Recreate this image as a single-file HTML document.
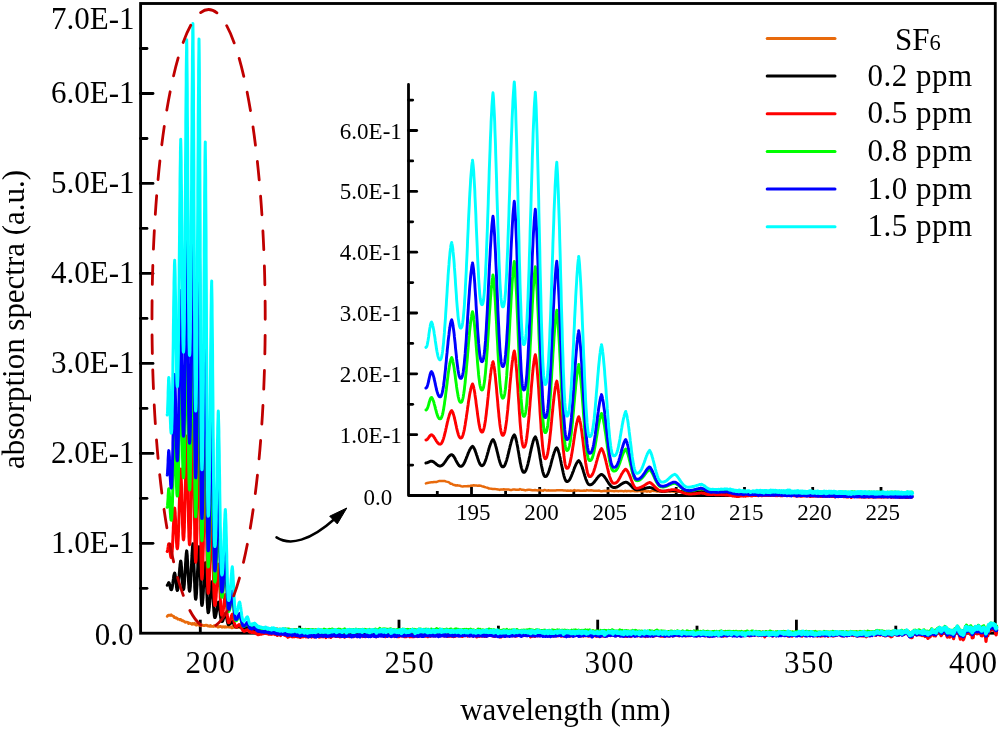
<!DOCTYPE html>
<html lang="en">
<head>
<meta charset="utf-8">
<title>absorption spectra</title>
<style>
html,body{margin:0;padding:0;background:#fff;}
body{width:999px;height:729px;overflow:hidden;}
svg{display:block;}
</style>
</head>
<body>
<svg width="999" height="729" viewBox="0 0 999 729" font-family="'Liberation Serif', serif" fill="#000">
<rect x="0" y="0" width="999" height="729" fill="#fff"/>
<defs><clipPath id="cm"><rect x="140.6" y="3.5" width="858.4" height="729"/></clipPath><clipPath id="ci"><rect x="408.5" y="74.4" width="504.5" height="431.1"/></clipPath></defs>
<g stroke="#000" stroke-width="2.85" fill="none" stroke-linecap="butt">
<rect x="140.6" y="3.5" width="854.7" height="629.7"/>
<path d="M140.6 588.3h6.4" stroke-linecap="round"/>
<path d="M140.6 543.3h12.4" stroke-linecap="round"/>
<path d="M140.6 498.3h6.4" stroke-linecap="round"/>
<path d="M140.6 453.4h12.4" stroke-linecap="round"/>
<path d="M140.6 408.4h6.4" stroke-linecap="round"/>
<path d="M140.6 363.4h12.4" stroke-linecap="round"/>
<path d="M140.6 318.4h6.4" stroke-linecap="round"/>
<path d="M140.6 273.4h12.4" stroke-linecap="round"/>
<path d="M140.6 228.4h6.4" stroke-linecap="round"/>
<path d="M140.6 183.4h12.4" stroke-linecap="round"/>
<path d="M140.6 138.5h6.4" stroke-linecap="round"/>
<path d="M140.6 93.5h12.4" stroke-linecap="round"/>
<path d="M140.6 48.5h6.4" stroke-linecap="round"/>
<path d="M200.3 633.2v-13.5"/>
<path d="M299.7 633.2v-7.5"/>
<path d="M399.0 633.2v-13.5"/>
<path d="M498.4 633.2v-7.5"/>
<path d="M597.7 633.2v-13.5"/>
<path d="M697.0 633.2v-7.5"/>
<path d="M796.4 633.2v-13.5"/>
<path d="M895.8 633.2v-7.5"/>
</g>
<g fill="none" stroke-linejoin="round" stroke-linecap="round" stroke-width="3.0" clip-path="url(#cm)">
<path stroke="#e86a0c" stroke-width="2.7" d="M167.2 616.4L167.6 615.9L168.0 615.4L168.3 615.2L168.7 615.1L169.1 615.3L169.5 615.1L169.9 615.2L170.3 615.5L170.7 615.2L171.1 614.8L171.5 615.2L171.9 615.5L172.3 615.9L172.7 615.8L173.1 616.2L173.5 616.2L173.9 616.4L174.3 617.5L174.7 617.1L175.1 617.8L175.5 617.9L175.9 618.2L176.3 617.7L176.7 618.1L177.1 618.3L177.5 618.9L177.9 619.3L178.3 619.2L178.7 619.2L179.1 619.4L179.5 619.4L179.9 619.9L180.3 619.3L180.7 619.9L181.1 619.6L181.5 620.3L181.9 620.6L182.3 620.9L182.7 620.6L183.1 620.6L183.5 621.1L183.8 621.1L184.2 621.5L184.6 621.7L185.0 621.8L185.4 622.4L185.8 622.3L186.2 622.1L186.6 622.2L187.0 622.0L187.4 622.3L187.8 622.5L188.2 622.7L188.6 623.6L189.0 623.0L189.4 623.4L189.8 623.1L190.2 623.4L190.6 623.5L191.0 623.7L191.4 623.7L191.8 624.3L192.2 624.3L192.6 623.5L193.0 623.8L193.4 624.2L193.8 624.2L194.2 624.3L194.6 623.2L195.0 624.2L195.4 624.4L195.8 624.7L196.2 625.2L196.6 624.5L197.0 624.2L197.4 624.4L197.8 624.6L198.2 625.0L198.6 625.2L198.9 624.8L199.3 625.1L199.7 625.3L200.1 624.5L200.5 625.4L200.9 625.3L201.3 625.9L201.7 624.7L202.1 625.3L202.5 625.3L202.9 625.2L203.3 625.6L203.7 625.6L204.1 625.4L204.5 625.7L204.9 625.4L205.3 625.2L205.7 625.4L206.1 625.2L206.5 625.4L206.9 625.2L207.3 625.7L207.7 625.7L208.1 626.2L208.5 625.9L208.9 626.2L209.3 626.0L209.7 626.3L210.1 626.0L210.5 625.3L210.9 626.4L211.3 626.0L211.7 626.0L212.1 626.5L212.5 626.4L212.9 626.5L213.3 626.2L213.7 626.6L214.1 625.6L214.4 626.1L214.8 626.1L215.2 625.8L215.6 626.0L216.0 626.5L216.4 626.4L216.8 626.5L217.2 626.4L217.6 626.2L218.0 627.2L218.4 627.1L218.8 626.7L219.2 626.5L219.6 626.8L220.0 626.7L220.4 626.3L220.8 626.5L221.2 626.7L221.6 626.8L222.0 627.2L222.4 626.6L222.8 626.8L223.2 627.1L223.6 626.7L224.0 627.0L224.4 627.0L224.8 627.4L225.2 626.6L225.6 627.1L226.0 626.8L226.4 626.8L226.8 627.1L227.2 627.0L227.6 627.0L228.0 627.0L228.4 626.9L228.8 627.2L229.2 626.8L229.5 627.0L229.9 627.4L230.3 626.9L230.7 627.2L231.1 626.9L231.5 627.8L231.9 627.0L232.3 627.8L232.7 627.3L233.1 626.1L233.5 626.9L233.9 626.8L234.3 627.4L234.7 627.5L235.1 627.2L235.5 627.1L235.9 627.2L236.3 627.4L236.7 627.5L237.1 627.4L237.5 626.7L237.9 627.3L238.3 627.4L238.7 627.4L239.1 627.6L239.5 627.7L239.9 627.3L240.3 626.9L240.7 627.2L241.1 627.8L241.5 626.9L241.9 627.3L242.3 626.8L242.7 627.5L243.1 627.9L243.5 627.4L243.9 627.5L244.3 627.9L244.6 627.8L245.0 627.7L245.4 627.8L245.8 627.4L246.2 627.5L246.6 627.8L247.0 627.8L247.4 627.4L247.8 627.6L248.2 628.1L248.6 627.6L249.0 627.2L249.4 627.7L249.8 628.1L250.2 627.3L250.6 627.0L251.0 627.8L251.4 628.6L251.8 628.3L252.2 627.3L252.6 628.0L253.0 627.7L253.4 627.8L253.8 627.9L254.2 627.5L254.6 627.9L255.0 627.8L255.4 627.9L255.8 628.0L256.2 627.3L256.6 628.4L257.0 628.5L257.4 627.8L257.8 628.5L258.2 628.1L258.6 628.5L259.0 627.9L259.4 628.2L259.8 628.0L260.1 628.5L260.5 628.3L260.9 629.0L261.3 628.1L261.7 628.2L262.1 628.4L262.5 628.4L262.9 628.5L263.3 628.5L263.7 627.9L264.1 628.7L264.5 628.6L264.9 628.3L265.3 628.5L265.7 628.7L266.1 628.1L266.5 628.1L266.9 628.7L267.3 628.1L267.7 629.1L268.1 628.2L268.5 629.2L268.9 628.6L269.3 628.8L269.7 628.9L270.1 628.6L270.5 629.1L270.9 629.0L271.3 629.2L271.7 628.4L272.1 629.1L272.5 628.8L272.9 629.0L273.3 628.6L273.7 629.3L274.1 629.2L274.5 629.2L274.9 628.9L275.2 629.3L275.6 628.9L276.0 628.9L276.4 628.8L276.8 628.9L277.2 628.7L277.6 629.3L278.0 629.3L278.4 629.4L278.8 629.4L279.2 629.6L279.6 629.1L280.0 629.2L280.4 629.9L280.8 629.3L281.2 629.5L281.6 629.6L282.0 629.4L282.4 629.0L282.8 629.3L283.2 630.0L283.6 629.3L284.0 629.7L284.4 628.9L284.8 629.6L285.2 629.5L285.6 629.5L286.0 629.7L286.4 629.6L286.8 629.5L287.2 628.8L287.6 629.5L288.0 629.4L288.4 629.5L288.8 629.5L289.2 629.4L289.6 629.1L290.0 630.5L290.4 629.8L290.7 629.9L291.1 629.3L291.5 629.9L291.9 629.3L292.3 629.3L292.7 629.8L293.1 629.5L293.5 629.8L293.9 629.4L294.3 629.6L294.7 629.4L295.1 629.5L295.5 630.1L295.9 629.3L296.3 629.8L296.7 629.5L297.1 629.8L297.5 629.5L297.9 630.2L298.3 629.4L298.7 630.2L299.1 629.9L299.5 629.7L299.9 630.4L300.3 629.8L300.7 629.9L301.1 629.7L301.5 630.0L301.9 630.3L302.3 630.3L302.7 630.2L303.1 630.0L303.5 630.1L303.9 629.8L304.3 629.6L304.7 630.1L305.1 630.2L305.5 629.9L305.8 629.9L306.2 630.8L306.6 630.3L307.0 630.1L307.4 630.0L307.8 630.3L308.2 630.5L308.6 629.5L309.0 631.2L309.4 629.8L309.8 630.4L310.2 630.4L310.6 630.3L311.0 630.2L311.4 630.6L311.8 630.7L312.2 630.2L312.6 629.9L313.0 630.4L313.4 629.7L313.8 630.8L314.2 630.1L314.6 630.3L315.0 630.0L315.4 630.8L315.8 630.2L316.2 630.5L316.6 631.2L317.0 630.6L317.4 631.0L317.8 630.6L318.2 630.3L318.6 630.6L319.0 630.0L319.4 630.4L319.8 630.8L320.2 630.7L320.6 630.5L321.0 630.8L321.3 630.5L321.7 630.5L322.1 630.4L322.5 630.6L322.9 630.6L323.3 631.0L323.7 630.6L324.1 630.8L324.5 630.7L324.9 630.6L325.3 631.0L325.7 630.9L326.1 631.0L326.5 631.2L326.9 631.4L327.3 631.1L327.7 630.7L328.1 631.6L328.5 630.7L328.9 630.7L329.3 630.6L329.7 631.0L330.1 631.0L330.5 630.6L330.9 630.7L331.3 630.4L331.7 631.1L332.1 631.1L332.5 630.7L332.9 631.1L333.3 631.1L333.7 630.6L334.1 630.8L334.5 631.2L334.9 630.9L335.3 631.1L335.7 630.8L336.1 631.0L336.4 631.4L336.8 630.6L337.2 631.2L337.6 631.2L338.0 631.4L338.4 631.2L338.8 631.3L339.2 631.1L339.6 631.1L340.0 630.9L340.4 631.0L340.8 631.4L341.2 631.5L341.6 631.6L342.0 631.0L342.4 631.6L342.8 630.9L343.2 631.3L343.6 631.4L344.0 631.3L344.4 630.8L344.8 631.4L345.2 631.5L345.6 631.8L346.0 632.0L346.4 631.7L346.8 631.1L347.2 631.3L347.6 631.7L348.0 632.3L348.4 631.2L348.8 631.4L349.2 632.2L349.6 631.6L350.0 631.9L350.4 631.3L350.8 631.4L351.2 631.8L351.6 632.3L351.9 631.8L352.3 630.9L352.7 631.5L353.1 631.9L353.5 631.4L353.9 631.9L354.3 631.2L354.7 632.3L355.1 631.9L355.5 631.3L355.9 631.4L356.3 631.6L356.7 632.3L357.1 631.8L357.5 631.7L357.9 632.0L358.3 631.9L358.7 631.6L359.1 632.0L359.5 631.8L359.9 632.0L360.3 632.3L360.7 632.4L361.1 632.2L361.5 632.2L361.9 631.6L362.3 631.9L362.7 632.5L363.1 631.5L363.5 631.2L363.9 632.1L364.3 631.8L364.7 632.0L365.1 631.7L365.5 631.9L365.9 631.8L366.3 632.0L366.7 632.2L367.0 632.1L367.4 632.2L367.8 632.2L368.2 632.1L368.6 631.2L369.0 631.7L369.4 631.4L369.8 632.4L370.2 632.1L370.6 631.7L371.0 631.6L371.4 631.8L371.8 632.1L372.2 632.4L372.6 631.9L373.0 632.5L373.4 631.9L373.8 632.2L374.2 632.2L374.6 632.2L375.0 632.5L375.4 632.4L375.8 631.9L376.2 632.2L376.6 632.3L377.0 631.7L377.4 631.8L377.8 631.9L378.2 632.5L378.6 631.7L379.0 631.8L379.4 632.3L379.8 632.2L380.2 631.7L380.6 631.6L381.0 632.1L381.4 632.4L381.8 631.6L382.2 632.2L382.5 631.7L382.9 632.0L383.3 632.0L383.7 632.1L384.1 631.5L384.5 632.1L384.9 632.0L385.3 632.2L385.7 631.4L386.1 632.0L386.5 632.3L386.9 632.0L387.3 632.5L387.7 632.1L388.1 632.4L388.5 631.6L388.9 631.5L389.3 631.3L389.7 632.1L390.1 632.3L390.5 632.7L390.9 631.9L391.3 632.2L391.7 631.6L392.1 631.3L392.5 632.4L392.9 632.0L393.3 631.5L393.7 632.5L394.1 632.4L394.5 631.7L394.9 631.9L395.3 632.6L395.7 631.9L396.1 632.1L396.5 632.0L396.9 631.9L397.3 631.5L397.6 631.7L398.0 632.3L398.4 631.6L398.8 631.8L399.2 631.9L399.6 632.2L400.0 632.3L400.4 632.0L400.8 631.6L401.2 631.9L401.6 632.0L402.0 631.9L402.4 631.9L402.8 632.1L403.2 632.0L403.6 632.6L404.0 632.0L404.4 631.7L404.8 632.0L405.2 631.6L405.6 631.5L406.0 632.1L406.4 632.4L406.8 632.0L407.2 632.5L407.6 631.8L408.0 632.1L408.4 631.8L408.8 632.1L409.2 632.3L409.6 631.5L410.0 632.1L410.4 632.0L410.8 632.0L411.2 632.2L411.6 632.2L412.0 632.5L412.4 632.1L412.8 631.9L413.1 632.3L413.5 632.6L413.9 632.2L414.3 631.9L414.7 631.8L415.1 632.0L415.5 632.3L415.9 631.9L416.3 632.1L416.7 631.8L417.1 631.9L417.5 632.4L417.9 632.0L418.3 632.0L418.7 631.7L419.1 631.5L419.5 632.5L419.9 632.2L420.3 632.2L420.7 632.2L421.1 632.2L421.5 631.6L421.9 631.9L422.3 632.1L422.7 631.9L423.1 632.0L423.5 632.2L423.9 632.1L424.3 631.9L424.7 631.7L425.1 632.4L425.5 632.0L425.9 632.0L426.3 631.9L426.7 632.2L427.1 632.2L427.5 632.6L427.9 632.4L428.2 632.3L428.6 632.3L429.0 632.0L429.4 632.2L429.8 632.2L430.2 632.3L430.6 632.1L431.0 632.5L431.4 631.6L431.8 632.5L432.2 632.3L432.6 632.1L433.0 632.1L433.4 632.0L433.8 632.7L434.2 632.1L434.6 632.5L435.0 631.7L435.4 632.7L435.8 632.1L436.2 631.9L436.6 632.1L437.0 632.1L437.4 632.1L437.8 632.0L438.2 631.8L438.6 632.1L439.0 631.7L439.4 632.1L439.8 631.8L440.2 632.5L440.6 631.6L441.0 631.9L441.4 631.9L441.8 631.6L442.2 632.4L442.6 632.4L443.0 632.9L443.3 631.8L443.7 631.9L444.1 631.5L444.5 632.1L444.9 632.0L445.3 632.1L445.7 632.0L446.1 632.0L446.5 632.3L446.9 632.3L447.3 632.2L447.7 632.5L448.1 631.7L448.5 632.4L448.9 632.2L449.3 632.1L449.7 632.3L450.1 631.7L450.5 632.0L450.9 631.8L451.3 632.6L451.7 632.4L452.1 632.8L452.5 631.8L452.9 632.3L453.3 631.9L453.7 631.8L454.1 632.6L454.5 631.9L454.9 632.2L455.3 632.0L455.7 632.1L456.1 632.0L456.5 632.2L456.9 632.6L457.3 632.4L457.7 632.2L458.1 632.2L458.5 632.5L458.8 632.3L459.2 632.1L459.6 631.8L460.0 632.2L460.4 632.4L460.8 632.1L461.2 632.5L461.6 632.0L462.0 632.6L462.4 631.9L462.8 632.4L463.2 631.8L463.6 632.2L464.0 632.3L464.4 632.1L464.8 632.3L465.2 632.2L465.6 631.6L466.0 632.0L466.4 632.0L466.8 632.8L467.2 631.8L467.6 631.9L468.0 632.2L468.4 632.5L468.8 632.6L469.2 632.4L469.6 632.2L470.0 632.1L470.4 632.1L470.8 632.1L471.2 632.1L471.6 632.2L472.0 632.6L472.4 631.5L472.8 631.9L473.2 631.8L473.6 632.2L473.9 632.6L474.3 631.7L474.7 632.4L475.1 632.6L475.5 632.0L475.9 631.7L476.3 632.3L476.7 632.1L477.1 631.9L477.5 632.1L477.9 632.2L478.3 631.9L478.7 631.9L479.1 632.3L479.5 632.1L479.9 632.0L480.3 631.9L480.7 632.1L481.1 632.3L481.5 632.1L481.9 632.5L482.3 632.2L482.7 631.8L483.1 632.1L483.5 632.1L483.9 632.0L484.3 632.2L484.7 632.5L485.1 632.4L485.5 631.9L485.9 632.2L486.3 632.6L486.7 631.7L487.1 632.4L487.5 632.6L487.9 631.5L488.3 632.0L488.7 632.2L489.1 632.0L489.4 632.0L489.8 632.4L490.2 632.0L490.6 632.4L491.0 632.4L491.4 632.7L491.8 632.2L492.2 631.5L492.6 632.6L493.0 632.4L493.4 632.0L493.8 631.6L494.2 632.2L494.6 632.1L495.0 632.3L495.4 632.3L495.8 631.9L496.2 632.3L496.6 631.9L497.0 631.9L497.4 632.3L497.8 632.5L498.2 632.2L498.6 632.6L499.0 632.4L499.4 632.2L499.8 632.1L500.2 632.2L500.6 632.8L501.0 632.3L501.4 632.0L501.8 631.9L502.2 632.0L502.6 632.9L503.0 632.6L503.4 632.4L503.8 632.6L504.2 632.8L504.5 632.6L504.9 632.1L505.3 632.3L505.7 632.1L506.1 632.1L506.5 631.6L506.9 632.2L507.3 631.9L507.7 632.3L508.1 632.2L508.5 632.7L508.9 632.4L509.3 632.5L509.7 632.0L510.1 632.3L510.5 632.2L510.9 632.2L511.3 632.1L511.7 632.8L512.1 631.9L512.5 632.7L512.9 632.2L513.3 631.9L513.7 632.4L514.1 631.6L514.5 632.0L514.9 632.2L515.3 632.5L515.7 632.6L516.1 632.1L516.5 632.2L516.9 632.1L517.3 632.1L517.7 632.3L518.1 632.3L518.5 632.1L518.9 632.6L519.3 632.4L519.7 632.5L520.0 632.2L520.4 632.4L520.8 632.1L521.2 632.4L521.6 632.7L522.0 632.3L522.4 632.4L522.8 632.6L523.2 632.3L523.6 632.4L524.0 632.6L524.4 632.3L524.8 632.4L525.2 632.4L525.6 632.3L526.0 632.4L526.4 632.2L526.8 632.2L527.2 632.1L527.6 632.3L528.0 632.3L528.4 632.4L528.8 632.4L529.2 632.4L529.6 632.7L530.0 632.6L530.4 632.5L530.8 632.6L531.2 632.3L531.6 632.3L532.0 632.1L532.4 632.2L532.8 632.8L533.2 632.1L533.6 632.1L534.0 632.2L534.4 632.6L534.8 632.3L535.1 632.1L535.5 632.2L535.9 632.2L536.3 632.3L536.7 632.1L537.1 632.5L537.5 632.3L537.9 632.5L538.3 632.3L538.7 632.9L539.1 631.9L539.5 632.2L539.9 631.8L540.3 632.6L540.7 631.9L541.1 631.9L541.5 632.3L541.9 632.5L542.3 632.5L542.7 632.7L543.1 632.1L543.5 631.7L543.9 632.2L544.3 632.4L544.7 632.7L545.1 632.2L545.5 631.9L545.9 632.3L546.3 632.0L546.7 632.4L547.1 633.0L547.5 632.3L547.9 631.8L548.3 632.9L548.7 631.2L549.1 631.6L549.5 632.5L549.9 632.1L550.3 632.1L550.6 631.8L551.0 632.6L551.4 632.5L551.8 632.7L552.2 632.3L552.6 632.5L553.0 632.4L553.4 632.4L553.8 632.6L554.2 631.5L554.6 632.2L555.0 631.9L555.4 632.0L555.8 632.3L556.2 632.7L556.6 632.5L557.0 632.5L557.4 632.2L557.8 631.7L558.2 632.3L558.6 632.9L559.0 632.4L559.4 632.3L559.8 632.2L560.2 633.1L560.6 632.5L561.0 631.9L561.4 631.9L561.8 631.7L562.2 632.4L562.6 632.4L563.0 632.5L563.4 632.8L563.8 632.7L564.2 632.2L564.6 631.9L565.0 632.5L565.4 633.2L565.7 632.2L566.1 632.7L566.5 632.8L566.9 632.8L567.3 632.5L567.7 632.3L568.1 632.7L568.5 632.6L568.9 632.3L569.3 632.6L569.7 632.8L570.1 632.5L570.5 632.3L570.9 632.5L571.3 632.8L571.7 632.5L572.1 632.5L572.5 632.0L572.9 632.7L573.3 632.3L573.7 632.5L574.1 632.4L574.5 632.0L574.9 631.5L575.3 632.3L575.7 632.3L576.1 632.2L576.5 632.3L576.9 632.6L577.3 632.8L577.7 632.6L578.1 632.3L578.5 632.3L578.9 632.6L579.3 633.0L579.7 632.3L580.1 632.5L580.5 632.5L580.9 632.1L581.2 631.7L581.6 632.2L582.0 632.0L582.4 633.1L582.8 631.9L583.2 632.7L583.6 632.5L584.0 631.9L584.4 632.4L584.8 632.4L585.2 631.6L585.6 632.0L586.0 631.8L586.4 632.0L586.8 632.6L587.2 632.2L587.6 632.8L588.0 631.9L588.4 632.5L588.8 632.5L589.2 632.3L589.6 632.6L590.0 632.2L590.4 632.7L590.8 632.1L591.2 632.7L591.6 633.0L592.0 631.6L592.4 632.0L592.8 632.4L593.2 632.8L593.6 632.5L594.0 632.5L594.4 632.6L594.8 632.1L595.2 632.5L595.6 632.0L596.0 632.4L596.3 631.8L596.7 632.8L597.1 632.4L597.5 632.3L597.9 632.8L598.3 632.6L598.7 632.6L599.1 632.2L599.5 632.4L599.9 632.3L600.3 632.8L600.7 632.3L601.1 633.0L601.5 632.2L601.9 632.9L602.3 632.2L602.7 632.4L603.1 632.8L603.5 632.6L603.9 632.4L604.3 632.6L604.7 633.0L605.1 631.8L605.5 632.5L605.9 632.0L606.3 632.5L606.7 633.3L607.1 632.1L607.5 632.5L607.9 632.5L608.3 632.1L608.7 632.7L609.1 632.2L609.5 632.7L609.9 632.7L610.3 632.7L610.7 632.9L611.1 632.8L611.5 632.8L611.8 632.1L612.2 632.3L612.6 632.5L613.0 632.1L613.4 632.8L613.8 632.5L614.2 632.4L614.6 632.6L615.0 632.4L615.4 632.3L615.8 632.1L616.2 632.9L616.6 632.9L617.0 632.8L617.4 632.8L617.8 632.5L618.2 632.4L618.6 632.5L619.0 632.3L619.4 632.6L619.8 632.6L620.2 632.6L620.6 632.6L621.0 632.2L621.4 632.3L621.8 632.1L622.2 632.5L622.6 632.6L623.0 632.7L623.4 632.9L623.8 632.3L624.2 632.0L624.6 632.7L625.0 632.3L625.4 632.7L625.8 632.4L626.2 632.4L626.6 632.5L626.9 632.4L627.3 632.4L627.7 632.1L628.1 632.6L628.5 632.3L628.9 633.0L629.3 632.1L629.7 632.8L630.1 632.6L630.5 632.0L630.9 632.4L631.3 631.9L631.7 632.5L632.1 632.2L632.5 632.8L632.9 632.0L633.3 632.4L633.7 632.6L634.1 632.0L634.5 632.1L634.9 632.2L635.3 632.2L635.7 632.5L636.1 632.6L636.5 632.3L636.9 632.9L637.3 632.8L637.7 632.6L638.1 632.0L638.5 632.2L638.9 632.4L639.3 632.8L639.7 632.2L640.1 631.9L640.5 632.9L640.9 632.6L641.3 632.4L641.7 632.1L642.0 632.9L642.4 632.3L642.8 632.9L643.2 632.6L643.6 632.6L644.0 632.7L644.4 632.5L644.8 632.6L645.2 633.0L645.6 632.6L646.0 631.9L646.4 632.3L646.8 632.3L647.2 632.3L647.6 632.2L648.0 632.7L648.4 632.3L648.8 632.3L649.2 632.5L649.6 632.2L650.0 632.6L650.4 632.5L650.8 632.1L651.2 632.8L651.6 632.3L652.0 632.0L652.4 632.3L652.8 632.2L653.2 632.4L653.6 632.5L654.0 632.0L654.4 632.4L654.8 632.5L655.2 632.1L655.6 632.3L656.0 632.3L656.4 631.9L656.8 632.1L657.2 633.0L657.5 631.6L657.9 632.5L658.3 632.4L658.7 632.0L659.1 632.1L659.5 632.1L659.9 632.5L660.3 632.8L660.7 632.1L661.1 632.4L661.5 633.0L661.9 632.1L662.3 632.3L662.7 632.6L663.1 632.8L663.5 632.1L663.9 631.9L664.3 632.2L664.7 632.0L665.1 632.7L665.5 632.1L665.9 632.1L666.3 632.0L666.7 631.9L667.1 632.4L667.5 632.3L667.9 632.6L668.3 632.3L668.7 632.3L669.1 632.6L669.5 632.2L669.9 632.2L670.3 632.8L670.7 632.3L671.1 632.1L671.5 632.5L671.9 632.3L672.3 632.5L672.6 633.1L673.0 632.3L673.4 632.2L673.8 632.8L674.2 631.4L674.6 631.8L675.0 632.7L675.4 632.0L675.8 632.3L676.2 632.3L676.6 632.9L677.0 632.1L677.4 632.4L677.8 632.7L678.2 632.4L678.6 632.0L679.0 632.6L679.4 632.3L679.8 632.3L680.2 632.3L680.6 631.9L681.0 632.1L681.4 631.9L681.8 632.6L682.2 632.6L682.6 632.7L683.0 632.5L683.4 632.1L683.8 632.9L684.2 632.1L684.6 632.1L685.0 632.5L685.4 632.5L685.8 631.9L686.2 631.7L686.6 632.8L687.0 631.8L687.4 632.5L687.8 632.2L688.1 632.7L688.5 632.5L688.9 632.6L689.3 632.2L689.7 632.4L690.1 632.3L690.5 633.0L690.9 632.2L691.3 632.6L691.7 632.5L692.1 632.4L692.5 632.1L692.9 632.7L693.3 632.2L693.7 632.2L694.1 632.7L694.5 632.2L694.9 632.5L695.3 632.2L695.7 632.9L696.1 632.5L696.5 632.7L696.9 632.3L697.3 633.0L697.7 631.9L698.1 632.4L698.5 632.9L698.9 631.9L699.3 632.2L699.7 632.8L700.1 632.2L700.5 632.5L700.9 632.4L701.3 632.9L701.7 632.5L702.1 632.2L702.5 632.0L702.9 632.4L703.2 632.4L703.6 632.1L704.0 632.3L704.4 632.4L704.8 632.2L705.2 632.7L705.6 631.9L706.0 632.8L706.4 632.4L706.8 632.2L707.2 632.5L707.6 632.0L708.0 632.7L708.4 632.5L708.8 633.1L709.2 632.2L709.6 632.1L710.0 632.8L710.4 632.5L710.8 632.2L711.2 632.4L711.6 632.5L712.0 631.9L712.4 632.3L712.8 632.7L713.2 632.1L713.6 632.3L714.0 633.0L714.4 632.6L714.8 632.8L715.2 632.6L715.6 632.3L716.0 632.9L716.4 632.4L716.8 632.4L717.2 632.5L717.6 632.7L718.0 632.8L718.4 632.5L718.7 632.4L719.1 632.6L719.5 632.3L719.9 632.5L720.3 632.1L720.7 633.0L721.1 632.0L721.5 632.3L721.9 632.3L722.3 632.6L722.7 632.0L723.1 631.8L723.5 632.2L723.9 631.4L724.3 632.8L724.7 631.8L725.1 632.5L725.5 632.4L725.9 632.4L726.3 632.0L726.7 632.2L727.1 632.4L727.5 632.5L727.9 632.3L728.3 632.0L728.7 632.5L729.1 632.6L729.5 632.2L729.9 632.1L730.3 632.1L730.7 632.7L731.1 632.9L731.5 632.0L731.9 632.9L732.3 632.6L732.7 632.2L733.1 632.0L733.5 632.1L733.8 632.5L734.2 632.5L734.6 632.5L735.0 633.0L735.4 632.0L735.8 632.3L736.2 632.3L736.6 632.9L737.0 632.4L737.4 632.1L737.8 632.2L738.2 632.3L738.6 633.0L739.0 632.7L739.4 632.7L739.8 632.0L740.2 631.9L740.6 632.6L741.0 632.3L741.4 632.1L741.8 632.4L742.2 632.4L742.6 632.7L743.0 632.4L743.4 632.2L743.8 632.0L744.2 632.5L744.6 632.2L745.0 632.2L745.4 632.8L745.8 632.4L746.2 632.4L746.6 632.3L747.0 632.7L747.4 633.1L747.8 632.4L748.2 633.1L748.6 632.5L749.0 632.4L749.3 632.5L749.7 632.2L750.1 632.6L750.5 632.8L750.9 632.5L751.3 632.5L751.7 632.5L752.1 632.9L752.5 632.5L752.9 632.5L753.3 631.9L753.7 632.7L754.1 632.4L754.5 632.3L754.9 632.2L755.3 632.6L755.7 632.1L756.1 632.0L756.5 632.6L756.9 632.3L757.3 632.2L757.7 632.3L758.1 632.4L758.5 631.9L758.9 632.6L759.3 632.3L759.7 632.6L760.1 632.2L760.5 632.7L760.9 632.6L761.3 632.3L761.7 632.7L762.1 632.0L762.5 632.5L762.9 631.6L763.3 632.3L763.7 633.0L764.1 632.6L764.4 632.9L764.8 632.4L765.2 632.2L765.6 632.0L766.0 632.2L766.4 632.2L766.8 632.6L767.2 632.6L767.6 632.5L768.0 632.8L768.4 633.0L768.8 632.5L769.2 632.8L769.6 632.1L770.0 632.6L770.4 631.9L770.8 632.6L771.2 632.5L771.6 632.9L772.0 632.7L772.4 632.2L772.8 632.7L773.2 632.0L773.6 632.3L774.0 632.6L774.4 632.7L774.8 632.4L775.2 632.5L775.6 632.2L776.0 632.2L776.4 632.7L776.8 632.3L777.2 632.6L777.6 632.4L778.0 632.8L778.4 632.1L778.8 632.5L779.2 632.4L779.6 632.3L779.9 632.3L780.3 632.9L780.7 632.0L781.1 632.4L781.5 632.5L781.9 632.7L782.3 632.2L782.7 632.2L783.1 632.7L783.5 632.6L783.9 632.4L784.3 632.4L784.7 632.7L785.1 632.3L785.5 631.9L785.9 632.7L786.3 632.1L786.7 632.6L787.1 632.5L787.5 632.9L787.9 632.2L788.3 632.6L788.7 632.5L789.1 632.7L789.5 632.6L789.9 632.3L790.3 632.2L790.7 632.3L791.1 633.1L791.5 632.7L791.9 632.1L792.3 631.8L792.7 632.3L793.1 632.9L793.5 632.8L793.9 632.4L794.3 632.9L794.7 632.7L795.0 632.4L795.4 632.4L795.8 632.0L796.2 632.8L796.6 632.2L797.0 632.6L797.4 632.6L797.8 631.8L798.2 632.2L798.6 632.7L799.0 632.6L799.4 632.3L799.8 632.3L800.2 632.2L800.6 632.5L801.0 632.2L801.4 632.8L801.8 632.7L802.2 632.7L802.6 632.5L803.0 632.4L803.4 632.1L803.8 632.2L804.2 632.1L804.6 632.1L805.0 632.0L805.4 632.4L805.8 632.5L806.2 632.3L806.6 632.2L807.0 632.2L807.4 631.7L807.8 632.5L808.2 632.4L808.6 632.7L809.0 632.0L809.4 632.2L809.8 632.6L810.2 632.2L810.5 632.5L810.9 632.4L811.3 631.9L811.7 632.7L812.1 632.6L812.5 632.1L812.9 632.1L813.3 632.3L813.7 631.7L814.1 632.0L814.5 632.5L814.9 632.5L815.3 632.5L815.7 632.1L816.1 632.2L816.5 632.8L816.9 632.1L817.3 632.1L817.7 632.5L818.1 632.6L818.5 633.2L818.9 632.4L819.3 632.3L819.7 632.0L820.1 632.0L820.5 632.9L820.9 632.6L821.3 632.2L821.7 632.4L822.1 632.7L822.5 632.6L822.9 632.8L823.3 632.3L823.7 632.9L824.1 632.6L824.5 633.0L824.9 632.5L825.3 632.8L825.6 631.9L826.0 632.8L826.4 632.6L826.8 632.9L827.2 632.4L827.6 632.9L828.0 632.3L828.4 632.4L828.8 632.4L829.2 632.7L829.6 632.3L830.0 632.3L830.4 632.4L830.8 632.4L831.2 632.5L831.6 632.5L832.0 632.5L832.4 632.2L832.8 632.1L833.2 632.5L833.6 632.9L834.0 632.7L834.4 632.2L834.8 632.5L835.2 632.5L835.6 632.7L836.0 632.2L836.4 632.0L836.8 632.4L837.2 632.9L837.6 632.4L838.0 632.0L838.4 632.0L838.8 632.6L839.2 632.6L839.6 631.8L840.0 632.3L840.4 633.0L840.7 633.2L841.1 632.2L841.5 632.4L841.9 632.7L842.3 632.7L842.7 632.3L843.1 632.7L843.5 632.5L843.9 632.4L844.3 632.3L844.7 632.5L845.1 633.0L845.5 632.3L845.9 632.4L846.3 632.2L846.7 632.5L847.1 632.5L847.5 633.3L847.9 632.4L848.3 632.5L848.7 631.9L849.1 632.7L849.5 632.4L849.9 633.3L850.3 632.4L850.7 632.1L851.1 632.1L851.5 632.5L851.9 632.3L852.3 632.7L852.7 631.8L853.1 632.7L853.5 632.3L853.9 632.3L854.3 632.4L854.7 633.0L855.1 632.7L855.5 632.1L855.9 632.4L856.2 632.6L856.6 631.9L857.0 632.5L857.4 632.4L857.8 632.0L858.2 631.9L858.6 633.0L859.0 632.6L859.4 632.3L859.8 632.7L860.2 632.7L860.6 632.2L861.0 632.6L861.4 632.4L861.8 632.6L862.2 632.2L862.6 632.7L863.0 632.0L863.4 632.5L863.8 632.4L864.2 633.0L864.6 632.8L865.0 631.9L865.4 632.6L865.8 632.3L866.2 632.5L866.6 632.3L867.0 632.7L867.4 632.5L867.8 632.1L868.2 632.0L868.6 632.6L869.0 632.5L869.4 632.7L869.8 632.5L870.2 632.6L870.6 632.9L871.0 632.2L871.3 632.0L871.7 632.4L872.1 632.7L872.5 632.5L872.9 632.1L873.3 632.1L873.7 632.5L874.1 632.5L874.5 632.6L874.9 632.2L875.3 632.0L875.7 632.7L876.1 632.5L876.5 632.1L876.9 632.5L877.3 632.3L877.7 632.4L878.1 632.2L878.5 632.2L878.9 632.0L879.3 631.9L879.7 632.2L880.1 632.4L880.5 632.6L880.9 632.7L881.3 632.1L881.7 632.2L882.1 632.4L882.5 632.4L882.9 632.7L883.3 632.3L883.7 632.9L884.1 632.5L884.5 632.3L884.9 632.7L885.3 632.0L885.7 632.5L886.1 632.6L886.5 632.4L886.8 632.1L887.2 632.0L887.6 632.4L888.0 632.3L888.4 632.5L888.8 631.9L889.2 632.2L889.6 632.6L890.0 633.0L890.4 633.2L890.8 632.3L891.2 632.3L891.6 632.6L892.0 632.5L892.4 632.3L892.8 632.8L893.2 632.5L893.6 632.8L894.0 632.5L894.4 631.8L894.8 632.7L895.2 632.4L895.6 632.3L896.0 631.8L896.4 631.9L896.8 632.4L897.2 631.6L897.6 632.4L898.0 632.4L898.4 632.6L898.8 632.4L899.2 632.5L899.6 632.1L900.0 632.4L900.4 632.4L900.8 631.7L901.2 632.2L901.6 632.7L901.9 632.2L902.3 632.1L902.7 632.2L903.1 632.3L903.5 633.1L903.9 632.4L904.3 631.5L904.7 632.4L905.1 632.7L905.5 632.2L905.9 632.2L906.3 632.4L906.7 632.2L907.1 632.9L907.5 632.8L907.9 632.9L908.3 632.4L908.7 631.7L909.1 633.1L909.5 632.8L909.9 632.5L910.3 632.7L910.7 633.0L911.1 632.7L911.5 632.8L911.9 632.9L912.3 632.6L912.7 632.3L913.1 632.5L913.5 632.1L913.9 632.5L914.3 632.8L914.7 632.9L915.1 632.0L915.5 632.2L915.9 632.6L916.3 632.8L916.7 632.9L917.1 632.5L917.4 632.8L917.8 632.3L918.2 632.1L918.6 632.9L919.0 632.9L919.4 633.0L919.8 632.7L920.2 632.8L920.6 632.7L921.0 632.6L921.4 632.4L921.8 633.0L922.2 632.5L922.6 632.4L923.0 632.6L923.4 632.2L923.8 632.1L924.2 632.8L924.6 632.6L925.0 632.9L925.4 632.8L925.8 632.5L926.2 632.1L926.6 632.3L927.0 632.4L927.4 632.6L927.8 632.7L928.2 632.4L928.6 632.4L929.0 632.2L929.4 632.4L929.8 631.9L930.2 632.4L930.6 631.7L931.0 631.6L931.4 632.2L931.8 632.1L932.2 633.0L932.5 632.4L932.9 632.4L933.3 632.4L933.7 632.8L934.1 632.1L934.5 631.8L934.9 632.5L935.3 632.2L935.7 632.3L936.1 632.9L936.5 632.3L936.9 632.2L937.3 632.8L937.7 632.7L938.1 632.3L938.5 632.6L938.9 632.2L939.3 632.5L939.7 632.2L940.1 632.0L940.5 632.7L940.9 632.6L941.3 632.9L941.7 632.6L942.1 632.7L942.5 632.6L942.9 632.5L943.3 632.3L943.7 632.2L944.1 632.2L944.5 631.9L944.9 632.1L945.3 632.0L945.7 632.3L946.1 633.0L946.5 632.4L946.9 632.6L947.3 632.7L947.7 632.3L948.0 632.0L948.4 632.2L948.8 632.2L949.2 632.0L949.6 632.8L950.0 631.7L950.4 632.7L950.8 632.5L951.2 632.4L951.6 632.5L952.0 633.0L952.4 632.1L952.8 632.2L953.2 632.3L953.6 632.6L954.0 632.5L954.4 632.2L954.8 632.3L955.2 632.5L955.6 632.2L956.0 632.2L956.4 632.8L956.8 632.3L957.2 632.3L957.6 632.4L958.0 632.5L958.4 632.0L958.8 632.2L959.2 632.3L959.6 631.5L960.0 632.6L960.4 633.1L960.8 632.7L961.2 632.4L961.6 631.8L962.0 632.4L962.4 633.2L962.8 632.3L963.1 632.0L963.5 631.9L963.9 632.6L964.3 632.7L964.7 632.6L965.1 631.9L965.5 632.8L965.9 632.1L966.3 631.9L966.7 632.6L967.1 631.9L967.5 632.4L967.9 632.0L968.3 632.2L968.7 632.4L969.1 632.6L969.5 632.4L969.9 632.4L970.3 632.4L970.7 632.5L971.1 632.2L971.5 632.4L971.9 632.5L972.3 632.5L972.7 632.4L973.1 632.0L973.5 632.3L973.9 632.4L974.3 632.8L974.7 632.4L975.1 632.4L975.5 632.6L975.9 632.3L976.3 632.5L976.7 632.9L977.1 632.7L977.5 632.2L977.9 632.1L978.3 632.4L978.6 631.7L979.0 632.2L979.4 631.9L979.8 632.2L980.2 632.8L980.6 632.6L981.0 632.3L981.4 632.1L981.8 632.6L982.2 632.2L982.6 632.5L983.0 632.6L983.4 632.1L983.8 632.0L984.2 631.8L984.6 632.0L985.0 632.5L985.4 632.5L985.8 632.1L986.2 632.6L986.6 632.1L987.0 632.1"/>
<path stroke="#000000" d="M167.2 585.3L167.2 585.3L167.3 585.3L167.4 585.2L167.5 585.1L167.6 585.0L167.6 584.8L167.7 584.6L167.8 584.5L167.9 584.3L168.0 584.1L168.1 583.9L168.1 583.6L168.2 583.5L168.3 583.3L168.4 583.1L168.5 583.0L168.5 582.8L168.6 582.7L168.7 582.7L168.8 582.6L168.9 582.7L168.9 582.8L169.0 582.9L169.1 583.1L169.2 583.2L169.3 583.5L169.4 583.7L169.4 584.0L169.5 584.3L169.6 584.6L169.7 584.9L169.8 585.2L169.8 585.6L169.9 585.9L170.0 586.3L170.1 586.6L170.2 587.0L170.2 587.3L170.3 587.6L170.4 588.0L170.5 588.3L170.6 588.5L170.6 588.8L170.7 589.0L170.8 589.2L170.9 589.4L171.0 589.6L171.0 589.7L171.1 589.8L171.2 589.8L171.3 589.8L171.4 589.8L171.4 589.7L171.5 589.7L171.6 589.5L171.7 589.3L171.8 589.1L171.8 588.9L171.9 588.6L172.0 588.3L172.1 587.9L172.2 587.5L172.2 587.1L172.3 586.7L172.4 586.2L172.5 585.7L172.5 585.2L172.6 584.6L172.7 584.1L172.8 583.5L172.9 582.9L172.9 582.3L173.0 581.7L173.1 581.1L173.2 580.5L173.3 579.9L173.3 579.3L173.4 578.8L173.5 578.2L173.6 577.7L173.6 577.1L173.7 576.6L173.8 576.2L173.9 575.7L174.0 575.3L174.0 574.9L174.1 574.5L174.2 574.2L174.3 573.9L174.4 573.7L174.4 573.5L174.5 573.3L174.6 573.1L174.7 573.1L174.7 573.2L174.8 573.4L174.9 573.7L175.0 574.1L175.1 574.5L175.2 575.0L175.2 575.5L175.3 576.1L175.4 576.7L175.5 577.4L175.6 578.1L175.6 578.9L175.7 579.6L175.8 580.4L175.9 581.2L176.0 582.0L176.0 582.8L176.1 583.6L176.2 584.4L176.3 585.1L176.4 585.9L176.4 586.6L176.5 587.2L176.6 587.8L176.7 588.3L176.8 588.8L176.8 589.3L176.9 589.6L177.0 589.9L177.1 590.2L177.2 590.3L177.2 590.4L177.3 590.4L177.4 590.4L177.5 590.3L177.6 590.2L177.6 589.9L177.7 589.6L177.8 589.3L177.9 588.9L178.0 588.4L178.0 587.8L178.1 587.2L178.2 586.5L178.3 585.8L178.4 585.0L178.4 584.2L178.5 583.3L178.6 582.4L178.7 581.5L178.8 580.5L178.8 579.5L178.9 578.5L179.0 577.4L179.1 576.4L179.2 575.4L179.2 574.3L179.3 573.3L179.4 572.2L179.5 571.2L179.6 570.2L179.6 569.3L179.7 568.4L179.8 567.5L179.9 566.6L180.0 565.8L180.0 565.0L180.1 564.3L180.2 563.7L180.3 563.1L180.4 562.5L180.4 562.1L180.5 561.7L180.6 561.3L180.7 561.1L180.7 560.9L180.8 561.1L180.9 561.5L181.0 562.0L181.1 562.6L181.2 563.3L181.2 564.0L181.3 564.9L181.4 565.8L181.5 566.8L181.6 567.9L181.6 569.0L181.7 570.2L181.8 571.4L181.9 572.7L182.0 573.9L182.0 575.2L182.1 576.5L182.2 577.7L182.3 579.0L182.4 580.2L182.4 581.3L182.5 582.4L182.6 583.5L182.7 584.5L182.8 585.4L182.8 586.2L182.9 586.9L183.0 587.6L183.1 588.1L183.2 588.6L183.2 588.9L183.3 589.2L183.4 589.3L183.5 589.4L183.6 589.3L183.6 589.2L183.7 589.0L183.8 588.7L183.9 588.3L184.0 587.8L184.0 587.2L184.1 586.5L184.2 585.7L184.3 584.8L184.4 583.9L184.4 582.9L184.5 581.8L184.6 580.7L184.7 579.5L184.7 578.2L184.8 576.9L184.9 575.6L185.0 574.2L185.1 572.8L185.1 571.4L185.2 569.9L185.3 568.5L185.4 567.1L185.5 565.7L185.5 564.3L185.6 563.0L185.7 561.7L185.8 560.4L185.8 559.2L185.9 558.1L186.0 557.0L186.1 556.0L186.2 555.0L186.2 554.2L186.3 553.4L186.4 552.7L186.5 552.1L186.6 551.6L186.6 551.1L186.7 550.8L186.8 551.2L186.9 551.8L186.9 552.4L187.0 553.2L187.1 554.1L187.2 555.2L187.3 556.3L187.3 557.5L187.4 558.8L187.5 560.3L187.6 561.7L187.7 563.3L187.7 564.9L187.8 566.5L187.9 568.2L188.0 569.8L188.1 571.5L188.1 573.2L188.2 574.9L188.3 576.5L188.4 578.1L188.5 579.7L188.5 581.1L188.6 582.6L188.7 583.9L188.8 585.1L188.9 586.3L188.9 587.3L189.0 588.2L189.1 589.0L189.2 589.7L189.3 590.2L189.3 590.6L189.4 590.9L189.5 591.1L189.6 591.2L189.6 591.1L189.7 591.0L189.8 590.7L189.9 590.4L190.0 589.9L190.0 589.3L190.1 588.6L190.2 587.8L190.3 586.9L190.4 585.9L190.4 584.8L190.5 583.7L190.6 582.4L190.7 581.1L190.8 579.6L190.8 578.2L190.9 576.6L191.0 575.1L191.1 573.4L191.2 571.8L191.2 570.1L191.3 568.4L191.4 566.7L191.5 565.0L191.6 563.3L191.6 561.7L191.7 560.0L191.8 558.4L191.9 556.9L192.0 555.4L192.0 553.9L192.1 552.6L192.2 551.3L192.3 550.1L192.4 548.9L192.4 547.9L192.5 547.0L192.6 546.1L192.7 545.4L192.7 544.8L192.8 544.2L192.9 543.8L193.0 544.4L193.1 545.2L193.1 546.2L193.2 547.3L193.3 548.6L193.4 550.1L193.5 551.7L193.5 553.5L193.6 555.4L193.7 557.4L193.8 559.5L193.9 561.7L193.9 564.0L194.0 566.3L194.1 568.7L194.2 571.0L194.3 573.4L194.3 575.8L194.4 578.1L194.5 580.4L194.6 582.7L194.7 584.8L194.7 586.8L194.8 588.7L194.9 590.5L195.0 592.2L195.1 593.7L195.1 595.0L195.2 596.2L195.3 597.2L195.4 598.0L195.5 598.6L195.5 599.0L195.6 599.2L195.7 599.3L195.8 599.3L195.8 599.1L195.9 598.8L196.0 598.4L196.1 597.9L196.2 597.3L196.2 596.5L196.3 595.6L196.4 594.6L196.5 593.5L196.6 592.3L196.6 591.0L196.7 589.6L196.8 588.1L196.9 586.5L197.0 584.9L197.0 583.2L197.1 581.4L197.2 579.6L197.3 577.8L197.4 575.9L197.4 574.0L197.5 572.1L197.6 570.2L197.7 568.4L197.8 566.5L197.8 564.7L197.9 562.9L198.0 561.2L198.1 559.5L198.2 557.9L198.2 556.4L198.3 555.0L198.4 553.6L198.5 552.4L198.6 551.2L198.6 550.2L198.7 549.2L198.8 548.4L198.9 547.7L198.9 547.1L199.0 546.7L199.1 547.3L199.2 548.1L199.3 549.1L199.4 550.2L199.4 551.6L199.5 553.0L199.6 554.7L199.7 556.5L199.8 558.4L199.8 560.4L199.9 562.6L200.0 564.8L200.1 567.2L200.2 569.5L200.2 572.0L200.3 574.4L200.4 576.9L200.5 579.3L200.6 581.8L200.6 584.2L200.7 586.5L200.8 588.7L200.9 590.9L201.0 593.0L201.0 594.9L201.1 596.7L201.2 598.4L201.3 599.9L201.4 601.2L201.4 602.4L201.5 603.3L201.6 604.1L201.7 604.8L201.8 605.2L201.8 605.4L201.9 605.5L202.0 605.5L202.1 605.3L202.2 605.1L202.2 604.8L202.3 604.4L202.4 603.8L202.5 603.2L202.6 602.5L202.6 601.7L202.7 600.8L202.8 599.8L202.9 598.7L203.0 597.6L203.0 596.4L203.1 595.1L203.2 593.8L203.3 592.4L203.4 591.0L203.4 589.5L203.5 588.0L203.6 586.5L203.7 585.0L203.8 583.5L203.8 581.9L203.9 580.4L204.0 578.9L204.1 577.4L204.2 576.0L204.2 574.6L204.3 573.2L204.4 572.0L204.5 570.7L204.6 569.5L204.6 568.5L204.7 567.4L204.8 566.5L204.9 565.7L204.9 564.9L205.0 564.2L205.1 563.7L205.2 563.2L205.3 562.8L205.3 563.3L205.4 563.9L205.5 564.7L205.6 565.6L205.7 566.6L205.7 567.8L205.8 569.1L205.9 570.5L206.0 572.0L206.1 573.6L206.1 575.3L206.2 577.0L206.3 578.9L206.4 580.7L206.4 582.7L206.5 584.6L206.6 586.6L206.7 588.6L206.8 590.5L206.8 592.5L206.9 594.4L207.0 596.3L207.1 598.1L207.1 599.9L207.2 601.6L207.3 603.2L207.4 604.7L207.5 606.0L207.5 607.3L207.6 608.5L207.7 609.5L207.8 610.4L207.9 611.1L207.9 611.7L208.0 612.2L208.1 612.5L208.2 612.7L208.2 612.8L208.3 612.7L208.4 612.7L208.5 612.5L208.6 612.3L208.6 612.0L208.7 611.6L208.8 611.2L208.9 610.7L209.0 610.1L209.0 609.5L209.1 608.8L209.2 608.1L209.3 607.3L209.4 606.5L209.4 605.6L209.5 604.7L209.6 603.7L209.7 602.7L209.8 601.7L209.8 600.6L209.9 599.6L210.0 598.5L210.1 597.4L210.2 596.3L210.2 595.3L210.3 594.2L210.4 593.2L210.5 592.1L210.6 591.1L210.6 590.1L210.7 589.2L210.8 588.3L210.9 587.4L211.0 586.6L211.0 585.9L211.1 585.1L211.2 584.5L211.3 583.9L211.3 583.4L211.4 582.9L211.5 582.5L211.6 582.2L211.7 581.9L211.7 582.3L211.8 582.7L211.9 583.2L212.0 583.8L212.1 584.5L212.1 585.2L212.2 586.1L212.3 587.0L212.4 588.0L212.5 589.0L212.6 590.1L212.6 591.3L212.7 592.5L212.8 593.8L212.9 595.1L213.0 596.4L213.0 597.7L213.1 599.0L213.2 600.4L213.3 601.7L213.4 603.1L213.4 604.4L213.5 605.6L213.6 606.9L213.7 608.1L213.8 609.3L213.8 610.4L213.9 611.4L214.0 612.4L214.1 613.3L214.2 614.1L214.2 614.8L214.3 615.5L214.4 616.1L214.5 616.6L214.6 616.9L214.6 617.2L214.7 617.5L214.8 617.6L214.9 617.6L215.0 617.6L215.0 617.6L215.1 617.5L215.2 617.4L215.3 617.2L215.4 617.0L215.4 616.8L215.5 616.6L215.6 616.3L215.7 616.0L215.8 615.6L215.8 615.3L215.9 614.9L216.0 614.5L216.1 614.0L216.2 613.6L216.2 613.1L216.3 612.6L216.4 612.1L216.5 611.5L216.6 611.0L216.6 610.5L216.7 609.9L216.8 609.4L216.9 608.9L217.0 608.3L217.0 607.8L217.1 607.3L217.2 606.8L217.3 606.3L217.3 605.8L217.4 605.4L217.5 604.9L217.6 604.5L217.7 604.2L217.7 603.8L217.8 603.5L217.9 603.2L218.0 602.9L218.1 602.7L218.1 602.5L218.2 602.3L218.3 602.2L218.4 602.3L218.5 602.5L218.5 602.8L218.6 603.0L218.7 603.4L218.8 603.7L218.9 604.1L218.9 604.5L219.0 604.9L219.1 605.4L219.2 605.9L219.3 606.5L219.3 607.0L219.4 607.6L219.5 608.2L219.6 608.8L219.7 609.4L219.7 610.1L219.8 610.7L219.9 611.4L220.0 612.0L220.1 612.7L220.2 613.3L220.2 614.0L220.3 614.6L220.4 615.2L220.5 615.8L220.6 616.4L220.6 617.0L220.7 617.5L220.8 618.0L220.9 618.5L221.0 618.9L221.0 619.3L221.1 619.7L221.2 620.0L221.3 620.4L221.4 620.6L221.4 620.9L221.5 621.1L221.6 621.2L221.7 621.4L221.8 621.4L221.8 621.5L221.9 621.5L222.0 621.5L222.1 621.5L222.2 621.5L222.2 621.4L222.3 621.4L222.4 621.3L222.5 621.3L222.6 621.2L222.6 621.0L222.7 620.9L222.8 620.7L222.9 620.6L223.0 620.4L223.0 620.2L223.1 619.9L223.2 619.7L223.3 619.4L223.3 619.2L223.4 618.9L223.5 618.6L223.6 618.3L223.7 618.0L223.7 617.7L223.8 617.4L223.9 617.1L224.0 616.8L224.1 616.5L224.1 616.3L224.2 616.0L224.3 615.8L224.4 615.5L224.5 615.3L224.5 615.1L224.6 614.9L224.7 614.7L224.8 614.5L224.9 614.4L224.9 614.2L225.0 614.0L225.1 613.9L225.2 613.8L225.3 613.7L225.3 613.6L225.4 613.6L225.5 613.7L225.6 613.9L225.7 614.0L225.7 614.2L225.8 614.4L225.9 614.6L226.0 614.9L226.1 615.2L226.1 615.4L226.2 615.7L226.3 616.1L226.4 616.4L226.4 616.8L226.5 617.2L226.6 617.5L226.7 617.9L226.8 618.3L226.8 618.7L226.9 619.2L227.0 619.6L227.1 620.0L227.2 620.5L227.2 620.9L227.3 621.3L227.4 621.7L227.5 622.0L227.6 622.4L227.6 622.7L227.7 623.0L227.8 623.3L227.9 623.6L228.0 623.9L228.0 624.1L228.1 624.3L228.2 624.5L228.3 624.6L228.4 624.7L228.4 624.8L228.5 624.8L228.6 624.8L228.7 624.8L228.8 624.8L228.8 624.8L228.9 624.7L229.0 624.7L229.1 624.6L229.1 624.6L229.2 624.5L229.3 624.5L229.4 624.4L229.5 624.3L229.5 624.2L229.6 624.2L229.7 624.1L229.8 624.0L229.9 623.9L229.9 623.9L230.0 623.8L230.1 623.7L230.2 623.7L230.2 623.6L230.3 623.5L230.4 623.5L230.5 623.4L230.6 623.3L230.6 623.2L230.7 623.1L230.8 623.0L230.9 622.9L231.0 622.8L231.0 622.7L231.1 622.6L231.2 622.5L231.3 622.4L231.3 622.3L231.4 622.2L231.5 622.1L231.6 622.1L231.7 622.0L231.7 621.9L231.8 621.8L231.9 621.8L232.0 621.7L232.1 621.6L232.1 621.6L232.2 621.6L232.3 621.5L232.4 621.6L232.4 621.6L232.5 621.7L232.6 621.8L232.7 621.9L232.8 622.0L232.8 622.1L232.9 622.3L233.0 622.4L233.1 622.6L233.2 622.7L233.2 622.9L233.3 623.0L233.4 623.2L233.5 623.4L233.6 623.5L233.6 623.7L233.7 623.9L233.8 624.1L233.9 624.2L234.0 624.4L234.0 624.6L234.1 624.7L234.2 624.9L234.3 625.0L234.4 625.1L234.4 625.3L234.5 625.4L234.6 625.5L234.7 625.7L234.8 625.8L234.8 626.0L234.9 626.1L235.0 626.2L235.1 626.3L235.2 626.4L235.2 626.5L235.3 626.6L235.4 626.7L235.5 626.8L235.5 626.8L235.6 626.9L235.7 626.9L235.8 626.9L235.9 626.9L235.9 627.0L236.0 627.0L236.1 627.0L236.2 627.0L236.3 627.1L236.3 627.1L236.4 627.1L236.5 627.1L236.6 627.0L236.7 627.0L236.7 627.0L236.8 626.9L236.9 626.9L237.0 626.9L237.0 626.8L237.1 626.8L237.2 626.8L237.3 626.7L237.4 626.7L237.4 626.6L237.5 626.6L237.6 626.5L237.7 626.4L237.8 626.3L237.8 626.3L237.9 626.3L238.0 626.2L238.1 626.2L238.1 626.2L238.2 626.2L238.3 626.2L238.4 626.2L238.5 626.1L238.5 626.1L238.6 626.0L238.7 626.1L238.8 626.0L238.9 626.0L238.9 626.0L239.0 625.9L239.1 626.0L239.2 626.0L239.2 625.9L239.3 625.9L239.4 626.0L239.5 626.0L239.6 626.1L239.6 626.0L239.7 626.1L239.8 626.1L239.9 626.1L240.0 626.2L240.0 626.2L240.1 626.2L240.2 626.3L240.3 626.4L240.4 626.4L240.4 626.5L240.5 626.6L240.6 626.7L240.7 626.7L240.8 626.8L240.8 626.9L240.9 626.9L241.0 627.0L241.1 627.1L241.2 627.2L241.2 627.3L241.3 627.3L241.4 627.4L241.5 627.6L241.6 627.6L241.6 627.8L241.7 627.8L241.8 627.8L241.9 627.9L241.9 628.0L242.0 628.0L242.1 628.1L242.2 628.2L242.3 628.3L242.3 628.3L242.4 628.4L242.5 628.5L242.6 628.5L242.7 628.5L242.7 628.6L242.8 628.8L242.9 628.7L243.0 628.9L243.1 628.9L243.1 628.9L243.2 628.9L243.3 629.0L243.4 629.0L243.5 628.9L243.5 629.0L243.6 629.0L243.7 629.0L243.8 629.1L243.9 629.2L243.9 629.2L244.0 629.1L244.1 629.1L244.2 629.2L244.3 629.1L244.3 629.0L244.4 628.9L244.5 628.9L244.6 628.9L244.7 628.9L244.7 628.9L244.8 628.8L244.9 628.8L245.0 628.8L245.1 628.7L245.1 628.7L245.2 628.8L245.3 628.6L245.4 628.7L245.5 628.7L245.5 628.5L245.6 628.5L245.7 628.5L245.8 628.4L245.9 628.5L245.9 628.4L246.0 628.4L246.1 628.3L246.2 628.3L246.3 628.3L246.3 628.3L246.4 628.2L246.5 628.2L246.6 628.1L246.7 628.2L246.8 628.1L246.8 628.1L246.9 628.1L247.0 628.0L247.1 628.0L247.2 628.1L247.2 628.0L247.3 627.9L247.4 627.9L247.5 627.9L247.6 627.9L247.6 627.9L247.7 628.0L247.8 628.0L247.9 628.2L247.9 628.1L248.0 628.1L248.1 628.3L248.2 628.2L248.3 628.3L248.3 628.3L248.4 628.5L248.5 628.5L248.6 628.6L248.7 628.6L248.7 628.7L248.8 628.8L248.9 628.9L249.0 628.8L249.1 629.0L249.1 629.0L249.2 629.1L249.3 629.2L249.4 629.0L249.5 629.2L249.5 629.2L249.6 629.3L249.7 629.3L249.8 629.5L249.9 629.3L249.9 629.4L250.0 629.5L250.1 629.4L250.2 629.4L250.3 629.5L250.3 629.5L250.4 629.5L250.5 629.4L250.6 629.2L250.7 629.2L250.7 629.3L250.8 629.2L250.9 629.2L251.0 629.3L251.0 629.3L251.1 629.4L251.2 629.3L251.3 629.5L251.4 629.4L251.4 629.4L251.5 629.5L251.6 629.4L251.7 629.5L251.8 629.6L251.8 629.7L251.9 629.7"/>
<path stroke="#000000" stroke-width="3.00" d="M251.6 629.4L251.7 629.5L251.8 629.6L251.8 629.7L251.9 629.7L252.0 629.5L252.1 629.6L252.1 629.6L252.2 629.7L252.3 629.5L252.4 629.5L252.5 629.5L252.5 629.7L252.6 629.3L252.7 629.5L252.8 629.7L252.9 629.5L252.9 629.6L253.0 629.6L253.1 629.6L253.2 629.5L253.2 629.5L253.3 629.5L253.4 629.6L253.5 629.7L253.6 629.6L253.6 629.6L253.7 629.6L253.8 629.6L253.9 629.5L254.0 629.7L254.0 629.6L254.1 629.8L254.2 629.6L254.3 629.6L254.3 629.7L254.4 629.7L254.5 629.8L254.6 629.7L254.7 629.6L254.7 629.6L254.8 629.4L254.9 629.8L255.0 629.7L255.1 629.7L255.1 629.7L255.2 629.8L255.3 629.8L255.4 629.8L255.5 629.7L255.5 629.9L255.6 630.0L255.7 629.9L255.8 630.2L255.9 630.0L255.9 630.0L256.0 630.0L256.1 630.3L256.2 630.1L256.3 630.3L256.3 630.1L256.4 630.2L256.5 630.4L256.6 630.3L256.7 630.5L256.7 630.3L256.8 630.4L256.9 630.3L257.0 630.5L257.0 630.8L257.1 630.4L257.2 630.7L257.3 630.7L257.4 630.7L257.4 630.5L257.5 630.7L257.6 630.6L257.7 630.7L257.8 630.9L257.8 630.7L257.9 630.7L258.0 630.8L258.1 631.0L258.2 630.4L258.2 630.5L258.3 630.7L258.8 630.8L259.3 630.8L259.8 630.9L260.2 631.3L260.7 631.3L261.2 631.1L261.7 631.2L262.1 631.2L262.6 631.3L263.1 631.4L263.6 631.4L264.0 631.2L264.5 631.3L265.0 631.1L265.5 631.1L266.0 631.4L266.4 631.1L266.9 631.6L267.4 631.9L267.9 631.4L268.3 632.2L268.8 631.9L269.3 631.9L269.8 632.0L270.2 632.1L270.7 632.2L271.2 631.8L271.7 631.8"/>
<path stroke="#000000" stroke-width="3.0" d="M271.7 631.8L272.1 631.9L272.6 632.1L273.1 632.1L273.6 631.7L274.1 631.8L274.5 631.7L275.0 632.2L275.5 631.9L276.0 632.4L276.4 632.5L276.9 632.0L277.4 632.6L277.9 632.5L278.3 632.2L278.8 632.5L279.3 632.4L279.8 632.9L280.3 632.4L280.7 632.6L281.2 632.3L281.7 632.3L282.2 632.2L282.6 632.7L283.1 632.1L283.6 632.2L284.1 632.6L284.5 632.6L285.0 632.4L285.5 632.4L286.0 632.0L286.5 632.9L286.9 633.0L287.4 632.5L287.9 633.3L288.4 633.2L288.8 633.0L289.3 633.1L289.8 633.0L290.3 632.9L290.7 633.1L291.2 633.3L291.7 633.0L292.2 633.4L292.7 633.4L293.1 632.9L293.6 633.0L294.1 633.3L294.6 633.5L295.0 633.3L295.5 633.5L296.0 632.8L296.5 632.6L296.9 632.8L297.4 632.9L297.9 633.2L298.4 632.8L298.9 633.0L299.3 633.1L299.8 633.4L300.3 633.7L300.8 633.2L301.2 633.1L301.7 633.6L302.2 633.2L302.7 633.2L303.1 633.0L303.6 633.8L304.1 633.7L304.6 633.7L305.1 633.7L305.5 633.7L306.0 632.9L306.5 633.8L307.0 632.5L307.4 633.3L307.9 633.1L308.4 633.5L308.9 633.0L309.3 633.3L309.8 632.9L310.3 633.1L310.8 633.0L311.3 633.2L311.7 632.9L312.2 633.3L312.7 633.7L313.2 632.7L313.6 633.8L314.1 633.3L314.6 632.7L315.1 633.8L315.5 633.7L316.0 633.7L316.5 633.7L317.0 632.9L317.5 633.3L317.9 633.2L318.4 634.0L318.9 633.2L319.4 633.7L319.8 634.2L320.3 633.6L320.8 634.0L321.3 632.7L321.7 634.2L322.2 633.4L322.7 634.0L323.2 633.6L323.7 633.8L324.1 632.7L324.6 633.8L325.1 633.6L325.6 633.4L326.0 633.8L326.5 633.4L327.0 633.9L327.5 634.2L327.9 633.2L328.4 632.9L328.9 633.1L329.4 633.7L329.9 632.9L330.3 633.1L330.8 633.6L331.3 633.1L331.8 633.2L332.2 633.1L332.7 633.0L333.2 632.9L333.7 633.4L334.1 633.3L334.6 634.2L335.1 633.6L335.6 633.1L336.1 633.8L336.5 633.1L337.0 633.4L337.5 633.2L338.0 633.2L338.4 632.7L338.9 633.1L339.4 633.3L339.9 633.8L340.3 633.2L340.8 633.7L341.3 633.0L341.8 633.9L342.3 633.8L342.7 633.4L343.2 633.8L343.7 633.2L344.2 633.3L344.6 633.8L345.1 633.6L345.6 632.5L346.1 632.7L346.5 633.0L347.0 633.2L347.5 632.7L348.0 633.6L348.5 633.4L348.9 633.4L349.4 633.8L349.9 633.6L350.4 632.5L350.8 633.3L351.3 633.8L351.8 633.6L352.3 633.7L352.7 633.6L353.2 633.5L353.7 634.1L354.2 634.3L354.7 633.6L355.1 633.6L355.6 633.9L356.1 633.4L356.6 633.6L357.0 633.2L357.5 633.5L358.0 632.9L358.5 632.7L358.9 633.0L359.4 633.3L359.9 633.0L360.4 633.0L360.8 633.0L361.3 632.9L361.8 633.2L362.3 632.9L362.8 633.0L363.2 633.2L363.7 633.3L364.2 633.5L364.7 633.0L365.1 633.6L365.6 633.9L366.1 632.6L366.6 632.7L367.0 633.5L367.5 632.7L368.0 634.2L368.5 633.1L369.0 633.0L369.4 633.1L369.9 633.5L370.4 633.1L370.9 633.2L371.3 633.8L371.8 633.6L372.3 632.8L372.8 632.9L373.2 633.6L373.7 633.7L374.2 632.9L374.7 633.6L375.2 633.7L375.6 633.8L376.1 633.5L376.6 634.4L377.1 633.1L377.5 633.6L378.0 633.0L378.5 633.8L379.0 633.6L379.4 632.9L379.9 632.7L380.4 633.1L380.9 633.2L381.4 632.5L381.8 632.6L382.3 632.9L382.8 633.3L383.3 632.7L383.7 632.9L384.2 633.3L384.7 632.6L385.2 632.8L385.6 633.1L386.1 633.0L386.6 632.9L387.1 633.6L387.6 633.8L388.0 632.8L388.5 633.9L389.0 633.9L389.5 633.8L389.9 633.3L390.4 633.0L390.9 633.7L391.4 632.7L391.8 632.7L392.3 632.8L392.8 633.8L393.3 632.6L393.8 632.1L394.2 633.7L394.7 634.1L395.2 632.8L395.7 633.1L396.1 633.3L396.6 633.4L397.1 634.1L397.6 633.9L398.0 633.3L398.5 633.1L399.0 632.9L399.5 633.1L400.0 633.7L400.4 633.5L400.9 632.8L401.4 633.8L401.9 633.0L402.3 633.6L402.8 633.2L403.3 632.5L403.8 633.1L404.2 633.5L404.7 633.6L405.2 633.9L405.7 633.4L406.2 634.5L406.6 633.3L407.1 633.3L407.6 633.7L408.1 633.6L408.5 632.7L409.0 632.9L409.5 632.4L410.0 632.8L410.4 633.1L410.9 633.3L411.4 632.7L411.9 632.9L412.4 633.1L412.8 632.3L413.3 633.4L413.8 633.4L414.3 633.1L414.7 633.3L415.2 633.4L415.7 633.0L416.2 632.2L416.6 633.6L417.1 633.1L417.6 633.1L418.1 633.3L418.6 632.6L419.0 633.2L419.5 632.2L420.0 633.4L420.5 633.1L420.9 633.5L421.4 633.0L421.9 632.9L422.4 633.1L422.8 633.3L423.3 633.5L423.8 633.8L424.3 632.9L424.8 633.1L425.2 632.7L425.7 633.9L426.2 633.3L426.7 634.1L427.1 632.8L427.6 633.6L428.1 633.6L428.6 633.0L429.0 633.5L429.5 633.3L430.0 633.5L430.5 632.9L431.0 633.4L431.4 633.3L431.9 633.3L432.4 632.9L432.9 632.8L433.3 633.4L433.8 632.8L434.3 633.9L434.8 633.7L435.2 633.6L435.7 633.7L436.2 633.0L436.7 633.7L437.2 633.8L437.6 633.2L438.1 633.7L438.6 633.3L439.1 633.2L439.5 633.6L440.0 633.4L440.5 632.9L441.0 633.1L441.4 633.1L441.9 632.9L442.4 633.5L442.9 633.6L443.3 633.4L443.8 632.6L444.3 633.0L444.8 632.3L445.3 632.8L445.7 632.8L446.2 633.6L446.7 634.1L447.2 634.3L447.6 633.3L448.1 633.8L448.6 633.9L449.1 633.1L449.5 633.2L450.0 633.9L450.5 633.2L451.0 632.7L451.5 632.8L451.9 633.7L452.4 633.0L452.9 634.4L453.4 633.5L453.8 633.6L454.3 632.8L454.8 633.9L455.3 633.7L455.7 633.5L456.2 632.9L456.7 633.9L457.2 633.1L457.7 633.4L458.1 633.3L458.6 633.7L459.1 633.0L459.6 632.9L460.0 632.8L460.5 633.0L461.0 633.4L461.5 633.7L461.9 633.4L462.4 632.9L462.9 633.1L463.4 633.0L463.9 632.7L464.3 633.0L464.8 633.0L465.3 633.5L465.8 632.5L466.2 633.1L466.7 633.0L467.2 633.0L467.7 632.9L468.1 632.8L468.6 633.5L469.1 633.2L469.6 632.5L470.1 633.4L470.5 633.2L471.0 633.7L471.5 633.9L472.0 633.8L472.4 633.1L472.9 633.0L473.4 634.4L473.9 633.5L474.3 633.5L474.8 634.0L475.3 633.5L475.8 633.9L476.3 632.9L476.7 633.9L477.2 633.0L477.7 634.0L478.2 633.9L478.6 632.9L479.1 633.6L479.6 633.4L480.1 633.9L480.5 633.3L481.0 632.9L481.5 633.5L482.0 633.4L482.5 633.4L482.9 633.7L483.4 633.9L483.9 633.3L484.4 633.5L484.8 634.2L485.3 634.4L485.8 633.2L486.3 634.0L486.7 633.2L487.2 632.9L487.7 633.3L488.2 633.4L488.7 634.2L489.1 632.3L489.6 632.7L490.1 633.4L490.6 633.6L491.0 632.7L491.5 634.0L492.0 632.9L492.5 633.0L492.9 633.9L493.4 633.9L493.9 632.7L494.4 633.6L494.9 633.3L495.3 633.5L495.8 634.2L496.3 632.8L496.8 632.5L497.2 633.6L497.7 633.9L498.2 632.8L498.7 634.2L499.1 633.6L499.6 634.2L500.1 634.3L500.6 634.0L501.1 634.8L501.5 634.2L502.0 633.6L502.5 633.8L503.0 633.8L503.4 632.2L503.9 632.9L504.4 633.6L504.9 632.9L505.3 633.1L505.8 633.2L506.3 633.0L506.8 633.5L507.3 633.5L507.7 632.5L508.2 633.3L508.7 632.6L509.2 634.2L509.6 633.7L510.1 633.7L510.6 633.2L511.1 633.4L511.5 633.0L512.0 633.1L512.5 633.4L513.0 633.0L513.5 632.9L513.9 633.0L514.4 634.4L514.9 633.5L515.4 633.2L515.8 633.5L516.3 632.7L516.8 633.5L517.3 633.3L517.7 633.7L518.2 633.3L518.7 632.7L519.2 632.6L519.7 632.8L520.1 632.9L520.6 633.2L521.1 633.8L521.6 633.0L522.0 633.6L522.5 633.1L523.0 633.1L523.5 632.6L523.9 633.3L524.4 632.6L524.9 633.1L525.4 632.4L525.9 633.2L526.3 633.2L526.8 633.9L527.3 632.7L527.8 633.0L528.2 633.9L528.7 632.8L529.2 632.9L529.7 633.5L530.1 632.7L530.6 633.4L531.1 633.3L531.6 633.1L532.0 633.9L532.5 633.3L533.0 633.8L533.5 633.1L534.0 632.7L534.4 633.4L534.9 633.6L535.4 632.6L535.9 633.1L536.3 632.7L536.8 632.9L537.3 632.8L537.8 632.3L538.2 633.0L538.7 633.8L539.2 633.2L539.7 633.5L540.2 633.7L540.6 633.4L541.1 633.1L541.6 633.1L542.1 633.3L542.5 633.5L543.0 633.4L543.5 633.5L544.0 633.8L544.4 633.3L544.9 633.1L545.4 633.8L545.9 633.3L546.4 633.0L546.8 633.8L547.3 633.3L547.8 633.3L548.3 633.0L548.7 633.8L549.2 633.6L549.7 632.7L550.2 632.6L550.6 633.2L551.1 632.9L551.6 633.7L552.1 633.1L552.6 633.4L553.0 633.1L553.5 634.0L554.0 633.4L554.5 633.1L554.9 632.9L555.4 633.1L555.9 633.1L556.4 632.8L556.8 632.5L557.3 633.8L557.8 634.1L558.3 633.3L558.8 632.6L559.2 632.5L559.7 632.9L560.2 633.7L560.7 633.1L561.1 633.6L561.6 632.9L562.1 633.3L562.6 632.6L563.0 633.9L563.5 632.9L564.0 633.7L564.5 633.1L565.0 633.2L565.4 634.0L565.9 634.2L566.4 633.4L566.9 633.4L567.3 633.6L567.8 633.0L568.3 633.2L568.8 633.1L569.2 633.9L569.7 633.5L570.2 633.4L570.7 632.7L571.2 632.7L571.6 633.5L572.1 633.3L572.6 634.5L573.1 632.6L573.5 633.1L574.0 633.0L574.5 633.1L575.0 633.3L575.4 633.9L575.9 633.6L576.4 633.4L576.9 633.4L577.4 633.7L577.8 633.2L578.3 633.0L578.8 633.3L579.3 633.4L579.7 632.5L580.2 633.7L580.7 633.5L581.2 632.9L581.6 633.5L582.1 632.5L582.6 633.5L583.1 633.2L583.6 632.5L584.0 634.0L584.5 632.8L585.0 633.1L585.5 633.2L585.9 632.8L586.4 633.6L586.9 633.0L587.4 633.5L587.8 632.7L588.3 633.8L588.8 633.1L589.3 633.4L589.8 633.5L590.2 632.7L590.7 633.4L591.2 633.1L591.7 634.4L592.1 633.9L592.6 633.9L593.1 633.2L593.6 633.9L594.0 633.1L594.5 632.8L595.0 633.2L595.5 633.1L596.0 633.5L596.4 633.7L596.9 633.4L597.4 633.3L597.9 632.6L598.3 633.2L598.8 633.7L599.3 633.0L599.8 634.0L600.2 634.4L600.7 633.6L601.2 633.4L601.7 632.8L602.2 633.0L602.6 633.7L603.1 633.6L603.6 633.6L604.1 632.5L604.5 634.1L605.0 634.1L605.5 633.0L606.0 632.8L606.4 633.5L606.9 632.7L607.4 633.3L607.9 633.6L608.4 633.2L608.8 632.7L609.3 632.4L609.8 633.3L610.3 633.7L610.7 633.1L611.2 633.3L611.7 633.4L612.2 632.9L612.6 632.9L613.1 633.5L613.6 633.3L614.1 632.5L614.5 633.2L615.0 632.3L615.5 634.1L616.0 633.5L616.5 633.1L616.9 633.5L617.4 633.0L617.9 632.9L618.4 633.6L618.8 632.2L619.3 632.3L619.8 634.0L620.3 633.5L620.7 634.0L621.2 633.6L621.7 633.5L622.2 633.4L622.7 632.8L623.1 632.9L623.6 633.5L624.1 633.2L624.6 633.1L625.0 634.0L625.5 633.4L626.0 633.9L626.5 633.0L626.9 632.9L627.4 633.4L627.9 632.9L628.4 633.6L628.9 633.8L629.3 632.8L629.8 633.3L630.3 633.3L630.8 634.1L631.2 633.1L631.7 633.3L632.2 633.2L632.7 633.6L633.1 633.4L633.6 633.4L634.1 633.2L634.6 632.7L635.1 634.1L635.5 633.9L636.0 633.7L636.5 633.5L637.0 633.6L637.4 633.8L637.9 633.6L638.4 633.3L638.9 633.5L639.3 633.9L639.8 633.1L640.3 633.4L640.8 633.8L641.3 632.9L641.7 633.7L642.2 633.7L642.7 633.1L643.2 633.8L643.6 634.0L644.1 632.9L644.6 633.7L645.1 633.8L645.5 633.4L646.0 633.4L646.5 634.3L647.0 633.6L647.5 633.3L647.9 633.5L648.4 633.2L648.9 633.9L649.4 633.1L649.8 633.5L650.3 633.7L650.8 634.0L651.3 633.0L651.7 633.5L652.2 633.6L652.7 633.4L653.2 633.7L653.7 633.7L654.1 633.3L654.6 633.6L655.1 632.9L655.6 632.2L656.0 633.9L656.5 633.1L657.0 633.2L657.5 632.9L657.9 634.1L658.4 632.4L658.9 633.0L659.4 632.5L659.9 632.8L660.3 633.8L660.8 633.3L661.3 632.6L661.8 633.0L662.2 633.6L662.7 633.1L663.2 632.6L663.7 632.6L664.1 633.5L664.6 633.2L665.1 633.2L665.6 633.4L666.1 633.4L666.5 632.8L667.0 633.4L667.5 633.4L668.0 632.9L668.4 632.9L668.9 633.3L669.4 633.8L669.9 633.7L670.3 633.7L670.8 633.4L671.3 633.1L671.8 633.9L672.3 633.8L672.7 633.9L673.2 633.3L673.7 633.5L674.2 632.5L674.6 632.6L675.1 633.1L675.6 633.2L676.1 632.6L676.5 633.4L677.0 632.6L677.5 633.6L678.0 633.5L678.5 633.2L678.9 633.2L679.4 634.1L679.9 633.7L680.4 633.2L680.8 633.9L681.3 632.4L681.8 633.5L682.3 633.1L682.7 632.0L683.2 633.2L683.7 633.0L684.2 632.9L684.7 633.2L685.1 633.6L685.6 633.9L686.1 633.2L686.6 633.5L687.0 632.7L687.5 633.1L688.0 632.9L688.5 633.8L688.9 633.5L689.4 633.1L689.9 633.6L690.4 633.0L690.9 633.4L691.3 633.3L691.8 632.9L692.3 633.5L692.8 632.0L693.2 633.8L693.7 632.7L694.2 632.7L694.7 633.5L695.1 633.3L695.6 633.1L696.1 633.5L696.6 633.2L697.1 633.5L697.5 633.0L698.0 633.4L698.5 633.6L699.0 633.3L699.4 632.9L699.9 633.2L700.4 633.0L700.9 633.4L701.3 633.1L701.8 633.5L702.3 633.2L702.8 633.0L703.2 633.5L703.7 632.6L704.2 634.2L704.7 632.9L705.2 633.5L705.6 632.9L706.1 633.7L706.6 633.0L707.1 633.7L707.5 633.7L708.0 633.5L708.5 633.5L709.0 634.0L709.4 633.0L709.9 634.0L710.4 633.6L710.9 633.4L711.4 633.5L711.8 632.9L712.3 633.9L712.8 633.1L713.3 632.9L713.7 633.4L714.2 632.6L714.7 634.1L715.2 633.7L715.6 633.9L716.1 634.7L716.6 634.4L717.1 633.1L717.6 633.7L718.0 634.2L718.5 633.3L719.0 633.9L719.5 633.6L719.9 633.6L720.4 632.9L720.9 634.6L721.4 633.4L721.8 631.9L722.3 633.4L722.8 633.2L723.3 633.4L723.8 633.0L724.2 633.2L724.7 633.2L725.2 633.9L725.7 633.5L726.1 633.2L726.6 633.3L727.1 633.0L727.6 632.8L728.0 632.6L728.5 633.0L729.0 632.9L729.5 633.3L730.0 633.2L730.4 632.8L730.9 633.9L731.4 632.8L731.9 633.8L732.3 633.4L732.8 633.7L733.3 633.5L733.8 632.9L734.2 634.0L734.7 632.7L735.2 634.2L735.7 633.1L736.2 633.5L736.6 633.5L737.1 633.2L737.6 632.6L738.1 633.1L738.5 633.6L739.0 633.2L739.5 632.8L740.0 633.8L740.4 633.3L740.9 632.9L741.4 633.7L741.9 633.5L742.4 632.9L742.8 633.6L743.3 633.5L743.8 633.6L744.3 633.3L744.7 633.9L745.2 634.1L745.7 632.9L746.2 633.6L746.6 633.6L747.1 632.7L747.6 633.5L748.1 633.2L748.6 633.5L749.0 633.1L749.5 633.1L750.0 632.9L750.5 633.0L750.9 633.9L751.4 633.5L751.9 633.0L752.4 633.7L752.8 633.6L753.3 633.3L753.8 632.5L754.3 633.6L754.8 632.7L755.2 632.7L755.7 633.2L756.2 633.5L756.7 633.2L757.1 633.3L757.6 633.5L758.1 633.4L758.6 632.4L759.0 633.0L759.5 632.7L760.0 633.3L760.5 632.8L761.0 633.7L761.4 633.4L761.9 632.8L762.4 632.3L762.9 633.1L763.3 633.3L763.8 633.4L764.3 634.0L764.8 633.4L765.2 632.9L765.7 633.2L766.2 633.5L766.7 633.6L767.2 633.8L767.6 632.6L768.1 633.2L768.6 632.7L769.1 633.7L769.5 632.8L770.0 632.9L770.5 633.2L771.0 633.5L771.4 632.1L771.9 632.7L772.4 632.8L772.9 633.8L773.4 632.7L773.8 633.0L774.3 632.5L774.8 633.5L775.3 633.6L775.7 633.9L776.2 634.1L776.7 634.0L777.2 633.5L777.6 633.2L778.1 632.5L778.6 632.2L779.1 633.3L779.6 634.1L780.0 633.0L780.5 633.1L781.0 633.3L781.5 633.6L781.9 633.4L782.4 633.1L782.9 633.1L783.4 634.0L783.8 633.2L784.3 633.6L784.8 633.6L785.3 633.2L785.7 633.6L786.2 633.2L786.7 634.3L787.2 633.0L787.7 633.1L788.1 633.6L788.6 633.8L789.1 634.1L789.6 633.9L790.0 632.4L790.5 633.1L791.0 633.4L791.5 633.7L791.9 633.7L792.4 634.0L792.9 633.3L793.4 632.9L793.9 633.9L794.3 633.1L794.8 633.7L795.3 633.2L795.8 633.9L796.2 633.0L796.7 632.5L797.2 633.5L797.7 633.3L798.1 632.7L798.6 633.4L799.1 633.7L799.6 634.2L800.1 633.3L800.5 632.5L801.0 633.4L801.5 633.4L802.0 634.5L802.4 633.4L802.9 633.2L803.4 633.5L803.9 633.5L804.3 633.7L804.8 633.5L805.3 632.6L805.8 633.8L806.3 632.8L806.7 633.9L807.2 632.8L807.7 633.4L808.2 633.1L808.6 633.4L809.1 633.1L809.6 632.1L810.1 634.4L810.5 633.7L811.0 633.2L811.5 632.6L812.0 633.8L812.5 633.1L812.9 632.9L813.4 633.7L813.9 633.5L814.4 633.3L814.8 632.9L815.3 633.3L815.8 633.4L816.3 633.9L816.7 633.6L817.2 632.5L817.7 634.1L818.2 633.7L818.7 633.8L819.1 633.5L819.6 633.9L820.1 633.3L820.6 633.8L821.0 633.7L821.5 633.9L822.0 633.6L822.5 634.1L822.9 633.3L823.4 633.0L823.9 633.9L824.4 632.5L824.9 633.0L825.3 633.4L825.8 633.5L826.3 633.0L826.8 633.3L827.2 633.9L827.7 633.5L828.2 633.5L828.7 634.0L829.1 633.0L829.6 634.2L830.1 633.2L830.6 633.7L831.1 633.3L831.5 633.5L832.0 633.5L832.5 632.8L833.0 633.8L833.4 633.2L833.9 633.2L834.4 633.2L834.9 633.8L835.3 633.3L835.8 634.0L836.3 632.8L836.8 632.6L837.3 633.1L837.7 632.8L838.2 633.1L838.7 634.0L839.2 633.2L839.6 632.7L840.1 633.1L840.6 633.7L841.1 634.6L841.5 632.9L842.0 632.6L842.5 632.5L843.0 632.2L843.5 634.3L843.9 633.6L844.4 633.2L844.9 633.8L845.4 633.1L845.8 632.6L846.3 633.4L846.8 633.0L847.3 633.8L847.7 634.4L848.2 633.4L848.7 633.1L849.2 633.2L849.7 633.0L850.1 633.6L850.6 632.7L851.1 634.2L851.6 632.8L852.0 633.6L852.5 632.9L853.0 633.5L853.5 633.0L853.9 633.0L854.4 632.9L854.9 633.7L855.4 632.8L855.9 633.2L856.3 632.9L856.8 633.6L857.3 634.1L857.8 633.6L858.2 633.7L858.7 633.6L859.2 634.2L859.7 633.7L860.1 632.9L860.6 634.0L861.1 633.8L861.6 634.4L862.1 633.5L862.5 632.9L863.0 633.6L863.5 632.8L864.0 633.1L864.4 633.5L864.9 632.9L865.4 634.4L865.9 633.7L866.3 633.7L866.8 633.2L867.3 633.0L867.8 633.5L868.2 633.9L868.7 633.5L869.2 633.6L869.7 633.9L870.2 634.2L870.6 633.1L871.1 633.8L871.6 633.3L872.1 633.3L872.5 633.1L873.0 632.5L873.5 632.5L874.0 632.8L874.4 632.3L874.9 633.5L875.4 634.0L875.9 633.5L876.4 632.3L876.8 633.1L877.3 633.0L877.8 632.7L878.3 631.9L878.7 632.9L879.2 632.6L879.7 632.3L880.2 633.5L880.6 633.3L881.1 632.8L881.6 632.8L882.1 632.8L882.6 634.1L883.0 633.7L883.5 633.6L884.0 632.3L884.5 633.9L884.9 633.6L885.4 634.2L885.9 633.6L886.4 633.4L886.8 633.5L887.3 633.5L887.8 633.6L888.3 633.3L888.8 632.9L889.2 633.3L889.7 633.7L890.2 633.5L890.7 634.0L891.1 634.1L891.6 632.9L892.1 634.0L892.6 632.1L893.0 633.1L893.5 633.2L894.0 632.7L894.5 632.9L895.0 631.8L895.4 632.4L895.9 633.0L896.4 633.2L896.9 633.5L897.3 633.6L897.8 634.0L898.3 632.7L898.8 633.2L899.2 632.6L899.7 633.1L900.2 632.8L900.7 633.0L901.2 633.0L901.6 633.3L902.1 633.9L902.6 634.0L903.1 633.4L903.5 633.4L904.0 633.5L904.5 632.9L905.0 632.9L905.4 631.9L905.9 631.4L906.4 632.3L906.9 632.9L907.4 632.9L907.8 633.3L908.3 633.9L908.8 634.4L909.3 634.1L909.7 634.6L910.2 634.4L910.7 634.8L911.2 634.5L911.6 635.7L912.1 634.2L912.6 634.2L913.1 633.7L913.6 633.6L914.0 632.6L914.5 633.2L915.0 632.9L915.5 633.1L915.9 633.0L916.4 633.7L916.9 633.9L917.4 633.2L917.8 633.6L918.3 632.8L918.8 632.9L919.3 633.7L919.8 632.8L920.2 633.4L920.7 633.1L921.2 634.2L921.7 633.2L922.1 633.3L922.6 634.0L923.1 632.1L923.6 633.5L924.0 632.7L924.5 633.9L925.0 633.7L925.5 633.4L926.0 633.3L926.4 633.0L926.9 633.2L927.4 634.0L927.9 635.0L928.3 634.4L928.8 634.8L929.3 634.3L929.8 633.4L930.2 634.1L930.7 634.3L931.2 633.7L931.7 633.0L932.2 632.4L932.6 632.7L933.1 634.4L933.6 633.6L934.1 633.4L934.5 633.3L935.0 633.8L935.5 634.3L936.0 633.9L936.4 632.7L936.9 633.0L937.4 631.6L937.9 631.5L938.4 631.5L938.8 630.3L939.3 630.9L939.8 630.6L940.3 631.3L940.7 633.3L941.2 633.7L941.7 633.2L942.2 631.7L942.6 631.7L943.1 631.4L943.6 632.7L944.1 631.3L944.6 631.4L945.0 630.0L945.5 630.3L946.0 630.2L946.5 634.2L946.9 633.8L947.4 634.3L947.9 633.8L948.4 632.0L948.8 633.2L949.3 633.1L949.8 633.8L950.3 631.8L950.8 634.5L951.2 634.7L951.7 633.6L952.2 632.4L952.7 634.1L953.1 634.5L953.6 635.6L954.1 633.8L954.6 633.3L955.0 631.4L955.5 630.7L956.0 632.4L956.5 630.4L956.9 631.0L957.4 630.3L957.9 630.0L958.4 631.4L958.9 632.6L959.3 634.4L959.8 633.9L960.3 635.8L960.8 634.6L961.2 635.2L961.7 633.5L962.2 635.5L962.7 634.8L963.1 635.4L963.6 636.0L964.1 635.8L964.6 633.7L965.1 632.3L965.5 630.4L966.0 629.9L966.5 629.6L967.0 631.0L967.4 631.8L967.9 630.6L968.4 631.0L968.9 630.6L969.3 630.6L969.8 630.8L970.3 633.2L970.8 630.4L971.3 630.9L971.7 632.0L972.2 634.7L972.7 634.1L973.2 633.8L973.6 632.8L974.1 632.3L974.6 631.3L975.1 631.7L975.5 630.4L976.0 630.8L976.5 631.1L977.0 632.0L977.5 631.9L977.9 631.8L978.4 629.5L978.9 631.8L979.4 630.3L979.8 631.5L980.3 632.5L980.8 633.5L981.3 633.8L981.7 633.0L982.2 633.2L982.7 631.4L983.2 631.2L983.7 631.1L984.1 632.0L984.6 632.4L985.1 633.7L985.6 635.2L986.0 637.1L986.5 633.5L987.0 633.9L987.5 632.7L987.9 634.3L988.4 631.1L988.9 630.3L989.4 630.1L989.9 630.6L990.3 630.3L990.8 629.3L991.3 629.4L991.8 629.3L992.2 628.9L992.7 628.1L993.2 629.2L993.7 630.0L994.1 630.5L994.6 630.0L995.1 629.8L995.6 633.0L996.1 632.9L996.5 631.0"/>
<path stroke="#ff0000" d="M167.2 551.5L167.2 551.5L167.3 551.4L167.4 551.2L167.5 550.9L167.6 550.6L167.6 550.2L167.7 549.7L167.8 549.2L167.9 548.6L168.0 548.0L168.1 547.4L168.1 546.8L168.2 546.3L168.3 545.7L168.4 545.2L168.5 544.8L168.5 544.4L168.6 544.1L168.7 543.9L168.8 543.8L168.9 544.0L168.9 544.1L169.0 544.4L169.1 544.7L169.2 545.1L169.3 545.5L169.4 546.0L169.4 546.5L169.5 547.1L169.6 547.7L169.7 548.4L169.8 549.0L169.8 549.7L169.9 550.4L170.0 551.1L170.1 551.8L170.2 552.4L170.2 553.1L170.3 553.7L170.4 554.3L170.5 554.9L170.6 555.4L170.6 555.9L170.7 556.3L170.8 556.7L170.9 557.0L171.0 557.2L171.0 557.4L171.1 557.5L171.2 557.6L171.3 557.6L171.4 557.6L171.4 557.5L171.5 557.3L171.6 556.9L171.7 556.5L171.8 556.0L171.8 555.3L171.9 554.5L172.0 553.7L172.1 552.7L172.2 551.6L172.2 550.5L172.3 549.2L172.4 547.9L172.5 546.4L172.5 544.9L172.6 543.4L172.7 541.7L172.8 540.1L172.9 538.4L172.9 536.6L173.0 534.9L173.1 533.1L173.2 531.3L173.3 529.5L173.3 527.8L173.4 526.0L173.5 524.3L173.6 522.7L173.6 521.1L173.7 519.5L173.8 518.0L173.9 516.6L174.0 515.3L174.0 514.1L174.1 513.0L174.2 511.9L174.3 511.0L174.4 510.2L174.4 509.5L174.5 508.9L174.6 508.5L174.7 508.1L174.7 508.6L174.8 509.1L174.9 509.9L175.0 510.8L175.1 511.8L175.2 513.0L175.2 514.4L175.3 515.8L175.4 517.4L175.5 519.0L175.6 520.8L175.6 522.6L175.7 524.4L175.8 526.3L175.9 528.2L176.0 530.1L176.0 531.9L176.1 533.8L176.2 535.6L176.3 537.3L176.4 538.9L176.4 540.5L176.5 541.9L176.6 543.2L176.7 544.4L176.8 545.4L176.8 546.3L176.9 547.1L177.0 547.7L177.1 548.1L177.2 548.4L177.2 548.6L177.3 548.7L177.4 548.6L177.5 548.4L177.6 548.1L177.6 547.6L177.7 547.0L177.8 546.2L177.9 545.2L178.0 544.0L178.0 542.7L178.1 541.2L178.2 539.5L178.3 537.7L178.4 535.7L178.4 533.6L178.5 531.4L178.6 529.0L178.7 526.5L178.8 524.0L178.8 521.3L178.9 518.6L179.0 515.8L179.1 513.0L179.2 510.2L179.2 507.3L179.3 504.5L179.4 501.6L179.5 498.8L179.6 496.0L179.6 493.3L179.7 490.7L179.8 488.2L179.9 485.8L180.0 483.5L180.0 481.3L180.1 479.2L180.2 477.3L180.3 475.6L180.4 474.0L180.4 472.6L180.5 471.4L180.6 470.4L180.7 469.5L180.7 468.9L180.8 469.7L180.9 470.8L181.0 472.2L181.1 473.8L181.2 475.6L181.2 477.7L181.3 480.0L181.4 482.5L181.5 485.1L181.6 487.9L181.6 490.9L181.7 493.9L181.8 497.0L181.9 500.2L182.0 503.4L182.0 506.6L182.1 509.8L182.2 512.9L182.3 516.0L182.4 518.9L182.4 521.7L182.5 524.4L182.6 526.9L182.7 529.2L182.8 531.3L182.8 533.2L182.9 534.8L183.0 536.2L183.1 537.4L183.2 538.3L183.2 539.0L183.3 539.5L183.4 539.7L183.5 539.8L183.6 539.7L183.6 539.5L183.7 539.1L183.8 538.4L183.9 537.5L184.0 536.4L184.0 535.1L184.1 533.5L184.2 531.6L184.3 529.6L184.4 527.3L184.4 524.8L184.5 522.1L184.6 519.2L184.7 516.1L184.7 512.8L184.8 509.4L184.9 505.9L185.0 502.2L185.1 498.5L185.1 494.7L185.2 490.8L185.3 486.9L185.4 483.1L185.5 479.2L185.5 475.4L185.6 471.6L185.7 467.9L185.8 464.4L185.8 460.9L185.9 457.6L186.0 454.5L186.1 451.5L186.2 448.8L186.2 446.2L186.3 443.9L186.4 441.9L186.5 440.0L186.6 438.4L186.6 437.1L186.7 436.1L186.8 437.4L186.9 439.1L186.9 441.2L187.0 443.6L187.1 446.3L187.2 449.3L187.3 452.6L187.3 456.2L187.4 460.0L187.5 464.0L187.6 468.2L187.7 472.6L187.7 477.0L187.8 481.6L187.9 486.2L188.0 490.8L188.1 495.4L188.1 500.0L188.2 504.5L188.3 508.8L188.4 513.0L188.5 517.0L188.5 520.9L188.6 524.5L188.7 527.8L188.8 530.9L188.9 533.6L188.9 536.1L189.0 538.2L189.1 540.1L189.2 541.6L189.3 542.8L189.3 543.6L189.4 544.2L189.5 544.5L189.6 544.6L189.6 544.6L189.7 544.3L189.8 543.8L189.9 543.1L190.0 542.1L190.0 540.9L190.1 539.4L190.2 537.6L190.3 535.6L190.4 533.3L190.4 530.7L190.5 527.9L190.6 524.8L190.7 521.5L190.8 518.0L190.8 514.3L190.9 510.4L191.0 506.4L191.1 502.2L191.2 497.9L191.2 493.5L191.3 489.0L191.4 484.5L191.5 479.9L191.6 475.4L191.6 470.9L191.7 466.4L191.8 462.0L191.9 457.8L192.0 453.6L192.0 449.6L192.1 445.7L192.2 442.1L192.3 438.6L192.4 435.4L192.4 432.4L192.5 429.7L192.6 427.2L192.7 425.0L192.7 423.1L192.8 421.5L192.9 420.2L193.0 422.0L193.1 424.4L193.1 427.2L193.2 430.4L193.3 434.1L193.4 438.2L193.5 442.8L193.5 447.6L193.6 452.8L193.7 458.3L193.8 464.0L193.9 469.9L193.9 476.0L194.0 482.1L194.1 488.3L194.2 494.5L194.3 500.7L194.3 506.8L194.4 512.7L194.5 518.5L194.6 524.0L194.7 529.2L194.7 534.2L194.8 538.8L194.9 543.0L195.0 546.8L195.1 550.2L195.1 553.2L195.2 555.8L195.3 557.9L195.4 559.5L195.5 560.7L195.5 561.6L195.6 562.0L195.7 562.1L195.8 562.0L195.8 561.8L195.9 561.2L196.0 560.5L196.1 559.4L196.2 558.0L196.2 556.4L196.3 554.4L196.4 552.2L196.5 549.7L196.6 546.9L196.6 543.8L196.7 540.4L196.8 536.8L196.9 533.0L197.0 528.9L197.0 524.6L197.1 520.2L197.2 515.6L197.3 510.9L197.4 506.1L197.4 501.2L197.5 496.2L197.6 491.3L197.7 486.3L197.8 481.3L197.8 476.5L197.9 471.7L198.0 467.0L198.1 462.4L198.2 458.0L198.2 453.8L198.3 449.8L198.4 446.0L198.5 442.5L198.6 439.2L198.6 436.2L198.7 433.5L198.8 431.1L198.9 429.0L198.9 427.3L199.0 425.8L199.1 427.8L199.2 430.2L199.3 433.1L199.4 436.5L199.4 440.3L199.5 444.6L199.6 449.2L199.7 454.3L199.8 459.6L199.8 465.3L199.9 471.2L200.0 477.4L200.1 483.7L200.2 490.1L200.2 496.6L200.3 503.1L200.4 509.6L200.5 516.1L200.6 522.4L200.6 528.5L200.7 534.4L200.8 540.1L200.9 545.5L201.0 550.6L201.0 555.3L201.1 559.6L201.2 563.5L201.3 567.0L201.4 570.0L201.4 572.6L201.5 574.7L201.6 576.4L201.7 577.7L201.8 578.5L201.8 578.9L201.9 579.1L202.0 579.0L202.1 578.8L202.2 578.3L202.2 577.7L202.3 576.8L202.4 575.6L202.5 574.3L202.6 572.6L202.6 570.7L202.7 568.6L202.8 566.3L202.9 563.7L203.0 560.8L203.0 557.8L203.1 554.6L203.2 551.2L203.3 547.6L203.4 543.9L203.4 540.1L203.5 536.1L203.6 532.1L203.7 527.9L203.8 523.8L203.8 519.6L203.9 515.5L204.0 511.3L204.1 507.2L204.2 503.2L204.2 499.3L204.3 495.4L204.4 491.7L204.5 488.2L204.6 484.9L204.6 481.7L204.7 478.7L204.8 476.0L204.9 473.5L204.9 471.2L205.0 469.2L205.1 467.4L205.2 466.0L205.3 464.7L205.3 466.3L205.4 468.2L205.5 470.4L205.6 473.0L205.7 476.0L205.7 479.3L205.8 482.9L205.9 486.8L206.0 490.9L206.1 495.3L206.1 499.9L206.2 504.7L206.3 509.6L206.4 514.7L206.4 519.8L206.5 525.0L206.6 530.2L206.7 535.3L206.8 540.4L206.8 545.5L206.9 550.4L207.0 555.1L207.1 559.7L207.1 564.0L207.2 568.1L207.3 572.0L207.4 575.5L207.5 578.8L207.5 581.7L207.6 584.3L207.7 586.6L207.8 588.5L207.9 590.1L207.9 591.4L208.0 592.3L208.1 592.9L208.2 593.2L208.2 593.3L208.3 593.3L208.4 593.1L208.5 592.8L208.6 592.4L208.6 591.9L208.7 591.1L208.8 590.3L208.9 589.2L209.0 588.0L209.0 586.7L209.1 585.2L209.2 583.5L209.3 581.8L209.4 579.8L209.4 577.8L209.5 575.6L209.6 573.3L209.7 570.9L209.8 568.5L209.8 565.9L209.9 563.3L210.0 560.6L210.1 558.0L210.2 555.2L210.2 552.5L210.3 549.8L210.4 547.1L210.5 544.5L210.6 541.9L210.6 539.3L210.7 536.9L210.8 534.5L210.9 532.2L211.0 530.1L211.0 528.0L211.1 526.1L211.2 524.3L211.3 522.7L211.3 521.3L211.4 520.0L211.5 518.8L211.6 517.9L211.7 517.1L211.7 518.1L211.8 519.3L211.9 520.8L212.0 522.4L212.1 524.3L212.1 526.4L212.2 528.7L212.3 531.2L212.4 533.8L212.5 536.6L212.6 539.5L212.6 542.6L212.7 545.8L212.8 549.0L212.9 552.3L213.0 555.7L213.0 559.1L213.1 562.4L213.2 565.8L213.3 569.2L213.4 572.4L213.4 575.6L213.5 578.8L213.6 581.8L213.7 584.6L213.8 587.4L213.8 589.9L213.9 592.3L214.0 594.5L214.1 596.5L214.2 598.4L214.2 600.0L214.3 601.4L214.4 602.6L214.5 603.5L214.6 604.3L214.6 604.9L214.7 605.2L214.8 605.5L214.9 605.5L215.0 605.5L215.0 605.4L215.1 605.3L215.2 605.0L215.3 604.7L215.4 604.3L215.4 603.9L215.5 603.3L215.6 602.6L215.7 601.9L215.8 601.1L215.8 600.2L215.9 599.2L216.0 598.2L216.1 597.1L216.2 595.9L216.2 594.6L216.3 593.3L216.4 592.0L216.5 590.6L216.6 589.2L216.6 587.8L216.7 586.3L216.8 584.8L216.9 583.3L217.0 581.9L217.0 580.4L217.1 579.0L217.2 577.5L217.3 576.2L217.3 574.8L217.4 573.5L217.5 572.3L217.6 571.1L217.7 570.0L217.7 569.0L217.8 568.0L217.9 567.1L218.0 566.4L218.1 565.6L218.1 565.0L218.2 564.5L218.3 564.1L218.4 564.6L218.5 565.2L218.5 565.9L218.6 566.7L218.7 567.7L218.8 568.7L218.9 569.8L218.9 571.0L219.0 572.3L219.1 573.6L219.2 575.1L219.3 576.6L219.3 578.1L219.4 579.7L219.5 581.4L219.6 583.1L219.7 584.8L219.7 586.5L219.8 588.3L219.9 590.0L220.0 591.8L220.1 593.5L220.2 595.2L220.2 597.0L220.3 598.7L220.4 600.2L220.5 601.8L220.6 603.3L220.6 604.7L220.7 606.0L220.8 607.2L220.9 608.4L221.0 609.5L221.0 610.5L221.1 611.4L221.2 612.2L221.3 612.9L221.4 613.5L221.4 614.0L221.5 614.4L221.6 614.8L221.7 615.0L221.8 615.2L221.8 615.3L221.9 615.3L222.0 615.3L222.1 615.3L222.2 615.2L222.2 615.2L222.3 615.1L222.4 614.9L222.5 614.7L222.6 614.5L222.6 614.2L222.7 613.9L222.8 613.5L222.9 613.1L223.0 612.7L223.0 612.2L223.1 611.6L223.2 611.0L223.3 610.3L223.3 609.7L223.4 609.0L223.5 608.2L223.6 607.5L223.7 606.7L223.7 605.9L223.8 605.1L223.9 604.3L224.0 603.5L224.1 602.8L224.1 602.1L224.2 601.4L224.3 600.7L224.4 600.1L224.5 599.4L224.5 598.8L224.6 598.2L224.7 597.7L224.8 597.2L224.9 596.7L224.9 596.2L225.0 595.8L225.1 595.4L225.2 595.0L225.3 594.7L225.3 594.5L225.4 594.7L225.5 595.1L225.6 595.4L225.7 595.9L225.7 596.4L225.8 597.0L225.9 597.7L226.0 598.4L226.1 599.1L226.1 599.9L226.2 600.8L226.3 601.6L226.4 602.6L226.4 603.5L226.5 604.5L226.6 605.5L226.7 606.5L226.8 607.6L226.8 608.6L226.9 609.7L227.0 610.8L227.1 611.8L227.2 612.9L227.2 613.9L227.3 614.9L227.4 615.8L227.5 616.6L227.6 617.5L227.6 618.3L227.7 619.0L227.8 619.6L227.9 620.3L228.0 620.8L228.0 621.3L228.1 621.7L228.2 622.1L228.3 622.4L228.4 622.6L228.4 622.7L228.5 622.8L228.6 622.8L228.7 622.8L228.8 622.7L228.8 622.7L228.9 622.6L229.0 622.5L229.1 622.5L229.1 622.4L229.2 622.2L229.3 622.1L229.4 622.0L229.5 621.8L229.5 621.6L229.6 621.4L229.7 621.2L229.8 621.1L229.9 620.9L229.9 620.7L230.0 620.6L230.1 620.4L230.2 620.1L230.2 619.9L230.3 619.7L230.4 619.5L230.5 619.3L230.6 619.1L230.6 618.8L230.7 618.6L230.8 618.3L230.9 618.0L231.0 617.7L231.0 617.5L231.1 617.2L231.2 616.9L231.3 616.7L231.3 616.4L231.4 616.1L231.5 615.9L231.6 615.6L231.7 615.4L231.7 615.2L231.8 615.0L231.9 614.8L232.0 614.7L232.1 614.5L232.1 614.4L232.2 614.3L232.3 614.2L232.4 614.3L232.4 614.4L232.5 614.6L232.6 614.8L232.7 615.1L232.8 615.4L232.8 615.7L232.9 616.1L233.0 616.4L233.1 616.8L233.2 617.1L233.2 617.5L233.3 617.9L233.4 618.3L233.5 618.7L233.6 619.1L233.6 619.5L233.7 620.0L233.8 620.4L233.9 620.8L234.0 621.2L234.0 621.6L234.1 622.0L234.2 622.3L234.3 622.7L234.4 623.0L234.4 623.3L234.5 623.6L234.6 624.0L234.7 624.3L234.8 624.6L234.8 624.8L234.9 625.1L235.0 625.4L235.1 625.6L235.2 625.9L235.2 626.1L235.3 626.2L235.4 626.4L235.5 626.5L235.5 626.6L235.6 626.7L235.7 626.7L235.8 626.8L235.9 626.8L235.9 626.8L236.0 626.9L236.1 626.9L236.2 627.0L236.3 627.0L236.3 627.1L236.4 627.0L236.5 627.0L236.6 626.9L236.7 626.9L236.7 626.8L236.8 626.7L236.9 626.7L237.0 626.6L237.0 626.5L237.1 626.5L237.2 626.4L237.3 626.4L237.4 626.3L237.4 626.1L237.5 626.0L237.6 625.8L237.7 625.7L237.8 625.5L237.8 625.4L237.9 625.4L238.0 625.4L238.1 625.3L238.1 625.3L238.2 625.3L238.3 625.2L238.4 625.2L238.5 625.1L238.5 625.0L238.6 624.9L238.7 624.9L238.8 624.7L238.9 624.7L238.9 624.7L239.0 624.6L239.1 624.6L239.2 624.6L239.2 624.6L239.3 624.6L239.4 624.7L239.5 624.7L239.6 624.7L239.6 624.8L239.7 624.9L239.8 624.9L239.9 625.0L240.0 625.1L240.0 625.2L240.1 625.2L240.2 625.3L240.3 625.5L240.4 625.6L240.4 625.8L240.5 625.9L240.6 626.1L240.7 626.3L240.8 626.4L240.8 626.6L240.9 626.8L241.0 626.9L241.1 627.0L241.2 627.3L241.2 627.5L241.3 627.7L241.4 627.9L241.5 628.1L241.6 628.3L241.6 628.5L241.7 628.6L241.8 628.7L241.9 629.0L241.9 629.0L242.0 629.1L242.1 629.3L242.2 629.4L242.3 629.5L242.3 629.7L242.4 629.8L242.5 629.8L242.6 629.9L242.7 630.1L242.7 630.2L242.8 630.4L242.9 630.6L243.0 630.7L243.1 630.7L243.1 630.8L243.2 630.8L243.3 630.8L243.4 630.9L243.5 630.9L243.5 630.9L243.6 630.9L243.7 631.1L243.8 631.1L243.9 631.1L243.9 631.2L244.0 631.3L244.1 631.2L244.2 631.1L244.3 631.2L244.3 631.1L244.4 630.9L244.5 631.0L244.6 631.0L244.7 630.9L244.7 631.0L244.8 630.9L244.9 630.8L245.0 630.9L245.1 630.9L245.1 630.7L245.2 630.8L245.3 630.8L245.4 630.6L245.5 630.6L245.5 630.6L245.6 630.6L245.7 630.4L245.8 630.5L245.9 630.5L245.9 630.4L246.0 630.3L246.1 630.3L246.2 630.2L246.3 630.2L246.3 630.2L246.4 630.2L246.5 630.2L246.6 630.0L246.7 630.0L246.8 630.0L246.8 630.0L246.9 629.9L247.0 629.8L247.1 629.8L247.2 629.8L247.2 629.7L247.3 629.7L247.4 629.7L247.5 629.8L247.6 629.8L247.6 629.8L247.7 629.9L247.8 629.9L247.9 630.0L247.9 630.2L248.0 630.1L248.1 630.2L248.2 630.3L248.3 630.4L248.3 630.5L248.4 630.5L248.5 630.7L248.6 630.7L248.7 630.9L248.7 630.9L248.8 631.3L248.9 631.1L249.0 631.3L249.1 631.5L249.1 631.4L249.2 631.7L249.3 631.8L249.4 631.6L249.5 631.7L249.5 631.7L249.6 631.8L249.7 631.8L249.8 632.0L249.9 631.9L249.9 631.8L250.0 631.9L250.1 631.9L250.2 632.0L250.3 631.9L250.3 631.9L250.4 631.8L250.5 632.0L250.6 631.5L250.7 631.5L250.7 631.8L250.8 631.5L250.9 631.6L251.0 631.6L251.0 631.6L251.1 631.6L251.2 631.7L251.3 631.9L251.4 632.1L251.4 632.0L251.5 631.9L251.6 632.2L251.7 632.1L251.8 632.2L251.8 632.2L251.9 632.3"/>
<path stroke="#ff0000" stroke-width="3.10" d="M251.6 632.2L251.7 632.1L251.8 632.2L251.8 632.2L251.9 632.3L252.0 632.1L252.1 632.2L252.1 632.1L252.2 632.2L252.3 632.2L252.4 632.1L252.5 632.0L252.5 632.1L252.6 632.2L252.7 632.1L252.8 632.0L252.9 632.0L252.9 631.9L253.0 632.0L253.1 632.1L253.2 631.9L253.2 632.0L253.3 632.1L253.4 632.1L253.5 632.3L253.6 632.4L253.6 632.1L253.7 632.1L253.8 632.1L253.9 632.4L254.0 632.3L254.0 632.4L254.1 632.3L254.2 632.5L254.3 632.5L254.3 632.6L254.4 632.4L254.5 632.3L254.6 632.5L254.7 632.4L254.7 632.2L254.8 632.4L254.9 632.6L255.0 632.5L255.1 632.3L255.1 632.5L255.2 632.6L255.3 632.7L255.4 632.5L255.5 632.9L255.5 632.6L255.6 632.8L255.7 632.8L255.8 633.0L255.9 633.0L255.9 632.6L256.0 633.0L256.1 633.2L256.2 633.2L256.3 633.4L256.3 633.6L256.4 633.7L256.5 633.7L256.6 633.5L256.7 633.9L256.7 633.7L256.8 634.0L256.9 633.8L257.0 634.0L257.0 633.9L257.1 634.1L257.2 634.0L257.3 634.1L257.4 634.2L257.4 634.3L257.5 634.4L257.6 634.4L257.7 634.5L257.8 634.4L257.8 634.4L257.9 634.5L258.0 634.6L258.1 634.5L258.2 634.4L258.2 634.4L258.3 634.6L258.8 634.3L259.3 634.5L259.8 634.2L260.2 634.3L260.7 633.9L261.2 634.2L261.7 634.2L262.1 633.8L262.6 633.6L263.1 633.7L263.6 633.3L264.0 633.1L264.5 633.0L265.0 633.1L265.5 632.7L266.0 632.8L266.4 633.2L266.9 633.6L267.4 633.8L267.9 633.5L268.3 633.2L268.8 634.2L269.3 634.2L269.8 634.3L270.2 634.2L270.7 634.0L271.2 633.8L271.7 634.0"/>
<path stroke="#ff0000" stroke-width="3.2" d="M271.7 634.0L272.1 633.6L272.6 633.7L273.1 633.5L273.6 633.4L274.1 634.1L274.5 633.7L275.0 634.5L275.5 634.3L276.0 634.4L276.4 634.6L276.9 634.6L277.4 635.4L277.9 634.6L278.3 634.6L278.8 634.7L279.3 634.7L279.8 635.0L280.3 635.0L280.7 635.5L281.2 634.7L281.7 634.7L282.2 634.2L282.6 634.0L283.1 634.2L283.6 634.2L284.1 634.5L284.5 635.3L285.0 635.4L285.5 635.5L286.0 635.7L286.5 636.1L286.9 635.9L287.4 635.8L287.9 637.3L288.4 636.0L288.8 636.7L289.3 636.5L289.8 636.2L290.3 636.1L290.7 634.9L291.2 636.0L291.7 636.6L292.2 636.8L292.7 636.2L293.1 636.6L293.6 636.4L294.1 636.7L294.6 635.9L295.0 636.0L295.5 635.8L296.0 636.4L296.5 636.0L296.9 636.2L297.4 636.8L297.9 635.9L298.4 636.7L298.9 636.4L299.3 636.9L299.8 636.5L300.3 637.3L300.8 636.7L301.2 636.8L301.7 636.5L302.2 636.5L302.7 635.6L303.1 636.8L303.6 635.7L304.1 636.3L304.6 635.0L305.1 636.1L305.5 635.9L306.0 636.9L306.5 635.7L307.0 636.5L307.4 636.8L307.9 636.5L308.4 635.9L308.9 636.7L309.3 636.4L309.8 635.7L310.3 636.0L310.8 636.7L311.3 637.0L311.7 635.9L312.2 636.0L312.7 636.2L313.2 635.9L313.6 636.7L314.1 636.3L314.6 637.0L315.1 636.7L315.5 636.6L316.0 636.7L316.5 636.2L317.0 635.1L317.5 636.0L317.9 635.6L318.4 636.0L318.9 636.8L319.4 635.8L319.8 637.0L320.3 635.9L320.8 636.2L321.3 636.5L321.7 636.0L322.2 636.6L322.7 635.5L323.2 636.8L323.7 635.3L324.1 635.5L324.6 635.8L325.1 636.6L325.6 636.9L326.0 637.5L326.5 636.6L327.0 636.5L327.5 636.0L327.9 636.0L328.4 635.9L328.9 636.7L329.4 636.0L329.9 636.0L330.3 635.8L330.8 637.4L331.3 635.5L331.8 636.6L332.2 635.6L332.7 635.7L333.2 635.0L333.7 635.8L334.1 636.0L334.6 636.0L335.1 636.2L335.6 636.5L336.1 636.3L336.5 636.3L337.0 635.5L337.5 636.3L338.0 635.5L338.4 636.0L338.9 636.3L339.4 635.8L339.9 636.8L340.3 635.8L340.8 635.8L341.3 636.5L341.8 636.3L342.3 636.0L342.7 635.6L343.2 636.0L343.7 636.3L344.2 635.8L344.6 637.1L345.1 635.2L345.6 636.0L346.1 635.5L346.5 635.0L347.0 636.2L347.5 636.1L348.0 635.9L348.5 636.1L348.9 635.4L349.4 636.6L349.9 635.8L350.4 635.7L350.8 635.7L351.3 636.2L351.8 635.4L352.3 635.4L352.7 636.0L353.2 635.7L353.7 636.6L354.2 635.7L354.7 636.0L355.1 635.7L355.6 635.6L356.1 635.7L356.6 635.8L357.0 636.3L357.5 636.7L358.0 636.4L358.5 635.3L358.9 635.7L359.4 636.1L359.9 636.2L360.4 635.4L360.8 635.7L361.3 634.8L361.8 635.5L362.3 636.0L362.8 636.6L363.2 636.2L363.7 635.5L364.2 636.4L364.7 635.4L365.1 635.7L365.6 636.6L366.1 635.7L366.6 636.2L367.0 635.4L367.5 636.0L368.0 635.6L368.5 636.3L369.0 635.7L369.4 635.4L369.9 636.1L370.4 636.1L370.9 636.3L371.3 635.3L371.8 635.6L372.3 635.3L372.8 635.2L373.2 635.2L373.7 635.1L374.2 635.7L374.7 635.6L375.2 635.6L375.6 636.7L376.1 636.8L376.6 635.7L377.1 635.3L377.5 635.7L378.0 635.8L378.5 635.0L379.0 635.2L379.4 634.8L379.9 635.0L380.4 635.2L380.9 634.9L381.4 634.6L381.8 634.7L382.3 635.9L382.8 634.7L383.3 635.7L383.7 636.0L384.2 636.0L384.7 635.5L385.2 636.7L385.6 636.0L386.1 635.4L386.6 635.2L387.1 635.2L387.6 635.6L388.0 636.0L388.5 635.9L389.0 635.2L389.5 635.5L389.9 635.9L390.4 636.3L390.9 636.2L391.4 636.0L391.8 635.8L392.3 635.7L392.8 635.0L393.3 635.2L393.8 635.3L394.2 635.2L394.7 636.5L395.2 636.1L395.7 635.4L396.1 635.3L396.6 635.8L397.1 636.5L397.6 636.6L398.0 635.7L398.5 635.5L399.0 636.6L399.5 636.1L400.0 636.1L400.4 635.5L400.9 635.4L401.4 635.7L401.9 635.9L402.3 635.6L402.8 636.0L403.3 636.0L403.8 635.2L404.2 635.7L404.7 636.7L405.2 635.7L405.7 635.6L406.2 636.6L406.6 634.8L407.1 635.6L407.6 635.6L408.1 635.8L408.5 635.1L409.0 635.3L409.5 636.0L410.0 636.7L410.4 635.1L410.9 635.5L411.4 636.4L411.9 634.9L412.4 636.7L412.8 635.6L413.3 636.3L413.8 636.7L414.3 636.2L414.7 635.0L415.2 636.2L415.7 635.3L416.2 636.2L416.6 636.3L417.1 635.7L417.6 636.5L418.1 635.1L418.6 636.1L419.0 636.1L419.5 635.0L420.0 635.1L420.5 635.7L420.9 635.1L421.4 634.8L421.9 635.5L422.4 636.0L422.8 635.4L423.3 635.4L423.8 636.0L424.3 635.6L424.8 635.7L425.2 636.1L425.7 635.1L426.2 635.3L426.7 635.0L427.1 634.7L427.6 636.7L428.1 636.0L428.6 635.8L429.0 635.0L429.5 635.8L430.0 635.4L430.5 636.2L431.0 635.4L431.4 635.1L431.9 635.0L432.4 635.3L432.9 635.7L433.3 634.7L433.8 635.8L434.3 635.9L434.8 636.0L435.2 635.7L435.7 635.2L436.2 635.5L436.7 635.1L437.2 635.2L437.6 635.2L438.1 635.5L438.6 636.1L439.1 634.3L439.5 635.2L440.0 635.0L440.5 635.2L441.0 635.6L441.4 635.4L441.9 635.1L442.4 634.7L442.9 635.0L443.3 635.8L443.8 635.7L444.3 636.1L444.8 635.6L445.3 635.6L445.7 635.7L446.2 635.6L446.7 634.8L447.2 636.1L447.6 636.4L448.1 636.0L448.6 635.2L449.1 636.2L449.5 635.2L450.0 635.1L450.5 635.7L451.0 636.2L451.5 635.2L451.9 636.1L452.4 635.8L452.9 635.1L453.4 635.5L453.8 636.6L454.3 635.8L454.8 636.3L455.3 634.8L455.7 635.5L456.2 635.8L456.7 635.6L457.2 635.5L457.7 635.8L458.1 635.9L458.6 635.3L459.1 635.6L459.6 635.1L460.0 634.8L460.5 634.6L461.0 636.0L461.5 635.6L461.9 636.2L462.4 636.4L462.9 634.9L463.4 634.7L463.9 635.4L464.3 635.7L464.8 635.6L465.3 635.3L465.8 634.8L466.2 634.9L466.7 635.6L467.2 635.1L467.7 636.1L468.1 635.4L468.6 635.1L469.1 635.2L469.6 636.0L470.1 635.6L470.5 635.4L471.0 635.4L471.5 635.7L472.0 635.2L472.4 634.7L472.9 636.1L473.4 635.3L473.9 634.6L474.3 635.6L474.8 635.7L475.3 635.4L475.8 635.6L476.3 635.9L476.7 636.9L477.2 635.8L477.7 635.8L478.2 635.5L478.6 635.3L479.1 636.3L479.6 636.0L480.1 635.4L480.5 635.4L481.0 636.2L481.5 636.1L482.0 635.4L482.5 635.7L482.9 635.3L483.4 635.7L483.9 635.4L484.4 636.3L484.8 635.6L485.3 635.5L485.8 635.8L486.3 636.3L486.7 635.0L487.2 635.1L487.7 635.6L488.2 634.9L488.7 634.4L489.1 635.0L489.6 634.5L490.1 634.8L490.6 635.3L491.0 635.0L491.5 634.6L492.0 635.0L492.5 635.4L492.9 636.1L493.4 636.0L493.9 636.0L494.4 636.3L494.9 636.4L495.3 636.1L495.8 635.4L496.3 635.2L496.8 635.5L497.2 635.4L497.7 635.1L498.2 636.4L498.7 635.6L499.1 636.1L499.6 635.5L500.1 637.0L500.6 636.2L501.1 636.9L501.5 636.1L502.0 636.2L502.5 636.1L503.0 635.3L503.4 636.1L503.9 635.5L504.4 635.3L504.9 635.8L505.3 635.4L505.8 635.6L506.3 635.5L506.8 635.9L507.3 636.0L507.7 635.7L508.2 635.0L508.7 635.3L509.2 635.8L509.6 635.8L510.1 635.0L510.6 635.2L511.1 635.7L511.5 635.4L512.0 635.6L512.5 635.1L513.0 635.8L513.5 635.2L513.9 635.0L514.4 635.3L514.9 635.8L515.4 636.1L515.8 635.2L516.3 634.8L516.8 635.9L517.3 635.7L517.7 635.1L518.2 635.4L518.7 635.1L519.2 634.9L519.7 635.4L520.1 634.4L520.6 635.4L521.1 635.6L521.6 635.1L522.0 635.0L522.5 635.7L523.0 635.0L523.5 635.1L523.9 635.0L524.4 635.4L524.9 635.0L525.4 634.6L525.9 635.5L526.3 635.3L526.8 635.2L527.3 635.6L527.8 635.0L528.2 635.1L528.7 635.3L529.2 634.5L529.7 635.8L530.1 635.7L530.6 636.8L531.1 635.2L531.6 635.6L532.0 635.2L532.5 636.2L533.0 635.8L533.5 635.4L534.0 634.5L534.4 635.1L534.9 636.4L535.4 634.5L535.9 634.7L536.3 635.5L536.8 635.7L537.3 635.3L537.8 635.7L538.2 635.1L538.7 634.7L539.2 635.1L539.7 635.7L540.2 635.1L540.6 635.2L541.1 635.4L541.6 635.2L542.1 635.0L542.5 635.4L543.0 635.2L543.5 635.1L544.0 635.7L544.4 635.3L544.9 635.8L545.4 635.9L545.9 635.4L546.4 635.3L546.8 635.2L547.3 635.7L547.8 636.3L548.3 635.7L548.7 635.5L549.2 635.4L549.7 635.5L550.2 635.8L550.6 635.8L551.1 635.4L551.6 635.4L552.1 635.9L552.6 635.7L553.0 635.6L553.5 636.1L554.0 635.7L554.5 635.8L554.9 635.2L555.4 635.9L555.9 635.6L556.4 635.2L556.8 635.1L557.3 635.8L557.8 635.8L558.3 635.7L558.8 635.4L559.2 635.1L559.7 635.3L560.2 634.7L560.7 635.2L561.1 636.2L561.6 635.5L562.1 635.0L562.6 635.1L563.0 636.0L563.5 636.0L564.0 635.8L564.5 635.6L565.0 636.1L565.4 635.6L565.9 635.1L566.4 635.4L566.9 635.1L567.3 635.9L567.8 635.1L568.3 635.7L568.8 635.4L569.2 635.6L569.7 636.2L570.2 636.1L570.7 634.9L571.2 635.1L571.6 635.2L572.1 635.7L572.6 635.4L573.1 635.6L573.5 635.9L574.0 635.9L574.5 635.0L575.0 635.3L575.4 635.6L575.9 635.4L576.4 635.5L576.9 635.2L577.4 635.3L577.8 635.1L578.3 635.4L578.8 635.6L579.3 635.3L579.7 635.9L580.2 636.2L580.7 635.4L581.2 635.8L581.6 635.3L582.1 634.6L582.6 635.6L583.1 635.4L583.6 636.0L584.0 634.8L584.5 634.7L585.0 635.1L585.5 634.7L585.9 635.0L586.4 635.7L586.9 635.5L587.4 635.5L587.8 634.9L588.3 636.0L588.8 635.6L589.3 635.0L589.8 635.2L590.2 635.9L590.7 635.7L591.2 635.2L591.7 634.9L592.1 635.8L592.6 635.2L593.1 636.1L593.6 635.3L594.0 635.3L594.5 635.6L595.0 635.5L595.5 634.1L596.0 636.2L596.4 636.2L596.9 635.6L597.4 635.2L597.9 636.1L598.3 635.8L598.8 635.8L599.3 635.7L599.8 636.6L600.2 635.7L600.7 635.7L601.2 635.3L601.7 635.8L602.2 634.2L602.6 635.2L603.1 635.9L603.6 635.3L604.1 635.2L604.5 636.3L605.0 635.7L605.5 636.0L606.0 635.7L606.4 635.3L606.9 635.9L607.4 635.2L607.9 634.7L608.4 635.2L608.8 634.8L609.3 635.1L609.8 635.2L610.3 634.6L610.7 635.6L611.2 635.1L611.7 634.1L612.2 635.0L612.6 635.0L613.1 634.8L613.6 634.9L614.1 635.1L614.5 634.5L615.0 635.6L615.5 635.9L616.0 634.8L616.5 635.4L616.9 635.1L617.4 635.0L617.9 634.8L618.4 635.3L618.8 634.9L619.3 635.1L619.8 635.8L620.3 635.5L620.7 635.0L621.2 635.4L621.7 634.6L622.2 635.4L622.7 635.1L623.1 635.6L623.6 635.9L624.1 635.9L624.6 636.3L625.0 635.2L625.5 635.8L626.0 635.6L626.5 636.3L626.9 636.4L627.4 636.2L627.9 635.3L628.4 634.9L628.9 634.7L629.3 635.4L629.8 635.4L630.3 636.2L630.8 636.5L631.2 635.8L631.7 635.3L632.2 635.1L632.7 635.5L633.1 635.1L633.6 635.1L634.1 635.1L634.6 634.4L635.1 635.8L635.5 635.2L636.0 635.5L636.5 635.4L637.0 635.1L637.4 635.9L637.9 634.7L638.4 635.5L638.9 634.9L639.3 635.5L639.8 634.6L640.3 636.0L640.8 635.7L641.3 634.6L641.7 635.2L642.2 634.7L642.7 635.2L643.2 635.6L643.6 635.8L644.1 635.1L644.6 635.4L645.1 635.4L645.5 636.5L646.0 635.1L646.5 635.1L647.0 634.7L647.5 635.7L647.9 636.2L648.4 635.7L648.9 634.9L649.4 635.3L649.8 635.1L650.3 635.3L650.8 635.7L651.3 635.6L651.7 635.6L652.2 635.3L652.7 636.3L653.2 635.1L653.7 635.1L654.1 635.9L654.6 636.0L655.1 634.6L655.6 634.8L656.0 635.2L656.5 635.3L657.0 634.1L657.5 634.6L657.9 635.0L658.4 634.6L658.9 635.6L659.4 635.6L659.9 635.7L660.3 635.1L660.8 636.0L661.3 635.3L661.8 636.0L662.2 635.3L662.7 635.6L663.2 636.2L663.7 634.8L664.1 634.7L664.6 634.9L665.1 635.9L665.6 635.2L666.1 634.9L666.5 635.3L667.0 635.9L667.5 635.2L668.0 635.4L668.4 635.7L668.9 635.2L669.4 636.1L669.9 635.1L670.3 635.0L670.8 634.3L671.3 635.0L671.8 635.7L672.3 636.0L672.7 635.4L673.2 635.8L673.7 634.6L674.2 634.6L674.6 635.1L675.1 635.1L675.6 635.0L676.1 634.1L676.5 634.6L677.0 635.3L677.5 635.0L678.0 635.0L678.5 635.5L678.9 634.4L679.4 635.8L679.9 635.0L680.4 635.3L680.8 634.3L681.3 634.7L681.8 635.0L682.3 634.9L682.7 635.2L683.2 635.6L683.7 635.0L684.2 635.1L684.7 635.0L685.1 635.2L685.6 635.8L686.1 635.2L686.6 635.6L687.0 634.9L687.5 634.7L688.0 635.6L688.5 635.1L688.9 635.4L689.4 635.2L689.9 635.7L690.4 635.5L690.9 634.5L691.3 634.7L691.8 635.4L692.3 635.2L692.8 634.9L693.2 635.3L693.7 635.5L694.2 635.6L694.7 634.9L695.1 635.2L695.6 635.3L696.1 635.8L696.6 635.7L697.1 635.9L697.5 634.2L698.0 634.8L698.5 634.9L699.0 634.2L699.4 635.6L699.9 635.4L700.4 635.2L700.9 635.2L701.3 634.8L701.8 635.2L702.3 634.9L702.8 635.0L703.2 634.8L703.7 635.4L704.2 635.6L704.7 634.6L705.2 635.9L705.6 634.8L706.1 634.8L706.6 635.3L707.1 635.6L707.5 635.3L708.0 635.6L708.5 635.9L709.0 635.0L709.4 635.2L709.9 636.5L710.4 636.2L710.9 635.7L711.4 634.4L711.8 635.7L712.3 635.6L712.8 635.1L713.3 635.3L713.7 635.8L714.2 634.5L714.7 634.9L715.2 635.5L715.6 634.9L716.1 635.3L716.6 635.1L717.1 634.8L717.6 635.1L718.0 633.8L718.5 635.2L719.0 635.4L719.5 634.7L719.9 635.6L720.4 635.3L720.9 635.0L721.4 635.9L721.8 635.7L722.3 634.6L722.8 635.1L723.3 636.2L723.8 635.6L724.2 635.0L724.7 635.0L725.2 635.6L725.7 635.8L726.1 634.8L726.6 635.3L727.1 635.5L727.6 633.9L728.0 634.2L728.5 634.6L729.0 634.3L729.5 634.9L730.0 634.6L730.4 634.8L730.9 634.7L731.4 634.9L731.9 635.1L732.3 635.7L732.8 635.3L733.3 634.5L733.8 634.7L734.2 634.8L734.7 634.3L735.2 634.5L735.7 635.7L736.2 634.9L736.6 635.6L737.1 635.0L737.6 634.3L738.1 634.7L738.5 634.1L739.0 634.8L739.5 634.4L740.0 635.3L740.4 635.4L740.9 635.5L741.4 635.8L741.9 635.4L742.4 635.7L742.8 635.2L743.3 635.6L743.8 635.3L744.3 634.7L744.7 634.9L745.2 635.0L745.7 635.4L746.2 635.2L746.6 635.5L747.1 634.4L747.6 634.9L748.1 634.3L748.6 635.4L749.0 634.6L749.5 635.8L750.0 635.3L750.5 635.4L750.9 635.1L751.4 634.8L751.9 635.4L752.4 634.6L752.8 634.5L753.3 634.8L753.8 634.6L754.3 634.8L754.8 634.4L755.2 635.0L755.7 634.2L756.2 634.3L756.7 634.7L757.1 634.8L757.6 634.9L758.1 635.6L758.6 635.0L759.0 635.3L759.5 634.7L760.0 635.4L760.5 634.3L761.0 634.8L761.4 635.7L761.9 635.4L762.4 635.3L762.9 635.0L763.3 635.2L763.8 635.8L764.3 635.6L764.8 636.8L765.2 635.7L765.7 635.6L766.2 635.5L766.7 634.9L767.2 634.7L767.6 634.5L768.1 634.9L768.6 634.9L769.1 635.6L769.5 634.3L770.0 635.0L770.5 634.9L771.0 634.8L771.4 635.5L771.9 635.1L772.4 635.4L772.9 636.0L773.4 634.9L773.8 635.3L774.3 635.2L774.8 635.2L775.3 635.4L775.7 635.6L776.2 635.8L776.7 634.9L777.2 635.3L777.6 635.0L778.1 634.9L778.6 634.8L779.1 633.3L779.6 635.4L780.0 634.3L780.5 635.0L781.0 635.1L781.5 634.3L781.9 634.6L782.4 635.1L782.9 635.0L783.4 635.2L783.8 634.9L784.3 634.7L784.8 634.9L785.3 635.3L785.7 635.4L786.2 635.3L786.7 634.4L787.2 635.5L787.7 635.0L788.1 636.2L788.6 635.2L789.1 635.4L789.6 634.5L790.0 635.6L790.5 634.8L791.0 634.8L791.5 635.1L791.9 636.2L792.4 634.5L792.9 635.0L793.4 634.7L793.9 635.5L794.3 635.1L794.8 635.0L795.3 635.1L795.8 634.5L796.2 635.2L796.7 635.3L797.2 635.0L797.7 635.6L798.1 634.8L798.6 633.7L799.1 634.8L799.6 634.7L800.1 634.9L800.5 634.3L801.0 634.5L801.5 634.4L802.0 636.1L802.4 634.3L802.9 635.2L803.4 634.6L803.9 634.9L804.3 634.8L804.8 635.0L805.3 633.7L805.8 635.5L806.3 635.8L806.7 634.2L807.2 634.8L807.7 635.1L808.2 634.8L808.6 635.4L809.1 634.5L809.6 634.5L810.1 635.6L810.5 635.4L811.0 635.5L811.5 635.1L812.0 635.3L812.5 634.3L812.9 635.5L813.4 635.0L813.9 635.0L814.4 635.6L814.8 635.7L815.3 635.3L815.8 635.2L816.3 635.5L816.7 635.4L817.2 636.1L817.7 635.5L818.2 635.3L818.7 635.3L819.1 634.6L819.6 635.5L820.1 635.8L820.6 636.1L821.0 635.1L821.5 635.4L822.0 634.2L822.5 635.8L822.9 635.1L823.4 635.6L823.9 634.4L824.4 635.0L824.9 635.8L825.3 635.6L825.8 634.2L826.3 635.1L826.8 635.3L827.2 635.7L827.7 635.6L828.2 636.2L828.7 635.7L829.1 635.0L829.6 635.3L830.1 634.8L830.6 634.6L831.1 635.3L831.5 635.6L832.0 635.5L832.5 635.7L833.0 636.1L833.4 635.7L833.9 634.7L834.4 635.7L834.9 635.6L835.3 635.2L835.8 634.7L836.3 634.9L836.8 634.6L837.3 635.0L837.7 634.7L838.2 634.4L838.7 634.3L839.2 634.2L839.6 634.6L840.1 634.4L840.6 635.2L841.1 635.6L841.5 635.5L842.0 635.5L842.5 636.1L843.0 635.4L843.5 635.0L843.9 635.5L844.4 635.6L844.9 635.6L845.4 634.7L845.8 634.6L846.3 634.4L846.8 635.8L847.3 635.6L847.7 634.0L848.2 634.6L848.7 635.2L849.2 634.9L849.7 634.8L850.1 634.7L850.6 634.0L851.1 634.1L851.6 634.4L852.0 635.1L852.5 634.2L853.0 633.2L853.5 634.2L853.9 635.5L854.4 635.3L854.9 634.9L855.4 634.5L855.9 634.7L856.3 635.9L856.8 636.0L857.3 635.8L857.8 636.0L858.2 635.4L858.7 634.8L859.2 634.8L859.7 635.7L860.1 635.8L860.6 635.6L861.1 635.2L861.6 635.9L862.1 635.5L862.5 635.1L863.0 635.9L863.5 634.6L864.0 635.8L864.4 635.6L864.9 635.5L865.4 635.7L865.9 634.8L866.3 636.8L866.8 634.6L867.3 634.9L867.8 635.6L868.2 634.7L868.7 634.8L869.2 635.3L869.7 634.3L870.2 634.9L870.6 635.6L871.1 635.0L871.6 634.4L872.1 634.5L872.5 634.5L873.0 634.2L873.5 633.9L874.0 634.4L874.4 634.4L874.9 635.1L875.4 635.1L875.9 635.3L876.4 633.8L876.8 634.2L877.3 633.5L877.8 634.2L878.3 633.9L878.7 633.5L879.2 634.8L879.7 634.0L880.2 635.0L880.6 634.5L881.1 633.8L881.6 632.9L882.1 634.1L882.6 634.7L883.0 634.9L883.5 635.3L884.0 634.3L884.5 635.4L884.9 635.8L885.4 635.5L885.9 635.7L886.4 635.3L886.8 633.8L887.3 634.7L887.8 634.9L888.3 634.7L888.8 634.5L889.2 635.4L889.7 635.9L890.2 636.2L890.7 635.6L891.1 636.8L891.6 636.4L892.1 636.4L892.6 634.0L893.0 634.9L893.5 634.8L894.0 633.3L894.5 632.7L895.0 632.2L895.4 634.1L895.9 634.7L896.4 634.7L896.9 635.1L897.3 635.2L897.8 634.3L898.3 634.1L898.8 635.2L899.2 634.5L899.7 634.3L900.2 634.0L900.7 634.3L901.2 634.1L901.6 633.8L902.1 634.8L902.6 633.7L903.1 634.8L903.5 634.7L904.0 634.2L904.5 633.3L905.0 633.1L905.4 632.7L905.9 632.3L906.4 632.5L906.9 632.5L907.4 633.1L907.8 634.2L908.3 634.9L908.8 635.6L909.3 635.9L909.7 636.4L910.2 637.0L910.7 636.6L911.2 637.5L911.6 637.0L912.1 637.6L912.6 635.3L913.1 634.7L913.6 634.6L914.0 633.0L914.5 633.2L915.0 633.5L915.5 633.7L915.9 634.5L916.4 635.1L916.9 633.5L917.4 634.5L917.8 634.9L918.3 632.5L918.8 633.2L919.3 634.4L919.8 633.8L920.2 635.0L920.7 633.9L921.2 634.4L921.7 634.8L922.1 635.5L922.6 634.5L923.1 633.5L923.6 632.7L924.0 633.5L924.5 636.0L925.0 636.6L925.5 635.9L926.0 635.0L926.4 634.7L926.9 635.9L927.4 637.3L927.9 638.4L928.3 637.9L928.8 635.4L929.3 636.0L929.8 636.3L930.2 636.7L930.7 635.0L931.2 635.3L931.7 633.2L932.2 632.9L932.6 634.5L933.1 635.1L933.6 635.0L934.1 635.7L934.5 634.2L935.0 635.6L935.5 635.9L936.0 634.8L936.4 633.7L936.9 632.4L937.4 631.8L937.9 630.7L938.4 630.4L938.8 630.4L939.3 630.2L939.8 629.6L940.3 632.5L940.7 634.8L941.2 635.6L941.7 634.9L942.2 632.3L942.6 631.0L943.1 631.4L943.6 633.0L944.1 630.0L944.6 631.0L945.0 628.3L945.5 629.0L946.0 629.8L946.5 633.9L946.9 636.0L947.4 637.1L947.9 636.3L948.4 632.9L948.8 634.0L949.3 634.5L949.8 637.1L950.3 634.5L950.8 635.3L951.2 636.2L951.7 635.4L952.2 634.1L952.7 634.9L953.1 637.3L953.6 638.7L954.1 635.7L954.6 633.6L955.0 632.0L955.5 632.1L956.0 632.6L956.5 630.8L956.9 629.1L957.4 628.5L957.9 629.6L958.4 632.1L958.9 631.8L959.3 635.7L959.8 636.9L960.3 639.1L960.8 636.8L961.2 638.3L961.7 635.6L962.2 637.9L962.7 636.2L963.1 639.9L963.6 639.1L964.1 637.8L964.6 636.1L965.1 634.1L965.5 630.1L966.0 629.9L966.5 628.9L967.0 630.5L967.4 632.7L967.9 630.9L968.4 631.5L968.9 629.2L969.3 631.0L969.8 630.0L970.3 634.4L970.8 629.1L971.3 631.2L971.7 631.7L972.2 637.8L972.7 636.2L973.2 637.5L973.6 633.9L974.1 633.4L974.6 632.3L975.1 632.4L975.5 630.6L976.0 631.7L976.5 630.7L977.0 633.8L977.5 631.9L977.9 633.7L978.4 628.2L978.9 632.1L979.4 629.0L979.8 632.3L980.3 633.6L980.8 634.2L981.3 635.7L981.7 634.6L982.2 635.8L982.7 631.1L983.2 631.4L983.7 629.2L984.1 632.2L984.6 633.4L985.1 635.6L985.6 637.3L986.0 641.4L986.5 636.6L987.0 636.4L987.5 633.4L987.9 635.6L988.4 629.5L988.9 629.9L989.4 629.2L989.9 631.3L990.3 629.4L990.8 628.0L991.3 627.9L991.8 627.9L992.2 627.6L992.7 626.1L993.2 626.5L993.7 630.3L994.1 629.3L994.6 629.9L995.1 629.0L995.6 633.9L996.1 634.9L996.5 632.5"/>
<path stroke="#00ff00" d="M167.2 507.3L167.2 507.3L167.3 507.0L167.4 506.6L167.5 506.0L167.6 505.2L167.6 504.3L167.7 503.2L167.8 501.9L167.9 500.6L168.0 499.1L168.1 497.7L168.1 496.2L168.2 494.8L168.3 493.5L168.4 492.3L168.5 491.2L168.5 490.2L168.6 489.5L168.7 489.0L168.8 488.7L168.9 489.0L168.9 489.5L169.0 490.1L169.1 490.9L169.2 491.8L169.3 492.9L169.4 494.0L169.4 495.3L169.5 496.7L169.6 498.1L169.7 499.6L169.8 501.2L169.8 502.7L169.9 504.3L170.0 505.9L170.1 507.5L170.2 509.0L170.2 510.5L170.3 511.9L170.4 513.3L170.5 514.5L170.6 515.7L170.6 516.7L170.7 517.6L170.8 518.4L170.9 519.0L171.0 519.5L171.0 519.9L171.1 520.2L171.2 520.3L171.3 520.3L171.4 520.3L171.4 520.1L171.5 519.8L171.6 519.3L171.7 518.6L171.8 517.7L171.8 516.7L171.9 515.4L172.0 514.0L172.1 512.4L172.2 510.5L172.2 508.5L172.3 506.3L172.4 504.0L172.5 501.5L172.5 498.8L172.6 496.1L172.7 493.2L172.8 490.1L172.9 487.1L172.9 483.9L173.0 480.7L173.1 477.4L173.2 474.1L173.3 470.8L173.3 467.6L173.4 464.3L173.5 461.2L173.6 458.0L173.6 455.0L173.7 452.1L173.8 449.3L173.9 446.6L174.0 444.1L174.0 441.7L174.1 439.6L174.2 437.6L174.3 435.8L174.4 434.2L174.4 432.8L174.5 431.6L174.6 430.7L174.7 430.0L174.7 430.8L174.8 431.8L174.9 433.2L175.0 434.7L175.1 436.6L175.2 438.7L175.2 440.9L175.3 443.4L175.4 446.1L175.5 448.9L175.6 451.8L175.6 454.8L175.7 457.9L175.8 461.0L175.9 464.1L176.0 467.3L176.0 470.3L176.1 473.3L176.2 476.2L176.3 478.9L176.4 481.5L176.4 483.9L176.5 486.1L176.6 488.1L176.7 489.9L176.8 491.5L176.8 492.8L176.9 493.9L177.0 494.7L177.1 495.4L177.2 495.8L177.2 496.0L177.3 496.0L177.4 496.0L177.5 495.8L177.6 495.3L177.6 494.7L177.7 493.8L177.8 492.6L177.9 491.2L178.0 489.4L178.0 487.4L178.1 485.2L178.2 482.6L178.3 479.8L178.4 476.7L178.4 473.4L178.5 469.8L178.6 466.0L178.7 462.0L178.8 457.8L178.8 453.5L178.9 448.9L179.0 444.3L179.1 439.6L179.2 434.8L179.2 430.0L179.3 425.1L179.4 420.3L179.5 415.5L179.6 410.7L179.6 406.1L179.7 401.5L179.8 397.1L179.9 392.8L180.0 388.8L180.0 384.9L180.1 381.3L180.2 377.9L180.3 374.8L180.4 371.9L180.4 369.4L180.5 367.1L180.6 365.2L180.7 363.6L180.7 362.3L180.8 363.9L180.9 365.9L181.0 368.3L181.1 371.2L181.2 374.5L181.2 378.1L181.3 382.0L181.4 386.3L181.5 390.9L181.6 395.7L181.6 400.6L181.7 405.8L181.8 411.0L181.9 416.3L182.0 421.6L182.0 426.8L182.1 432.0L182.2 437.1L182.3 441.9L182.4 446.6L182.4 451.0L182.5 455.2L182.6 459.0L182.7 462.5L182.8 465.7L182.8 468.5L182.9 470.9L183.0 472.9L183.1 474.6L183.2 475.8L183.2 476.8L183.3 477.4L183.4 477.7L183.5 477.7L183.6 477.7L183.6 477.4L183.7 476.8L183.8 476.0L183.9 474.8L184.0 473.3L184.0 471.4L184.1 469.2L184.2 466.5L184.3 463.5L184.4 460.1L184.4 456.3L184.5 452.2L184.6 447.7L184.7 442.9L184.7 437.8L184.8 432.5L184.9 426.8L185.0 421.0L185.1 415.0L185.1 408.8L185.2 402.4L185.3 396.1L185.4 389.6L185.5 383.2L185.5 376.8L185.6 370.4L185.7 364.2L185.8 358.1L185.8 352.3L185.9 346.6L186.0 341.2L186.1 336.0L186.2 331.2L186.2 326.8L186.3 322.7L186.4 318.9L186.5 315.6L186.6 312.7L186.6 310.2L186.7 308.2L186.8 310.9L186.9 314.2L186.9 318.0L187.0 322.4L187.1 327.4L187.2 332.9L187.3 338.8L187.3 345.2L187.4 351.9L187.5 359.0L187.6 366.3L187.7 373.9L187.7 381.6L187.8 389.4L187.9 397.3L188.0 405.1L188.1 412.8L188.1 420.4L188.2 427.8L188.3 435.0L188.4 441.8L188.5 448.3L188.5 454.4L188.6 460.1L188.7 465.3L188.8 470.0L188.9 474.2L188.9 477.9L189.0 481.0L189.1 483.7L189.2 485.8L189.3 487.4L189.3 488.6L189.4 489.4L189.5 489.7L189.6 489.9L189.6 489.8L189.7 489.5L189.8 488.9L189.9 488.0L190.0 486.7L190.0 485.0L190.1 483.0L190.2 480.5L190.3 477.6L190.4 474.3L190.4 470.5L190.5 466.4L190.6 461.8L190.7 456.8L190.8 451.4L190.8 445.7L190.9 439.7L191.0 433.3L191.1 426.7L191.2 419.9L191.2 412.8L191.3 405.6L191.4 398.2L191.5 390.8L191.6 383.3L191.6 375.9L191.7 368.4L191.8 361.1L191.9 353.9L192.0 346.9L192.0 340.0L192.1 333.5L192.2 327.2L192.3 321.2L192.4 315.6L192.4 310.4L192.5 305.5L192.6 301.1L192.7 297.2L192.7 293.7L192.8 290.7L192.9 288.2L193.0 291.7L193.1 296.0L193.1 301.0L193.2 306.8L193.3 313.3L193.4 320.5L193.5 328.3L193.5 336.6L193.6 345.4L193.7 354.7L193.8 364.3L193.9 374.1L193.9 384.2L194.0 394.3L194.1 404.5L194.2 414.6L194.3 424.5L194.3 434.2L194.4 443.6L194.5 452.7L194.6 461.3L194.7 469.4L194.7 476.9L194.8 483.8L194.9 490.1L195.0 495.7L195.1 500.7L195.1 504.9L195.2 508.4L195.3 511.3L195.4 513.5L195.5 515.1L195.5 516.1L195.6 516.6L195.7 516.7L195.8 516.7L195.8 516.3L195.9 515.7L196.0 514.7L196.1 513.3L196.2 511.5L196.2 509.2L196.3 506.5L196.4 503.4L196.5 499.7L196.6 495.6L196.6 491.1L196.7 486.0L196.8 480.6L196.9 474.7L197.0 468.5L197.0 461.9L197.1 454.9L197.2 447.7L197.3 440.2L197.4 432.5L197.4 424.6L197.5 416.5L197.6 408.4L197.7 400.2L197.8 392.1L197.8 383.9L197.9 375.9L198.0 368.0L198.1 360.3L198.2 352.9L198.2 345.7L198.3 338.8L198.4 332.3L198.5 326.1L198.6 320.4L198.6 315.1L198.7 310.3L198.8 306.0L198.9 302.2L198.9 298.9L199.0 296.2L199.1 299.8L199.2 304.2L199.3 309.4L199.4 315.4L199.4 322.0L199.5 329.4L199.6 337.4L199.7 345.9L199.8 355.0L199.8 364.5L199.9 374.4L200.0 384.5L200.1 394.9L200.2 405.4L200.2 416.0L200.3 426.5L200.4 437.0L200.5 447.2L200.6 457.2L200.6 466.8L200.7 476.0L200.8 484.7L200.9 492.9L201.0 500.5L201.0 507.5L201.1 513.9L201.2 519.5L201.3 524.5L201.4 528.7L201.4 532.3L201.5 535.1L201.6 537.3L201.7 538.9L201.8 539.9L201.8 540.5L201.9 540.6L202.0 540.5L202.1 540.3L202.2 539.7L202.2 538.9L202.3 537.8L202.4 536.3L202.5 534.4L202.6 532.2L202.6 529.6L202.7 526.7L202.8 523.3L202.9 519.6L203.0 515.5L203.0 511.0L203.1 506.2L203.2 501.1L203.3 495.7L203.4 490.0L203.4 484.1L203.5 478.0L203.6 471.7L203.7 465.2L203.8 458.6L203.8 452.0L203.9 445.3L204.0 438.6L204.1 432.0L204.2 425.4L204.2 419.0L204.3 412.7L204.4 406.6L204.5 400.7L204.6 395.1L204.6 389.7L204.7 384.7L204.8 380.0L204.9 375.7L204.9 371.8L205.0 368.2L205.1 365.1L205.2 362.5L205.3 360.2L205.3 363.1L205.4 366.6L205.5 370.6L205.6 375.3L205.7 380.5L205.7 386.3L205.8 392.5L205.9 399.2L206.0 406.3L206.1 413.7L206.1 421.5L206.2 429.5L206.3 437.7L206.4 446.1L206.4 454.5L206.5 463.0L206.6 471.4L206.7 479.7L206.8 487.9L206.8 495.9L206.9 503.7L207.0 511.1L207.1 518.2L207.1 524.8L207.2 531.1L207.3 536.9L207.4 542.2L207.5 546.9L207.5 551.2L207.6 554.9L207.7 558.1L207.8 560.7L207.9 562.9L207.9 564.5L208.0 565.7L208.1 566.5L208.2 566.9L208.2 567.0L208.3 566.9L208.4 566.7L208.5 566.4L208.6 565.8L208.6 565.1L208.7 564.1L208.8 562.9L208.9 561.4L209.0 559.7L209.0 557.7L209.1 555.4L209.2 552.9L209.3 550.2L209.4 547.2L209.4 544.0L209.5 540.6L209.6 536.9L209.7 533.1L209.8 529.1L209.8 524.9L209.9 520.7L210.0 516.3L210.1 511.8L210.2 507.2L210.2 502.7L210.3 498.1L210.4 493.5L210.5 488.9L210.6 484.5L210.6 480.1L210.7 475.8L210.8 471.6L210.9 467.6L211.0 463.8L211.0 460.2L211.1 456.8L211.2 453.6L211.3 450.7L211.3 448.0L211.4 445.6L211.5 443.5L211.6 441.6L211.7 440.1L211.7 442.0L211.8 444.2L211.9 446.8L212.0 449.8L212.1 453.1L212.1 456.7L212.2 460.7L212.3 464.9L212.4 469.5L212.5 474.2L212.6 479.2L212.6 484.3L212.7 489.6L212.8 495.0L212.9 500.4L213.0 505.9L213.0 511.5L213.1 517.0L213.2 522.4L213.3 527.7L213.4 532.9L213.4 538.0L213.5 542.9L213.6 547.5L213.7 551.9L213.8 556.1L213.8 559.9L213.9 563.5L214.0 566.8L214.1 569.7L214.2 572.3L214.2 574.6L214.3 576.5L214.4 578.1L214.5 579.4L214.6 580.4L214.6 581.2L214.7 581.6L214.8 581.9L214.9 581.9L215.0 581.9L215.0 581.8L215.1 581.6L215.2 581.3L215.3 580.9L215.4 580.4L215.4 579.7L215.5 578.9L215.6 577.9L215.7 576.8L215.8 575.6L215.8 574.2L215.9 572.7L216.0 571.1L216.1 569.3L216.2 567.4L216.2 565.4L216.3 563.3L216.4 561.1L216.5 558.9L216.6 556.5L216.6 554.1L216.7 551.6L216.8 549.1L216.9 546.6L217.0 544.1L217.0 541.6L217.1 539.1L217.2 536.6L217.3 534.2L217.3 531.9L217.4 529.6L217.5 527.4L217.6 525.3L217.7 523.3L217.7 521.4L217.8 519.7L217.9 518.1L218.0 516.6L218.1 515.3L218.1 514.1L218.2 513.1L218.3 512.3L218.4 513.2L218.5 514.4L218.5 515.7L218.6 517.3L218.7 518.9L218.8 520.8L218.9 522.8L218.9 524.9L219.0 527.2L219.1 529.6L219.2 532.1L219.3 534.7L219.3 537.4L219.4 540.2L219.5 543.0L219.6 545.9L219.7 548.9L219.7 551.8L219.8 554.8L219.9 557.7L220.0 560.6L220.1 563.5L220.2 566.3L220.2 569.1L220.3 571.8L220.4 574.3L220.5 576.8L220.6 579.2L220.6 581.4L220.7 583.5L220.8 585.4L220.9 587.2L221.0 588.9L221.0 590.4L221.1 591.7L221.2 592.9L221.3 594.0L221.4 594.8L221.4 595.6L221.5 596.2L221.6 596.6L221.7 596.9L221.8 597.2L221.8 597.3L221.9 597.3L222.0 597.3L222.1 597.2L222.2 597.2L222.2 597.1L222.3 596.9L222.4 596.7L222.5 596.4L222.6 596.1L222.6 595.6L222.7 595.2L222.8 594.6L222.9 594.0L223.0 593.3L223.0 592.6L223.1 591.7L223.2 590.9L223.3 589.9L223.3 588.9L223.4 587.9L223.5 586.8L223.6 585.7L223.7 584.5L223.7 583.4L223.8 582.2L223.9 580.9L224.0 579.7L224.1 578.6L224.1 577.4L224.2 576.3L224.3 575.2L224.4 574.1L224.5 573.1L224.5 572.1L224.6 571.1L224.7 570.1L224.8 569.3L224.9 568.5L224.9 567.7L225.0 567.0L225.1 566.4L225.2 565.8L225.3 565.3L225.3 564.9L225.4 565.4L225.5 566.1L225.6 566.9L225.7 567.8L225.7 568.8L225.8 569.9L225.9 571.0L226.0 572.3L226.1 573.7L226.1 575.1L226.2 576.6L226.3 578.2L226.4 579.8L226.4 581.4L226.5 583.1L226.6 584.8L226.7 586.6L226.8 588.3L226.8 590.0L226.9 591.7L227.0 593.4L227.1 595.1L227.2 596.7L227.2 598.3L227.3 599.8L227.4 601.2L227.5 602.5L227.6 603.8L227.6 605.0L227.7 606.0L227.8 607.0L227.9 607.9L228.0 608.7L228.0 609.4L228.1 609.9L228.2 610.4L228.3 610.8L228.4 611.1L228.4 611.3L228.5 611.4L228.6 611.5L228.7 611.4L228.8 611.4L228.8 611.4L228.9 611.3L229.0 611.2L229.1 611.1L229.1 611.0L229.2 610.8L229.3 610.7L229.4 610.5L229.5 610.2L229.5 610.0L229.6 609.7L229.7 609.3L229.8 609.0L229.9 608.7L229.9 608.3L230.0 608.0L230.1 607.5L230.2 607.1L230.2 606.7L230.3 606.2L230.4 605.7L230.5 605.2L230.6 604.7L230.6 604.2L230.7 603.7L230.8 603.2L230.9 602.6L231.0 602.1L231.0 601.5L231.1 601.0L231.2 600.5L231.3 600.0L231.3 599.4L231.4 598.9L231.5 598.5L231.6 598.0L231.7 597.6L231.7 597.2L231.8 596.8L231.9 596.4L232.0 596.1L232.1 595.8L232.1 595.6L232.2 595.4L232.3 595.2L232.4 595.4L232.4 595.8L232.5 596.2L232.6 596.6L232.7 597.2L232.8 597.8L232.8 598.4L232.9 599.1L233.0 599.8L233.1 600.5L233.2 601.3L233.2 602.1L233.3 602.9L233.4 603.7L233.5 604.5L233.6 605.4L233.6 606.3L233.7 607.2L233.8 608.0L233.9 608.9L234.0 609.8L234.0 610.6L234.1 611.4L234.2 612.2L234.3 613.0L234.4 613.7L234.4 614.4L234.5 615.1L234.6 615.8L234.7 616.4L234.8 617.0L234.8 617.5L234.9 618.0L235.0 618.5L235.1 618.9L235.2 619.3L235.2 619.6L235.3 619.9L235.4 620.1L235.5 620.3L235.5 620.4L235.6 620.5L235.7 620.6L235.8 620.7L235.9 620.7L235.9 620.7L236.0 620.7L236.1 620.7L236.2 620.7L236.3 620.7L236.3 620.7L236.4 620.7L236.5 620.7L236.6 620.6L236.7 620.5L236.7 620.4L236.8 620.3L236.9 620.2L237.0 620.1L237.0 620.0L237.1 619.8L237.2 619.7L237.3 619.6L237.4 619.4L237.4 619.2L237.5 619.0L237.6 618.8L237.7 618.6L237.8 618.4L237.8 618.2L237.9 618.0L238.0 617.9L238.1 617.7L238.1 617.5L238.2 617.4L238.3 617.3L238.4 617.1L238.5 616.9L238.5 616.7L238.6 616.5L238.7 616.4L238.8 616.2L238.9 616.1L238.9 615.9L239.0 615.8L239.1 615.7L239.2 615.6L239.2 615.5L239.3 615.5L239.4 615.4L239.5 615.4L239.6 615.3L239.6 615.3L239.7 615.5L239.8 615.6L239.9 615.7L240.0 615.9L240.0 616.0L240.1 616.3L240.2 616.5L240.3 616.7L240.4 617.0L240.4 617.3L240.5 617.6L240.6 617.9L240.7 618.2L240.8 618.6L240.8 618.9L240.9 619.2L241.0 619.6L241.1 619.9L241.2 620.2L241.2 620.7L241.3 621.0L241.4 621.3L241.5 621.7L241.6 621.9L241.6 622.3L241.7 622.7L241.8 623.0L241.9 623.3L241.9 623.5L242.0 623.8L242.1 624.0L242.2 624.2L242.3 624.5L242.3 624.7L242.4 624.9L242.5 625.0L242.6 625.3L242.7 625.5L242.7 625.6L242.8 625.8L242.9 625.9L243.0 626.1L243.1 626.1L243.1 626.1L243.2 626.2L243.3 626.3L243.4 626.2L243.5 626.3L243.5 626.3L243.6 626.3L243.7 626.5L243.8 626.3L243.9 626.4L243.9 626.4L244.0 626.4L244.1 626.4L244.2 626.4L244.3 626.2L244.3 626.2L244.4 626.2L244.5 626.0L244.6 626.1L244.7 626.0L244.7 626.0L244.8 626.0L244.9 625.7L245.0 625.8L245.1 625.7L245.1 625.6L245.2 625.5L245.3 625.5L245.4 625.3L245.5 625.2L245.5 625.2L245.6 625.1L245.7 625.0L245.8 625.0L245.9 624.8L245.9 624.7L246.0 624.6L246.1 624.6L246.2 624.5L246.3 624.3L246.3 624.3L246.4 624.1L246.5 624.1L246.6 624.0L246.7 623.9L246.8 623.8L246.8 623.8L246.9 623.6L247.0 623.7L247.1 623.6L247.2 623.6L247.2 623.3L247.3 623.4L247.4 623.4L247.5 623.8L247.6 623.7L247.6 623.8L247.7 623.8L247.8 623.9L247.9 624.1L247.9 624.2L248.0 624.2L248.1 624.3L248.2 624.6L248.3 624.6L248.3 624.9L248.4 625.0L248.5 625.2L248.6 625.3L248.7 625.3L248.7 625.7L248.8 625.8L248.9 626.2L249.0 626.3L249.1 626.2L249.1 626.5L249.2 626.6L249.3 627.0L249.4 626.9L249.5 627.1L249.5 627.0L249.6 627.3L249.7 627.1L249.8 627.5L249.9 627.4L249.9 627.7L250.0 627.6L250.1 627.5L250.2 627.6L250.3 627.7L250.3 627.5L250.4 627.5L250.5 627.5L250.6 627.4L250.7 627.5L250.7 627.2L250.8 627.3L250.9 627.6L251.0 627.3L251.0 627.5L251.1 627.4L251.2 627.7L251.3 627.6L251.4 627.7L251.4 627.5L251.5 627.6L251.6 627.7L251.7 627.7L251.8 627.5L251.8 627.7L251.9 627.6"/>
<path stroke="#00ff00" stroke-width="3.15" d="M251.6 627.7L251.7 627.7L251.8 627.5L251.8 627.7L251.9 627.6L252.0 627.8L252.1 627.8L252.1 627.7L252.2 627.6L252.3 627.6L252.4 627.4L252.5 627.6L252.5 627.5L252.6 627.4L252.7 627.4L252.8 627.4L252.9 627.3L252.9 627.5L253.0 627.3L253.1 627.4L253.2 627.3L253.2 627.1L253.3 627.4L253.4 627.1L253.5 627.2L253.6 627.2L253.6 627.2L253.7 627.0L253.8 627.2L253.9 627.3L254.0 627.1L254.0 627.1L254.1 627.0L254.2 627.0L254.3 627.2L254.3 627.0L254.4 627.0L254.5 627.1L254.6 627.0L254.7 627.0L254.7 627.1L254.8 627.0L254.9 626.9L255.0 627.2L255.1 627.1L255.1 627.3L255.2 627.3L255.3 627.3L255.4 627.3L255.5 627.2L255.5 627.5L255.6 627.4L255.7 627.4L255.8 627.5L255.9 628.0L255.9 627.6L256.0 627.7L256.1 627.9L256.2 627.9L256.3 627.8L256.3 628.2L256.4 628.2L256.5 628.1L256.6 628.5L256.7 628.5L256.7 628.3L256.8 628.3L256.9 628.3L257.0 628.4L257.0 628.3L257.1 628.6L257.2 628.9L257.3 628.8L257.4 628.7L257.4 628.8L257.5 629.1L257.6 628.9L257.7 629.0L257.8 629.0L257.8 628.8L257.9 629.0L258.0 629.1L258.1 629.0L258.2 629.1L258.2 628.7L258.3 628.9L258.8 628.9L259.3 629.1L259.8 629.1L260.2 629.1L260.7 629.4L261.2 629.1L261.7 629.6L262.1 629.3L262.6 629.3L263.1 629.4L263.6 629.2L264.0 629.1L264.5 628.8L265.0 629.0L265.5 628.7L266.0 628.9L266.4 629.0L266.9 628.9L267.4 629.4L267.9 629.3L268.3 629.4L268.8 629.2L269.3 629.6L269.8 630.0L270.2 629.4L270.7 629.5L271.2 629.6L271.7 629.6"/>
<path stroke="#00ff00" stroke-width="3.3" d="M271.7 629.6L272.1 629.3L272.6 629.3L273.1 629.1L273.6 629.2L274.1 628.9L274.5 629.4L275.0 629.4L275.5 629.5L276.0 629.2L276.4 629.7L276.9 629.7L277.4 629.9L277.9 629.8L278.3 629.7L278.8 629.8L279.3 629.4L279.8 629.4L280.3 630.0L280.7 629.5L281.2 629.9L281.7 629.8L282.2 629.7L282.6 629.4L283.1 629.3L283.6 629.9L284.1 629.8L284.5 629.7L285.0 629.9L285.5 629.0L286.0 629.9L286.5 630.2L286.9 629.9L287.4 631.2L287.9 630.9L288.4 629.2L288.8 630.3L289.3 630.1L289.8 630.2L290.3 630.4L290.7 630.1L291.2 630.5L291.7 629.8L292.2 629.8L292.7 630.0L293.1 630.5L293.6 630.8L294.1 630.2L294.6 630.5L295.0 629.9L295.5 630.6L296.0 630.4L296.5 629.9L296.9 629.8L297.4 630.1L297.9 630.5L298.4 630.2L298.9 629.2L299.3 629.8L299.8 630.5L300.3 629.6L300.8 630.3L301.2 630.2L301.7 630.4L302.2 629.5L302.7 630.1L303.1 630.2L303.6 630.5L304.1 630.6L304.6 630.0L305.1 630.1L305.5 629.5L306.0 630.5L306.5 630.3L307.0 629.8L307.4 629.9L307.9 630.6L308.4 629.7L308.9 630.0L309.3 629.9L309.8 630.0L310.3 629.8L310.8 630.4L311.3 630.3L311.7 629.7L312.2 629.9L312.7 630.2L313.2 629.7L313.6 630.3L314.1 630.2L314.6 631.4L315.1 630.6L315.5 630.1L316.0 630.7L316.5 630.2L317.0 629.9L317.5 630.1L317.9 629.6L318.4 629.9L318.9 630.3L319.4 629.7L319.8 630.3L320.3 630.4L320.8 630.0L321.3 629.9L321.7 630.3L322.2 630.8L322.7 630.5L323.2 630.0L323.7 629.7L324.1 629.2L324.6 630.2L325.1 630.2L325.6 631.3L326.0 629.8L326.5 630.1L327.0 630.3L327.5 630.6L327.9 631.3L328.4 629.9L328.9 630.4L329.4 629.4L329.9 629.8L330.3 629.6L330.8 630.3L331.3 629.5L331.8 630.6L332.2 629.2L332.7 630.0L333.2 630.6L333.7 630.3L334.1 630.5L334.6 629.8L335.1 630.3L335.6 630.6L336.1 630.3L336.5 630.1L337.0 630.0L337.5 629.7L338.0 629.4L338.4 629.8L338.9 629.3L339.4 631.1L339.9 630.1L340.3 629.6L340.8 630.6L341.3 630.3L341.8 630.2L342.3 630.9L342.7 630.3L343.2 629.8L343.7 630.2L344.2 629.4L344.6 629.1L345.1 630.0L345.6 630.5L346.1 629.9L346.5 630.1L347.0 630.7L347.5 630.2L348.0 630.3L348.5 630.1L348.9 629.6L349.4 629.5L349.9 629.7L350.4 630.1L350.8 629.8L351.3 630.0L351.8 630.0L352.3 630.5L352.7 631.4L353.2 629.7L353.7 630.4L354.2 630.4L354.7 630.1L355.1 630.1L355.6 630.1L356.1 629.3L356.6 629.9L357.0 629.8L357.5 630.4L358.0 630.0L358.5 629.7L358.9 629.9L359.4 629.8L359.9 630.4L360.4 629.7L360.8 630.3L361.3 630.0L361.8 630.0L362.3 629.7L362.8 629.4L363.2 629.8L363.7 630.3L364.2 629.9L364.7 629.4L365.1 629.7L365.6 629.9L366.1 630.5L366.6 630.1L367.0 630.1L367.5 630.2L368.0 629.9L368.5 630.0L369.0 630.0L369.4 629.6L369.9 630.3L370.4 630.2L370.9 630.0L371.3 630.5L371.8 630.3L372.3 630.5L372.8 630.3L373.2 629.8L373.7 629.7L374.2 629.6L374.7 629.7L375.2 630.5L375.6 629.3L376.1 629.7L376.6 630.7L377.1 630.4L377.5 630.2L378.0 629.9L378.5 629.6L379.0 629.9L379.4 630.9L379.9 628.5L380.4 629.3L380.9 629.3L381.4 630.0L381.8 629.6L382.3 629.2L382.8 630.0L383.3 629.3L383.7 629.8L384.2 629.1L384.7 629.9L385.2 629.3L385.6 630.5L386.1 629.2L386.6 629.6L387.1 630.2L387.6 629.4L388.0 630.1L388.5 629.5L389.0 629.4L389.5 629.4L389.9 629.1L390.4 629.5L390.9 628.9L391.4 629.6L391.8 630.0L392.3 629.8L392.8 629.9L393.3 630.4L393.8 629.7L394.2 630.5L394.7 630.2L395.2 630.1L395.7 630.2L396.1 630.5L396.6 630.0L397.1 630.1L397.6 629.5L398.0 629.8L398.5 629.6L399.0 630.2L399.5 630.3L400.0 630.7L400.4 630.5L400.9 629.8L401.4 629.9L401.9 629.9L402.3 630.1L402.8 629.3L403.3 630.0L403.8 629.4L404.2 630.0L404.7 629.5L405.2 630.4L405.7 630.6L406.2 629.7L406.6 630.0L407.1 629.9L407.6 629.5L408.1 629.6L408.5 629.8L409.0 630.6L409.5 630.3L410.0 630.0L410.4 629.7L410.9 629.6L411.4 629.7L411.9 630.2L412.4 629.9L412.8 629.3L413.3 630.3L413.8 630.4L414.3 629.9L414.7 629.5L415.2 629.9L415.7 630.1L416.2 630.5L416.6 630.2L417.1 630.4L417.6 629.9L418.1 629.8L418.6 629.8L419.0 629.3L419.5 630.0L420.0 630.2L420.5 629.2L420.9 629.3L421.4 630.3L421.9 629.8L422.4 630.5L422.8 630.1L423.3 630.0L423.8 629.6L424.3 630.3L424.8 630.3L425.2 629.6L425.7 630.0L426.2 629.3L426.7 630.5L427.1 630.2L427.6 631.1L428.1 629.4L428.6 629.5L429.0 629.9L429.5 630.2L430.0 631.0L430.5 630.7L431.0 630.5L431.4 629.2L431.9 629.6L432.4 630.3L432.9 629.8L433.3 629.7L433.8 629.7L434.3 630.3L434.8 630.2L435.2 629.7L435.7 629.8L436.2 630.1L436.7 628.7L437.2 629.6L437.6 630.1L438.1 629.6L438.6 629.6L439.1 630.0L439.5 629.2L440.0 629.4L440.5 629.9L441.0 629.5L441.4 629.6L441.9 630.0L442.4 629.5L442.9 630.1L443.3 630.1L443.8 629.8L444.3 630.6L444.8 630.1L445.3 630.4L445.7 629.6L446.2 630.4L446.7 629.3L447.2 629.5L447.6 630.4L448.1 630.0L448.6 630.3L449.1 630.2L449.5 629.8L450.0 629.4L450.5 629.1L451.0 629.2L451.5 630.6L451.9 630.3L452.4 630.3L452.9 630.5L453.4 630.1L453.8 629.9L454.3 630.4L454.8 630.5L455.3 629.1L455.7 629.8L456.2 629.1L456.7 630.4L457.2 629.4L457.7 629.3L458.1 629.3L458.6 630.3L459.1 629.7L459.6 630.1L460.0 630.3L460.5 629.9L461.0 630.0L461.5 630.3L461.9 630.3L462.4 629.8L462.9 630.3L463.4 629.9L463.9 629.6L464.3 629.7L464.8 629.5L465.3 630.4L465.8 630.1L466.2 630.1L466.7 629.5L467.2 630.7L467.7 630.0L468.1 630.7L468.6 629.7L469.1 630.3L469.6 629.9L470.1 629.6L470.5 629.3L471.0 630.6L471.5 630.1L472.0 631.0L472.4 630.2L472.9 630.4L473.4 629.9L473.9 630.3L474.3 630.3L474.8 630.8L475.3 630.6L475.8 631.0L476.3 630.5L476.7 631.1L477.2 630.2L477.7 630.0L478.2 629.2L478.6 629.8L479.1 629.7L479.6 629.8L480.1 629.5L480.5 630.4L481.0 630.3L481.5 631.2L482.0 630.5L482.5 629.9L482.9 631.1L483.4 630.2L483.9 630.3L484.4 630.5L484.8 630.3L485.3 630.4L485.8 630.9L486.3 630.5L486.7 631.2L487.2 629.6L487.7 630.3L488.2 629.8L488.7 630.5L489.1 629.1L489.6 629.6L490.1 629.9L490.6 630.0L491.0 629.8L491.5 630.5L492.0 630.3L492.5 630.5L492.9 630.3L493.4 629.8L493.9 630.1L494.4 630.3L494.9 630.2L495.3 630.6L495.8 630.6L496.3 631.0L496.8 630.9L497.2 631.0L497.7 630.6L498.2 630.7L498.7 630.5L499.1 630.1L499.6 630.4L500.1 630.8L500.6 631.0L501.1 630.9L501.5 630.5L502.0 631.2L502.5 631.3L503.0 630.6L503.4 629.9L503.9 629.8L504.4 630.2L504.9 631.3L505.3 630.6L505.8 630.1L506.3 630.0L506.8 629.6L507.3 630.8L507.7 630.3L508.2 631.2L508.7 630.6L509.2 630.7L509.6 630.1L510.1 630.4L510.6 631.2L511.1 630.6L511.5 630.4L512.0 629.9L512.5 630.9L513.0 630.8L513.5 630.6L513.9 629.9L514.4 630.6L514.9 630.5L515.4 630.5L515.8 630.9L516.3 630.0L516.8 631.2L517.3 629.8L517.7 630.9L518.2 630.8L518.7 630.8L519.2 630.9L519.7 630.8L520.1 630.8L520.6 631.0L521.1 630.6L521.6 630.4L522.0 630.8L522.5 630.4L523.0 630.6L523.5 630.1L523.9 630.4L524.4 630.7L524.9 630.3L525.4 630.4L525.9 630.7L526.3 630.4L526.8 630.1L527.3 630.9L527.8 630.5L528.2 630.0L528.7 630.3L529.2 630.0L529.7 629.6L530.1 631.1L530.6 630.5L531.1 630.7L531.6 630.0L532.0 630.5L532.5 631.5L533.0 630.3L533.5 630.5L534.0 630.6L534.4 630.6L534.9 630.6L535.4 631.0L535.9 630.6L536.3 629.9L536.8 630.9L537.3 630.6L537.8 630.0L538.2 630.8L538.7 630.5L539.2 630.3L539.7 631.0L540.2 630.7L540.6 631.0L541.1 630.8L541.6 630.6L542.1 630.8L542.5 630.7L543.0 630.7L543.5 630.4L544.0 631.3L544.4 630.7L544.9 630.2L545.4 631.0L545.9 630.9L546.4 630.8L546.8 631.1L547.3 630.7L547.8 630.8L548.3 630.9L548.7 630.5L549.2 630.4L549.7 631.5L550.2 631.1L550.6 631.1L551.1 631.6L551.6 630.6L552.1 630.1L552.6 630.6L553.0 630.3L553.5 631.9L554.0 631.1L554.5 631.5L554.9 630.5L555.4 630.8L555.9 630.9L556.4 630.6L556.8 630.4L557.3 630.0L557.8 630.2L558.3 630.4L558.8 631.6L559.2 630.2L559.7 630.7L560.2 631.5L560.7 630.8L561.1 631.0L561.6 630.8L562.1 630.3L562.6 631.5L563.0 630.8L563.5 630.5L564.0 631.5L564.5 630.3L565.0 631.2L565.4 631.3L565.9 630.5L566.4 630.9L566.9 631.7L567.3 631.2L567.8 630.6L568.3 631.2L568.8 631.2L569.2 631.1L569.7 631.0L570.2 631.3L570.7 631.2L571.2 630.6L571.6 630.3L572.1 632.0L572.6 630.9L573.1 630.7L573.5 631.3L574.0 630.2L574.5 631.5L575.0 630.4L575.4 630.0L575.9 630.1L576.4 631.9L576.9 630.9L577.4 631.3L577.8 630.8L578.3 630.3L578.8 630.9L579.3 630.4L579.7 631.9L580.2 631.4L580.7 631.1L581.2 630.6L581.6 630.5L582.1 631.3L582.6 631.3L583.1 630.5L583.6 631.5L584.0 630.8L584.5 631.3L585.0 631.0L585.5 630.0L585.9 631.2L586.4 631.0L586.9 631.3L587.4 630.7L587.8 630.2L588.3 630.7L588.8 631.4L589.3 630.7L589.8 630.0L590.2 631.3L590.7 631.0L591.2 631.5L591.7 631.4L592.1 631.7L592.6 631.8L593.1 630.8L593.6 631.0L594.0 632.0L594.5 631.5L595.0 631.4L595.5 631.4L596.0 631.0L596.4 631.2L596.9 631.0L597.4 631.7L597.9 631.4L598.3 631.2L598.8 631.3L599.3 631.4L599.8 631.7L600.2 631.4L600.7 630.6L601.2 631.3L601.7 631.6L602.2 630.6L602.6 631.3L603.1 630.7L603.6 630.7L604.1 630.5L604.5 631.3L605.0 632.2L605.5 630.7L606.0 630.9L606.4 630.6L606.9 631.1L607.4 631.3L607.9 631.1L608.4 631.8L608.8 630.5L609.3 631.2L609.8 631.3L610.3 630.8L610.7 631.5L611.2 630.6L611.7 631.3L612.2 629.9L612.6 630.4L613.1 630.5L613.6 630.7L614.1 630.9L614.5 631.2L615.0 631.8L615.5 631.2L616.0 631.3L616.5 631.3L616.9 631.0L617.4 631.8L617.9 631.4L618.4 631.3L618.8 631.1L619.3 630.6L619.8 630.0L620.3 631.4L620.7 631.2L621.2 631.4L621.7 631.2L622.2 630.5L622.7 631.2L623.1 631.2L623.6 631.4L624.1 631.7L624.6 630.9L625.0 631.4L625.5 630.8L626.0 632.0L626.5 631.3L626.9 630.8L627.4 631.9L627.9 631.4L628.4 630.9L628.9 631.4L629.3 631.8L629.8 631.6L630.3 631.3L630.8 631.9L631.2 631.7L631.7 631.3L632.2 631.8L632.7 630.5L633.1 631.5L633.6 631.4L634.1 631.3L634.6 630.7L635.1 631.6L635.5 630.5L636.0 630.6L636.5 630.9L637.0 631.9L637.4 632.0L637.9 631.6L638.4 631.5L638.9 631.2L639.3 631.1L639.8 631.3L640.3 631.6L640.8 631.4L641.3 632.6L641.7 631.1L642.2 632.2L642.7 632.3L643.2 631.9L643.6 632.0L644.1 632.3L644.6 631.9L645.1 631.6L645.5 631.4L646.0 631.4L646.5 631.9L647.0 631.6L647.5 631.2L647.9 631.7L648.4 631.7L648.9 632.6L649.4 631.6L649.8 630.7L650.3 631.3L650.8 631.8L651.3 631.1L651.7 631.2L652.2 631.1L652.7 632.4L653.2 632.4L653.7 631.6L654.1 631.5L654.6 631.5L655.1 632.3L655.6 631.2L656.0 630.7L656.5 630.9L657.0 630.2L657.5 631.3L657.9 631.5L658.4 630.9L658.9 631.2L659.4 632.8L659.9 632.4L660.3 631.6L660.8 631.8L661.3 630.9L661.8 631.2L662.2 631.1L662.7 631.8L663.2 631.7L663.7 631.2L664.1 631.9L664.6 631.5L665.1 631.8L665.6 631.4L666.1 631.7L666.5 632.1L667.0 633.1L667.5 632.5L668.0 632.6L668.4 631.6L668.9 632.7L669.4 632.3L669.9 631.6L670.3 631.4L670.8 631.1L671.3 631.5L671.8 631.2L672.3 632.2L672.7 631.5L673.2 632.5L673.7 632.0L674.2 631.5L674.6 631.5L675.1 631.8L675.6 632.0L676.1 632.1L676.5 632.6L677.0 632.5L677.5 630.9L678.0 632.7L678.5 632.6L678.9 632.6L679.4 632.1L679.9 632.1L680.4 632.2L680.8 632.4L681.3 631.9L681.8 632.5L682.3 631.6L682.7 631.1L683.2 632.2L683.7 631.6L684.2 632.0L684.7 632.0L685.1 632.4L685.6 631.8L686.1 631.9L686.6 631.5L687.0 630.9L687.5 632.3L688.0 631.3L688.5 632.3L688.9 632.2L689.4 632.5L689.9 631.9L690.4 631.4L690.9 631.9L691.3 631.7L691.8 632.1L692.3 631.8L692.8 632.4L693.2 631.9L693.7 633.0L694.2 631.0L694.7 631.5L695.1 632.5L695.6 632.4L696.1 632.5L696.6 632.2L697.1 632.0L697.5 631.1L698.0 632.1L698.5 632.6L699.0 631.8L699.4 631.8L699.9 632.4L700.4 631.5L700.9 632.0L701.3 632.2L701.8 632.0L702.3 632.4L702.8 632.0L703.2 631.1L703.7 631.5L704.2 631.8L704.7 631.9L705.2 631.9L705.6 632.6L706.1 632.1L706.6 632.4L707.1 632.4L707.5 631.4L708.0 632.5L708.5 632.3L709.0 632.3L709.4 631.9L709.9 632.4L710.4 632.1L710.9 632.1L711.4 632.3L711.8 632.4L712.3 632.7L712.8 631.8L713.3 632.6L713.7 631.6L714.2 631.5L714.7 632.4L715.2 632.6L715.6 632.5L716.1 632.4L716.6 631.5L717.1 632.4L717.6 632.4L718.0 632.7L718.5 632.1L719.0 631.9L719.5 631.5L719.9 632.1L720.4 632.4L720.9 632.4L721.4 631.0L721.8 631.5L722.3 631.8L722.8 632.3L723.3 632.3L723.8 632.2L724.2 632.2L724.7 632.1L725.2 632.5L725.7 631.5L726.1 632.7L726.6 631.9L727.1 631.7L727.6 631.7L728.0 631.4L728.5 631.8L729.0 631.9L729.5 631.3L730.0 631.3L730.4 632.0L730.9 631.8L731.4 632.7L731.9 632.0L732.3 633.2L732.8 631.7L733.3 632.3L733.8 631.6L734.2 631.9L734.7 632.5L735.2 631.9L735.7 631.5L736.2 632.7L736.6 631.5L737.1 632.0L737.6 632.5L738.1 632.2L738.5 632.0L739.0 631.8L739.5 632.5L740.0 632.4L740.4 632.1L740.9 632.3L741.4 631.5L741.9 631.9L742.4 631.8L742.8 632.7L743.3 632.8L743.8 632.8L744.3 632.4L744.7 632.1L745.2 631.6L745.7 631.9L746.2 632.5L746.6 632.2L747.1 631.1L747.6 632.1L748.1 631.8L748.6 632.5L749.0 632.5L749.5 632.4L750.0 632.4L750.5 632.0L750.9 632.3L751.4 633.1L751.9 631.2L752.4 632.1L752.8 632.9L753.3 631.3L753.8 631.6L754.3 632.1L754.8 632.0L755.2 631.8L755.7 632.9L756.2 631.5L756.7 631.9L757.1 631.8L757.6 632.5L758.1 632.7L758.6 631.7L759.0 633.9L759.5 631.7L760.0 631.8L760.5 633.0L761.0 632.5L761.4 632.8L761.9 632.5L762.4 632.9L762.9 632.9L763.3 632.3L763.8 632.5L764.3 632.3L764.8 632.3L765.2 632.9L765.7 631.6L766.2 631.7L766.7 633.1L767.2 632.4L767.6 632.3L768.1 632.0L768.6 632.7L769.1 631.6L769.5 632.3L770.0 631.3L770.5 632.5L771.0 631.4L771.4 632.1L771.9 632.0L772.4 632.3L772.9 632.3L773.4 632.8L773.8 632.3L774.3 632.6L774.8 632.5L775.3 632.7L775.7 632.0L776.2 632.2L776.7 632.4L777.2 633.1L777.6 631.8L778.1 632.5L778.6 632.2L779.1 631.8L779.6 632.0L780.0 632.1L780.5 632.2L781.0 633.0L781.5 631.8L781.9 632.1L782.4 631.8L782.9 632.1L783.4 632.4L783.8 631.5L784.3 632.1L784.8 631.7L785.3 631.9L785.7 631.8L786.2 631.8L786.7 631.9L787.2 632.7L787.7 632.3L788.1 631.7L788.6 632.5L789.1 632.5L789.6 632.3L790.0 631.8L790.5 632.6L791.0 632.4L791.5 632.6L791.9 632.7L792.4 632.1L792.9 632.7L793.4 632.3L793.9 632.2L794.3 632.2L794.8 632.2L795.3 632.0L795.8 632.8L796.2 633.5L796.7 631.9L797.2 631.5L797.7 632.3L798.1 632.1L798.6 631.7L799.1 632.4L799.6 632.1L800.1 632.2L800.5 631.8L801.0 632.0L801.5 631.5L802.0 632.7L802.4 632.5L802.9 632.7L803.4 632.0L803.9 632.3L804.3 632.2L804.8 631.8L805.3 632.5L805.8 632.9L806.3 631.4L806.7 632.2L807.2 632.8L807.7 631.8L808.2 632.3L808.6 632.7L809.1 632.1L809.6 631.7L810.1 632.0L810.5 632.5L811.0 631.7L811.5 632.6L812.0 632.3L812.5 631.9L812.9 632.7L813.4 632.1L813.9 632.3L814.4 632.0L814.8 632.2L815.3 631.6L815.8 633.2L816.3 632.7L816.7 632.6L817.2 632.5L817.7 632.2L818.2 632.9L818.7 632.1L819.1 632.0L819.6 632.4L820.1 633.3L820.6 632.2L821.0 632.2L821.5 632.7L822.0 632.7L822.5 632.6L822.9 632.8L823.4 632.0L823.9 631.6L824.4 632.2L824.9 632.6L825.3 632.5L825.8 632.4L826.3 631.7L826.8 632.7L827.2 632.4L827.7 632.7L828.2 632.1L828.7 633.0L829.1 632.4L829.6 632.7L830.1 632.1L830.6 632.9L831.1 632.3L831.5 631.9L832.0 632.3L832.5 633.0L833.0 631.5L833.4 632.2L833.9 632.5L834.4 632.4L834.9 632.6L835.3 631.6L835.8 631.7L836.3 631.6L836.8 632.7L837.3 633.0L837.7 633.0L838.2 632.7L838.7 632.4L839.2 632.6L839.6 632.8L840.1 631.9L840.6 632.6L841.1 632.2L841.5 631.8L842.0 632.7L842.5 632.5L843.0 631.8L843.5 632.9L843.9 632.8L844.4 633.0L844.9 632.7L845.4 632.5L845.8 632.0L846.3 632.4L846.8 631.8L847.3 632.7L847.7 632.3L848.2 632.1L848.7 632.7L849.2 632.8L849.7 632.5L850.1 632.4L850.6 631.6L851.1 632.1L851.6 632.6L852.0 631.8L852.5 632.3L853.0 632.2L853.5 632.2L853.9 631.9L854.4 632.1L854.9 632.4L855.4 632.3L855.9 632.5L856.3 631.8L856.8 632.1L857.3 633.0L857.8 632.2L858.2 632.9L858.7 632.5L859.2 632.5L859.7 632.1L860.1 631.6L860.6 632.4L861.1 632.9L861.6 632.1L862.1 632.9L862.5 631.6L863.0 632.9L863.5 631.6L864.0 632.6L864.4 631.5L864.9 632.1L865.4 632.8L865.9 632.5L866.3 633.8L866.8 632.3L867.3 632.2L867.8 631.2L868.2 632.8L868.7 631.6L869.2 631.7L869.7 632.0L870.2 632.5L870.6 632.0L871.1 632.4L871.6 631.9L872.1 632.6L872.5 632.0L873.0 631.6L873.5 631.8L874.0 632.2L874.4 631.7L874.9 631.9L875.4 631.8L875.9 631.8L876.4 630.7L876.8 631.3L877.3 630.6L877.8 632.1L878.3 631.4L878.7 631.0L879.2 630.9L879.7 631.9L880.2 631.1L880.6 631.7L881.1 631.5L881.6 631.8L882.1 631.0L882.6 632.4L883.0 631.8L883.5 632.1L884.0 631.4L884.5 631.8L884.9 632.5L885.4 632.7L885.9 632.2L886.4 631.6L886.8 632.0L887.3 631.5L887.8 632.7L888.3 632.5L888.8 631.6L889.2 631.9L889.7 631.4L890.2 631.8L890.7 632.8L891.1 633.4L891.6 632.6L892.1 632.7L892.6 631.1L893.0 632.1L893.5 631.7L894.0 631.6L894.5 630.8L895.0 630.7L895.4 631.4L895.9 631.3L896.4 632.0L896.9 632.4L897.3 631.5L897.8 631.2L898.3 631.7L898.8 632.1L899.2 632.0L899.7 631.8L900.2 631.9L900.7 632.2L901.2 631.9L901.6 630.4L902.1 631.2L902.6 631.6L903.1 631.3L903.5 631.4L904.0 631.4L904.5 632.1L905.0 630.6L905.4 630.7L905.9 630.5L906.4 630.4L906.9 631.9L907.4 632.2L907.8 631.1L908.3 631.6L908.8 632.1L909.3 632.6L909.7 633.1L910.2 632.9L910.7 633.1L911.2 633.8L911.6 632.9L912.1 633.7L912.6 632.0L913.1 632.7L913.6 631.6L914.0 630.4L914.5 631.1L915.0 630.8L915.5 630.2L915.9 630.9L916.4 631.6L916.9 631.7L917.4 630.7L917.8 631.1L918.3 630.4L918.8 629.9L919.3 631.0L919.8 630.3L920.2 632.0L920.7 631.2L921.2 631.1L921.7 631.8L922.1 632.3L922.6 631.2L923.1 630.6L923.6 630.1L924.0 629.9L924.5 632.2L925.0 632.7L925.5 632.0L926.0 631.6L926.4 631.4L926.9 631.2L927.4 632.4L927.9 632.8L928.3 632.7L928.8 631.6L929.3 631.7L929.8 631.0L930.2 632.0L930.7 631.5L931.2 631.0L931.7 628.9L932.2 630.7L932.6 630.6L933.1 631.8L933.6 631.9L934.1 631.3L934.5 630.4L935.0 632.2L935.5 631.8L936.0 630.3L936.4 629.6L936.9 629.7L937.4 628.7L937.9 628.2L938.4 628.7L938.8 628.7L939.3 627.4L939.8 628.0L940.3 629.1L940.7 630.6L941.2 631.5L941.7 630.6L942.2 628.4L942.6 628.9L943.1 628.7L943.6 628.6L944.1 627.7L944.6 628.6L945.0 626.5L945.5 627.4L946.0 627.7L946.5 630.9L946.9 631.5L947.4 632.4L947.9 630.8L948.4 629.3L948.8 630.3L949.3 631.1L949.8 631.3L950.3 630.6L950.8 630.6L951.2 632.0L951.7 630.5L952.2 630.3L952.7 630.3L953.1 630.9L953.6 632.2L954.1 631.1L954.6 630.8L955.0 628.6L955.5 628.5L956.0 629.9L956.5 628.2L956.9 627.0L957.4 626.2L957.9 626.8L958.4 628.2L958.9 628.3L959.3 631.2L959.8 630.9L960.3 632.7L960.8 631.1L961.2 632.0L961.7 630.5L962.2 632.2L962.7 630.8L963.1 632.3L963.6 632.6L964.1 631.2L964.6 630.7L965.1 629.5L965.5 626.4L966.0 626.6L966.5 625.2L967.0 628.3L967.4 629.4L967.9 627.6L968.4 627.4L968.9 627.0L969.3 626.8L969.8 626.6L970.3 629.6L970.8 626.0L971.3 627.0L971.7 628.0L972.2 631.3L972.7 630.0L973.2 630.5L973.6 628.4L974.1 629.0L974.6 627.3L975.1 627.0L975.5 627.0L976.0 627.6L976.5 627.3L977.0 628.5L977.5 626.9L977.9 628.5L978.4 625.3L978.9 626.7L979.4 626.6L979.8 627.6L980.3 627.7L980.8 628.7L981.3 629.8L981.7 629.1L982.2 629.1L982.7 626.5L983.2 627.2L983.7 625.9L984.1 626.9L984.6 629.1L985.1 628.7L985.6 630.3L986.0 632.9L986.5 628.6L987.0 629.1L987.5 628.0L987.9 628.2L988.4 625.2L988.9 626.3L989.4 625.2L989.9 625.3L990.3 624.4L990.8 623.2L991.3 624.4L991.8 623.5L992.2 624.6L992.7 623.6L993.2 623.4L993.7 625.4L994.1 624.9L994.6 625.2L995.1 624.6L995.6 626.8L996.1 627.6L996.5 626.2"/>
<path stroke="#0000ff" d="M167.2 475.0L167.2 474.9L167.3 474.6L167.4 474.1L167.5 473.3L167.6 472.3L167.6 471.1L167.7 469.7L167.8 468.0L167.9 466.3L168.0 464.4L168.1 462.5L168.1 460.6L168.2 458.7L168.3 456.9L168.4 455.3L168.5 453.9L168.5 452.7L168.6 451.7L168.7 451.0L168.8 450.6L168.9 451.0L168.9 451.6L169.0 452.3L169.1 453.2L169.2 454.3L169.3 455.6L169.4 457.0L169.4 458.5L169.5 460.1L169.6 461.9L169.7 463.6L169.8 465.5L169.8 467.4L169.9 469.3L170.0 471.2L170.1 473.0L170.2 474.8L170.2 476.6L170.3 478.2L170.4 479.8L170.5 481.3L170.6 482.6L170.6 483.8L170.7 484.8L170.8 485.7L170.9 486.4L171.0 487.0L171.0 487.4L171.1 487.7L171.2 487.8L171.3 487.9L171.4 487.8L171.4 487.6L171.5 487.3L171.6 486.7L171.7 485.9L171.8 484.9L171.8 483.6L171.9 482.1L172.0 480.4L172.1 478.4L172.2 476.2L172.2 473.7L172.3 471.0L172.4 468.1L172.5 465.0L172.5 461.7L172.6 458.3L172.7 454.6L172.8 450.9L172.9 447.0L172.9 443.0L173.0 438.9L173.1 434.8L173.2 430.6L173.3 426.5L173.3 422.3L173.4 418.2L173.5 414.2L173.6 410.2L173.6 406.3L173.7 402.6L173.8 399.0L173.9 395.6L174.0 392.4L174.0 389.4L174.1 386.6L174.2 384.1L174.3 381.8L174.4 379.7L174.4 378.0L174.5 376.5L174.6 375.3L174.7 374.4L174.7 375.4L174.8 376.8L174.9 378.6L175.0 380.7L175.1 383.2L175.2 385.9L175.2 389.0L175.3 392.3L175.4 395.8L175.5 399.5L175.6 403.4L175.6 407.4L175.7 411.5L175.8 415.6L175.9 419.7L176.0 423.8L176.0 427.8L176.1 431.7L176.2 435.5L176.3 439.0L176.4 442.4L176.4 445.5L176.5 448.3L176.6 450.9L176.7 453.2L176.8 455.1L176.8 456.8L176.9 458.1L177.0 459.2L177.1 459.9L177.2 460.4L177.2 460.6L177.3 460.7L177.4 460.6L177.5 460.4L177.6 459.9L177.6 459.2L177.7 458.1L177.8 456.7L177.9 455.0L178.0 452.9L178.0 450.5L178.1 447.7L178.2 444.6L178.3 441.1L178.4 437.3L178.4 433.2L178.5 428.7L178.6 423.9L178.7 418.9L178.8 413.6L178.8 408.1L178.9 402.3L179.0 396.5L179.1 390.4L179.2 384.3L179.2 378.1L179.3 371.8L179.4 365.6L179.5 359.4L179.6 353.3L179.6 347.2L179.7 341.3L179.8 335.6L179.9 330.1L180.0 324.8L180.0 319.8L180.1 315.1L180.2 310.7L180.3 306.7L180.4 303.0L180.4 299.7L180.5 296.8L180.6 294.3L180.7 292.2L180.7 290.5L180.8 292.6L180.9 295.1L181.0 298.3L181.1 301.9L181.2 306.1L181.2 310.8L181.3 315.9L181.4 321.4L181.5 327.3L181.6 333.4L181.6 339.8L181.7 346.3L181.8 353.0L181.9 359.8L182.0 366.5L182.0 373.2L182.1 379.8L182.2 386.1L182.3 392.3L182.4 398.2L182.4 403.7L182.5 408.8L182.6 413.6L182.7 417.9L182.8 421.8L182.8 425.1L182.9 428.0L183.0 430.4L183.1 432.4L183.2 433.9L183.2 434.9L183.3 435.6L183.4 436.0L183.5 436.1L183.6 436.0L183.6 435.7L183.7 435.1L183.8 434.1L183.9 432.7L184.0 431.0L184.0 428.7L184.1 426.1L184.2 422.9L184.3 419.2L184.4 415.1L184.4 410.5L184.5 405.4L184.6 399.9L184.7 393.9L184.7 387.6L184.8 380.8L184.9 373.8L185.0 366.4L185.1 358.7L185.1 350.9L185.2 342.8L185.3 334.7L185.4 326.4L185.5 318.2L185.5 310.0L185.6 301.8L185.7 293.8L185.8 286.0L185.8 278.4L185.9 271.0L186.0 264.1L186.1 257.4L186.2 251.2L186.2 245.4L186.3 240.1L186.4 235.3L186.5 231.1L186.6 227.3L186.6 224.2L186.7 221.6L186.8 224.9L186.9 228.9L186.9 233.7L187.0 239.2L187.1 245.4L187.2 252.2L187.3 259.6L187.3 267.5L187.4 275.9L187.5 284.7L187.6 293.9L187.7 303.3L187.7 312.8L187.8 322.5L187.9 332.2L188.0 341.9L188.1 351.4L188.1 360.8L188.2 369.8L188.3 378.5L188.4 386.8L188.5 394.6L188.5 402.0L188.6 408.7L188.7 414.9L188.8 420.5L188.9 425.4L188.9 429.7L189.0 433.3L189.1 436.3L189.2 438.8L189.3 440.6L189.3 441.9L189.4 442.7L189.5 443.1L189.6 443.2L189.6 443.1L189.7 442.8L189.8 442.2L189.9 441.2L190.0 439.8L190.0 438.0L190.1 435.7L190.2 432.9L190.3 429.6L190.4 425.7L190.4 421.4L190.5 416.5L190.6 411.2L190.7 405.3L190.8 399.0L190.8 392.2L190.9 385.0L191.0 377.4L191.1 369.4L191.2 361.1L191.2 352.6L191.3 343.8L191.4 334.9L191.5 325.8L191.6 316.7L191.6 307.5L191.7 298.4L191.8 289.4L191.9 280.5L192.0 271.8L192.0 263.4L192.1 255.3L192.2 247.5L192.3 240.2L192.4 233.2L192.4 226.8L192.5 220.8L192.6 215.4L192.7 210.6L192.7 206.3L192.8 202.7L192.9 199.6L193.0 203.9L193.1 209.1L193.1 215.4L193.2 222.6L193.3 230.6L193.4 239.6L193.5 249.2L193.5 259.6L193.6 270.6L193.7 282.1L193.8 294.0L193.9 306.2L193.9 318.6L194.0 331.2L194.1 343.7L194.2 356.1L194.3 368.3L194.3 380.1L194.4 391.6L194.5 402.5L194.6 412.9L194.7 422.6L194.7 431.6L194.8 439.9L194.9 447.3L195.0 453.9L195.1 459.6L195.1 464.5L195.2 468.5L195.3 471.7L195.4 474.2L195.5 475.9L195.5 477.0L195.6 477.6L195.7 477.7L195.8 477.7L195.8 477.3L195.9 476.6L196.0 475.5L196.1 474.0L196.2 472.0L196.2 469.5L196.3 466.4L196.4 462.8L196.5 458.6L196.6 453.9L196.6 448.6L196.7 442.7L196.8 436.3L196.9 429.3L197.0 421.9L197.0 414.0L197.1 405.7L197.2 397.0L197.3 387.9L197.4 378.6L197.4 369.0L197.5 359.2L197.6 349.3L197.7 339.3L197.8 329.3L197.8 319.3L197.9 309.5L198.0 299.8L198.1 290.3L198.2 281.1L198.2 272.2L198.3 263.7L198.4 255.6L198.5 248.1L198.6 241.0L198.6 234.5L198.7 228.6L198.8 223.3L198.9 218.6L198.9 214.6L199.0 211.3L199.1 215.8L199.2 221.4L199.3 228.1L199.4 235.7L199.4 244.2L199.5 253.7L199.6 263.9L199.7 274.9L199.8 286.6L199.8 298.8L199.9 311.5L200.0 324.5L200.1 337.8L200.2 351.2L200.2 364.7L200.3 378.1L200.4 391.3L200.5 404.2L200.6 416.7L200.6 428.8L200.7 440.3L200.8 451.2L200.9 461.3L201.0 470.7L201.0 479.3L201.1 487.0L201.2 493.8L201.3 499.8L201.4 504.8L201.4 509.0L201.5 512.3L201.6 514.9L201.7 516.7L201.8 517.8L201.8 518.4L201.9 518.5L202.0 518.5L202.1 518.2L202.2 517.6L202.2 516.6L202.3 515.3L202.4 513.6L202.5 511.4L202.6 508.7L202.6 505.6L202.7 502.0L202.8 497.9L202.9 493.3L203.0 488.2L203.0 482.7L203.1 476.7L203.2 470.3L203.3 463.4L203.4 456.2L203.4 448.7L203.5 440.9L203.6 432.8L203.7 424.5L203.8 416.0L203.8 407.5L203.9 398.8L204.0 390.2L204.1 381.5L204.2 373.0L204.2 364.6L204.3 356.4L204.4 348.5L204.5 340.8L204.6 333.4L204.6 326.5L204.7 319.9L204.8 313.8L204.9 308.2L204.9 303.1L205.0 298.5L205.1 294.5L205.2 291.0L205.3 288.1L205.3 291.8L205.4 296.3L205.5 301.5L205.6 307.5L205.7 314.3L205.7 321.7L205.8 329.8L205.9 338.5L206.0 347.7L206.1 357.4L206.1 367.5L206.2 377.8L206.3 388.5L206.4 399.3L206.4 410.2L206.5 421.1L206.6 431.9L206.7 442.6L206.8 453.1L206.8 463.2L206.9 473.0L207.0 482.4L207.1 491.3L207.1 499.7L207.2 507.5L207.3 514.6L207.4 521.2L207.5 527.0L207.5 532.2L207.6 536.7L207.7 540.5L207.8 543.6L207.9 546.1L207.9 548.1L208.0 549.4L208.1 550.3L208.2 550.7L208.2 550.8L208.3 550.8L208.4 550.6L208.5 550.2L208.6 549.6L208.6 548.7L208.7 547.5L208.8 546.1L208.9 544.4L209.0 542.3L209.0 539.9L209.1 537.2L209.2 534.2L209.3 530.8L209.4 527.2L209.4 523.2L209.5 518.9L209.6 514.4L209.7 509.6L209.8 504.6L209.8 499.4L209.9 494.0L210.0 488.4L210.1 482.7L210.2 476.9L210.2 471.1L210.3 465.2L210.4 459.3L210.5 453.5L210.6 447.7L210.6 442.1L210.7 436.5L210.8 431.2L210.9 426.0L211.0 421.1L211.0 416.4L211.1 412.0L211.2 407.9L211.3 404.1L211.3 400.7L211.4 397.6L211.5 394.9L211.6 392.6L211.7 390.6L211.7 393.0L211.8 395.9L211.9 399.2L212.0 403.1L212.1 407.4L212.1 412.1L212.2 417.3L212.3 422.8L212.4 428.6L212.5 434.8L212.6 441.2L212.6 447.9L212.7 454.7L212.8 461.7L212.9 468.8L213.0 475.9L213.0 483.0L213.1 490.1L213.2 497.0L213.3 503.9L213.4 510.5L213.4 516.9L213.5 523.1L213.6 528.9L213.7 534.5L213.8 539.7L213.8 544.5L213.9 548.9L214.0 552.9L214.1 556.5L214.2 559.6L214.2 562.4L214.3 564.7L214.4 566.6L214.5 568.1L214.6 569.3L214.6 570.1L214.7 570.7L214.8 570.9L214.9 571.0L215.0 571.0L215.0 570.9L215.1 570.6L215.2 570.3L215.3 569.8L215.4 569.2L215.4 568.5L215.5 567.5L215.6 566.4L215.7 565.1L215.8 563.7L215.8 562.0L215.9 560.2L216.0 558.2L216.1 556.1L216.2 553.8L216.2 551.4L216.3 548.8L216.4 546.1L216.5 543.3L216.6 540.3L216.6 537.3L216.7 534.3L216.8 531.2L216.9 528.0L217.0 524.8L217.0 521.7L217.1 518.5L217.2 515.4L217.3 512.4L217.3 509.4L217.4 506.5L217.5 503.7L217.6 501.1L217.7 498.6L217.7 496.2L217.8 494.0L217.9 491.9L218.0 490.1L218.1 488.4L218.1 487.0L218.2 485.7L218.3 484.7L218.4 485.9L218.5 487.4L218.5 489.1L218.6 491.0L218.7 493.2L218.8 495.5L218.9 498.1L218.9 500.9L219.0 503.8L219.1 506.9L219.2 510.1L219.3 513.5L219.3 517.0L219.4 520.6L219.5 524.2L219.6 527.9L219.7 531.7L219.7 535.4L219.8 539.2L219.9 542.9L220.0 546.7L220.1 550.3L220.2 553.9L220.2 557.4L220.3 560.8L220.4 564.0L220.5 567.1L220.6 570.0L220.6 572.8L220.7 575.3L220.8 577.7L220.9 579.9L221.0 582.0L221.0 583.8L221.1 585.4L221.2 586.8L221.3 588.0L221.4 589.1L221.4 589.9L221.5 590.6L221.6 591.1L221.7 591.5L221.8 591.7L221.8 591.9L221.9 591.9L222.0 591.9L222.1 591.8L222.2 591.8L222.2 591.6L222.3 591.5L222.4 591.2L222.5 590.9L222.6 590.5L222.6 590.0L222.7 589.4L222.8 588.7L222.9 587.9L223.0 587.1L223.0 586.2L223.1 585.2L223.2 584.1L223.3 582.9L223.3 581.6L223.4 580.3L223.5 579.0L223.6 577.5L223.7 576.1L223.7 574.6L223.8 573.0L223.9 571.5L224.0 569.9L224.1 568.4L224.1 567.0L224.2 565.5L224.3 564.1L224.4 562.7L224.5 561.3L224.5 560.0L224.6 558.7L224.7 557.5L224.8 556.4L224.9 555.3L224.9 554.4L225.0 553.4L225.1 552.6L225.2 551.9L225.3 551.3L225.3 550.7L225.4 551.4L225.5 552.3L225.6 553.3L225.7 554.4L225.7 555.7L225.8 557.1L225.9 558.6L226.0 560.3L226.1 562.0L226.1 563.9L226.2 565.8L226.3 567.8L226.4 569.9L226.4 572.0L226.5 574.2L226.6 576.4L226.7 578.6L226.8 580.8L226.8 583.0L226.9 585.2L227.0 587.3L227.1 589.4L227.2 591.5L227.2 593.4L227.3 595.3L227.4 597.1L227.5 598.7L227.6 600.3L227.6 601.7L227.7 603.0L227.8 604.2L227.9 605.3L228.0 606.2L228.0 607.0L228.1 607.7L228.2 608.3L228.3 608.8L228.4 609.1L228.4 609.3L228.5 609.4L228.6 609.5L228.7 609.5L228.8 609.4L228.8 609.4L228.9 609.3L229.0 609.2L229.1 609.1L229.1 609.0L229.2 608.8L229.3 608.6L229.4 608.4L229.5 608.2L229.5 607.9L229.6 607.6L229.7 607.2L229.8 606.9L229.9 606.5L229.9 606.1L230.0 605.7L230.1 605.2L230.2 604.8L230.2 604.3L230.3 603.7L230.4 603.2L230.5 602.7L230.6 602.1L230.6 601.5L230.7 600.9L230.8 600.3L230.9 599.7L231.0 599.1L231.0 598.4L231.1 597.8L231.2 597.2L231.3 596.6L231.3 596.0L231.4 595.5L231.5 594.9L231.6 594.4L231.7 593.9L231.7 593.4L231.8 593.0L231.9 592.6L232.0 592.2L232.1 591.9L232.1 591.6L232.2 591.3L232.3 591.1L232.4 591.4L232.4 591.8L232.5 592.2L232.6 592.8L232.7 593.4L232.8 594.0L232.8 594.8L232.9 595.5L233.0 596.3L233.1 597.2L233.2 598.0L233.2 598.9L233.3 599.8L233.4 600.8L233.5 601.8L233.6 602.7L233.6 603.7L233.7 604.7L233.8 605.7L233.9 606.7L234.0 607.7L234.0 608.6L234.1 609.5L234.2 610.4L234.3 611.2L234.4 612.0L234.4 612.8L234.5 613.5L234.6 614.3L234.7 614.9L234.8 615.6L234.8 616.2L234.9 616.7L235.0 617.2L235.1 617.6L235.2 618.0L235.2 618.4L235.3 618.7L235.4 618.9L235.5 619.1L235.5 619.3L235.6 619.4L235.7 619.4L235.8 619.5L235.9 619.5L235.9 619.5L236.0 619.5L236.1 619.6L236.2 619.6L236.3 619.6L236.3 619.6L236.4 619.6L236.5 619.5L236.6 619.4L236.7 619.3L236.7 619.2L236.8 619.1L236.9 619.0L237.0 618.9L237.0 618.7L237.1 618.6L237.2 618.5L237.3 618.3L237.4 618.1L237.4 617.9L237.5 617.7L237.6 617.5L237.7 617.2L237.8 617.0L237.8 616.7L237.9 616.6L238.0 616.4L238.1 616.2L238.1 616.1L238.2 615.9L238.3 615.7L238.4 615.5L238.5 615.3L238.5 615.1L238.6 614.9L238.7 614.7L238.8 614.5L238.9 614.4L238.9 614.2L239.0 614.1L239.1 613.9L239.2 613.9L239.2 613.7L239.3 613.7L239.4 613.6L239.5 613.6L239.6 613.5L239.6 613.5L239.7 613.7L239.8 613.8L239.9 614.0L240.0 614.2L240.0 614.4L240.1 614.6L240.2 614.9L240.3 615.2L240.4 615.5L240.4 615.8L240.5 616.2L240.6 616.5L240.7 616.9L240.8 617.2L240.8 617.7L240.9 618.1L241.0 618.4L241.1 618.8L241.2 619.2L241.2 619.7L241.3 620.1L241.4 620.5L241.5 620.9L241.6 621.2L241.6 621.6L241.7 622.0L241.8 622.3L241.9 622.6L241.9 622.9L242.0 623.3L242.1 623.6L242.2 623.8L242.3 624.0L242.3 624.3L242.4 624.5L242.5 624.7L242.6 624.8L242.7 625.0L242.7 625.2L242.8 625.4L242.9 625.6L243.0 625.7L243.1 625.7L243.1 625.9L243.2 625.9L243.3 625.9L243.4 626.0L243.5 626.0L243.5 625.9L243.6 626.0L243.7 626.0L243.8 626.2L243.9 626.2L243.9 626.1L244.0 626.1L244.1 626.1L244.2 626.1L244.3 626.0L244.3 625.9L244.4 625.9L244.5 625.8L244.6 625.8L244.7 625.5L244.7 625.6L244.8 625.5L244.9 625.4L245.0 625.3L245.1 625.2L245.1 625.2L245.2 625.0L245.3 624.9L245.4 624.8L245.5 624.7L245.5 624.7L245.6 624.5L245.7 624.3L245.8 624.4L245.9 624.3L245.9 624.1L246.0 624.1L246.1 623.8L246.2 623.6L246.3 623.6L246.3 623.5L246.4 623.3L246.5 623.3L246.6 623.4L246.7 623.1L246.8 622.9L246.8 623.0L246.9 622.9L247.0 622.8L247.1 622.6L247.2 622.7L247.2 622.6L247.3 622.4L247.4 622.6L247.5 622.7L247.6 622.9L247.6 623.0L247.7 623.0L247.8 623.3L247.9 623.3L247.9 623.5L248.0 623.6L248.1 623.9L248.2 624.2L248.3 624.3L248.3 624.5L248.4 624.8L248.5 625.0L248.6 625.3L248.7 625.5L248.7 625.9L248.8 626.1L248.9 626.1L249.0 626.4L249.1 626.7L249.1 627.1L249.2 627.2L249.3 627.4L249.4 627.5L249.5 627.5L249.5 627.8L249.6 627.9L249.7 628.1L249.8 628.1L249.9 628.2L249.9 628.2L250.0 628.2L250.1 628.5L250.2 628.4L250.3 628.4L250.3 628.5L250.4 628.3L250.5 628.4L250.6 628.3L250.7 628.2L250.7 628.1L250.8 628.3L250.9 628.1L251.0 628.2L251.0 628.4L251.1 628.2L251.2 628.3L251.3 628.4L251.4 628.4L251.4 628.3L251.5 628.4L251.6 628.5L251.7 628.4L251.8 628.7L251.8 628.5L251.9 628.4"/>
<path stroke="#0000ff" stroke-width="3.30" d="M251.6 628.5L251.7 628.4L251.8 628.7L251.8 628.5L251.9 628.4L252.0 628.6L252.1 628.6L252.1 628.6L252.2 628.5L252.3 628.5L252.4 628.4L252.5 628.5L252.5 628.3L252.6 628.3L252.7 628.2L252.8 628.3L252.9 628.1L252.9 628.3L253.0 628.2L253.1 628.1L253.2 628.0L253.2 628.1L253.3 628.0L253.4 627.9L253.5 627.8L253.6 627.8L253.6 628.1L253.7 628.0L253.8 627.9L253.9 627.9L254.0 627.9L254.0 628.0L254.1 628.0L254.2 628.1L254.3 627.9L254.3 627.9L254.4 628.0L254.5 627.7L254.6 627.9L254.7 628.0L254.7 627.8L254.8 627.9L254.9 627.9L255.0 628.0L255.1 628.0L255.1 628.1L255.2 628.1L255.3 628.3L255.4 628.5L255.5 628.6L255.5 628.5L255.6 628.5L255.7 628.8L255.8 628.7L255.9 628.8L255.9 628.8L256.0 629.1L256.1 629.3L256.2 629.3L256.3 629.5L256.3 629.6L256.4 629.6L256.5 629.7L256.6 629.6L256.7 630.0L256.7 630.0L256.8 630.0L256.9 630.0L257.0 630.3L257.0 630.5L257.1 630.3L257.2 630.4L257.3 630.4L257.4 630.5L257.4 630.8L257.5 630.5L257.6 630.7L257.7 630.5L257.8 630.8L257.8 631.1L257.9 630.8L258.0 630.8L258.1 630.8L258.2 630.8L258.2 630.9L258.3 631.0L258.8 630.9L259.3 631.1L259.8 631.2L260.2 631.3L260.7 631.3L261.2 631.8L261.7 631.9L262.1 631.9L262.6 631.9L263.1 631.5L263.6 632.0L264.0 631.8L264.5 632.2L265.0 631.6L265.5 631.9L266.0 631.7L266.4 632.0L266.9 632.0L267.4 632.2L267.9 632.3L268.3 632.5L268.8 632.8L269.3 633.0L269.8 632.9L270.2 632.9L270.7 632.8L271.2 632.9L271.7 632.9"/>
<path stroke="#0000ff" stroke-width="3.6" d="M271.7 632.9L272.1 632.6L272.6 632.4L273.1 632.8L273.6 632.8L274.1 632.7L274.5 632.7L275.0 633.1L275.5 632.9L276.0 633.2L276.4 633.5L276.9 633.9L277.4 633.5L277.9 633.5L278.3 633.6L278.8 633.4L279.3 633.9L279.8 633.6L280.3 633.5L280.7 633.5L281.2 633.8L281.7 633.3L282.2 633.5L282.6 633.1L283.1 634.0L283.6 633.2L284.1 633.2L284.5 634.1L285.0 633.8L285.5 634.0L286.0 633.7L286.5 634.5L286.9 634.7L287.4 635.2L287.9 634.2L288.4 634.8L288.8 634.9L289.3 634.9L289.8 634.7L290.3 634.6L290.7 634.4L291.2 634.1L291.7 634.5L292.2 635.3L292.7 634.8L293.1 634.9L293.6 634.5L294.1 634.7L294.6 634.4L295.0 634.7L295.5 634.1L296.0 635.2L296.5 634.3L296.9 634.4L297.4 635.3L297.9 635.4L298.4 635.1L298.9 634.8L299.3 634.5L299.8 635.8L300.3 635.5L300.8 635.9L301.2 635.0L301.7 635.1L302.2 635.2L302.7 635.0L303.1 635.2L303.6 634.6L304.1 635.3L304.6 635.5L305.1 635.3L305.5 635.4L306.0 634.9L306.5 635.7L307.0 635.8L307.4 635.9L307.9 636.0L308.4 636.6L308.9 635.6L309.3 635.5L309.8 635.4L310.3 636.0L310.8 635.1L311.3 635.3L311.7 635.5L312.2 635.2L312.7 635.8L313.2 635.4L313.6 635.6L314.1 636.3L314.6 636.1L315.1 636.1L315.5 635.7L316.0 636.8L316.5 635.3L317.0 635.3L317.5 635.5L317.9 635.2L318.4 636.2L318.9 635.5L319.4 635.9L319.8 635.8L320.3 634.9L320.8 635.7L321.3 635.1L321.7 635.7L322.2 635.9L322.7 635.9L323.2 636.1L323.7 635.6L324.1 635.4L324.6 634.9L325.1 635.3L325.6 635.4L326.0 636.3L326.5 636.3L327.0 635.6L327.5 635.5L327.9 636.1L328.4 635.2L328.9 635.8L329.4 635.5L329.9 635.9L330.3 635.4L330.8 635.3L331.3 635.1L331.8 635.8L332.2 635.3L332.7 634.4L333.2 635.5L333.7 635.4L334.1 635.5L334.6 635.5L335.1 634.7L335.6 634.8L336.1 636.0L336.5 635.3L337.0 634.7L337.5 635.2L338.0 635.4L338.4 635.0L338.9 635.2L339.4 636.0L339.9 635.9L340.3 634.9L340.8 635.7L341.3 635.8L341.8 636.1L342.3 634.9L342.7 636.1L343.2 635.5L343.7 635.8L344.2 635.7L344.6 636.3L345.1 635.9L345.6 635.6L346.1 635.3L346.5 636.2L347.0 635.5L347.5 635.9L348.0 635.6L348.5 635.6L348.9 635.6L349.4 635.6L349.9 635.2L350.4 635.5L350.8 636.2L351.3 636.6L351.8 636.3L352.3 635.5L352.7 636.3L353.2 636.1L353.7 634.8L354.2 635.9L354.7 635.8L355.1 635.5L355.6 635.3L356.1 635.8L356.6 635.4L357.0 636.3L357.5 635.4L358.0 635.3L358.5 636.2L358.9 635.1L359.4 634.7L359.9 636.7L360.4 635.5L360.8 634.8L361.3 635.0L361.8 635.5L362.3 635.6L362.8 635.6L363.2 635.2L363.7 635.8L364.2 636.1L364.7 635.4L365.1 635.9L365.6 634.9L366.1 636.0L366.6 635.2L367.0 635.4L367.5 636.1L368.0 635.8L368.5 636.4L369.0 635.2L369.4 635.8L369.9 636.1L370.4 636.3L370.9 635.0L371.3 635.2L371.8 635.9L372.3 635.4L372.8 635.0L373.2 635.0L373.7 635.1L374.2 636.1L374.7 634.6L375.2 635.6L375.6 635.1L376.1 636.4L376.6 635.3L377.1 635.1L377.5 635.0L378.0 636.1L378.5 635.5L379.0 634.7L379.4 635.6L379.9 634.9L380.4 635.2L380.9 635.8L381.4 634.7L381.8 634.6L382.3 634.8L382.8 635.1L383.3 634.8L383.7 636.2L384.2 635.3L384.7 634.6L385.2 635.2L385.6 634.8L386.1 635.4L386.6 635.1L387.1 636.1L387.6 635.1L388.0 635.3L388.5 635.4L389.0 635.3L389.5 635.3L389.9 635.5L390.4 635.3L390.9 635.0L391.4 636.4L391.8 635.4L392.3 635.0L392.8 635.9L393.3 635.3L393.8 634.1L394.2 635.7L394.7 635.1L395.2 635.3L395.7 636.0L396.1 635.5L396.6 636.3L397.1 635.7L397.6 635.2L398.0 635.2L398.5 635.3L399.0 635.7L399.5 635.3L400.0 635.1L400.4 635.2L400.9 635.1L401.4 635.1L401.9 635.1L402.3 635.7L402.8 634.7L403.3 635.9L403.8 635.7L404.2 635.7L404.7 635.6L405.2 634.8L405.7 635.6L406.2 635.7L406.6 635.4L407.1 635.4L407.6 634.7L408.1 634.6L408.5 635.5L409.0 634.7L409.5 635.1L410.0 635.2L410.4 634.7L410.9 635.1L411.4 635.1L411.9 635.1L412.4 635.8L412.8 635.7L413.3 635.8L413.8 636.0L414.3 636.0L414.7 635.9L415.2 635.0L415.7 635.5L416.2 635.1L416.6 635.3L417.1 635.8L417.6 635.5L418.1 636.1L418.6 636.1L419.0 635.0L419.5 634.9L420.0 634.9L420.5 634.7L420.9 635.7L421.4 635.3L421.9 636.2L422.4 635.8L422.8 635.2L423.3 636.2L423.8 635.9L424.3 635.4L424.8 634.3L425.2 634.8L425.7 635.3L426.2 635.0L426.7 635.3L427.1 635.5L427.6 635.5L428.1 635.0L428.6 635.5L429.0 635.2L429.5 635.7L430.0 635.1L430.5 635.6L431.0 635.1L431.4 635.0L431.9 635.7L432.4 634.3L432.9 635.1L433.3 635.6L433.8 635.8L434.3 635.2L434.8 635.3L435.2 635.8L435.7 635.9L436.2 635.5L436.7 635.6L437.2 635.3L437.6 635.6L438.1 635.1L438.6 636.4L439.1 634.3L439.5 635.5L440.0 635.2L440.5 635.8L441.0 634.6L441.4 635.2L441.9 635.3L442.4 635.5L442.9 634.8L443.3 635.1L443.8 635.6L444.3 634.6L444.8 635.6L445.3 634.7L445.7 635.1L446.2 636.0L446.7 635.5L447.2 635.2L447.6 635.6L448.1 635.3L448.6 635.4L449.1 635.2L449.5 635.7L450.0 634.5L450.5 635.2L451.0 634.6L451.5 635.3L451.9 635.3L452.4 635.9L452.9 635.6L453.4 634.7L453.8 635.3L454.3 635.7L454.8 635.7L455.3 635.0L455.7 635.4L456.2 634.3L456.7 635.2L457.2 635.2L457.7 634.8L458.1 634.3L458.6 635.7L459.1 635.4L459.6 635.2L460.0 635.8L460.5 635.1L461.0 635.4L461.5 635.0L461.9 635.1L462.4 634.9L462.9 634.9L463.4 635.3L463.9 633.7L464.3 634.4L464.8 634.9L465.3 635.4L465.8 634.8L466.2 634.5L466.7 634.6L467.2 634.6L467.7 634.7L468.1 634.9L468.6 635.5L469.1 635.4L469.6 635.7L470.1 634.6L470.5 635.4L471.0 635.2L471.5 634.3L472.0 635.5L472.4 635.1L472.9 635.5L473.4 636.0L473.9 634.9L474.3 635.4L474.8 635.4L475.3 635.2L475.8 635.7L476.3 635.2L476.7 634.9L477.2 635.7L477.7 635.3L478.2 635.4L478.6 635.1L479.1 634.2L479.6 635.6L480.1 634.5L480.5 635.4L481.0 635.2L481.5 635.2L482.0 635.3L482.5 635.9L482.9 635.3L483.4 635.7L483.9 634.6L484.4 635.1L484.8 635.7L485.3 635.5L485.8 634.9L486.3 636.0L486.7 635.3L487.2 635.2L487.7 635.6L488.2 634.6L488.7 635.2L489.1 634.3L489.6 634.9L490.1 635.2L490.6 635.1L491.0 634.3L491.5 635.4L492.0 635.5L492.5 635.4L492.9 635.1L493.4 635.1L493.9 635.9L494.4 635.9L494.9 635.4L495.3 635.5L495.8 635.1L496.3 635.9L496.8 635.4L497.2 635.8L497.7 634.8L498.2 636.4L498.7 636.0L499.1 635.7L499.6 636.4L500.1 635.9L500.6 636.1L501.1 636.3L501.5 635.9L502.0 635.1L502.5 635.5L503.0 634.7L503.4 634.7L503.9 635.1L504.4 635.4L504.9 636.3L505.3 636.2L505.8 635.2L506.3 635.2L506.8 635.2L507.3 635.6L507.7 635.3L508.2 635.7L508.7 634.9L509.2 635.3L509.6 636.1L510.1 635.5L510.6 634.7L511.1 635.8L511.5 635.8L512.0 635.8L512.5 635.6L513.0 635.1L513.5 635.2L513.9 635.0L514.4 635.5L514.9 635.0L515.4 634.8L515.8 635.7L516.3 635.1L516.8 635.1L517.3 635.2L517.7 635.3L518.2 634.9L518.7 635.2L519.2 635.4L519.7 635.5L520.1 634.8L520.6 635.4L521.1 636.0L521.6 635.4L522.0 635.5L522.5 634.7L523.0 634.4L523.5 635.3L523.9 634.3L524.4 634.6L524.9 634.3L525.4 635.2L525.9 634.8L526.3 634.7L526.8 634.3L527.3 635.5L527.8 634.9L528.2 634.8L528.7 635.0L529.2 635.3L529.7 635.4L530.1 635.2L530.6 634.4L531.1 635.2L531.6 634.8L532.0 635.6L532.5 635.4L533.0 635.4L533.5 635.1L534.0 635.7L534.4 635.2L534.9 634.1L535.4 635.2L535.9 635.6L536.3 634.1L536.8 634.8L537.3 634.7L537.8 635.5L538.2 635.0L538.7 635.1L539.2 635.0L539.7 635.5L540.2 634.8L540.6 635.7L541.1 634.8L541.6 635.2L542.1 635.5L542.5 636.0L543.0 635.2L543.5 635.1L544.0 636.0L544.4 634.6L544.9 635.5L545.4 636.1L545.9 634.8L546.4 635.7L546.8 635.7L547.3 636.1L547.8 635.7L548.3 635.5L548.7 635.8L549.2 635.3L549.7 635.8L550.2 635.5L550.6 636.4L551.1 635.7L551.6 635.5L552.1 635.2L552.6 635.7L553.0 635.3L553.5 635.4L554.0 635.8L554.5 635.1L554.9 635.2L555.4 635.5L555.9 635.8L556.4 634.7L556.8 634.7L557.3 635.1L557.8 634.7L558.3 634.7L558.8 635.3L559.2 634.9L559.7 634.9L560.2 635.0L560.7 635.3L561.1 635.5L561.6 634.8L562.1 635.1L562.6 634.6L563.0 635.3L563.5 635.5L564.0 635.9L564.5 635.4L565.0 635.2L565.4 635.4L565.9 635.6L566.4 636.5L566.9 635.6L567.3 635.2L567.8 634.5L568.3 635.8L568.8 635.1L569.2 636.0L569.7 635.0L570.2 635.4L570.7 635.1L571.2 635.0L571.6 635.5L572.1 635.5L572.6 635.0L573.1 636.1L573.5 635.6L574.0 634.8L574.5 634.8L575.0 635.5L575.4 635.3L575.9 635.0L576.4 634.1L576.9 634.5L577.4 635.3L577.8 635.5L578.3 635.3L578.8 636.1L579.3 635.4L579.7 635.7L580.2 634.9L580.7 635.5L581.2 635.0L581.6 635.6L582.1 635.4L582.6 634.4L583.1 635.5L583.6 635.2L584.0 635.1L584.5 634.4L585.0 635.0L585.5 635.4L585.9 635.2L586.4 634.5L586.9 634.9L587.4 634.9L587.8 634.1L588.3 635.5L588.8 634.5L589.3 635.4L589.8 634.3L590.2 634.8L590.7 634.9L591.2 635.1L591.7 635.2L592.1 636.7L592.6 636.0L593.1 634.3L593.6 635.0L594.0 635.2L594.5 634.9L595.0 634.8L595.5 635.0L596.0 634.8L596.4 634.9L596.9 635.6L597.4 635.2L597.9 634.7L598.3 635.6L598.8 635.3L599.3 635.6L599.8 635.6L600.2 636.2L600.7 635.4L601.2 635.2L601.7 634.4L602.2 634.9L602.6 634.1L603.1 634.6L603.6 635.6L604.1 634.4L604.5 635.4L605.0 635.4L605.5 636.0L606.0 635.4L606.4 635.5L606.9 635.8L607.4 635.6L607.9 634.5L608.4 635.2L608.8 634.9L609.3 635.2L609.8 635.2L610.3 635.2L610.7 635.1L611.2 634.9L611.7 634.6L612.2 634.9L612.6 634.9L613.1 635.1L613.6 634.5L614.1 634.7L614.5 635.0L615.0 635.7L615.5 634.9L616.0 635.7L616.5 634.3L616.9 634.8L617.4 634.3L617.9 634.8L618.4 634.4L618.8 634.0L619.3 634.5L619.8 635.5L620.3 635.9L620.7 635.6L621.2 635.2L621.7 635.6L622.2 635.9L622.7 635.4L623.1 635.3L623.6 636.0L624.1 635.3L624.6 634.9L625.0 635.7L625.5 635.3L626.0 635.4L626.5 635.3L626.9 635.3L627.4 635.8L627.9 635.2L628.4 634.5L628.9 635.2L629.3 635.9L629.8 635.3L630.3 634.5L630.8 635.5L631.2 635.3L631.7 635.7L632.2 635.6L632.7 635.0L633.1 634.8L633.6 635.3L634.1 634.9L634.6 635.2L635.1 636.0L635.5 635.2L636.0 634.8L636.5 633.9L637.0 635.6L637.4 634.9L637.9 635.0L638.4 635.1L638.9 635.1L639.3 634.7L639.8 634.7L640.3 635.6L640.8 635.5L641.3 635.3L641.7 635.9L642.2 635.0L642.7 634.7L643.2 635.5L643.6 635.5L644.1 635.7L644.6 635.3L645.1 635.0L645.5 635.7L646.0 634.7L646.5 635.7L647.0 635.2L647.5 635.2L647.9 635.6L648.4 635.3L648.9 635.6L649.4 634.8L649.8 635.2L650.3 635.8L650.8 634.9L651.3 635.3L651.7 634.4L652.2 635.3L652.7 635.0L653.2 635.9L653.7 635.5L654.1 635.3L654.6 634.8L655.1 634.5L655.6 634.9L656.0 635.0L656.5 635.1L657.0 635.0L657.5 634.9L657.9 634.5L658.4 634.3L658.9 635.1L659.4 635.4L659.9 635.5L660.3 634.6L660.8 634.3L661.3 634.8L661.8 634.5L662.2 634.9L662.7 635.1L663.2 634.8L663.7 635.4L664.1 635.1L664.6 635.3L665.1 636.0L665.6 635.0L666.1 634.7L666.5 634.4L667.0 635.1L667.5 634.6L668.0 635.5L668.4 634.6L668.9 635.7L669.4 635.4L669.9 635.6L670.3 634.1L670.8 634.9L671.3 634.4L671.8 635.1L672.3 635.0L672.7 634.9L673.2 635.6L673.7 634.8L674.2 634.9L674.6 635.3L675.1 634.3L675.6 634.8L676.1 634.1L676.5 634.6L677.0 634.8L677.5 634.9L678.0 634.9L678.5 635.2L678.9 634.5L679.4 635.3L679.9 634.4L680.4 635.1L680.8 634.8L681.3 635.1L681.8 633.8L682.3 635.7L682.7 634.5L683.2 634.2L683.7 634.2L684.2 633.9L684.7 634.1L685.1 635.5L685.6 634.8L686.1 635.4L686.6 635.1L687.0 635.0L687.5 634.4L688.0 634.4L688.5 634.9L688.9 635.3L689.4 634.8L689.9 635.0L690.4 635.1L690.9 634.5L691.3 634.1L691.8 635.0L692.3 634.0L692.8 635.2L693.2 635.1L693.7 635.7L694.2 634.9L694.7 634.2L695.1 635.7L695.6 635.5L696.1 635.8L696.6 635.2L697.1 634.6L697.5 635.5L698.0 634.5L698.5 633.8L699.0 634.9L699.4 634.9L699.9 634.7L700.4 635.6L700.9 635.2L701.3 634.5L701.8 634.8L702.3 634.4L702.8 635.1L703.2 634.8L703.7 635.3L704.2 635.5L704.7 634.5L705.2 634.2L705.6 635.4L706.1 634.9L706.6 634.7L707.1 634.4L707.5 635.4L708.0 635.8L708.5 635.0L709.0 635.6L709.4 635.8L709.9 635.3L710.4 635.2L710.9 635.1L711.4 635.2L711.8 636.0L712.3 636.1L712.8 635.0L713.3 634.5L713.7 634.8L714.2 635.6L714.7 634.6L715.2 635.5L715.6 634.3L716.1 634.8L716.6 634.6L717.1 635.2L717.6 634.5L718.0 635.6L718.5 634.4L719.0 635.5L719.5 635.0L719.9 634.6L720.4 634.8L720.9 635.2L721.4 635.8L721.8 634.4L722.3 635.1L722.8 635.5L723.3 634.3L723.8 633.7L724.2 635.1L724.7 634.5L725.2 634.5L725.7 634.9L726.1 634.7L726.6 634.7L727.1 635.7L727.6 635.2L728.0 634.9L728.5 635.0L729.0 634.6L729.5 634.7L730.0 634.3L730.4 633.7L730.9 635.2L731.4 634.5L731.9 634.1L732.3 634.9L732.8 635.7L733.3 634.7L733.8 634.1L734.2 634.5L734.7 635.6L735.2 634.9L735.7 635.0L736.2 635.2L736.6 634.6L737.1 636.0L737.6 634.1L738.1 633.9L738.5 635.0L739.0 635.1L739.5 635.4L740.0 634.7L740.4 635.2L740.9 636.0L741.4 635.9L741.9 634.7L742.4 634.5L742.8 635.5L743.3 634.4L743.8 635.3L744.3 635.0L744.7 635.4L745.2 634.5L745.7 635.1L746.2 634.8L746.6 634.6L747.1 634.9L747.6 634.1L748.1 634.4L748.6 634.7L749.0 635.0L749.5 634.6L750.0 634.8L750.5 634.9L750.9 635.4L751.4 634.3L751.9 634.8L752.4 634.3L752.8 634.5L753.3 634.7L753.8 634.8L754.3 635.2L754.8 634.1L755.2 634.6L755.7 633.7L756.2 633.7L756.7 634.3L757.1 634.5L757.6 634.3L758.1 634.2L758.6 635.0L759.0 634.6L759.5 634.0L760.0 635.2L760.5 634.5L761.0 635.0L761.4 634.7L761.9 634.4L762.4 634.9L762.9 634.6L763.3 634.1L763.8 634.6L764.3 634.8L764.8 635.2L765.2 635.1L765.7 634.6L766.2 635.0L766.7 635.1L767.2 635.0L767.6 634.8L768.1 634.6L768.6 634.7L769.1 634.9L769.5 633.6L770.0 635.1L770.5 634.5L771.0 634.4L771.4 634.7L771.9 634.8L772.4 635.5L772.9 634.9L773.4 634.5L773.8 635.1L774.3 634.5L774.8 634.5L775.3 635.0L775.7 634.8L776.2 635.5L776.7 634.2L777.2 633.7L777.6 634.1L778.1 633.8L778.6 635.7L779.1 634.7L779.6 634.7L780.0 634.5L780.5 634.9L781.0 635.4L781.5 634.7L781.9 635.2L782.4 634.7L782.9 634.2L783.4 633.9L783.8 634.3L784.3 634.3L784.8 635.5L785.3 635.2L785.7 634.4L786.2 634.5L786.7 634.6L787.2 635.1L787.7 634.9L788.1 634.6L788.6 634.1L789.1 634.9L789.6 635.9L790.0 633.6L790.5 634.4L791.0 635.1L791.5 634.2L791.9 634.6L792.4 635.1L792.9 635.2L793.4 634.4L793.9 634.8L794.3 634.2L794.8 635.2L795.3 635.2L795.8 635.6L796.2 635.0L796.7 633.8L797.2 635.7L797.7 634.4L798.1 635.0L798.6 634.9L799.1 633.6L799.6 635.3L800.1 634.7L800.5 635.5L801.0 634.8L801.5 634.5L802.0 634.8L802.4 634.2L802.9 634.2L803.4 634.8L803.9 634.7L804.3 634.4L804.8 634.7L805.3 635.5L805.8 634.9L806.3 634.6L806.7 634.6L807.2 635.7L807.7 635.2L808.2 634.5L808.6 635.1L809.1 634.3L809.6 635.1L810.1 635.6L810.5 635.5L811.0 633.8L811.5 635.0L812.0 634.9L812.5 634.3L812.9 634.9L813.4 635.8L813.9 635.3L814.4 634.4L814.8 635.5L815.3 635.5L815.8 635.1L816.3 635.0L816.7 635.2L817.2 634.1L817.7 635.2L818.2 635.5L818.7 634.9L819.1 634.9L819.6 634.9L820.1 635.3L820.6 634.1L821.0 634.2L821.5 634.4L822.0 634.9L822.5 634.5L822.9 634.2L823.4 634.5L823.9 634.9L824.4 634.2L824.9 634.5L825.3 635.5L825.8 634.5L826.3 634.5L826.8 634.7L827.2 635.3L827.7 635.1L828.2 635.3L828.7 635.2L829.1 634.6L829.6 634.7L830.1 635.3L830.6 634.4L831.1 634.1L831.5 634.1L832.0 634.8L832.5 635.4L833.0 635.2L833.4 635.1L833.9 635.0L834.4 635.3L834.9 634.6L835.3 634.6L835.8 634.9L836.3 633.8L836.8 634.8L837.3 634.1L837.7 633.5L838.2 634.5L838.7 633.6L839.2 634.2L839.6 633.5L840.1 634.0L840.6 635.1L841.1 635.0L841.5 635.4L842.0 635.0L842.5 635.0L843.0 634.6L843.5 635.6L843.9 635.9L844.4 635.1L844.9 635.3L845.4 634.2L845.8 634.6L846.3 634.8L846.8 634.5L847.3 635.5L847.7 634.5L848.2 634.3L848.7 634.3L849.2 635.2L849.7 634.0L850.1 634.3L850.6 634.0L851.1 633.6L851.6 633.5L852.0 634.7L852.5 634.1L853.0 634.3L853.5 634.4L853.9 634.5L854.4 634.5L854.9 634.9L855.4 634.4L855.9 634.1L856.3 634.8L856.8 635.7L857.3 635.9L857.8 635.2L858.2 634.7L858.7 634.5L859.2 634.5L859.7 635.3L860.1 634.2L860.6 634.8L861.1 635.3L861.6 635.3L862.1 634.8L862.5 634.9L863.0 635.0L863.5 634.4L864.0 635.0L864.4 635.4L864.9 635.1L865.4 635.4L865.9 635.4L866.3 635.4L866.8 634.6L867.3 635.1L867.8 635.2L868.2 634.2L868.7 634.5L869.2 635.6L869.7 634.7L870.2 635.3L870.6 634.6L871.1 634.6L871.6 634.3L872.1 635.3L872.5 634.0L873.0 633.5L873.5 634.3L874.0 633.6L874.4 633.7L874.9 634.3L875.4 633.7L875.9 634.7L876.4 633.9L876.8 633.3L877.3 633.2L877.8 633.9L878.3 633.8L878.7 633.7L879.2 633.8L879.7 634.2L880.2 634.1L880.6 634.2L881.1 633.8L881.6 633.9L882.1 633.9L882.6 634.6L883.0 634.9L883.5 634.5L884.0 633.6L884.5 634.3L884.9 634.9L885.4 635.1L885.9 635.4L886.4 633.7L886.8 633.3L887.3 634.8L887.8 632.8L888.3 634.7L888.8 633.8L889.2 634.4L889.7 634.0L890.2 634.3L890.7 634.3L891.1 634.8L891.6 635.0L892.1 634.9L892.6 634.1L893.0 633.4L893.5 633.7L894.0 633.2L894.5 632.9L895.0 632.8L895.4 634.0L895.9 634.1L896.4 634.5L896.9 634.8L897.3 634.1L897.8 633.6L898.3 633.3L898.8 634.6L899.2 633.6L899.7 633.0L900.2 633.3L900.7 634.0L901.2 634.1L901.6 633.2L902.1 635.0L902.6 633.4L903.1 634.2L903.5 634.0L904.0 633.9L904.5 633.1L905.0 633.5L905.4 632.1L905.9 631.7L906.4 632.9L906.9 632.2L907.4 632.3L907.8 633.7L908.3 634.2L908.8 635.2L909.3 634.4L909.7 636.6L910.2 635.9L910.7 634.7L911.2 634.5L911.6 636.2L912.1 635.9L912.6 634.6L913.1 634.3L913.6 633.7L914.0 632.5L914.5 633.3L915.0 632.5L915.5 633.3L915.9 632.5L916.4 634.1L916.9 634.5L917.4 633.7L917.8 633.6L918.3 632.4L918.8 632.6L919.3 634.0L919.8 632.4L920.2 634.0L920.7 633.3L921.2 634.1L921.7 633.3L922.1 634.1L922.6 634.1L923.1 632.6L923.6 632.3L924.0 633.1L924.5 634.8L925.0 634.7L925.5 635.1L926.0 633.4L926.4 633.9L926.9 634.9L927.4 635.2L927.9 635.1L928.3 634.8L928.8 635.3L929.3 634.7L929.8 634.0L930.2 634.5L930.7 633.9L931.2 633.6L931.7 633.0L932.2 631.6L932.6 633.8L933.1 633.7L933.6 634.1L934.1 633.5L934.5 632.7L935.0 633.8L935.5 634.6L936.0 633.7L936.4 632.6L936.9 632.0L937.4 630.8L937.9 630.7L938.4 630.4L938.8 630.9L939.3 629.8L939.8 629.4L940.3 631.2L940.7 632.3L941.2 632.8L941.7 633.1L942.2 631.5L942.6 631.3L943.1 631.4L943.6 630.9L944.1 631.0L944.6 630.2L945.0 628.4L945.5 629.9L946.0 629.7L946.5 633.5L946.9 633.5L947.4 634.8L947.9 633.0L948.4 631.7L948.8 633.1L949.3 632.7L949.8 633.6L950.3 632.1L950.8 633.1L951.2 634.6L951.7 634.4L952.2 632.7L952.7 633.3L953.1 633.9L953.6 636.1L954.1 633.7L954.6 633.1L955.0 631.2L955.5 630.3L956.0 631.6L956.5 629.8L956.9 630.0L957.4 628.8L957.9 629.3L958.4 631.2L958.9 631.6L959.3 634.0L959.8 633.6L960.3 635.6L960.8 634.1L961.2 635.3L961.7 633.4L962.2 635.9L962.7 633.6L963.1 636.4L963.6 635.4L964.1 634.6L964.6 633.2L965.1 631.3L965.5 629.2L966.0 628.7L966.5 628.4L967.0 630.4L967.4 631.3L967.9 630.3L968.4 630.2L968.9 628.8L969.3 629.1L969.8 630.4L970.3 631.1L970.8 628.8L971.3 630.0L971.7 631.8L972.2 634.4L972.7 633.3L973.2 633.2L973.6 632.0L974.1 631.7L974.6 629.5L975.1 630.4L975.5 628.9L976.0 629.9L976.5 628.9L977.0 631.7L977.5 629.8L977.9 631.5L978.4 629.1L978.9 629.9L979.4 629.2L979.8 630.2L980.3 631.1L980.8 632.5L981.3 632.1L981.7 632.4L982.2 632.5L982.7 630.9L983.2 629.7L983.7 628.8L984.1 629.8L984.6 631.6L985.1 631.9L985.6 634.6L986.0 635.9L986.5 632.7L987.0 632.4L987.5 631.9L987.9 632.5L988.4 629.5L988.9 628.4L989.4 628.0L989.9 628.8L990.3 627.6L990.8 627.4L991.3 626.6L991.8 626.6L992.2 626.5L992.7 627.1L993.2 625.9L993.7 628.5L994.1 628.6L994.6 627.8L995.1 627.5L995.6 630.2L996.1 630.4L996.5 630.0"/>
<path stroke="#00ffff" d="M167.2 415.0L167.2 414.9L167.3 414.4L167.4 413.7L167.5 412.5L167.6 411.0L167.6 409.1L167.7 406.8L167.8 404.3L167.9 401.6L168.0 398.8L168.1 395.9L168.1 392.9L168.2 390.1L168.3 387.3L168.4 384.9L168.5 382.6L168.5 380.8L168.6 379.3L168.7 378.2L168.8 377.6L168.9 378.2L168.9 379.1L169.0 380.2L169.1 381.6L169.2 383.2L169.3 385.1L169.4 387.1L169.4 389.4L169.5 391.8L169.6 394.4L169.7 397.1L169.8 399.8L169.8 402.6L169.9 405.5L170.0 408.3L170.1 411.0L170.2 413.8L170.2 416.4L170.3 418.8L170.4 421.2L170.5 423.3L170.6 425.3L170.6 427.1L170.7 428.6L170.8 429.9L170.9 431.0L171.0 431.9L171.0 432.5L171.1 432.9L171.2 433.1L171.3 433.2L171.4 433.1L171.4 432.8L171.5 432.2L171.6 431.4L171.7 430.2L171.8 428.6L171.8 426.7L171.9 424.4L172.0 421.8L172.1 418.7L172.2 415.3L172.2 411.6L172.3 407.5L172.4 403.1L172.5 398.4L172.5 393.4L172.6 388.1L172.7 382.5L172.8 376.8L172.9 370.9L172.9 364.8L173.0 358.6L173.1 352.3L173.2 346.0L173.3 339.7L173.3 333.4L173.4 327.1L173.5 320.9L173.6 314.9L173.6 309.0L173.7 303.3L173.8 297.9L173.9 292.7L174.0 287.8L174.0 283.2L174.1 279.0L174.2 275.1L174.3 271.6L174.4 268.5L174.4 265.8L174.5 263.5L174.6 261.7L174.7 260.3L174.7 261.9L174.8 263.9L174.9 266.5L175.0 269.6L175.1 273.2L175.2 277.2L175.2 281.7L175.3 286.5L175.4 291.6L175.5 297.1L175.6 302.8L175.6 308.6L175.7 314.6L175.8 320.6L175.9 326.6L176.0 332.6L176.0 338.5L176.1 344.2L176.2 349.6L176.3 354.8L176.4 359.7L176.4 364.3L176.5 368.4L176.6 372.2L176.7 375.5L176.8 378.4L176.8 380.8L176.9 382.8L177.0 384.3L177.1 385.4L177.2 386.1L177.2 386.5L177.3 386.6L177.4 386.5L177.5 386.1L177.6 385.4L177.6 384.3L177.7 382.8L177.8 380.8L177.9 378.3L178.0 375.3L178.0 371.8L178.1 367.7L178.2 363.2L178.3 358.1L178.4 352.6L178.4 346.5L178.5 340.0L178.6 333.1L178.7 325.8L178.8 318.1L178.8 310.1L178.9 301.7L179.0 293.2L179.1 284.4L179.2 275.5L179.2 266.5L179.3 257.4L179.4 248.4L179.5 239.3L179.6 230.4L179.6 221.7L179.7 213.1L179.8 204.8L179.9 196.8L180.0 189.1L180.0 181.8L180.1 175.0L180.2 168.6L180.3 162.7L180.4 157.4L180.4 152.6L180.5 148.3L180.6 144.7L180.7 141.7L180.7 139.3L180.8 142.2L180.9 146.0L181.0 150.6L181.1 156.0L181.2 162.1L181.2 168.9L181.3 176.4L181.4 184.4L181.5 193.0L181.6 201.9L181.6 211.3L181.7 220.9L181.8 230.7L181.9 240.5L182.0 250.4L182.0 260.2L182.1 269.8L182.2 279.1L182.3 288.1L182.4 296.6L182.4 304.7L182.5 312.3L182.6 319.2L182.7 325.5L182.8 331.1L182.8 336.1L182.9 340.3L183.0 343.9L183.1 346.7L183.2 348.9L183.2 350.4L183.3 351.4L183.4 351.9L183.5 352.1L183.6 351.9L183.6 351.5L183.7 350.6L183.8 349.2L183.9 347.2L184.0 344.6L184.0 341.4L184.1 337.5L184.2 332.9L184.3 327.6L184.4 321.5L184.4 314.8L184.5 307.4L184.6 299.4L184.7 290.7L184.7 281.4L184.8 271.6L184.9 261.3L185.0 250.6L185.1 239.4L185.1 228.0L185.2 216.3L185.3 204.4L185.4 192.4L185.5 180.4L185.5 168.4L185.6 156.6L185.7 144.9L185.8 133.5L185.8 122.4L185.9 111.8L186.0 101.6L186.1 91.9L186.2 82.9L186.2 74.5L186.3 66.8L186.4 59.8L186.5 53.6L186.6 48.1L186.6 43.5L186.7 39.8L186.8 44.5L186.9 50.2L186.9 57.0L187.0 64.8L187.1 73.6L187.2 83.3L187.3 93.9L187.3 105.2L187.4 117.1L187.5 129.7L187.6 142.7L187.7 156.0L187.7 169.7L187.8 183.5L187.9 197.3L188.0 211.1L188.1 224.6L188.1 237.9L188.2 250.8L188.3 263.2L188.4 275.0L188.5 286.2L188.5 296.6L188.6 306.2L188.7 315.0L188.8 323.0L188.9 330.0L188.9 336.1L189.0 341.3L189.1 345.6L189.2 349.0L189.3 351.6L189.3 353.4L189.4 354.6L189.5 355.2L189.6 355.4L189.6 355.3L189.7 354.8L189.8 354.0L189.9 352.6L190.0 350.7L190.0 348.2L190.1 345.1L190.2 341.3L190.3 336.8L190.4 331.6L190.4 325.6L190.5 319.0L190.6 311.7L190.7 303.7L190.8 295.1L190.8 285.9L190.9 276.0L191.0 265.7L191.1 254.8L191.2 243.6L191.2 231.9L191.3 220.0L191.4 207.8L191.5 195.4L191.6 183.0L191.6 170.5L191.7 158.1L191.8 145.9L191.9 133.8L192.0 122.0L192.0 110.5L192.1 99.5L192.2 88.9L192.3 78.9L192.4 69.4L192.4 60.6L192.5 52.5L192.6 45.2L192.7 38.6L192.7 32.8L192.8 27.8L192.9 23.6L193.0 29.6L193.1 36.9L193.1 45.6L193.2 55.6L193.3 66.8L193.4 79.2L193.5 92.7L193.5 107.2L193.6 122.4L193.7 138.4L193.8 155.0L193.9 172.0L193.9 189.4L194.0 206.8L194.1 224.2L194.2 241.5L194.3 258.5L194.3 275.0L194.4 291.0L194.5 306.2L194.6 320.7L194.7 334.2L194.7 346.7L194.8 358.2L194.9 368.5L195.0 377.7L195.1 385.7L195.1 392.5L195.2 398.1L195.3 402.6L195.4 406.0L195.5 408.4L195.5 410.0L195.6 410.8L195.7 411.0L195.8 410.8L195.8 410.3L195.9 409.4L196.0 407.9L196.1 405.7L196.2 402.9L196.2 399.4L196.3 395.1L196.4 390.1L196.5 384.2L196.6 377.6L196.6 370.2L196.7 362.0L196.8 353.0L196.9 343.4L197.0 333.0L197.0 322.0L197.1 310.3L197.2 298.2L197.3 285.5L197.4 272.5L197.4 259.1L197.5 245.4L197.6 231.6L197.7 217.6L197.8 203.7L197.8 189.7L197.9 176.0L198.0 162.4L198.1 149.2L198.2 136.3L198.2 123.9L198.3 112.1L198.4 100.8L198.5 90.2L198.6 80.4L198.6 71.3L198.7 63.0L198.8 55.6L198.9 49.1L198.9 43.5L199.0 38.9L199.1 45.3L199.2 53.1L199.3 62.4L199.4 73.1L199.4 85.1L199.5 98.3L199.6 112.7L199.7 128.1L199.8 144.4L199.8 161.6L199.9 179.3L200.0 197.6L200.1 216.2L200.2 235.0L200.2 253.9L200.3 272.7L200.4 291.2L200.5 309.4L200.6 326.9L200.6 343.9L200.7 360.0L200.8 375.2L200.9 389.5L201.0 402.6L201.0 414.6L201.1 425.4L201.2 435.0L201.3 443.4L201.4 450.4L201.4 456.3L201.5 461.0L201.6 464.5L201.7 467.1L201.8 468.7L201.8 469.5L201.9 469.7L202.0 469.6L202.1 469.1L202.2 468.3L202.2 467.0L202.3 465.1L202.4 462.6L202.5 459.5L202.6 455.7L202.6 451.3L202.7 446.2L202.8 440.3L202.9 433.8L203.0 426.6L203.0 418.7L203.1 410.1L203.2 401.0L203.3 391.3L203.4 381.1L203.4 370.4L203.5 359.2L203.6 347.7L203.7 335.9L203.8 323.9L203.8 311.7L203.9 299.4L204.0 287.1L204.1 274.8L204.2 262.7L204.2 250.8L204.3 239.1L204.4 227.8L204.5 216.9L204.6 206.4L204.6 196.5L204.7 187.2L204.8 178.5L204.9 170.5L204.9 163.2L205.0 156.7L205.1 151.0L205.2 146.1L205.3 142.0L205.3 147.2L205.4 153.6L205.5 161.1L205.6 169.7L205.7 179.3L205.7 189.9L205.8 201.4L205.9 213.8L206.0 226.9L206.1 240.7L206.1 255.0L206.2 269.8L206.3 285.0L206.4 300.4L206.4 315.9L206.5 331.4L206.6 346.9L206.7 362.1L206.8 377.0L206.8 391.5L206.9 405.5L207.0 418.8L207.1 431.5L207.1 443.4L207.2 454.5L207.3 464.7L207.4 474.0L207.5 482.4L207.5 489.8L207.6 496.1L207.7 501.6L207.8 506.1L207.9 509.6L207.9 512.4L208.0 514.3L208.1 515.5L208.2 516.1L208.2 516.3L208.3 516.2L208.4 515.9L208.5 515.4L208.6 514.4L208.6 513.2L208.7 511.5L208.8 509.4L208.9 506.8L209.0 503.8L209.0 500.3L209.1 496.3L209.2 491.9L209.3 487.0L209.4 481.6L209.4 475.7L209.5 469.5L209.6 462.8L209.7 455.8L209.8 448.4L209.8 440.7L209.9 432.8L210.0 424.6L210.1 416.2L210.2 407.7L210.2 399.2L210.3 390.5L210.4 381.9L210.5 373.3L210.6 364.9L210.6 356.5L210.7 348.4L210.8 340.5L210.9 333.0L211.0 325.7L211.0 318.8L211.1 312.4L211.2 306.4L211.3 300.8L211.3 295.8L211.4 291.2L211.5 287.2L211.6 283.8L211.7 281.0L211.7 284.5L211.8 288.7L211.9 293.7L212.0 299.3L212.1 305.7L212.1 312.6L212.2 320.2L212.3 328.3L212.4 337.0L212.5 346.0L212.6 355.5L212.6 365.3L212.7 375.4L212.8 385.7L212.9 396.1L213.0 406.6L213.0 417.0L213.1 427.4L213.2 437.7L213.3 447.7L213.4 457.5L213.4 467.0L213.5 476.0L213.6 484.7L213.7 492.8L213.8 500.5L213.8 507.6L213.9 514.1L214.0 520.0L214.1 525.2L214.2 529.9L214.2 533.9L214.3 537.3L214.4 540.2L214.5 542.4L214.6 544.1L214.6 545.3L214.7 546.1L214.8 546.5L214.9 546.6L215.0 546.6L215.0 546.4L215.1 546.1L215.2 545.5L215.3 544.8L215.4 543.8L215.4 542.6L215.5 541.1L215.6 539.4L215.7 537.4L215.8 535.1L215.8 532.5L215.9 529.7L216.0 526.6L216.1 523.2L216.2 519.6L216.2 515.8L216.3 511.7L216.4 507.5L216.5 503.0L216.6 498.5L216.6 493.7L216.7 488.9L216.8 484.0L216.9 479.1L217.0 474.1L217.0 469.1L217.1 464.2L217.2 459.3L217.3 454.5L217.3 449.8L217.4 445.3L217.5 440.9L217.6 436.8L217.7 432.8L217.7 429.1L217.8 425.6L217.9 422.4L218.0 419.5L218.1 416.9L218.1 414.6L218.2 412.6L218.3 411.0L218.4 412.9L218.5 415.1L218.5 417.7L218.6 420.7L218.7 424.0L218.8 427.6L218.9 431.5L218.9 435.7L219.0 440.2L219.1 444.9L219.2 449.9L219.3 455.0L219.3 460.4L219.4 465.8L219.5 471.4L219.6 477.1L219.7 482.8L219.7 488.5L219.8 494.3L219.9 500.0L220.0 505.7L220.1 511.2L220.2 516.7L220.2 522.0L220.3 527.2L220.4 532.1L220.5 536.8L220.6 541.3L220.6 545.5L220.7 549.5L220.8 553.2L220.9 556.5L221.0 559.6L221.0 562.4L221.1 564.9L221.2 567.1L221.3 569.0L221.4 570.6L221.4 571.9L221.5 572.9L221.6 573.7L221.7 574.3L221.8 574.6L221.8 574.8L221.9 574.9L222.0 574.8L222.1 574.8L222.2 574.6L222.2 574.4L222.3 574.1L222.4 573.7L222.5 573.1L222.6 572.4L222.6 571.6L222.7 570.7L222.8 569.6L222.9 568.4L223.0 567.0L223.0 565.6L223.1 563.9L223.2 562.2L223.3 560.3L223.3 558.4L223.4 556.3L223.5 554.1L223.6 551.9L223.7 549.6L223.7 547.2L223.8 544.8L223.9 542.4L224.0 539.9L224.1 537.5L224.1 535.2L224.2 532.8L224.3 530.5L224.4 528.3L224.5 526.1L224.5 524.0L224.6 522.0L224.7 520.1L224.8 518.3L224.9 516.6L224.9 515.1L225.0 513.6L225.1 512.3L225.2 511.2L225.3 510.2L225.3 509.4L225.4 510.5L225.5 511.8L225.6 513.4L225.7 515.2L225.7 517.2L225.8 519.4L225.9 521.8L226.0 524.3L226.1 527.1L226.1 530.0L226.2 533.0L226.3 536.1L226.4 539.3L226.4 542.6L226.5 546.0L226.6 549.4L226.7 552.8L226.8 556.2L226.8 559.6L226.9 563.0L227.0 566.3L227.1 569.6L227.2 572.7L227.2 575.7L227.3 578.6L227.4 581.3L227.5 583.9L227.6 586.3L227.6 588.5L227.7 590.5L227.8 592.4L227.9 594.0L228.0 595.4L228.0 596.7L228.1 597.8L228.2 598.7L228.3 599.4L228.4 599.9L228.4 600.2L228.5 600.4L228.6 600.5L228.7 600.5L228.8 600.5L228.8 600.4L228.9 600.3L229.0 600.2L229.1 600.0L229.1 599.8L229.2 599.5L229.3 599.1L229.4 598.8L229.5 598.3L229.5 597.8L229.6 597.2L229.7 596.6L229.8 596.0L229.9 595.3L229.9 594.5L230.0 593.7L230.1 592.9L230.2 592.0L230.2 591.0L230.3 590.0L230.4 589.0L230.5 588.0L230.6 586.9L230.6 585.8L230.7 584.7L230.8 583.6L230.9 582.4L231.0 581.3L231.0 580.1L231.1 579.0L231.2 577.9L231.3 576.8L231.3 575.7L231.4 574.7L231.5 573.7L231.6 572.7L231.7 571.8L231.7 571.0L231.8 570.2L231.9 569.5L232.0 568.8L232.1 568.2L232.1 567.7L232.2 567.2L232.3 566.8L232.4 567.3L232.4 568.0L232.5 568.7L232.6 569.6L232.7 570.5L232.8 571.6L232.8 572.8L232.9 574.0L233.0 575.3L233.1 576.7L233.2 578.1L233.2 579.5L233.3 581.1L233.4 582.6L233.5 584.2L233.6 585.8L233.6 587.4L233.7 589.1L233.8 590.7L233.9 592.3L234.0 593.9L234.0 595.5L234.1 597.0L234.2 598.5L234.3 599.9L234.4 601.2L234.4 602.5L234.5 603.8L234.6 605.0L234.7 606.1L234.8 607.1L234.8 608.1L234.9 609.0L235.0 609.8L235.1 610.5L235.2 611.1L235.2 611.7L235.3 612.2L235.4 612.6L235.5 612.9L235.5 613.1L235.6 613.3L235.7 613.4L235.8 613.5L235.9 613.5L235.9 613.5L236.0 613.5L236.1 613.5L236.2 613.5L236.3 613.5L236.3 613.5L236.4 613.4L236.5 613.3L236.6 613.2L236.7 613.0L236.7 612.8L236.8 612.7L236.9 612.5L237.0 612.2L237.0 612.0L237.1 611.8L237.2 611.5L237.3 611.2L237.4 610.9L237.4 610.5L237.5 610.2L237.6 609.8L237.7 609.4L237.8 609.0L237.8 608.6L237.9 608.2L238.0 607.9L238.1 607.5L238.1 607.2L238.2 606.8L238.3 606.5L238.4 606.1L238.5 605.8L238.5 605.3L238.6 605.0L238.7 604.7L238.8 604.2L238.9 604.0L238.9 603.7L239.0 603.5L239.1 603.2L239.2 602.9L239.2 602.8L239.3 602.5L239.4 602.4L239.5 602.3L239.6 602.2L239.6 602.1L239.7 602.4L239.8 602.6L239.9 602.8L240.0 603.1L240.0 603.5L240.1 603.8L240.2 604.3L240.3 604.7L240.4 605.1L240.4 605.6L240.5 606.2L240.6 606.7L240.7 607.3L240.8 607.9L240.8 608.4L240.9 609.0L241.0 609.6L241.1 610.2L241.2 610.7L241.2 611.4L241.3 612.0L241.4 612.6L241.5 613.2L241.6 613.9L241.6 614.4L241.7 615.0L241.8 615.6L241.9 616.0L241.9 616.5L242.0 616.9L242.1 617.3L242.2 617.8L242.3 618.3L242.3 618.6L242.4 618.9L242.5 619.2L242.6 619.5L242.7 619.6L242.7 619.9L242.8 620.2L242.9 620.5L243.0 620.6L243.1 620.8L243.1 620.8L243.2 620.9L243.3 620.9L243.4 621.0L243.5 620.9L243.5 620.9L243.6 621.1L243.7 621.0L243.8 621.1L243.9 621.2L243.9 621.1L244.0 621.2L244.1 621.0L244.2 621.0L244.3 621.0L244.3 620.8L244.4 620.8L244.5 620.8L244.6 620.5L244.7 620.5L244.7 620.4L244.8 620.5L244.9 620.2L245.0 620.1L245.1 620.1L245.1 620.1L245.2 619.8L245.3 619.7L245.4 619.6L245.5 619.4L245.5 619.4L245.6 619.2L245.7 619.0L245.8 618.8L245.9 618.8L245.9 618.4L246.0 618.6L246.1 618.4L246.2 618.1L246.3 618.2L246.3 617.9L246.4 617.8L246.5 617.8L246.6 617.6L246.7 617.3L246.8 617.4L246.8 617.3L246.9 617.1L247.0 617.0L247.1 617.2L247.2 617.1L247.2 617.0L247.3 616.8L247.4 616.8L247.5 616.9L247.6 617.2L247.6 617.1L247.7 617.5L247.8 617.6L247.9 618.0L247.9 618.0L248.0 618.4L248.1 618.5L248.2 618.8L248.3 618.9L248.3 619.5L248.4 619.8L248.5 619.9L248.6 620.3L248.7 620.7L248.7 621.1L248.8 621.2L248.9 621.8L249.0 621.9L249.1 622.0L249.1 622.5L249.2 622.7L249.3 622.9L249.4 623.1L249.5 623.2L249.5 623.5L249.6 623.8L249.7 624.0L249.8 624.0L249.9 624.2L249.9 624.2L250.0 624.2L250.1 624.3L250.2 624.5L250.3 624.4L250.3 624.4L250.4 624.5L250.5 624.2L250.6 624.3L250.7 624.2L250.7 624.4L250.8 624.6L250.9 624.4L251.0 624.2L251.0 624.4L251.1 624.4L251.2 624.4L251.3 624.4L251.4 624.4L251.4 624.2L251.5 624.5L251.6 624.6L251.7 624.4L251.8 624.5L251.8 624.5L251.9 624.5"/>
<path stroke="#00ffff" stroke-width="3.45" d="M251.6 624.6L251.7 624.4L251.8 624.5L251.8 624.5L251.9 624.5L252.0 624.6L252.1 624.5L252.1 624.4L252.2 624.5L252.3 624.7L252.4 624.2L252.5 624.4L252.5 624.4L252.6 624.3L252.7 624.3L252.8 624.3L252.9 624.2L252.9 624.0L253.0 624.1L253.1 624.0L253.2 624.2L253.2 623.9L253.3 624.1L253.4 623.8L253.5 624.0L253.6 624.0L253.6 624.1L253.7 624.1L253.8 623.9L253.9 624.0L254.0 623.9L254.0 623.6L254.1 623.9L254.2 623.8L254.3 623.8L254.3 623.9L254.4 623.8L254.5 623.7L254.6 623.5L254.7 623.8L254.7 623.7L254.8 623.7L254.9 623.5L255.0 623.9L255.1 623.8L255.1 623.8L255.2 623.9L255.3 624.2L255.4 624.4L255.5 624.6L255.5 624.5L255.6 624.5L255.7 624.8L255.8 624.4L255.9 624.6L255.9 624.8L256.0 625.0L256.1 624.9L256.2 625.2L256.3 625.2L256.3 625.5L256.4 625.3L256.5 625.9L256.6 625.9L256.7 625.5L256.7 625.7L256.8 625.7L256.9 626.2L257.0 626.0L257.0 626.0L257.1 626.1L257.2 626.4L257.3 626.2L257.4 626.5L257.4 626.8L257.5 626.2L257.6 626.6L257.7 626.5L257.8 626.9L257.8 626.9L257.9 626.6L258.0 626.6L258.1 626.9L258.2 626.7L258.2 627.0L258.3 627.2L258.8 626.7L259.3 627.2L259.8 627.0L260.2 627.1L260.7 627.3L261.2 627.2L261.7 627.7L262.1 627.8L262.6 627.9L263.1 627.8L263.6 628.0L264.0 628.3L264.5 628.0L265.0 628.1L265.5 627.2L266.0 627.6L266.4 628.2L266.9 628.0L267.4 629.0L267.9 628.5L268.3 628.2L268.8 628.8L269.3 628.7L269.8 629.2L270.2 628.9L270.7 628.9L271.2 629.7L271.7 629.2"/>
<path stroke="#00ffff" stroke-width="3.9" d="M271.7 629.2L272.1 628.4L272.6 629.2L273.1 628.5L273.6 628.3L274.1 629.0L274.5 628.8L275.0 629.2L275.5 629.6L276.0 629.2L276.4 629.3L276.9 630.0L277.4 630.1L277.9 630.3L278.3 629.8L278.8 629.7L279.3 630.2L279.8 630.8L280.3 629.7L280.7 629.5L281.2 630.3L281.7 629.9L282.2 630.2L282.6 630.9L283.1 628.9L283.6 629.5L284.1 630.4L284.5 629.6L285.0 629.9L285.5 629.5L286.0 630.0L286.5 630.3L286.9 630.2L287.4 631.0L287.9 630.8L288.4 631.2L288.8 631.2L289.3 630.6L289.8 630.7L290.3 631.4L290.7 630.5L291.2 630.2L291.7 631.5L292.2 631.0L292.7 630.1L293.1 631.3L293.6 630.5L294.1 630.4L294.6 630.7L295.0 630.7L295.5 630.5L296.0 630.7L296.5 630.6L296.9 631.5L297.4 630.8L297.9 631.3L298.4 629.9L298.9 629.6L299.3 630.4L299.8 632.4L300.3 630.7L300.8 631.2L301.2 631.8L301.7 631.8L302.2 630.5L302.7 631.5L303.1 631.2L303.6 631.1L304.1 630.5L304.6 632.7L305.1 630.4L305.5 631.7L306.0 631.5L306.5 630.9L307.0 631.2L307.4 632.9L307.9 631.1L308.4 631.6L308.9 632.1L309.3 631.9L309.8 632.3L310.3 630.9L310.8 630.4L311.3 631.8L311.7 631.6L312.2 632.2L312.7 632.0L313.2 632.0L313.6 631.6L314.1 630.5L314.6 631.0L315.1 631.0L315.5 632.3L316.0 630.9L316.5 631.7L317.0 631.7L317.5 630.7L317.9 631.2L318.4 629.7L318.9 631.3L319.4 631.5L319.8 630.9L320.3 632.0L320.8 630.9L321.3 630.3L321.7 631.5L322.2 631.8L322.7 630.8L323.2 631.9L323.7 631.0L324.1 631.5L324.6 631.1L325.1 631.8L325.6 631.1L326.0 631.3L326.5 630.6L327.0 631.7L327.5 631.2L327.9 632.4L328.4 631.9L328.9 631.1L329.4 632.1L329.9 631.4L330.3 632.0L330.8 631.1L331.3 630.9L331.8 631.4L332.2 630.6L332.7 631.5L333.2 631.1L333.7 631.0L334.1 630.9L334.6 630.7L335.1 630.1L335.6 631.6L336.1 631.5L336.5 632.3L337.0 630.7L337.5 631.8L338.0 631.5L338.4 631.5L338.9 630.9L339.4 631.4L339.9 631.4L340.3 631.2L340.8 631.3L341.3 631.5L341.8 632.1L342.3 631.8L342.7 632.0L343.2 630.7L343.7 630.7L344.2 630.9L344.6 631.2L345.1 631.6L345.6 630.8L346.1 632.0L346.5 632.6L347.0 631.9L347.5 630.2L348.0 631.1L348.5 630.1L348.9 631.6L349.4 630.5L349.9 630.0L350.4 630.5L350.8 631.0L351.3 630.5L351.8 631.6L352.3 630.2L352.7 632.0L353.2 631.7L353.7 631.3L354.2 631.9L354.7 630.2L355.1 630.9L355.6 631.6L356.1 630.1L356.6 630.2L357.0 631.2L357.5 630.2L358.0 630.4L358.5 631.4L358.9 631.4L359.4 630.9L359.9 630.4L360.4 630.1L360.8 630.1L361.3 631.2L361.8 631.9L362.3 632.0L362.8 630.1L363.2 630.5L363.7 630.3L364.2 631.1L364.7 631.0L365.1 630.9L365.6 631.0L366.1 631.1L366.6 631.6L367.0 631.8L367.5 631.0L368.0 631.3L368.5 630.3L369.0 631.7L369.4 632.3L369.9 632.4L370.4 631.3L370.9 630.2L371.3 631.4L371.8 631.6L372.3 630.8L372.8 630.0L373.2 630.2L373.7 630.2L374.2 630.3L374.7 631.2L375.2 631.1L375.6 631.2L376.1 630.4L376.6 632.8L377.1 631.7L377.5 631.0L378.0 631.4L378.5 631.2L379.0 631.2L379.4 631.5L379.9 630.6L380.4 630.0L380.9 631.1L381.4 630.6L381.8 630.1L382.3 631.2L382.8 631.0L383.3 631.9L383.7 630.0L384.2 629.9L384.7 631.3L385.2 629.9L385.6 630.5L386.1 632.2L386.6 630.7L387.1 631.1L387.6 630.8L388.0 630.8L388.5 631.3L389.0 630.4L389.5 630.9L389.9 630.2L390.4 631.5L390.9 632.9L391.4 630.0L391.8 631.0L392.3 632.4L392.8 631.5L393.3 631.6L393.8 630.4L394.2 631.6L394.7 630.6L395.2 631.6L395.7 630.6L396.1 631.6L396.6 632.1L397.1 631.0L397.6 631.6L398.0 631.0L398.5 632.3L399.0 631.9L399.5 631.6L400.0 630.2L400.4 631.2L400.9 632.4L401.4 633.1L401.9 630.0L402.3 630.9L402.8 632.1L403.3 630.6L403.8 630.6L404.2 629.9L404.7 631.1L405.2 631.5L405.7 630.8L406.2 632.3L406.6 631.4L407.1 631.9L407.6 631.6L408.1 632.0L408.5 632.1L409.0 632.1L409.5 631.0L410.0 631.2L410.4 631.3L410.9 630.8L411.4 630.6L411.9 630.8L412.4 629.9L412.8 630.8L413.3 631.0L413.8 631.8L414.3 631.0L414.7 630.6L415.2 633.2L415.7 630.9L416.2 632.1L416.6 631.2L417.1 631.3L417.6 632.1L418.1 632.3L418.6 631.5L419.0 629.5L419.5 631.6L420.0 631.1L420.5 631.2L420.9 631.2L421.4 630.5L421.9 629.8L422.4 631.4L422.8 631.2L423.3 631.7L423.8 630.3L424.3 631.2L424.8 630.6L425.2 631.3L425.7 630.5L426.2 631.3L426.7 631.9L427.1 630.1L427.6 632.4L428.1 631.0L428.6 631.6L429.0 632.1L429.5 630.1L430.0 631.3L430.5 631.7L431.0 632.2L431.4 631.2L431.9 631.4L432.4 631.5L432.9 631.7L433.3 630.3L433.8 631.1L434.3 631.4L434.8 632.2L435.2 632.0L435.7 631.0L436.2 631.8L436.7 630.7L437.2 631.1L437.6 631.0L438.1 631.1L438.6 631.6L439.1 631.4L439.5 631.4L440.0 630.8L440.5 629.8L441.0 630.6L441.4 632.0L441.9 629.8L442.4 631.3L442.9 631.6L443.3 631.3L443.8 631.5L444.3 631.2L444.8 631.3L445.3 631.4L445.7 630.5L446.2 630.4L446.7 631.5L447.2 630.6L447.6 630.9L448.1 630.7L448.6 631.4L449.1 631.4L449.5 631.0L450.0 632.0L450.5 631.4L451.0 632.1L451.5 630.8L451.9 631.4L452.4 631.3L452.9 631.9L453.4 632.0L453.8 631.0L454.3 631.8L454.8 631.7L455.3 631.5L455.7 631.2L456.2 631.4L456.7 632.2L457.2 632.0L457.7 630.7L458.1 631.5L458.6 631.4L459.1 631.9L459.6 630.5L460.0 630.8L460.5 631.6L461.0 632.7L461.5 630.5L461.9 632.0L462.4 632.1L462.9 631.7L463.4 632.1L463.9 631.2L464.3 631.6L464.8 631.8L465.3 630.8L465.8 631.8L466.2 632.4L466.7 630.9L467.2 631.6L467.7 632.2L468.1 632.4L468.6 631.8L469.1 631.8L469.6 631.6L470.1 631.7L470.5 630.7L471.0 630.9L471.5 631.4L472.0 631.2L472.4 631.7L472.9 632.4L473.4 631.2L473.9 630.8L474.3 632.2L474.8 632.1L475.3 632.3L475.8 632.8L476.3 631.6L476.7 632.5L477.2 630.9L477.7 630.9L478.2 631.8L478.6 632.0L479.1 632.2L479.6 631.0L480.1 631.5L480.5 632.7L481.0 632.5L481.5 631.4L482.0 632.0L482.5 631.5L482.9 631.6L483.4 630.8L483.9 631.7L484.4 631.1L484.8 631.2L485.3 631.0L485.8 632.0L486.3 631.7L486.7 630.2L487.2 631.8L487.7 632.1L488.2 631.5L488.7 632.2L489.1 631.8L489.6 631.7L490.1 631.6L490.6 630.9L491.0 632.0L491.5 631.6L492.0 631.5L492.5 632.0L492.9 631.4L493.4 630.5L493.9 632.7L494.4 632.4L494.9 632.2L495.3 632.2L495.8 632.1L496.3 631.4L496.8 630.6L497.2 630.3L497.7 632.1L498.2 633.3L498.7 631.1L499.1 632.0L499.6 632.5L500.1 631.6L500.6 632.4L501.1 632.4L501.5 632.8L502.0 631.7L502.5 631.6L503.0 632.4L503.4 632.2L503.9 631.0L504.4 632.4L504.9 632.2L505.3 632.4L505.8 632.0L506.3 631.3L506.8 631.8L507.3 631.2L507.7 631.5L508.2 633.2L508.7 631.9L509.2 632.0L509.6 632.9L510.1 631.4L510.6 631.9L511.1 632.3L511.5 631.7L512.0 631.4L512.5 631.6L513.0 632.1L513.5 631.8L513.9 630.2L514.4 632.7L514.9 631.9L515.4 632.1L515.8 631.0L516.3 631.6L516.8 631.8L517.3 632.2L517.7 631.2L518.2 631.8L518.7 631.9L519.2 631.7L519.7 631.4L520.1 631.8L520.6 631.8L521.1 631.4L521.6 632.4L522.0 632.2L522.5 631.8L523.0 631.2L523.5 631.2L523.9 631.9L524.4 632.2L524.9 632.0L525.4 632.1L525.9 631.3L526.3 631.4L526.8 631.7L527.3 632.4L527.8 632.5L528.2 631.6L528.7 631.3L529.2 631.5L529.7 632.3L530.1 631.7L530.6 633.3L531.1 631.3L531.6 631.1L532.0 632.1L532.5 632.2L533.0 632.4L533.5 631.4L534.0 632.5L534.4 632.4L534.9 631.9L535.4 633.0L535.9 631.6L536.3 631.7L536.8 631.9L537.3 632.1L537.8 630.6L538.2 632.1L538.7 631.8L539.2 631.3L539.7 632.0L540.2 631.3L540.6 632.1L541.1 632.0L541.6 632.1L542.1 631.8L542.5 632.7L543.0 631.8L543.5 631.6L544.0 632.9L544.4 633.2L544.9 633.2L545.4 632.9L545.9 631.8L546.4 632.2L546.8 631.1L547.3 631.4L547.8 633.3L548.3 632.6L548.7 632.5L549.2 631.4L549.7 631.8L550.2 631.8L550.6 633.0L551.1 631.2L551.6 633.1L552.1 632.5L552.6 633.1L553.0 632.9L553.5 632.4L554.0 633.0L554.5 632.0L554.9 632.0L555.4 632.2L555.9 631.9L556.4 631.5L556.8 631.5L557.3 632.9L557.8 631.8L558.3 631.8L558.8 632.5L559.2 632.5L559.7 631.4L560.2 631.9L560.7 632.3L561.1 631.4L561.6 631.7L562.1 631.2L562.6 632.6L563.0 631.9L563.5 633.9L564.0 632.9L564.5 631.4L565.0 633.0L565.4 632.6L565.9 632.6L566.4 632.0L566.9 631.6L567.3 631.4L567.8 632.4L568.3 632.2L568.8 631.9L569.2 631.9L569.7 632.7L570.2 631.6L570.7 633.2L571.2 632.1L571.6 633.2L572.1 632.6L572.6 633.1L573.1 631.6L573.5 631.4L574.0 631.9L574.5 632.2L575.0 633.6L575.4 633.3L575.9 632.1L576.4 631.7L576.9 632.1L577.4 632.8L577.8 633.0L578.3 632.1L578.8 631.2L579.3 632.3L579.7 632.7L580.2 632.7L580.7 632.1L581.2 632.2L581.6 633.5L582.1 631.5L582.6 632.1L583.1 632.0L583.6 632.7L584.0 631.8L584.5 631.9L585.0 632.9L585.5 631.8L585.9 633.1L586.4 633.7L586.9 632.0L587.4 633.1L587.8 632.8L588.3 633.1L588.8 632.4L589.3 632.5L589.8 632.1L590.2 632.0L590.7 631.4L591.2 632.3L591.7 632.4L592.1 632.5L592.6 632.3L593.1 632.0L593.6 632.3L594.0 633.3L594.5 633.1L595.0 632.4L595.5 632.6L596.0 632.9L596.4 632.9L596.9 633.2L597.4 632.0L597.9 632.1L598.3 633.4L598.8 632.6L599.3 632.7L599.8 633.2L600.2 632.3L600.7 632.7L601.2 632.3L601.7 632.9L602.2 631.6L602.6 632.2L603.1 632.4L603.6 633.1L604.1 631.8L604.5 634.8L605.0 633.9L605.5 634.0L606.0 633.6L606.4 633.3L606.9 633.0L607.4 632.8L607.9 632.4L608.4 631.6L608.8 632.0L609.3 632.3L609.8 632.6L610.3 632.2L610.7 632.0L611.2 632.8L611.7 631.4L612.2 632.4L612.6 631.8L613.1 633.8L613.6 632.1L614.1 632.6L614.5 631.6L615.0 631.7L615.5 632.2L616.0 631.9L616.5 632.7L616.9 632.9L617.4 631.7L617.9 632.9L618.4 632.7L618.8 633.0L619.3 633.0L619.8 632.9L620.3 632.2L620.7 633.5L621.2 632.4L621.7 633.8L622.2 633.2L622.7 633.2L623.1 632.4L623.6 632.0L624.1 634.2L624.6 632.8L625.0 631.7L625.5 632.9L626.0 631.9L626.5 632.2L626.9 632.8L627.4 633.9L627.9 633.4L628.4 632.0L628.9 633.5L629.3 633.5L629.8 633.0L630.3 632.1L630.8 632.9L631.2 633.9L631.7 633.1L632.2 632.1L632.7 631.8L633.1 631.6L633.6 632.3L634.1 632.4L634.6 633.3L635.1 633.1L635.5 633.6L636.0 632.8L636.5 632.3L637.0 632.6L637.4 633.3L637.9 632.4L638.4 632.4L638.9 632.1L639.3 634.3L639.8 634.3L640.3 633.7L640.8 632.5L641.3 632.3L641.7 632.5L642.2 632.7L642.7 632.6L643.2 633.1L643.6 633.5L644.1 633.7L644.6 631.1L645.1 633.0L645.5 632.6L646.0 632.5L646.5 632.4L647.0 633.0L647.5 632.5L647.9 631.6L648.4 633.3L648.9 633.3L649.4 633.6L649.8 633.1L650.3 633.6L650.8 632.7L651.3 632.5L651.7 632.3L652.2 632.2L652.7 633.3L653.2 633.1L653.7 633.6L654.1 633.0L654.6 632.9L655.1 632.6L655.6 632.8L656.0 633.4L656.5 631.9L657.0 632.6L657.5 633.5L657.9 633.8L658.4 632.5L658.9 634.0L659.4 632.5L659.9 632.0L660.3 632.5L660.8 632.3L661.3 632.6L661.8 633.5L662.2 632.7L662.7 634.0L663.2 632.3L663.7 632.3L664.1 632.8L664.6 632.3L665.1 633.2L665.6 633.9L666.1 632.0L666.5 632.8L667.0 633.4L667.5 633.3L668.0 633.3L668.4 633.0L668.9 634.1L669.4 633.2L669.9 633.2L670.3 632.4L670.8 632.9L671.3 632.4L671.8 633.5L672.3 632.8L672.7 633.3L673.2 632.4L673.7 632.7L674.2 632.1L674.6 633.1L675.1 633.1L675.6 632.7L676.1 633.3L676.5 632.8L677.0 631.8L677.5 633.3L678.0 633.3L678.5 632.9L678.9 631.9L679.4 631.7L679.9 633.4L680.4 633.3L680.8 632.7L681.3 633.3L681.8 634.1L682.3 632.5L682.7 632.6L683.2 632.6L683.7 632.4L684.2 632.7L684.7 633.2L685.1 632.4L685.6 633.0L686.1 632.9L686.6 633.8L687.0 633.0L687.5 632.9L688.0 633.4L688.5 633.5L688.9 633.3L689.4 633.0L689.9 633.6L690.4 633.7L690.9 632.9L691.3 633.6L691.8 632.6L692.3 633.2L692.8 632.9L693.2 632.3L693.7 634.5L694.2 634.0L694.7 633.5L695.1 633.4L695.6 633.9L696.1 634.0L696.6 633.7L697.1 633.8L697.5 633.0L698.0 633.4L698.5 632.9L699.0 632.9L699.4 632.6L699.9 633.5L700.4 633.2L700.9 632.7L701.3 634.2L701.8 632.9L702.3 633.5L702.8 632.3L703.2 633.1L703.7 633.7L704.2 632.5L704.7 633.4L705.2 633.7L705.6 632.9L706.1 634.5L706.6 633.3L707.1 632.7L707.5 634.0L708.0 632.7L708.5 633.6L709.0 633.8L709.4 634.5L709.9 632.5L710.4 632.6L710.9 633.6L711.4 633.1L711.8 634.4L712.3 633.3L712.8 633.2L713.3 633.8L713.7 633.7L714.2 633.5L714.7 633.8L715.2 634.3L715.6 632.7L716.1 632.7L716.6 632.9L717.1 632.6L717.6 632.4L718.0 633.2L718.5 635.1L719.0 633.2L719.5 633.6L719.9 634.0L720.4 633.2L720.9 634.2L721.4 634.2L721.8 631.8L722.3 633.6L722.8 633.1L723.3 633.0L723.8 632.9L724.2 633.3L724.7 633.1L725.2 633.4L725.7 633.7L726.1 633.5L726.6 632.9L727.1 632.7L727.6 632.9L728.0 634.0L728.5 633.2L729.0 632.7L729.5 633.3L730.0 632.7L730.4 633.0L730.9 632.5L731.4 634.6L731.9 633.2L732.3 632.7L732.8 632.9L733.3 633.4L733.8 633.2L734.2 633.4L734.7 633.1L735.2 633.0L735.7 633.7L736.2 632.8L736.6 633.1L737.1 634.6L737.6 633.4L738.1 633.2L738.5 633.7L739.0 633.1L739.5 633.2L740.0 633.4L740.4 633.6L740.9 633.4L741.4 633.8L741.9 633.1L742.4 634.4L742.8 633.3L743.3 633.8L743.8 633.7L744.3 633.3L744.7 633.9L745.2 635.4L745.7 634.4L746.2 633.4L746.6 633.4L747.1 633.4L747.6 633.6L748.1 632.7L748.6 632.9L749.0 633.6L749.5 633.8L750.0 632.8L750.5 633.3L750.9 633.2L751.4 633.4L751.9 633.3L752.4 633.7L752.8 633.9L753.3 633.8L753.8 633.6L754.3 632.0L754.8 632.7L755.2 633.0L755.7 633.0L756.2 634.0L756.7 632.6L757.1 634.2L757.6 632.7L758.1 633.8L758.6 634.4L759.0 632.6L759.5 633.9L760.0 633.5L760.5 633.5L761.0 634.4L761.4 633.3L761.9 634.2L762.4 633.5L762.9 634.1L763.3 632.5L763.8 633.5L764.3 632.8L764.8 634.2L765.2 633.6L765.7 633.3L766.2 633.5L766.7 633.7L767.2 632.7L767.6 633.0L768.1 633.3L768.6 632.8L769.1 635.1L769.5 633.9L770.0 633.0L770.5 633.4L771.0 633.5L771.4 634.3L771.9 633.7L772.4 632.7L772.9 633.9L773.4 634.1L773.8 633.5L774.3 632.7L774.8 633.9L775.3 634.6L775.7 633.4L776.2 633.7L776.7 633.3L777.2 634.4L777.6 634.0L778.1 633.4L778.6 632.9L779.1 632.0L779.6 632.2L780.0 632.5L780.5 632.7L781.0 632.5L781.5 632.8L781.9 632.7L782.4 633.4L782.9 633.5L783.4 632.5L783.8 633.9L784.3 633.6L784.8 633.4L785.3 633.1L785.7 633.7L786.2 633.7L786.7 633.8L787.2 633.8L787.7 633.5L788.1 631.4L788.6 634.3L789.1 632.0L789.6 634.2L790.0 633.2L790.5 633.4L791.0 633.0L791.5 633.7L791.9 634.2L792.4 633.9L792.9 633.8L793.4 634.3L793.9 633.5L794.3 633.4L794.8 634.5L795.3 634.3L795.8 633.1L796.2 634.1L796.7 633.7L797.2 633.7L797.7 633.6L798.1 632.8L798.6 633.0L799.1 631.8L799.6 633.3L800.1 632.9L800.5 633.5L801.0 632.5L801.5 634.3L802.0 634.0L802.4 633.4L802.9 631.4L803.4 631.8L803.9 632.1L804.3 633.2L804.8 634.1L805.3 632.8L805.8 632.7L806.3 633.8L806.7 632.1L807.2 632.2L807.7 634.4L808.2 633.7L808.6 633.5L809.1 633.5L809.6 633.4L810.1 633.4L810.5 633.7L811.0 631.9L811.5 633.6L812.0 634.0L812.5 632.4L812.9 632.7L813.4 634.2L813.9 634.2L814.4 634.1L814.8 634.8L815.3 634.4L815.8 633.4L816.3 634.5L816.7 633.7L817.2 633.8L817.7 634.0L818.2 633.3L818.7 633.5L819.1 632.9L819.6 633.4L820.1 634.2L820.6 632.6L821.0 633.3L821.5 633.0L822.0 633.3L822.5 633.7L822.9 633.8L823.4 632.5L823.9 633.6L824.4 633.6L824.9 632.9L825.3 633.0L825.8 633.4L826.3 632.4L826.8 633.8L827.2 632.4L827.7 632.8L828.2 633.6L828.7 633.9L829.1 633.1L829.6 634.8L830.1 633.1L830.6 632.9L831.1 632.4L831.5 632.6L832.0 633.5L832.5 633.4L833.0 634.4L833.4 633.2L833.9 633.9L834.4 634.2L834.9 632.2L835.3 632.3L835.8 633.4L836.3 633.2L836.8 631.9L837.3 634.1L837.7 632.2L838.2 633.3L838.7 632.8L839.2 633.2L839.6 632.2L840.1 632.4L840.6 633.5L841.1 632.7L841.5 632.9L842.0 632.6L842.5 634.0L843.0 632.9L843.5 633.3L843.9 633.6L844.4 634.6L844.9 632.3L845.4 633.3L845.8 632.9L846.3 634.1L846.8 633.5L847.3 633.3L847.7 633.3L848.2 634.2L848.7 633.2L849.2 633.8L849.7 633.0L850.1 633.9L850.6 632.2L851.1 633.4L851.6 633.6L852.0 632.8L852.5 632.5L853.0 632.7L853.5 633.5L853.9 633.6L854.4 634.1L854.9 632.9L855.4 634.6L855.9 634.2L856.3 634.4L856.8 633.4L857.3 634.7L857.8 633.3L858.2 634.4L858.7 634.3L859.2 633.0L859.7 633.7L860.1 633.8L860.6 632.7L861.1 634.0L861.6 634.1L862.1 633.9L862.5 632.5L863.0 633.7L863.5 631.9L864.0 632.5L864.4 632.7L864.9 632.7L865.4 632.8L865.9 633.3L866.3 635.3L866.8 633.3L867.3 633.7L867.8 634.0L868.2 634.6L868.7 633.1L869.2 634.0L869.7 633.4L870.2 633.9L870.6 632.9L871.1 633.7L871.6 633.0L872.1 633.2L872.5 633.1L873.0 632.8L873.5 632.2L874.0 634.2L874.4 633.8L874.9 633.1L875.4 633.1L875.9 632.9L876.4 632.1L876.8 632.8L877.3 631.3L877.8 632.1L878.3 632.5L878.7 632.5L879.2 633.1L879.7 633.0L880.2 632.7L880.6 632.6L881.1 631.7L881.6 631.7L882.1 632.6L882.6 632.5L883.0 634.1L883.5 634.1L884.0 632.5L884.5 633.2L884.9 634.2L885.4 634.5L885.9 633.2L886.4 631.9L886.8 631.7L887.3 633.1L887.8 632.9L888.3 633.4L888.8 631.7L889.2 633.2L889.7 633.6L890.2 633.0L890.7 632.8L891.1 634.1L891.6 633.0L892.1 634.6L892.6 632.1L893.0 632.5L893.5 632.1L894.0 631.8L894.5 631.5L895.0 630.8L895.4 633.6L895.9 633.0L896.4 632.5L896.9 633.6L897.3 633.3L897.8 631.3L898.3 632.2L898.8 632.9L899.2 632.0L899.7 631.2L900.2 632.6L900.7 633.1L901.2 632.5L901.6 631.3L902.1 633.9L902.6 632.4L903.1 632.7L903.5 632.3L904.0 632.0L904.5 631.9L905.0 632.3L905.4 631.1L905.9 631.2L906.4 631.2L906.9 630.4L907.4 632.2L907.8 632.6L908.3 633.4L908.8 633.6L909.3 632.7L909.7 635.3L910.2 635.3L910.7 634.3L911.2 633.4L911.6 634.6L912.1 634.6L912.6 631.9L913.1 632.9L913.6 631.8L914.0 631.8L914.5 631.1L915.0 631.6L915.5 631.9L915.9 631.4L916.4 632.3L916.9 632.9L917.4 631.6L917.8 631.0L918.3 632.1L918.8 632.2L919.3 632.2L919.8 631.9L920.2 632.6L920.7 632.0L921.2 632.3L921.7 631.7L922.1 631.9L922.6 633.4L923.1 630.8L923.6 631.0L924.0 631.2L924.5 633.1L925.0 633.1L925.5 633.1L926.0 632.7L926.4 632.3L926.9 632.3L927.4 633.8L927.9 634.4L928.3 633.1L928.8 632.6L929.3 633.3L929.8 633.3L930.2 633.3L930.7 632.3L931.2 631.8L931.7 631.7L932.2 629.9L932.6 631.7L933.1 632.2L933.6 631.7L934.1 632.0L934.5 631.6L935.0 631.9L935.5 632.0L936.0 632.8L936.4 632.0L936.9 631.0L937.4 629.5L937.9 628.9L938.4 629.2L938.8 629.2L939.3 629.1L939.8 627.8L940.3 629.7L940.7 631.1L941.2 631.5L941.7 630.6L942.2 628.7L942.6 629.5L943.1 628.5L943.6 629.7L944.1 628.1L944.6 628.5L945.0 627.5L945.5 628.1L946.0 627.5L946.5 631.2L946.9 631.3L947.4 632.4L947.9 631.9L948.4 630.0L948.8 630.5L949.3 632.6L949.8 631.4L950.3 630.4L950.8 632.3L951.2 632.6L951.7 631.6L952.2 631.6L952.7 631.1L953.1 633.7L953.6 633.1L954.1 632.3L954.6 630.6L955.0 629.7L955.5 629.2L956.0 629.4L956.5 628.8L956.9 627.6L957.4 626.5L957.9 628.1L958.4 628.8L958.9 630.1L959.3 631.7L959.8 632.2L960.3 633.3L960.8 632.2L961.2 633.9L961.7 631.0L962.2 632.6L962.7 631.5L963.1 635.1L963.6 634.5L964.1 632.2L964.6 631.1L965.1 630.1L965.5 627.8L966.0 626.8L966.5 627.3L967.0 628.7L967.4 629.8L967.9 627.5L968.4 628.0L968.9 627.6L969.3 627.7L969.8 627.6L970.3 630.6L970.8 627.6L971.3 628.4L971.7 628.5L972.2 632.5L972.7 630.9L973.2 630.6L973.6 629.1L974.1 630.2L974.6 628.6L975.1 628.2L975.5 626.8L976.0 628.1L976.5 627.2L977.0 629.0L977.5 627.1L977.9 628.8L978.4 626.1L978.9 628.1L979.4 626.6L979.8 628.3L980.3 629.4L980.8 628.7L981.3 630.2L981.7 630.7L982.2 629.9L982.7 628.2L983.2 628.0L983.7 627.5L984.1 628.4L984.6 628.9L985.1 629.9L985.6 631.5L986.0 633.5L986.5 630.4L987.0 630.6L987.5 628.2L987.9 630.9L988.4 626.6L988.9 624.9L989.4 625.4L989.9 626.4L990.3 623.6L990.8 624.7L991.3 623.6L991.8 624.1L992.2 624.6L992.7 624.1L993.2 623.8L993.7 625.2L994.1 625.5L994.6 625.7L995.1 624.7L995.6 627.8L996.1 628.6L996.5 627.5"/>
</g>
<path d="M208.6 9.5A56.6 309.2 0 1 1 208.6 627.9A56.6 309.2 0 1 1 208.6 9.5" fill="none" stroke="#c00000" stroke-width="2.8" stroke-dasharray="18.60 16.29" stroke-dashoffset="9.30" stroke-linecap="round"/>
<path d="M276.5 537.4C290 546 310 541 334.5 519" fill="none" stroke="#000" stroke-width="2.5" stroke-linecap="round"/>
<path d="M346.8 508 329.7 516.2 337.3 523.9z" fill="#000" stroke="#000" stroke-width="1" stroke-linejoin="round"/>
<g font-size="31" text-anchor="end">
<text x="133.5" y="644.6">0.0</text>
<text x="134.6" y="553.1">1.0E-1</text>
<text x="134.6" y="463.2">2.0E-1</text>
<text x="134.6" y="373.2">3.0E-1</text>
<text x="134.6" y="283.2">4.0E-1</text>
<text x="134.6" y="193.2">5.0E-1</text>
<text x="134.6" y="103.3">6.0E-1</text>
<text x="134.6" y="29.3">7.0E-1</text>
</g>
<g font-size="31" text-anchor="middle" letter-spacing="1.3">
<text x="210.75" y="673.4">200</text>
<text x="409.75" y="673.4">250</text>
<text x="609.65" y="673.4">300</text>
<text x="809.3" y="673.4">350</text>
</g>
<text x="997.8" y="673.4" font-size="31" text-anchor="end" letter-spacing="0.8">400</text>
<text x="565.4" y="720.1" font-size="31" text-anchor="middle" textLength="210.5" lengthAdjust="spacing">wavelength (nm)</text>
<text transform="translate(23.8 319.5) rotate(-90)" font-size="31" text-anchor="middle" textLength="299" lengthAdjust="spacing">absorption spectra (a.u.)</text>
<path d="M767.2 38.5H835" stroke="#e86a0c" stroke-width="3" stroke-linecap="round" fill="none"/>
<text x="895" y="49.7" font-size="31">SF<tspan font-size="22.5">6</tspan></text>
<path d="M767.2 76.1H835" stroke="#000000" stroke-width="3" stroke-linecap="round" fill="none"/>
<text x="919.8" y="85.5" font-size="31" text-anchor="middle" textLength="104.4" lengthAdjust="spacing">0.2 ppm</text>
<path d="M767.2 113.8H835" stroke="#ff0000" stroke-width="3" stroke-linecap="round" fill="none"/>
<text x="919.8" y="123.2" font-size="31" text-anchor="middle" textLength="104.4" lengthAdjust="spacing">0.5 ppm</text>
<path d="M767.2 151.4H835" stroke="#00ff00" stroke-width="3" stroke-linecap="round" fill="none"/>
<text x="919.8" y="160.9" font-size="31" text-anchor="middle" textLength="104.4" lengthAdjust="spacing">0.8 ppm</text>
<path d="M767.2 189.1H835" stroke="#0000ff" stroke-width="3" stroke-linecap="round" fill="none"/>
<text x="919.8" y="198.6" font-size="31" text-anchor="middle" textLength="104.4" lengthAdjust="spacing">1.0 ppm</text>
<path d="M767.2 226.7H835" stroke="#00ffff" stroke-width="3" stroke-linecap="round" fill="none"/>
<text x="919.8" y="236.3" font-size="31" text-anchor="middle" textLength="104.4" lengthAdjust="spacing">1.5 ppm</text>
<g stroke="#000" stroke-width="2.8" fill="none">
<path d="M408.5 84.4V495.5H911.0" stroke-linejoin="round" stroke-linecap="round"/>
<path d="M408.5 465.1h4.2" stroke-linecap="round"/>
<path d="M408.5 434.7h8.2" stroke-linecap="round"/>
<path d="M408.5 404.3h4.2" stroke-linecap="round"/>
<path d="M408.5 373.8h8.2" stroke-linecap="round"/>
<path d="M408.5 343.4h4.2" stroke-linecap="round"/>
<path d="M408.5 313.0h8.2" stroke-linecap="round"/>
<path d="M408.5 282.6h4.2" stroke-linecap="round"/>
<path d="M408.5 252.2h8.2" stroke-linecap="round"/>
<path d="M408.5 221.8h4.2" stroke-linecap="round"/>
<path d="M408.5 191.4h8.2" stroke-linecap="round"/>
<path d="M408.5 160.9h4.2" stroke-linecap="round"/>
<path d="M408.5 130.5h8.2" stroke-linecap="round"/>
<path d="M408.5 100.1h4.2" stroke-linecap="round"/>
<path d="M437.3 495.5v-4.5"/>
<path d="M471.5 495.5v-8.5"/>
<path d="M505.6 495.5v-4.5"/>
<path d="M539.7 495.5v-8.5"/>
<path d="M573.8 495.5v-4.5"/>
<path d="M608.0 495.5v-8.5"/>
<path d="M642.1 495.5v-4.5"/>
<path d="M676.2 495.5v-8.5"/>
<path d="M710.3 495.5v-4.5"/>
<path d="M744.5 495.5v-8.5"/>
<path d="M778.6 495.5v-4.5"/>
<path d="M812.7 495.5v-8.5"/>
<path d="M846.8 495.5v-4.5"/>
<path d="M881.0 495.5v-8.5"/>
</g>
<g fill="none" stroke-linejoin="round" stroke-linecap="round" stroke-width="2.9">
<path stroke="#e86a0c" stroke-width="2.5" d="M425.9 483.4L427.2 483.0L428.6 482.7L430.0 482.4L431.3 482.3L432.7 482.3L434.0 482.0L435.4 481.9L436.8 481.9L438.1 481.4L439.5 480.9L440.9 480.9L442.2 480.9L443.6 481.1L445.0 481.1L446.3 481.6L447.7 481.9L449.1 482.4L450.4 483.7L451.8 483.8L453.2 484.7L454.5 485.0L455.9 485.5L457.3 485.3L458.6 485.6L460.0 485.8L461.3 486.2L462.7 486.5L464.1 486.3L465.4 486.3L466.8 486.3L468.2 486.1L469.5 486.2L470.9 485.6L472.3 485.7L473.6 485.2L475.0 485.5L476.4 485.5L477.7 485.7L479.1 485.5L480.5 485.7L481.8 486.2L483.2 486.5L484.6 487.0L485.9 487.4L487.3 487.7L488.6 488.4L490.0 488.6L491.4 488.7L492.7 488.9L494.1 488.9L495.5 489.1L496.8 489.2L498.2 489.4L499.6 489.9L500.9 489.4L502.3 489.6L503.7 489.3L505.0 489.5L506.4 489.6L507.8 489.6L509.1 489.6L510.5 490.0L511.9 489.9L513.2 489.4L514.6 489.6L515.9 489.8L517.3 489.8L518.7 489.8L520.0 489.1L521.4 489.7L522.8 489.8L524.1 490.0L525.5 490.4L526.9 489.9L528.2 489.7L529.6 489.8L531.0 490.0L532.3 490.2L533.7 490.3L535.1 490.1L536.4 490.2L537.8 490.4L539.2 489.8L540.5 490.4L541.9 490.4L543.2 490.8L544.6 489.9L546.0 490.4L547.3 490.4L548.7 490.3L550.1 490.6L551.4 490.6L552.8 490.4L554.2 490.6L555.5 490.4L556.9 490.2L558.3 490.3L559.6 490.2L561.0 490.3L562.4 490.2L563.7 490.5L565.1 490.4L566.5 490.8L567.8 490.6L569.2 490.7L570.5 490.6L571.9 490.8L573.3 490.5L574.6 490.1L576.0 490.8L577.4 490.5L578.7 490.5L580.1 490.8L581.5 490.7L582.8 490.8L584.2 490.6L585.6 490.8L586.9 490.1L588.3 490.5L589.7 490.5L591.0 490.3L592.4 490.5L593.8 490.8L595.1 490.7L596.5 490.8L597.8 490.7L599.2 490.6L600.6 491.2L601.9 491.2L603.3 490.9L604.7 490.8L606.0 491.0L607.4 490.9L608.8 490.7L610.1 490.8L611.5 490.9L612.9 491.0L614.2 491.2L615.6 490.8L617.0 490.9L618.3 491.2L619.7 490.9L621.1 491.1L622.4 491.1L623.8 491.4L625.1 490.8L626.5 491.2L627.9 491.0L629.2 491.0L630.6 491.2L632.0 491.1L633.3 491.1L634.7 491.2L636.1 491.1L637.4 491.3L638.8 491.0L640.2 491.1L641.5 491.4L642.9 491.1L644.3 491.3L645.6 491.1L647.0 491.7L648.4 491.1L649.7 491.7L651.1 491.3L652.4 490.6L653.8 491.1L655.2 491.1L656.5 491.4L657.9 491.5L659.3 491.3L660.6 491.2L662.0 491.4L663.4 491.5L664.7 491.5L666.1 491.4L667.5 491.0L668.8 491.4L670.2 491.5L671.6 491.5L672.9 491.6L674.3 491.7L675.7 491.4L677.0 491.2L678.4 491.4L679.7 491.8L681.1 491.2L682.5 491.4L683.8 491.1L685.2 491.6L686.6 491.8L687.9 491.5L689.3 491.6L690.7 491.8L692.0 491.7L693.4 491.7L694.8 491.8L696.1 491.5L697.5 491.6L698.9 491.8L700.2 491.7L701.6 491.5L703.0 491.6L704.3 492.0L705.7 491.7L707.0 491.4L708.4 491.7L709.8 491.9L711.1 491.4L712.5 491.3L713.9 491.8L715.2 492.3L716.6 492.1L718.0 491.4L719.3 491.9L720.7 491.7L722.1 491.8L723.4 491.8L724.8 491.5L726.2 491.9L727.5 491.8L728.9 491.9L730.3 491.9L731.6 491.4L733.0 492.2L734.3 492.2L735.7 491.8L737.1 492.3L738.4 492.0L739.8 492.3L741.2 491.8L742.5 492.1L743.9 491.9L745.3 492.2L746.6 492.1L748.0 492.6L749.4 492.0L750.7 492.1L752.1 492.2L753.5 492.2L754.8 492.3L756.2 492.2L757.6 491.8L758.9 492.4L760.3 492.3L761.6 492.1L763.0 492.2L764.4 492.4L765.7 491.9L767.1 491.9L768.5 492.4L769.8 491.9L771.2 492.6L772.6 492.0L773.9 492.7L775.3 492.3L776.7 492.4L778.0 492.5L779.4 492.3L780.8 492.6L782.1 492.6L783.5 492.7L784.9 492.2L786.2 492.6L787.6 492.4L788.9 492.6L790.3 492.3L791.7 492.8L793.0 492.7L794.4 492.7L795.8 492.5L797.1 492.8L798.5 492.5L799.9 492.5L801.2 492.4L802.6 492.5L804.0 492.4L805.3 492.8L806.7 492.8L808.1 492.9L809.4 492.9L810.8 493.0L812.2 492.7L813.5 492.7L814.9 493.2L816.2 492.8L817.6 492.9L819.0 493.0L820.3 492.9L821.7 492.6L823.1 492.8L824.4 493.3L825.8 492.8L827.2 493.0L828.5 492.5L829.9 493.0L831.3 492.9L832.6 492.9L834.0 493.1L835.4 493.0L836.7 492.9L838.1 492.4L839.5 492.9L840.8 492.8L842.2 492.9L843.5 492.9L844.9 492.9L846.3 492.7L847.6 493.6L849.0 493.1L850.4 493.2L851.7 492.8L853.1 493.2L854.5 492.8L855.8 492.8L857.2 493.2L858.6 492.9L859.9 493.2L861.3 492.9L862.7 493.0L864.0 492.8L865.4 492.9L866.8 493.3L868.1 492.8L869.5 493.1L870.8 492.9L872.2 493.1L873.6 492.9L874.9 493.4L876.3 492.9L877.7 493.4L879.0 493.2L880.4 493.1L881.8 493.5L883.1 493.1L884.5 493.2L885.9 493.0L887.2 493.2L888.6 493.4L890.0 493.5L891.3 493.4L892.7 493.2L894.1 493.3L895.4 493.1L896.8 493.0L898.1 493.4L899.5 493.4L900.9 493.2L902.2 493.2L903.6 493.8L905.0 493.5L906.3 493.3L907.7 493.2L909.1 493.5L910.4 493.6L911.8 492.9"/>
<path stroke="#000000" d="M425.9 463.0L426.1 462.9L426.4 462.9L426.7 462.9L427.0 462.8L427.3 462.7L427.5 462.6L427.8 462.5L428.1 462.4L428.4 462.2L428.7 462.1L428.9 461.9L429.2 461.8L429.5 461.7L429.8 461.6L430.1 461.4L430.3 461.3L430.6 461.3L430.9 461.2L431.2 461.2L431.5 461.1L431.7 461.2L432.0 461.2L432.3 461.3L432.6 461.4L432.8 461.5L433.1 461.7L433.4 461.8L433.7 462.0L434.0 462.2L434.2 462.4L434.5 462.6L434.8 462.9L435.1 463.1L435.3 463.3L435.6 463.6L435.9 463.8L436.2 464.1L436.4 464.3L436.7 464.5L437.0 464.7L437.3 464.9L437.6 465.1L437.8 465.3L438.1 465.5L438.4 465.6L438.7 465.7L438.9 465.8L439.2 465.9L439.5 466.0L439.8 466.0L440.1 466.0L440.3 466.0L440.6 465.9L440.9 465.9L441.1 465.8L441.4 465.7L441.7 465.5L441.9 465.4L442.2 465.2L442.5 465.0L442.8 464.7L443.0 464.4L443.3 464.2L443.6 463.9L443.8 463.5L444.1 463.2L444.4 462.8L444.6 462.5L444.9 462.1L445.2 461.7L445.5 461.3L445.7 460.9L446.0 460.5L446.3 460.1L446.5 459.7L446.8 459.3L447.1 458.9L447.3 458.5L447.6 458.1L447.9 457.8L448.1 457.4L448.4 457.1L448.7 456.7L449.0 456.4L449.2 456.1L449.5 455.9L449.8 455.6L450.0 455.4L450.3 455.2L450.6 455.0L450.8 454.9L451.1 454.8L451.4 454.7L451.7 454.6L451.9 454.7L452.2 454.9L452.5 455.1L452.8 455.3L453.0 455.6L453.3 455.9L453.6 456.3L453.9 456.7L454.2 457.1L454.4 457.6L454.7 458.1L455.0 458.6L455.3 459.1L455.5 459.6L455.8 460.2L456.1 460.7L456.4 461.3L456.6 461.8L456.9 462.3L457.2 462.8L457.5 463.3L457.8 463.8L458.0 464.2L458.3 464.6L458.6 465.0L458.9 465.3L459.1 465.6L459.4 465.9L459.7 466.1L460.0 466.2L460.2 466.3L460.5 466.4L460.8 466.4L461.1 466.4L461.3 466.3L461.6 466.2L461.9 466.1L462.2 465.9L462.4 465.6L462.7 465.3L463.0 465.0L463.3 464.6L463.5 464.2L463.8 463.8L464.1 463.3L464.4 462.7L464.6 462.2L464.9 461.6L465.2 461.0L465.4 460.3L465.7 459.7L466.0 459.0L466.3 458.3L466.5 457.6L466.8 456.9L467.1 456.2L467.4 455.5L467.6 454.8L467.9 454.1L468.2 453.4L468.4 452.7L468.7 452.1L469.0 451.4L469.3 450.8L469.5 450.2L469.8 449.7L470.1 449.2L470.4 448.7L470.6 448.3L470.9 447.9L471.2 447.5L471.5 447.2L471.7 446.9L472.0 446.7L472.3 446.5L472.5 446.3L472.8 446.5L473.1 446.8L473.4 447.1L473.7 447.5L473.9 448.0L474.2 448.5L474.5 449.1L474.8 449.7L475.0 450.4L475.3 451.1L475.6 451.9L475.9 452.7L476.1 453.5L476.4 454.4L476.7 455.2L477.0 456.1L477.3 456.9L477.5 457.8L477.8 458.6L478.1 459.4L478.4 460.2L478.6 461.0L478.9 461.7L479.2 462.4L479.5 463.0L479.7 463.5L480.0 464.1L480.3 464.5L480.6 464.9L480.9 465.2L481.1 465.4L481.4 465.6L481.7 465.7L482.0 465.7L482.2 465.7L482.5 465.6L482.8 465.4L483.0 465.2L483.3 464.9L483.6 464.6L483.8 464.2L484.1 463.7L484.4 463.2L484.7 462.6L484.9 462.0L485.2 461.3L485.5 460.6L485.7 459.8L486.0 459.0L486.3 458.1L486.5 457.2L486.8 456.3L487.1 455.4L487.4 454.4L487.6 453.5L487.9 452.5L488.2 451.6L488.4 450.6L488.7 449.6L489.0 448.7L489.2 447.8L489.5 446.9L489.8 446.1L490.1 445.2L490.3 444.5L490.6 443.7L490.9 443.0L491.1 442.4L491.4 441.8L491.7 441.3L491.9 440.8L492.2 440.4L492.5 440.0L492.7 439.8L493.0 439.5L493.3 439.8L493.6 440.2L493.8 440.6L494.1 441.2L494.4 441.8L494.7 442.5L494.9 443.3L495.2 444.1L495.5 445.0L495.7 445.9L496.0 446.9L496.3 448.0L496.6 449.1L496.8 450.2L497.1 451.3L497.4 452.4L497.7 453.6L497.9 454.7L498.2 455.9L498.5 457.0L498.8 458.1L499.0 459.1L499.3 460.1L499.6 461.1L499.8 462.0L500.1 462.8L500.4 463.6L500.7 464.3L500.9 464.9L501.2 465.4L501.5 465.9L501.8 466.3L502.0 466.6L502.3 466.8L502.6 466.9L502.8 466.9L503.1 466.9L503.4 466.8L503.7 466.6L503.9 466.4L504.2 466.0L504.5 465.7L504.8 465.2L505.0 464.6L505.3 464.0L505.6 463.4L505.8 462.6L506.1 461.8L506.4 461.0L506.7 460.1L506.9 459.1L507.2 458.1L507.5 457.1L507.8 456.0L508.0 454.9L508.3 453.8L508.6 452.6L508.9 451.5L509.1 450.3L509.4 449.2L509.7 448.0L509.9 446.9L510.2 445.8L510.5 444.7L510.8 443.6L511.0 442.6L511.3 441.7L511.6 440.7L511.9 439.8L512.1 439.0L512.4 438.3L512.7 437.6L512.9 436.9L513.2 436.3L513.5 435.8L513.8 435.4L514.0 435.1L514.3 434.8L514.6 435.2L514.9 435.7L515.1 436.4L515.4 437.1L515.7 438.0L515.9 439.0L516.2 440.1L516.5 441.3L516.8 442.6L517.0 444.0L517.3 445.4L517.6 446.9L517.9 448.5L518.1 450.0L518.4 451.6L518.7 453.3L519.0 454.9L519.2 456.5L519.5 458.1L519.8 459.6L520.0 461.1L520.3 462.6L520.6 464.0L520.9 465.3L521.1 466.5L521.4 467.6L521.7 468.6L522.0 469.5L522.2 470.3L522.5 471.0L522.8 471.5L523.0 471.9L523.3 472.2L523.6 472.4L523.9 472.4L524.1 472.4L524.4 472.3L524.7 472.1L525.0 471.8L525.2 471.5L525.5 471.0L525.8 470.5L526.1 469.9L526.3 469.3L526.6 468.5L526.9 467.7L527.1 466.8L527.4 465.8L527.7 464.8L528.0 463.8L528.2 462.6L528.5 461.5L528.8 460.3L529.1 459.1L529.3 457.8L529.6 456.6L529.9 455.3L530.1 454.0L530.4 452.7L530.7 451.4L531.0 450.2L531.2 449.0L531.5 447.8L531.8 446.6L532.1 445.5L532.3 444.4L532.6 443.3L532.9 442.4L533.1 441.4L533.4 440.6L533.7 439.8L534.0 439.1L534.2 438.5L534.5 437.9L534.8 437.4L535.1 437.0L535.3 436.7L535.6 437.2L535.9 437.7L536.2 438.4L536.4 439.1L536.7 440.0L537.0 441.0L537.3 442.2L537.5 443.4L537.8 444.7L538.1 446.1L538.4 447.5L538.7 449.1L538.9 450.6L539.2 452.2L539.5 453.9L539.8 455.6L540.0 457.2L540.3 458.9L540.6 460.5L540.9 462.2L541.1 463.7L541.4 465.3L541.7 466.7L542.0 468.1L542.3 469.4L542.5 470.7L542.8 471.8L543.1 472.8L543.4 473.7L543.6 474.5L543.9 475.2L544.2 475.7L544.5 476.1L544.7 476.4L545.0 476.6L545.3 476.6L545.6 476.6L545.8 476.5L546.1 476.4L546.4 476.2L546.7 475.9L546.9 475.5L547.2 475.1L547.5 474.6L547.8 474.1L548.0 473.4L548.3 472.8L548.6 472.1L548.8 471.3L549.1 470.5L549.4 469.6L549.7 468.7L549.9 467.8L550.2 466.8L550.5 465.8L550.8 464.8L551.0 463.8L551.3 462.7L551.6 461.7L551.8 460.6L552.1 459.6L552.4 458.6L552.7 457.6L552.9 456.6L553.2 455.7L553.5 454.8L553.8 453.9L554.0 453.0L554.3 452.2L554.6 451.5L554.9 450.8L555.1 450.2L555.4 449.6L555.7 449.1L555.9 448.6L556.2 448.3L556.5 447.9L556.8 447.7L557.0 448.0L557.3 448.4L557.6 449.0L557.8 449.6L558.1 450.3L558.4 451.1L558.6 451.9L558.9 452.9L559.2 453.9L559.5 455.0L559.7 456.1L560.0 457.3L560.3 458.6L560.5 459.8L560.8 461.1L561.1 462.5L561.3 463.8L561.6 465.2L561.9 466.5L562.2 467.8L562.4 469.1L562.7 470.4L563.0 471.6L563.2 472.8L563.5 474.0L563.8 475.1L564.0 476.1L564.3 477.0L564.6 477.9L564.8 478.6L565.1 479.3L565.4 479.9L565.7 480.5L565.9 480.9L566.2 481.2L566.5 481.4L566.7 481.5L567.0 481.6L567.3 481.6L567.5 481.5L567.8 481.4L568.1 481.2L568.4 481.0L568.6 480.8L568.9 480.5L569.2 480.2L569.5 479.8L569.7 479.4L570.0 478.9L570.3 478.4L570.5 477.9L570.8 477.3L571.1 476.7L571.4 476.1L571.6 475.4L571.9 474.7L572.2 474.1L572.5 473.3L572.7 472.6L573.0 471.9L573.3 471.2L573.6 470.4L573.8 469.7L574.1 469.0L574.4 468.3L574.6 467.6L574.9 466.9L575.2 466.2L575.5 465.6L575.7 465.0L576.0 464.4L576.3 463.8L576.6 463.3L576.8 462.8L577.1 462.4L577.4 462.0L577.6 461.6L577.9 461.3L578.2 461.0L578.5 460.8L578.7 460.6L579.0 460.9L579.3 461.1L579.6 461.5L579.8 461.9L580.1 462.4L580.4 462.9L580.7 463.5L581.0 464.1L581.2 464.7L581.5 465.5L581.8 466.2L582.1 467.0L582.3 467.8L582.6 468.7L582.9 469.6L583.2 470.4L583.4 471.4L583.7 472.3L584.0 473.2L584.3 474.1L584.5 475.0L584.8 475.9L585.1 476.7L585.4 477.6L585.6 478.4L585.9 479.2L586.2 479.9L586.5 480.6L586.8 481.3L587.0 481.9L587.3 482.5L587.6 483.0L587.9 483.4L588.1 483.8L588.4 484.1L588.7 484.4L589.0 484.6L589.2 484.7L589.5 484.8L589.8 484.9L590.1 484.8L590.3 484.8L590.6 484.8L590.9 484.7L591.2 484.6L591.4 484.5L591.7 484.3L592.0 484.2L592.3 484.0L592.5 483.8L592.8 483.5L593.1 483.3L593.3 483.0L593.6 482.7L593.9 482.4L594.2 482.1L594.4 481.8L594.7 481.4L595.0 481.1L595.3 480.7L595.5 480.4L595.8 480.0L596.1 479.7L596.3 479.3L596.6 478.9L596.9 478.6L597.2 478.2L597.4 477.8L597.7 477.5L598.0 477.2L598.3 476.9L598.5 476.5L598.8 476.3L599.1 476.0L599.4 475.7L599.6 475.5L599.9 475.3L600.2 475.1L600.4 474.9L600.7 474.7L601.0 474.6L601.3 474.5L601.5 474.4L601.8 474.5L602.1 474.6L602.4 474.8L602.6 475.0L602.9 475.2L603.2 475.4L603.5 475.7L603.7 476.0L604.0 476.3L604.3 476.6L604.6 476.9L604.8 477.3L605.1 477.7L605.4 478.1L605.7 478.5L606.0 478.9L606.2 479.3L606.5 479.7L606.8 480.2L607.1 480.6L607.3 481.1L607.6 481.5L607.9 481.9L608.2 482.4L608.4 482.8L608.7 483.2L609.0 483.7L609.3 484.0L609.5 484.4L609.8 484.8L610.1 485.1L610.4 485.4L610.6 485.7L610.9 486.0L611.2 486.3L611.5 486.5L611.7 486.7L612.0 486.9L612.3 487.1L612.6 487.2L612.9 487.3L613.1 487.4L613.4 487.5L613.7 487.5L614.0 487.5L614.2 487.5L614.5 487.5L614.8 487.5L615.0 487.5L615.3 487.4L615.6 487.4L615.9 487.3L616.1 487.3L616.4 487.2L616.7 487.1L617.0 487.0L617.2 486.9L617.5 486.7L617.8 486.6L618.1 486.4L618.3 486.3L618.6 486.1L618.9 485.9L619.1 485.7L619.4 485.5L619.7 485.3L620.0 485.1L620.2 484.9L620.5 484.7L620.8 484.5L621.1 484.3L621.3 484.1L621.6 483.9L621.9 483.8L622.1 483.6L622.4 483.5L622.7 483.3L623.0 483.2L623.2 483.0L623.5 482.9L623.8 482.8L624.1 482.6L624.3 482.5L624.6 482.4L624.9 482.3L625.1 482.2L625.4 482.2L625.7 482.1L626.0 482.2L626.2 482.2L626.5 482.3L626.8 482.4L627.1 482.5L627.3 482.7L627.6 482.8L627.9 483.0L628.2 483.2L628.4 483.4L628.7 483.6L629.0 483.8L629.2 484.0L629.5 484.3L629.8 484.5L630.1 484.8L630.3 485.1L630.6 485.3L630.9 485.6L631.2 485.9L631.4 486.2L631.7 486.5L632.0 486.8L632.2 487.1L632.5 487.3L632.8 487.6L633.1 487.9L633.3 488.1L633.6 488.3L633.9 488.5L634.2 488.7L634.4 488.9L634.7 489.1L635.0 489.2L635.2 489.4L635.5 489.5L635.8 489.6L636.1 489.7L636.3 489.7L636.6 489.7L636.9 489.7L637.2 489.7L637.4 489.7L637.7 489.7L638.0 489.7L638.2 489.7L638.5 489.6L638.8 489.6L639.1 489.5L639.3 489.5L639.6 489.5L639.9 489.4L640.1 489.4L640.4 489.3L640.7 489.2L640.9 489.2L641.2 489.2L641.5 489.1L641.8 489.1L642.0 489.0L642.3 489.0L642.6 488.9L642.8 488.9L643.1 488.8L643.4 488.8L643.6 488.7L643.9 488.7L644.2 488.6L644.5 488.5L644.7 488.5L645.0 488.4L645.3 488.3L645.5 488.3L645.8 488.2L646.1 488.1L646.3 488.1L646.6 488.0L646.9 487.9L647.2 487.9L647.4 487.8L647.7 487.8L648.0 487.7L648.2 487.7L648.5 487.6L648.8 487.6L649.0 487.6L649.3 487.5L649.6 487.5L649.9 487.5L650.1 487.6L650.4 487.6L650.7 487.7L650.9 487.7L651.2 487.8L651.5 487.9L651.8 488.0L652.0 488.1L652.3 488.2L652.6 488.3L652.9 488.4L653.1 488.5L653.4 488.6L653.7 488.8L654.0 488.9L654.2 489.0L654.5 489.1L654.8 489.2L655.0 489.3L655.3 489.5L655.6 489.6L655.9 489.7L656.1 489.8L656.4 489.9L656.7 490.0L657.0 490.0L657.2 490.1L657.5 490.2L657.8 490.3L658.0 490.4L658.3 490.5L658.6 490.6L658.9 490.7L659.1 490.8L659.4 490.8L659.7 490.9L660.0 491.0L660.2 491.0L660.5 491.1L660.8 491.1L661.0 491.1L661.3 491.2L661.6 491.2L661.9 491.2L662.1 491.2L662.4 491.2L662.7 491.2L662.9 491.3L663.2 491.3L663.5 491.3L663.8 491.3L664.0 491.3L664.3 491.2L664.6 491.2L664.8 491.2L665.1 491.2L665.4 491.1L665.6 491.1L665.9 491.1L666.2 491.1L666.5 491.1L666.7 491.0L667.0 491.0L667.3 491.0L667.5 490.9L667.8 490.9L668.1 490.8L668.4 490.8L668.6 490.7L668.9 490.7L669.2 490.7L669.4 490.7L669.7 490.7L670.0 490.7L670.2 490.7L670.5 490.7L670.8 490.6L671.1 490.6L671.3 490.6L671.6 490.6L671.9 490.5L672.1 490.5L672.4 490.5L672.7 490.5L672.9 490.5L673.2 490.5L673.5 490.5L673.8 490.5L674.0 490.5L674.3 490.5L674.6 490.6L674.8 490.6L675.1 490.6L675.4 490.6L675.7 490.6L675.9 490.7L676.2 490.7L676.5 490.7L676.7 490.8L677.0 490.8L677.3 490.8L677.6 490.9L677.8 491.0L678.1 491.0L678.4 491.0L678.7 491.1L678.9 491.1L679.2 491.2L679.5 491.2L679.7 491.3L680.0 491.4L680.3 491.4L680.6 491.4L680.8 491.5L681.1 491.6L681.4 491.6L681.7 491.8L681.9 491.8L682.2 491.8L682.5 491.8L682.8 491.9L683.0 491.9L683.3 492.0L683.6 492.0L683.8 492.1L684.1 492.1L684.4 492.2L684.7 492.2L684.9 492.2L685.2 492.2L685.5 492.3L685.8 492.4L686.0 492.3L686.3 492.5L686.6 492.5L686.8 492.5L687.1 492.5L687.4 492.6L687.7 492.6L687.9 492.5L688.2 492.6L688.5 492.6L688.8 492.6L689.0 492.6L689.3 492.7L689.6 492.7L689.9 492.7L690.1 492.6L690.4 492.7L690.7 492.6L691.0 492.6L691.2 492.5L691.5 492.5L691.8 492.5L692.1 492.5L692.4 492.5L692.6 492.5L692.9 492.5L693.2 492.5L693.5 492.4L693.7 492.4L694.0 492.4L694.3 492.3L694.6 492.4L694.8 492.4L695.1 492.3L695.4 492.3L695.7 492.2L695.9 492.2L696.2 492.2L696.5 492.2L696.8 492.2L697.0 492.1L697.3 492.1L697.6 492.1L697.9 492.1L698.1 492.0L698.4 492.0L698.7 492.0L699.0 492.0L699.2 492.0L699.5 492.0L699.8 492.0L700.1 491.9L700.4 491.9L700.6 491.9L700.9 491.9L701.2 491.9L701.5 491.8L701.7 491.9L702.0 491.8L702.3 491.9L702.5 491.9L702.8 491.9L703.1 492.0L703.4 492.0L703.6 492.0L703.9 492.1L704.2 492.0L704.5 492.1L704.7 492.1L705.0 492.2L705.3 492.2L705.5 492.3L705.8 492.3L706.1 492.4L706.4 492.4L706.6 492.5L706.9 492.5L707.2 492.6L707.5 492.6L707.7 492.6L708.0 492.7L708.3 492.6L708.6 492.7L708.8 492.7L709.1 492.8L709.4 492.8L709.6 492.9L709.9 492.8L710.2 492.9L710.5 492.9L710.7 492.8L711.0 492.8L711.3 492.9L711.6 492.9L711.8 492.9L712.1 492.9L712.4 492.7L712.6 492.7L712.9 492.8L713.2 492.7L713.5 492.7L713.7 492.8L714.0 492.8L714.3 492.9L714.5 492.8L714.8 493.0L715.1 492.9L715.3 492.9L715.6 492.9L715.9 492.9L716.2 492.9L716.4 493.0L716.7 493.0L717.0 493.0L717.2 493.0L717.5 493.0L717.8 493.0L718.1 493.1L718.3 492.9L718.6 492.9L718.9 492.9L719.1 493.1L719.4 492.8L719.7 492.9L719.9 493.0L720.2 492.9L720.5 493.0L720.8 493.0L721.0 493.0L721.3 492.9L721.6 492.9L721.8 492.9L722.1 493.0L722.4 493.1L722.6 493.0L722.9 493.0L723.2 493.0L723.5 493.0L723.7 492.9L724.0 493.1L724.3 493.0L724.5 493.1L724.8 493.0L725.1 493.0L725.4 493.1L725.6 493.0L725.9 493.1L726.2 493.1L726.4 493.0L726.7 493.0L727.0 492.9L727.3 493.1L727.5 493.1L727.8 493.0L728.1 493.1L728.3 493.1L728.6 493.2L728.9 493.2L729.2 493.1L729.4 493.2L729.7 493.2L730.0 493.2L730.3 493.4L730.5 493.3L730.8 493.3"/>
<path stroke="#000000" stroke-width="2.90" d="M729.4 493.2L729.7 493.2L730.0 493.2L730.3 493.4L730.5 493.3L730.8 493.3L731.1 493.2L731.3 493.5L731.6 493.3L731.9 493.5L732.2 493.3L732.4 493.4L732.7 493.5L733.0 493.4L733.3 493.6L733.5 493.5L733.8 493.5L734.1 493.5L734.3 493.6L734.6 493.8L734.9 493.6L735.2 493.8L735.4 493.7L735.7 493.7L736.0 493.6L736.3 493.7L736.5 493.6L736.8 493.7L737.1 493.9L737.4 493.7L737.6 493.7L737.9 493.8L738.2 493.9L738.4 493.5L738.7 493.6L739.0 493.7L739.0 493.4L739.8 493.5L740.6 493.8L741.4 493.8L742.3 493.7L743.1 494.0L743.9 493.7L744.7 494.1L745.5 493.9L746.4 494.2L747.2 494.0L748.0 493.9L748.8 493.9L749.6 494.1L750.5 494.6L751.3 494.3L752.1 494.2L752.9 494.0L753.7 494.2L754.6 494.1L755.4 494.2L756.2 494.4L757.0 494.0L757.8 494.2"/>
<path stroke="#000000" stroke-width="2.9" d="M757.0 494.0L757.8 494.2L758.6 494.3L759.5 494.2L760.3 494.0L761.1 494.3L761.9 494.5L762.7 494.2L763.6 494.7L764.4 494.3L765.2 494.1L766.0 494.3L766.8 494.3L767.7 494.5L768.5 494.6L769.3 494.3L770.1 494.6L770.9 494.0L771.8 494.4L772.6 494.1L773.4 494.1L774.2 494.4L775.0 494.2L775.8 494.3L776.7 494.4L777.5 494.4L778.3 494.5L779.1 494.4L779.9 494.5L780.8 494.7L781.6 494.4L782.4 494.5L783.2 494.8L784.0 494.4L784.9 494.7L785.7 494.8L786.5 494.4L787.3 495.0L788.1 494.1L788.9 494.8L789.8 494.2L790.6 494.9L791.4 494.7L792.2 494.9L793.0 494.8L793.9 494.8L794.7 494.6L795.5 494.9L796.3 494.5L797.1 494.8L798.0 494.4L798.8 494.7L799.6 494.8L800.4 494.8L801.2 494.6L802.1 495.1L802.9 494.6L803.7 494.9L804.5 494.7L805.3 494.7L806.1 495.1L807.0 494.9L807.8 495.0L808.6 494.9L809.4 494.6L810.2 494.5L811.1 494.4L811.9 494.9L812.7 495.0L813.5 494.9L814.3 494.9L815.2 494.7L816.0 494.7L816.8 495.1L817.6 494.6L818.4 494.7L819.3 495.1L820.1 495.1L820.9 494.9L821.7 495.1L822.5 495.0L823.3 495.0L824.2 494.6L825.0 494.8L825.8 495.3L826.6 494.8L827.4 495.1L828.3 494.9L829.1 494.7L829.9 494.8L830.7 495.0L831.5 494.7L832.4 494.9L833.2 494.9L834.0 494.8L834.8 494.9L835.6 494.8L836.5 495.2L837.3 495.1L838.1 495.2L838.9 495.0L839.7 495.1L840.5 495.1L841.4 494.8L842.2 495.2L843.0 495.2L843.8 495.2L844.6 495.1L845.5 494.9L846.3 495.0L847.1 495.4L847.9 495.3L848.7 495.5L849.6 495.0L850.4 495.1L851.2 495.6L852.0 495.2L852.8 495.3L853.7 495.3L854.5 495.4L855.3 495.2L856.1 495.1L856.9 495.3L857.7 495.0L858.6 495.0L859.4 495.1L860.2 494.9L861.0 494.9L861.8 495.4L862.7 495.1L863.5 495.1L864.3 495.1L865.1 494.9L865.9 495.3L866.8 495.1L867.6 495.3L868.4 495.0L869.2 495.5L870.0 495.4L870.8 495.1L871.7 495.1L872.5 495.4L873.3 495.3L874.1 495.0L874.9 495.5L875.8 495.3L876.6 495.6L877.4 495.2L878.2 495.3L879.0 495.5L879.9 495.2L880.7 495.4L881.5 495.4L882.3 495.2L883.1 495.1L884.0 495.3L884.8 495.5L885.6 495.3L886.4 495.6L887.2 495.3L888.0 495.6L888.9 495.5L889.7 495.5L890.5 495.2L891.3 495.3L892.1 495.4L893.0 495.3L893.8 495.5L894.6 495.3L895.4 495.2L896.2 495.3L897.1 495.4L897.9 495.1L898.7 495.3L899.5 495.5L900.3 495.5L901.2 495.3L902.0 495.6L902.8 495.5L903.6 495.6L904.4 495.5L905.2 495.5L906.1 495.5L906.9 495.3L907.7 495.1L908.5 495.5L909.3 495.4L910.2 495.1L911.0 495.4L911.8 495.5"/>
<path stroke="#ff0000" d="M425.9 440.0L426.1 440.0L426.4 439.9L426.7 439.8L427.0 439.6L427.3 439.4L427.5 439.1L427.8 438.8L428.1 438.4L428.4 438.0L428.7 437.6L428.9 437.2L429.2 436.8L429.5 436.4L429.8 436.1L430.1 435.7L430.3 435.4L430.6 435.2L430.9 435.0L431.2 434.9L431.5 434.8L431.7 434.9L432.0 435.0L432.3 435.2L432.6 435.4L432.8 435.7L433.1 435.9L433.4 436.3L433.7 436.6L434.0 437.0L434.2 437.4L434.5 437.9L434.8 438.3L435.1 438.8L435.3 439.2L435.6 439.7L435.9 440.2L436.2 440.6L436.4 441.1L436.7 441.5L437.0 441.9L437.3 442.3L437.6 442.6L437.8 443.0L438.1 443.3L438.4 443.5L438.7 443.7L438.9 443.9L439.2 444.0L439.5 444.1L439.8 444.1L440.1 444.2L440.3 444.1L440.6 444.1L440.9 443.9L441.1 443.7L441.4 443.4L441.7 443.0L441.9 442.6L442.2 442.1L442.5 441.5L442.8 440.8L443.0 440.1L443.3 439.3L443.6 438.4L443.8 437.5L444.1 436.6L444.4 435.5L444.6 434.5L444.9 433.4L445.2 432.2L445.5 431.1L445.7 429.9L446.0 428.7L446.3 427.5L446.5 426.3L446.8 425.1L447.1 423.9L447.3 422.7L447.6 421.6L447.9 420.4L448.1 419.4L448.4 418.3L448.7 417.3L449.0 416.4L449.2 415.5L449.5 414.6L449.8 413.9L450.0 413.2L450.3 412.5L450.6 412.0L450.8 411.5L451.1 411.1L451.4 410.8L451.7 410.6L451.9 410.9L452.2 411.3L452.5 411.8L452.8 412.4L453.0 413.1L453.3 413.9L453.6 414.8L453.9 415.8L454.2 416.8L454.4 418.0L454.7 419.1L455.0 420.4L455.3 421.6L455.5 422.9L455.8 424.2L456.1 425.5L456.4 426.7L456.6 428.0L456.9 429.2L457.2 430.4L457.5 431.5L457.8 432.5L458.0 433.5L458.3 434.4L458.6 435.2L458.9 435.9L459.1 436.5L459.4 437.0L459.7 437.4L460.0 437.7L460.2 437.9L460.5 438.0L460.8 438.1L461.1 438.0L461.3 437.9L461.6 437.7L461.9 437.4L462.2 436.9L462.4 436.4L462.7 435.7L463.0 434.9L463.3 434.0L463.5 433.0L463.8 431.9L464.1 430.6L464.4 429.3L464.6 427.9L464.9 426.3L465.2 424.7L465.4 423.1L465.7 421.3L466.0 419.5L466.3 417.7L466.5 415.8L466.8 413.9L467.1 412.0L467.4 410.0L467.6 408.1L467.9 406.2L468.2 404.2L468.4 402.4L468.7 400.5L469.0 398.8L469.3 397.1L469.5 395.4L469.8 393.8L470.1 392.4L470.4 391.0L470.6 389.7L470.9 388.5L471.2 387.4L471.5 386.5L471.7 385.7L472.0 385.0L472.3 384.4L472.5 383.9L472.8 384.5L473.1 385.2L473.4 386.2L473.7 387.3L473.9 388.5L474.2 389.9L474.5 391.5L474.8 393.2L475.0 395.0L475.3 396.9L475.6 398.9L475.9 400.9L476.1 403.1L476.4 405.2L476.7 407.4L477.0 409.6L477.3 411.7L477.5 413.8L477.8 415.9L478.1 417.9L478.4 419.8L478.6 421.6L478.9 423.3L479.2 424.9L479.5 426.3L479.7 427.5L480.0 428.7L480.3 429.6L480.6 430.4L480.9 431.0L481.1 431.5L481.4 431.8L481.7 432.0L482.0 432.1L482.2 432.0L482.5 431.9L482.8 431.6L483.0 431.1L483.3 430.5L483.6 429.8L483.8 428.9L484.1 427.8L484.4 426.5L484.7 425.1L484.9 423.6L485.2 421.9L485.5 420.0L485.7 418.1L486.0 416.0L486.3 413.8L486.5 411.4L486.8 409.0L487.1 406.6L487.4 404.0L487.6 401.4L487.9 398.8L488.2 396.2L488.4 393.6L488.7 390.9L489.0 388.3L489.2 385.8L489.5 383.3L489.8 380.9L490.1 378.5L490.3 376.3L490.6 374.2L490.9 372.2L491.1 370.3L491.4 368.6L491.7 367.0L491.9 365.6L492.2 364.4L492.5 363.3L492.7 362.4L493.0 361.7L493.3 362.6L493.6 363.8L493.8 365.2L494.1 366.8L494.4 368.6L494.7 370.7L494.9 372.9L495.2 375.3L495.5 377.9L495.7 380.6L496.0 383.5L496.3 386.4L496.6 389.5L496.8 392.6L497.1 395.7L497.4 398.8L497.7 402.0L497.9 405.0L498.2 408.1L498.5 411.0L498.8 413.9L499.0 416.6L499.3 419.2L499.6 421.7L499.8 423.9L500.1 426.0L500.4 427.9L500.7 429.5L500.9 431.0L501.2 432.2L501.5 433.3L501.8 434.1L502.0 434.7L502.3 435.1L502.6 435.3L502.8 435.3L503.1 435.3L503.4 435.1L503.7 434.8L503.9 434.3L504.2 433.6L504.5 432.8L504.8 431.8L505.0 430.6L505.3 429.2L505.6 427.6L505.8 425.9L506.1 424.0L506.4 421.9L506.7 419.7L506.9 417.3L507.2 414.8L507.5 412.1L507.8 409.4L508.0 406.5L508.3 403.6L508.6 400.6L508.9 397.6L509.1 394.5L509.4 391.4L509.7 388.4L509.9 385.3L510.2 382.3L510.5 379.3L510.8 376.4L511.0 373.6L511.3 370.8L511.6 368.2L511.9 365.8L512.1 363.4L512.4 361.2L512.7 359.2L512.9 357.3L513.2 355.7L513.5 354.2L513.8 352.9L514.0 351.8L514.3 350.9L514.6 352.2L514.9 353.7L515.1 355.6L515.4 357.8L515.7 360.4L515.9 363.2L516.2 366.2L516.5 369.5L516.8 373.0L517.0 376.8L517.3 380.6L517.6 384.6L517.9 388.7L518.1 392.9L518.4 397.1L518.7 401.3L519.0 405.5L519.2 409.7L519.5 413.7L519.8 417.6L520.0 421.3L520.3 424.9L520.6 428.2L520.9 431.4L521.1 434.2L521.4 436.8L521.7 439.2L522.0 441.2L522.2 442.9L522.5 444.3L522.8 445.4L523.0 446.3L523.3 446.8L523.6 447.1L523.9 447.2L524.1 447.1L524.4 447.0L524.7 446.6L525.0 446.1L525.2 445.4L525.5 444.4L525.8 443.3L526.1 442.0L526.3 440.5L526.6 438.8L526.9 436.8L527.1 434.7L527.4 432.5L527.7 430.0L528.0 427.4L528.2 424.7L528.5 421.8L528.8 418.8L529.1 415.7L529.3 412.5L529.6 409.2L529.9 405.9L530.1 402.5L530.4 399.1L530.7 395.8L531.0 392.4L531.2 389.1L531.5 385.8L531.8 382.6L532.1 379.6L532.3 376.6L532.6 373.7L532.9 371.0L533.1 368.4L533.4 366.0L533.7 363.8L534.0 361.8L534.2 360.0L534.5 358.3L534.8 356.9L535.1 355.7L535.3 354.7L535.6 356.0L535.9 357.7L536.2 359.7L536.4 361.9L536.7 364.6L537.0 367.4L537.3 370.6L537.5 374.0L537.8 377.7L538.1 381.5L538.4 385.5L538.7 389.7L538.9 394.0L539.2 398.3L539.5 402.7L539.8 407.2L540.0 411.6L540.3 416.0L540.6 420.2L540.9 424.4L541.1 428.4L541.4 432.3L541.7 435.9L542.0 439.4L542.3 442.6L542.5 445.5L542.8 448.2L543.1 450.5L543.4 452.6L543.6 454.3L543.9 455.8L544.2 456.9L544.5 457.8L544.7 458.3L545.0 458.6L545.3 458.7L545.6 458.7L545.8 458.5L546.1 458.2L546.4 457.8L546.7 457.1L546.9 456.4L547.2 455.4L547.5 454.3L547.8 453.1L548.0 451.6L548.3 450.0L548.6 448.3L548.8 446.3L549.1 444.3L549.4 442.1L549.7 439.8L549.9 437.4L550.2 434.8L550.5 432.2L550.8 429.5L551.0 426.8L551.3 424.0L551.6 421.2L551.8 418.4L552.1 415.5L552.4 412.7L552.7 410.0L552.9 407.2L553.2 404.5L553.5 402.0L553.8 399.5L554.0 397.1L554.3 394.8L554.6 392.6L554.9 390.6L555.1 388.8L555.4 387.1L555.7 385.5L555.9 384.1L556.2 383.0L556.5 382.0L556.8 381.1L557.0 382.2L557.3 383.5L557.6 385.0L557.8 386.8L558.1 388.8L558.4 391.0L558.6 393.4L558.9 396.1L559.2 398.9L559.5 401.9L559.7 405.0L560.0 408.3L560.3 411.6L560.5 415.0L560.8 418.5L561.1 422.0L561.3 425.5L561.6 429.0L561.9 432.5L562.2 435.9L562.4 439.2L562.7 442.4L563.0 445.5L563.2 448.5L563.5 451.3L563.8 453.9L564.0 456.3L564.3 458.5L564.6 460.5L564.8 462.3L565.1 463.8L565.4 465.1L565.7 466.2L565.9 467.0L566.2 467.7L566.5 468.1L566.7 468.3L567.0 468.4L567.3 468.3L567.5 468.2L567.8 468.1L568.1 467.8L568.4 467.4L568.6 466.9L568.9 466.3L569.2 465.6L569.5 464.8L569.7 463.9L570.0 462.9L570.3 461.7L570.5 460.5L570.8 459.2L571.1 457.8L571.4 456.3L571.6 454.8L571.9 453.2L572.2 451.5L572.5 449.8L572.7 448.0L573.0 446.2L573.3 444.4L573.6 442.5L573.8 440.7L574.1 438.9L574.4 437.0L574.6 435.2L574.9 433.5L575.2 431.7L575.5 430.1L575.7 428.5L576.0 426.9L576.3 425.4L576.6 424.1L576.8 422.8L577.1 421.6L577.4 420.5L577.6 419.5L577.9 418.6L578.2 417.8L578.5 417.2L578.7 416.7L579.0 417.3L579.3 418.2L579.6 419.1L579.8 420.3L580.1 421.6L580.4 423.0L580.7 424.5L581.0 426.2L581.2 428.0L581.5 429.9L581.8 431.9L582.1 434.0L582.3 436.1L582.6 438.3L582.9 440.6L583.2 442.8L583.4 445.1L583.7 447.4L584.0 449.7L584.3 452.0L584.5 454.2L584.8 456.4L585.1 458.5L585.4 460.5L585.6 462.5L585.9 464.3L586.2 466.1L586.5 467.7L586.8 469.2L587.0 470.6L587.3 471.8L587.6 472.9L587.9 473.8L588.1 474.6L588.4 475.3L588.7 475.8L589.0 476.2L589.2 476.5L589.5 476.6L589.8 476.6L590.1 476.6L590.3 476.6L590.6 476.5L590.9 476.3L591.2 476.1L591.4 475.8L591.7 475.5L592.0 475.1L592.3 474.7L592.5 474.2L592.8 473.7L593.1 473.0L593.3 472.4L593.6 471.7L593.9 470.9L594.2 470.1L594.4 469.3L594.7 468.4L595.0 467.5L595.3 466.5L595.5 465.6L595.8 464.6L596.1 463.6L596.3 462.6L596.6 461.6L596.9 460.6L597.2 459.6L597.4 458.6L597.7 457.7L598.0 456.7L598.3 455.8L598.5 455.0L598.8 454.1L599.1 453.3L599.4 452.6L599.6 451.9L599.9 451.2L600.2 450.6L600.4 450.1L600.7 449.6L601.0 449.2L601.3 448.8L601.5 448.5L601.8 448.9L602.1 449.3L602.4 449.8L602.6 450.3L602.9 451.0L603.2 451.7L603.5 452.4L603.7 453.2L604.0 454.1L604.3 455.0L604.6 456.0L604.8 457.0L605.1 458.1L605.4 459.2L605.7 460.3L606.0 461.4L606.2 462.6L606.5 463.8L606.8 465.0L607.1 466.2L607.3 467.3L607.6 468.5L607.9 469.7L608.2 470.9L608.4 472.0L608.7 473.1L609.0 474.1L609.3 475.1L609.5 476.1L609.8 477.0L610.1 477.8L610.4 478.6L610.6 479.3L610.9 480.0L611.2 480.6L611.5 481.2L611.7 481.6L612.0 482.1L612.3 482.4L612.6 482.7L612.9 482.9L613.1 483.1L613.4 483.2L613.7 483.3L614.0 483.3L614.2 483.3L614.5 483.3L614.8 483.2L615.0 483.2L615.3 483.1L615.6 483.0L615.9 482.9L616.1 482.8L616.4 482.6L616.7 482.3L617.0 482.1L617.2 481.8L617.5 481.5L617.8 481.2L618.1 480.8L618.3 480.3L618.6 479.9L618.9 479.5L619.1 479.0L619.4 478.5L619.7 478.0L620.0 477.4L620.2 476.9L620.5 476.4L620.8 475.8L621.1 475.3L621.3 474.8L621.6 474.3L621.9 473.8L622.1 473.4L622.4 473.0L622.7 472.5L623.0 472.1L623.2 471.7L623.5 471.3L623.8 471.0L624.1 470.6L624.3 470.3L624.6 470.0L624.9 469.8L625.1 469.5L625.4 469.3L625.7 469.2L626.0 469.3L626.2 469.6L626.5 469.8L626.8 470.1L627.1 470.5L627.3 470.9L627.6 471.3L627.9 471.8L628.2 472.3L628.4 472.8L628.7 473.4L629.0 474.0L629.2 474.6L629.5 475.3L629.8 476.0L630.1 476.6L630.3 477.3L630.6 478.0L630.9 478.7L631.2 479.5L631.4 480.2L631.7 480.9L632.0 481.6L632.2 482.3L632.5 483.0L632.8 483.6L633.1 484.2L633.3 484.8L633.6 485.3L633.9 485.8L634.2 486.2L634.4 486.7L634.7 487.0L635.0 487.4L635.2 487.7L635.5 487.9L635.8 488.1L636.1 488.2L636.3 488.3L636.6 488.4L636.9 488.4L637.2 488.4L637.4 488.3L637.7 488.3L638.0 488.3L638.2 488.2L638.5 488.1L638.8 488.1L639.1 488.0L639.3 487.9L639.6 487.8L639.9 487.7L640.1 487.6L640.4 487.4L640.7 487.3L640.9 487.2L641.2 487.1L641.5 487.0L641.8 486.9L642.0 486.7L642.3 486.6L642.6 486.4L642.8 486.3L643.1 486.1L643.4 486.0L643.6 485.8L643.9 485.7L644.2 485.5L644.5 485.3L644.7 485.1L645.0 484.9L645.3 484.8L645.5 484.6L645.8 484.4L646.1 484.2L646.3 484.0L646.6 483.9L646.9 483.7L647.2 483.5L647.4 483.4L647.7 483.2L648.0 483.1L648.2 483.0L648.5 482.9L648.8 482.8L649.0 482.7L649.3 482.6L649.6 482.5L649.9 482.6L650.1 482.7L650.4 482.8L650.7 482.9L650.9 483.1L651.2 483.3L651.5 483.6L651.8 483.8L652.0 484.1L652.3 484.3L652.6 484.5L652.9 484.8L653.1 485.0L653.4 485.3L653.7 485.6L654.0 485.9L654.2 486.2L654.5 486.4L654.8 486.7L655.0 487.0L655.3 487.3L655.6 487.6L655.9 487.8L656.1 488.1L656.4 488.3L656.7 488.5L657.0 488.7L657.2 488.9L657.5 489.2L657.8 489.4L658.0 489.6L658.3 489.8L658.6 489.9L658.9 490.1L659.1 490.3L659.4 490.4L659.7 490.6L660.0 490.7L660.2 490.8L660.5 490.9L660.8 491.0L661.0 491.0L661.3 491.1L661.6 491.1L661.9 491.1L662.1 491.1L662.4 491.1L662.7 491.2L662.9 491.2L663.2 491.2L663.5 491.3L663.8 491.3L664.0 491.2L664.3 491.2L664.6 491.1L664.8 491.1L665.1 491.0L665.4 491.0L665.6 491.0L665.9 490.9L666.2 490.9L666.5 490.8L666.7 490.8L667.0 490.7L667.3 490.6L667.5 490.5L667.8 490.4L668.1 490.3L668.4 490.2L668.6 490.2L668.9 490.1L669.2 490.1L669.4 490.1L669.7 490.1L670.0 490.1L670.2 490.0L670.5 490.0L670.8 489.9L671.1 489.9L671.3 489.8L671.6 489.8L671.9 489.7L672.1 489.7L672.4 489.6L672.7 489.6L672.9 489.6L673.2 489.6L673.5 489.6L673.8 489.6L674.0 489.6L674.3 489.7L674.6 489.7L674.8 489.7L675.1 489.8L675.4 489.8L675.7 489.9L675.9 489.9L676.2 490.0L676.5 490.0L676.7 490.1L677.0 490.2L677.3 490.3L677.6 490.4L677.8 490.5L678.1 490.6L678.4 490.8L678.7 490.8L678.9 491.0L679.2 491.1L679.5 491.2L679.7 491.3L680.0 491.4L680.3 491.6L680.6 491.7L680.8 491.8L681.1 492.0L681.4 492.1L681.7 492.2L681.9 492.3L682.2 492.4L682.5 492.6L682.8 492.6L683.0 492.7L683.3 492.8L683.6 492.9L683.8 493.0L684.1 493.0L684.4 493.1L684.7 493.2L684.9 493.2L685.2 493.3L685.5 493.4L685.8 493.6L686.0 493.6L686.3 493.7L686.6 493.7L686.8 493.8L687.1 493.8L687.4 493.8L687.7 493.9L687.9 493.9L688.2 493.9L688.5 493.9L688.8 494.0L689.0 494.0L689.3 494.0L689.6 494.1L689.9 494.1L690.1 494.1L690.4 494.0L690.7 494.1L691.0 494.0L691.2 493.9L691.5 493.9L691.8 494.0L692.1 493.9L692.4 493.9L692.6 493.9L692.9 493.8L693.2 493.9L693.5 493.9L693.7 493.7L694.0 493.8L694.3 493.8L694.6 493.7L694.8 493.7L695.1 493.7L695.4 493.7L695.7 493.6L695.9 493.6L696.2 493.6L696.5 493.5L696.8 493.5L697.0 493.5L697.3 493.4L697.6 493.4L697.9 493.4L698.1 493.4L698.4 493.4L698.7 493.3L699.0 493.2L699.2 493.3L699.5 493.3L699.8 493.2L700.1 493.1L700.4 493.1L700.6 493.1L700.9 493.1L701.2 493.1L701.5 493.0L701.7 493.1L702.0 493.1L702.3 493.2L702.5 493.2L702.8 493.2L703.1 493.2L703.4 493.4L703.6 493.3L703.9 493.4L704.2 493.4L704.5 493.5L704.7 493.6L705.0 493.6L705.3 493.7L705.5 493.7L705.8 493.9L706.1 493.9L706.4 494.2L706.6 494.0L706.9 494.1L707.2 494.3L707.5 494.2L707.7 494.4L708.0 494.5L708.3 494.4L708.6 494.4L708.8 494.4L709.1 494.5L709.4 494.5L709.6 494.6L709.9 494.6L710.2 494.5L710.5 494.5L710.7 494.6L711.0 494.6L711.3 494.6L711.6 494.6L711.8 494.5L712.1 494.6L712.4 494.3L712.6 494.3L712.9 494.5L713.2 494.3L713.5 494.3L713.7 494.4L714.0 494.3L714.3 494.3L714.5 494.4L714.8 494.6L715.1 494.7L715.3 494.6L715.6 494.5L715.9 494.8L716.2 494.7L716.4 494.7L716.7 494.7L717.0 494.8L717.2 494.7L717.5 494.8L717.8 494.7L718.1 494.8L718.3 494.8L718.6 494.7L718.9 494.6L719.1 494.7L719.4 494.8L719.7 494.7L719.9 494.6L720.2 494.6L720.5 494.6L720.8 494.6L721.0 494.7L721.3 494.5L721.6 494.6L721.8 494.7L722.1 494.7L722.4 494.8L722.6 494.9L722.9 494.7L723.2 494.7L723.5 494.7L723.7 494.9L724.0 494.8L724.3 494.9L724.5 494.8L724.8 494.9L725.1 494.9L725.4 495.0L725.6 494.9L725.9 494.8L726.2 495.0L726.4 494.9L726.7 494.7L727.0 494.9L727.3 495.0L727.5 494.9L727.8 494.8L728.1 494.9L728.3 495.1L728.6 495.1L728.9 495.0L729.2 495.2L729.4 495.0L729.7 495.2L730.0 495.1L730.3 495.3L730.5 495.3L730.8 495.0"/>
<path stroke="#ff0000" stroke-width="3.15" d="M729.4 495.0L729.7 495.2L730.0 495.1L730.3 495.3L730.5 495.3L730.8 495.0L731.1 495.3L731.3 495.5L731.6 495.4L731.9 495.6L732.2 495.7L732.4 495.8L732.7 495.8L733.0 495.6L733.3 495.9L733.5 495.8L733.8 496.0L734.1 495.8L734.3 496.0L734.6 495.9L734.9 496.1L735.2 496.0L735.4 496.1L735.7 496.1L736.0 496.1L736.3 496.3L736.5 496.3L736.8 496.3L737.1 496.2L737.4 496.3L737.6 496.3L737.9 496.4L738.2 496.3L738.4 496.3L738.7 496.2L739.0 496.4L739.0 495.9L739.8 496.1L740.6 496.0L741.4 495.8L742.3 496.0L743.1 495.7L743.9 496.1L744.7 495.5L745.5 496.1L746.4 495.6L747.2 495.7L748.0 495.8L748.8 495.2L749.6 495.4L750.5 495.6L751.3 495.4L752.1 495.9L752.9 495.6L753.7 495.3L754.6 495.4L755.4 495.3L756.2 495.1L757.0 495.1L757.8 495.3"/>
<path stroke="#ff0000" stroke-width="3.4" d="M757.0 495.1L757.8 495.3L758.6 495.5L759.5 495.1L760.3 494.7L761.1 495.3L761.9 495.5L762.7 495.4L763.6 495.4L764.4 495.0L765.2 495.3L766.0 495.4L766.8 495.2L767.7 495.2L768.5 494.8L769.3 495.2L770.1 495.1L770.9 495.1L771.8 495.3L772.6 494.9L773.4 495.4L774.2 495.2L775.0 495.2L775.8 495.5L776.7 494.9L777.5 495.5L778.3 495.2L779.1 495.1L779.9 495.2L780.8 495.6L781.6 495.0L782.4 495.5L783.2 495.3L784.0 495.2L784.9 495.3L785.7 495.0L786.5 495.2L787.3 495.6L788.1 495.3L788.9 495.1L789.8 495.6L790.6 495.2L791.4 495.3L792.2 494.9L793.0 495.4L793.9 495.5L794.7 495.6L795.5 495.2L796.3 495.9L797.1 495.5L798.0 495.6L798.8 495.9L799.6 495.7L800.4 495.8L801.2 496.1L802.1 496.0L802.9 495.3L803.7 495.9L804.5 495.6L805.3 495.4L806.1 495.8L807.0 495.8L807.8 495.9L808.6 495.4L809.4 495.5L810.2 496.3L811.1 496.1L811.9 495.8L812.7 496.1L813.5 496.0L814.3 495.8L815.2 495.7L816.0 496.0L816.8 495.6L817.6 496.0L818.4 495.7L819.3 495.7L820.1 496.1L820.9 496.4L821.7 495.6L822.5 496.3L823.3 496.1L824.2 496.0L825.0 495.9L825.8 496.4L826.6 496.3L827.4 496.2L828.3 495.9L829.1 495.9L829.9 495.9L830.7 496.2L831.5 495.9L832.4 496.4L833.2 496.4L834.0 496.0L834.8 496.7L835.6 496.2L836.5 496.3L837.3 496.1L838.1 496.6L838.9 495.9L839.7 496.1L840.5 496.0L841.4 496.3L842.2 496.4L843.0 496.3L843.8 496.5L844.6 496.5L845.5 496.2L846.3 496.5L847.1 496.9L847.9 496.9L848.7 496.5L849.6 496.1L850.4 496.4L851.2 497.2L852.0 496.4L852.8 496.6L853.7 496.6L854.5 496.2L855.3 496.3L856.1 496.1L856.9 496.3L857.7 496.6L858.6 496.4L859.4 496.7L860.2 496.3L861.0 496.8L861.8 496.9L862.7 496.6L863.5 496.5L864.3 497.0L865.1 496.8L865.9 496.8L866.8 496.0L867.6 496.6L868.4 497.1L869.2 496.6L870.0 496.7L870.8 496.6L871.7 496.7L872.5 496.5L873.3 497.0L874.1 496.9L874.9 496.8L875.8 496.7L876.6 496.3L877.4 496.7L878.2 496.7L879.0 496.9L879.9 496.9L880.7 496.9L881.5 497.1L882.3 496.7L883.1 496.5L884.0 496.9L884.8 496.9L885.6 496.8L886.4 496.9L887.2 496.8L888.0 496.8L888.9 496.3L889.7 496.4L890.5 496.9L891.3 497.2L892.1 496.5L893.0 496.6L893.8 497.0L894.6 496.9L895.4 496.6L896.2 496.5L897.1 496.7L897.9 496.8L898.7 496.9L899.5 497.3L900.3 497.1L901.2 497.1L902.0 497.0L902.8 497.0L903.6 496.9L904.4 496.9L905.2 497.0L906.1 497.4L906.9 496.8L907.7 497.2L908.5 497.2L909.3 496.6L910.2 496.6L911.0 497.0L911.8 497.0"/>
<path stroke="#00ff00" d="M425.9 410.0L426.1 410.0L426.4 409.8L426.7 409.6L427.0 409.1L427.3 408.6L427.5 408.0L427.8 407.2L428.1 406.4L428.4 405.4L428.7 404.5L428.9 403.5L429.2 402.5L429.5 401.5L429.8 400.6L430.1 399.8L430.3 399.1L430.6 398.4L430.9 397.9L431.2 397.6L431.5 397.4L431.7 397.6L432.0 397.9L432.3 398.4L432.6 398.9L432.8 399.5L433.1 400.2L433.4 401.0L433.7 401.9L434.0 402.8L434.2 403.8L434.5 404.8L434.8 405.8L435.1 406.9L435.3 408.0L435.6 409.1L435.9 410.1L436.2 411.2L436.4 412.2L436.7 413.2L437.0 414.1L437.3 414.9L437.6 415.7L437.8 416.4L438.1 417.0L438.4 417.5L438.7 418.0L438.9 418.3L439.2 418.6L439.5 418.7L439.8 418.8L440.1 418.9L440.3 418.8L440.6 418.7L440.9 418.5L441.1 418.1L441.4 417.7L441.7 417.1L441.9 416.4L442.2 415.5L442.5 414.6L442.8 413.4L443.0 412.2L443.3 410.8L443.6 409.4L443.8 407.8L444.1 406.1L444.4 404.3L444.6 402.4L444.9 400.4L445.2 398.4L445.5 396.3L445.7 394.1L446.0 391.9L446.3 389.7L446.5 387.5L446.8 385.3L447.1 383.1L447.3 380.9L447.6 378.7L447.9 376.6L448.1 374.5L448.4 372.6L448.7 370.6L449.0 368.8L449.2 367.1L449.5 365.5L449.8 364.1L450.0 362.7L450.3 361.5L450.6 360.4L450.8 359.5L451.1 358.7L451.4 358.0L451.7 357.5L451.9 358.1L452.2 358.8L452.5 359.7L452.8 360.8L453.0 362.0L453.3 363.4L453.6 365.0L453.9 366.7L454.2 368.5L454.4 370.4L454.7 372.4L455.0 374.4L455.3 376.5L455.5 378.6L455.8 380.7L456.1 382.8L456.4 384.9L456.6 386.9L456.9 388.9L457.2 390.7L457.5 392.5L457.8 394.1L458.0 395.6L458.3 397.0L458.6 398.2L458.9 399.3L459.1 400.2L459.4 400.9L459.7 401.5L460.0 401.9L460.2 402.2L460.5 402.3L460.8 402.4L461.1 402.3L461.3 402.2L461.6 401.9L461.9 401.4L462.2 400.8L462.4 400.0L462.7 399.1L463.0 397.9L463.3 396.5L463.5 395.0L463.8 393.3L464.1 391.3L464.4 389.3L464.6 387.0L464.9 384.6L465.2 382.0L465.4 379.3L465.7 376.4L466.0 373.5L466.3 370.4L466.5 367.3L466.8 364.1L467.1 360.8L467.4 357.6L467.6 354.3L467.9 351.0L468.2 347.7L468.4 344.5L468.7 341.3L469.0 338.2L469.3 335.2L469.5 332.3L469.8 329.6L470.1 327.0L470.4 324.5L470.6 322.2L470.9 320.1L471.2 318.2L471.5 316.4L471.7 314.9L472.0 313.6L472.3 312.5L472.5 311.6L472.8 312.7L473.1 314.1L473.4 315.7L473.7 317.7L473.9 319.9L474.2 322.3L474.5 325.0L474.8 327.9L475.0 331.0L475.3 334.3L475.6 337.6L475.9 341.1L476.1 344.7L476.4 348.2L476.7 351.8L477.0 355.4L477.3 358.9L477.5 362.3L477.8 365.7L478.1 368.8L478.4 371.8L478.6 374.7L478.9 377.3L479.2 379.6L479.5 381.8L479.7 383.7L480.0 385.3L480.3 386.7L480.6 387.8L480.9 388.7L481.1 389.3L481.4 389.7L481.7 389.9L482.0 390.0L482.2 389.9L482.5 389.7L482.8 389.3L483.0 388.8L483.3 388.0L483.6 387.0L483.8 385.7L484.1 384.1L484.4 382.3L484.7 380.3L484.9 378.0L485.2 375.4L485.5 372.6L485.7 369.6L486.0 366.3L486.3 362.9L486.5 359.2L486.8 355.4L487.1 351.5L487.4 347.4L487.6 343.2L487.9 338.9L488.2 334.5L488.4 330.2L488.7 325.8L489.0 321.4L489.2 317.2L489.5 312.9L489.8 308.8L490.1 304.8L490.3 301.0L490.6 297.3L490.9 293.8L491.1 290.6L491.4 287.5L491.7 284.7L491.9 282.2L492.2 280.0L492.5 278.0L492.7 276.3L493.0 274.9L493.3 276.7L493.6 279.0L493.8 281.6L494.1 284.6L494.4 288.0L494.7 291.7L494.9 295.7L495.2 300.0L495.5 304.6L495.7 309.4L496.0 314.3L496.3 319.5L496.6 324.7L496.8 330.0L497.1 335.3L497.4 340.7L497.7 345.9L497.9 351.1L498.2 356.1L498.5 360.9L498.8 365.6L499.0 370.0L499.3 374.1L499.6 378.0L499.8 381.5L500.1 384.7L500.4 387.5L500.7 390.0L500.9 392.2L501.2 394.0L501.5 395.4L501.8 396.5L502.0 397.3L502.3 397.8L502.6 398.1L502.8 398.2L503.1 398.1L503.4 397.9L503.7 397.5L503.9 396.9L504.2 396.0L504.5 394.9L504.8 393.5L505.0 391.8L505.3 389.9L505.6 387.6L505.8 385.1L506.1 382.2L506.4 379.1L506.7 375.7L506.9 372.1L507.2 368.2L507.5 364.1L507.8 359.8L508.0 355.3L508.3 350.7L508.6 345.9L508.9 341.0L509.1 336.0L509.4 331.0L509.7 325.9L509.9 320.8L510.2 315.8L510.5 310.8L510.8 305.9L511.0 301.2L511.3 296.5L511.6 292.1L511.9 287.8L512.1 283.7L512.4 279.9L512.7 276.4L512.9 273.1L513.2 270.1L513.5 267.5L513.8 265.1L514.0 263.1L514.3 261.4L514.6 263.7L514.9 266.6L515.1 270.0L515.4 274.0L515.7 278.4L515.9 283.3L516.2 288.5L516.5 294.2L516.8 300.2L517.0 306.5L517.3 313.0L517.6 319.7L517.9 326.5L518.1 333.3L518.4 340.2L518.7 347.1L519.0 353.8L519.2 360.4L519.5 366.8L519.8 373.0L520.0 378.8L520.3 384.3L520.6 389.4L520.9 394.1L521.1 398.4L521.4 402.2L521.7 405.5L522.0 408.4L522.2 410.8L522.5 412.7L522.8 414.2L523.0 415.3L523.3 416.0L523.6 416.3L523.9 416.4L524.1 416.4L524.4 416.1L524.7 415.7L525.0 415.0L525.2 414.1L525.5 412.8L525.8 411.3L526.1 409.5L526.3 407.3L526.6 404.9L526.9 402.1L527.1 399.0L527.4 395.6L527.7 391.9L528.0 387.9L528.2 383.7L528.5 379.2L528.8 374.5L529.1 369.6L529.3 364.5L529.6 359.2L529.9 353.9L530.1 348.4L530.4 342.9L530.7 337.4L531.0 331.8L531.2 326.3L531.5 320.9L531.8 315.5L532.1 310.3L532.3 305.2L532.6 300.4L532.9 295.7L533.1 291.3L533.4 287.1L533.7 283.2L534.0 279.6L534.2 276.4L534.5 273.4L534.8 270.9L535.1 268.6L535.3 266.8L535.6 269.2L535.9 272.2L536.2 275.7L536.4 279.8L536.7 284.3L537.0 289.3L537.3 294.7L537.5 300.5L537.8 306.7L538.1 313.1L538.4 319.8L538.7 326.7L538.9 333.8L539.2 340.9L539.5 348.1L539.8 355.2L540.0 362.3L540.3 369.2L540.6 376.0L540.9 382.5L541.1 388.8L541.4 394.7L541.7 400.2L542.0 405.4L542.3 410.2L542.5 414.5L542.8 418.3L543.1 421.7L543.4 424.5L543.6 427.0L543.9 428.9L544.2 430.4L544.5 431.5L544.7 432.2L545.0 432.5L545.3 432.6L545.6 432.6L545.8 432.4L546.1 432.0L546.4 431.5L546.7 430.7L546.9 429.7L547.2 428.4L547.5 426.9L547.8 425.2L548.0 423.2L548.3 420.9L548.6 418.3L548.8 415.6L549.1 412.5L549.4 409.3L549.7 405.8L549.9 402.1L550.2 398.3L550.5 394.3L550.8 390.1L551.0 385.8L551.3 381.4L551.6 377.0L551.8 372.5L552.1 367.9L552.4 363.4L552.7 358.9L552.9 354.4L553.2 350.1L553.5 345.8L553.8 341.7L554.0 337.7L554.3 333.9L554.6 330.2L554.9 326.8L555.1 323.7L555.4 320.7L555.7 318.1L555.9 315.7L556.2 313.6L556.5 311.7L556.8 310.2L557.0 312.2L557.3 314.5L557.6 317.3L557.8 320.5L558.1 324.0L558.4 327.9L558.6 332.1L558.9 336.6L559.2 341.5L559.5 346.5L559.7 351.8L560.0 357.2L560.3 362.8L560.5 368.5L560.8 374.2L561.1 379.9L561.3 385.7L561.6 391.3L561.9 396.9L562.2 402.3L562.4 407.5L562.7 412.6L563.0 417.4L563.2 421.9L563.5 426.1L563.8 430.1L564.0 433.7L564.3 436.9L564.6 439.8L564.8 442.3L565.1 444.5L565.4 446.3L565.7 447.7L565.9 448.8L566.2 449.6L566.5 450.1L566.7 450.4L567.0 450.5L567.3 450.5L567.5 450.3L567.8 450.1L568.1 449.7L568.4 449.2L568.6 448.5L568.9 447.7L569.2 446.7L569.5 445.5L569.7 444.2L570.0 442.7L570.3 441.0L570.5 439.1L570.8 437.1L571.1 434.9L571.4 432.6L571.6 430.1L571.9 427.5L572.2 424.8L572.5 422.0L572.7 419.1L573.0 416.1L573.3 413.1L573.6 410.0L573.8 406.9L574.1 403.7L574.4 400.6L574.6 397.6L574.9 394.5L575.2 391.5L575.5 388.6L575.7 385.8L576.0 383.1L576.3 380.5L576.6 378.0L576.8 375.7L577.1 373.6L577.4 371.6L577.6 369.8L577.9 368.1L578.2 366.7L578.5 365.5L578.7 364.4L579.0 365.7L579.3 367.2L579.6 369.0L579.8 371.0L580.1 373.2L580.4 375.7L580.7 378.4L581.0 381.3L581.2 384.3L581.5 387.6L581.8 390.9L582.1 394.4L582.3 398.0L582.6 401.6L582.9 405.3L583.2 409.1L583.4 412.8L583.7 416.6L584.0 420.2L584.3 423.9L584.5 427.4L584.8 430.8L585.1 434.1L585.4 437.3L585.6 440.3L585.9 443.1L586.2 445.7L586.5 448.1L586.8 450.4L587.0 452.3L587.3 454.1L587.6 455.7L587.9 457.0L588.1 458.1L588.4 459.0L588.7 459.6L589.0 460.1L589.2 460.4L589.5 460.6L589.8 460.6L590.1 460.6L590.3 460.6L590.6 460.4L590.9 460.2L591.2 459.9L591.4 459.6L591.7 459.1L592.0 458.6L592.3 457.9L592.5 457.2L592.8 456.3L593.1 455.4L593.3 454.4L593.6 453.3L593.9 452.1L594.2 450.8L594.4 449.5L594.7 448.0L595.0 446.5L595.3 445.0L595.5 443.4L595.8 441.8L596.1 440.1L596.3 438.4L596.6 436.7L596.9 435.0L597.2 433.3L597.4 431.6L597.7 429.9L598.0 428.3L598.3 426.7L598.5 425.1L598.8 423.6L599.1 422.2L599.4 420.9L599.6 419.6L599.9 418.4L600.2 417.3L600.4 416.3L600.7 415.4L601.0 414.6L601.3 414.0L601.5 413.4L601.8 414.0L602.1 414.8L602.4 415.7L602.6 416.8L602.9 417.9L603.2 419.2L603.5 420.5L603.7 422.0L604.0 423.5L604.3 425.1L604.6 426.8L604.8 428.6L605.1 430.5L605.4 432.3L605.7 434.3L606.0 436.2L606.2 438.2L606.5 440.2L606.8 442.2L607.1 444.2L607.3 446.2L607.6 448.1L607.9 450.0L608.2 451.9L608.4 453.7L608.7 455.5L609.0 457.2L609.3 458.8L609.5 460.3L609.8 461.7L610.1 463.0L610.4 464.2L610.6 465.4L610.9 466.4L611.2 467.3L611.5 468.1L611.7 468.8L612.0 469.4L612.3 469.9L612.6 470.3L612.9 470.6L613.1 470.8L613.4 471.0L613.7 471.1L614.0 471.1L614.2 471.1L614.5 471.0L614.8 471.0L615.0 470.9L615.3 470.8L615.6 470.7L615.9 470.5L616.1 470.2L616.4 469.9L616.7 469.6L617.0 469.2L617.2 468.8L617.5 468.4L617.8 467.9L618.1 467.3L618.3 466.7L618.6 466.1L618.9 465.4L619.1 464.7L619.4 464.0L619.7 463.2L620.0 462.4L620.2 461.6L620.5 460.8L620.8 460.0L621.1 459.2L621.3 458.4L621.6 457.6L621.9 456.8L622.1 456.1L622.4 455.3L622.7 454.6L623.0 453.9L623.2 453.3L623.5 452.7L623.8 452.1L624.1 451.5L624.3 451.0L624.6 450.5L624.9 450.1L625.1 449.7L625.4 449.4L625.7 449.1L626.0 449.5L626.2 449.9L626.5 450.4L626.8 451.0L627.1 451.7L627.3 452.5L627.6 453.3L627.9 454.1L628.2 455.1L628.4 456.0L628.7 457.0L629.0 458.1L629.2 459.2L629.5 460.3L629.8 461.5L630.1 462.6L630.3 463.8L630.6 465.0L630.9 466.1L631.2 467.3L631.4 468.4L631.7 469.6L632.0 470.7L632.2 471.7L632.5 472.8L632.8 473.7L633.1 474.6L633.3 475.5L633.6 476.3L633.9 477.0L634.2 477.7L634.4 478.3L634.7 478.8L635.0 479.3L635.2 479.7L635.5 480.0L635.8 480.3L636.1 480.4L636.3 480.6L636.6 480.6L636.9 480.7L637.2 480.7L637.4 480.7L637.7 480.6L638.0 480.6L638.2 480.5L638.5 480.5L638.8 480.4L639.1 480.3L639.3 480.1L639.6 480.0L639.9 479.8L640.1 479.7L640.4 479.5L640.7 479.2L640.9 479.0L641.2 478.8L641.5 478.6L641.8 478.3L642.0 478.0L642.3 477.7L642.6 477.4L642.8 477.1L643.1 476.8L643.4 476.5L643.6 476.1L643.9 475.8L644.2 475.4L644.5 475.1L644.7 474.7L645.0 474.3L645.3 474.0L645.5 473.6L645.8 473.2L646.1 472.9L646.3 472.5L646.6 472.2L646.9 471.9L647.2 471.6L647.4 471.3L647.7 471.0L648.0 470.7L648.2 470.5L648.5 470.3L648.8 470.1L649.0 469.9L649.3 469.8L649.6 469.6L649.9 469.8L650.1 470.0L650.4 470.3L650.7 470.6L650.9 471.0L651.2 471.4L651.5 471.8L651.8 472.3L652.0 472.8L652.3 473.3L652.6 473.8L652.9 474.3L653.1 474.8L653.4 475.4L653.7 476.0L654.0 476.6L654.2 477.2L654.5 477.8L654.8 478.4L655.0 479.0L655.3 479.6L655.6 480.1L655.9 480.7L656.1 481.2L656.4 481.7L656.7 482.2L657.0 482.7L657.2 483.1L657.5 483.6L657.8 484.0L658.0 484.4L658.3 484.8L658.6 485.1L658.9 485.4L659.1 485.7L659.4 486.0L659.7 486.2L660.0 486.4L660.2 486.5L660.5 486.7L660.8 486.8L661.0 486.8L661.3 486.9L661.6 486.9L661.9 486.9L662.1 486.9L662.4 487.0L662.7 487.0L662.9 487.0L663.2 487.0L663.5 487.0L663.8 487.0L664.0 486.9L664.3 486.9L664.6 486.8L664.8 486.7L665.1 486.7L665.4 486.6L665.6 486.5L665.9 486.4L666.2 486.4L666.5 486.3L666.7 486.2L667.0 486.1L667.3 485.9L667.5 485.8L667.8 485.7L668.1 485.5L668.4 485.4L668.6 485.2L668.9 485.1L669.2 485.0L669.4 484.9L669.7 484.8L670.0 484.7L670.2 484.6L670.5 484.5L670.8 484.4L671.1 484.2L671.3 484.1L671.6 484.0L671.9 483.9L672.1 483.8L672.4 483.7L672.7 483.6L672.9 483.6L673.2 483.5L673.5 483.4L673.8 483.4L674.0 483.4L674.3 483.3L674.6 483.3L674.8 483.3L675.1 483.4L675.4 483.5L675.7 483.6L675.9 483.7L676.2 483.8L676.5 484.0L676.7 484.1L677.0 484.3L677.3 484.5L677.6 484.7L677.8 484.9L678.1 485.0L678.4 485.3L678.7 485.5L678.9 485.7L679.2 485.9L679.5 486.2L679.7 486.4L680.0 486.6L680.3 486.9L680.6 487.1L680.8 487.4L681.1 487.6L681.4 487.8L681.7 488.1L681.9 488.3L682.2 488.5L682.5 488.7L682.8 488.9L683.0 489.1L683.3 489.2L683.6 489.3L683.8 489.5L684.1 489.6L684.4 489.8L684.7 489.9L684.9 490.1L685.2 490.2L685.5 490.3L685.8 490.4L686.0 490.5L686.3 490.6L686.6 490.6L686.8 490.6L687.1 490.7L687.4 490.7L687.7 490.7L687.9 490.8L688.2 490.8L688.5 490.8L688.8 490.9L689.0 490.8L689.3 490.8L689.6 490.8L689.9 490.9L690.1 490.8L690.4 490.8L690.7 490.7L691.0 490.7L691.2 490.7L691.5 490.5L691.8 490.6L692.1 490.5L692.4 490.5L692.6 490.5L692.9 490.4L693.2 490.4L693.5 490.3L693.7 490.3L694.0 490.2L694.3 490.2L694.6 490.0L694.8 490.0L695.1 490.0L695.4 490.0L695.7 489.8L695.9 489.8L696.2 489.7L696.5 489.7L696.8 489.6L697.0 489.6L697.3 489.5L697.6 489.4L697.9 489.4L698.1 489.2L698.4 489.3L698.7 489.2L699.0 489.1L699.2 489.1L699.5 489.0L699.8 488.9L700.1 489.0L700.4 488.9L700.6 488.9L700.9 488.7L701.2 488.8L701.5 488.8L701.7 489.0L702.0 489.0L702.3 489.0L702.5 489.1L702.8 489.1L703.1 489.3L703.4 489.3L703.6 489.3L703.9 489.4L704.2 489.6L704.5 489.6L704.7 489.8L705.0 489.8L705.3 490.0L705.5 490.1L705.8 490.1L706.1 490.4L706.4 490.4L706.6 490.7L706.9 490.7L707.2 490.7L707.5 490.9L707.7 491.0L708.0 491.2L708.3 491.2L708.6 491.3L708.8 491.2L709.1 491.4L709.4 491.3L709.6 491.5L709.9 491.5L710.2 491.7L710.5 491.6L710.7 491.5L711.0 491.6L711.3 491.7L711.6 491.6L711.8 491.5L712.1 491.5L712.4 491.5L712.6 491.6L712.9 491.4L713.2 491.5L713.5 491.7L713.7 491.4L714.0 491.6L714.3 491.5L714.5 491.7L714.8 491.6L715.1 491.7L715.3 491.6L715.6 491.7L715.9 491.7L716.2 491.7L716.4 491.6L716.7 491.7L717.0 491.6L717.2 491.7L717.5 491.8L717.8 491.7L718.1 491.7L718.3 491.6L718.6 491.5L718.9 491.6L719.1 491.6L719.4 491.5L719.7 491.5L719.9 491.5L720.2 491.4L720.5 491.6L720.8 491.4L721.0 491.5L721.3 491.4L721.6 491.3L721.8 491.5L722.1 491.3L722.4 491.4L722.6 491.3L722.9 491.3L723.2 491.3L723.5 491.4L723.7 491.5L724.0 491.3L724.3 491.3L724.5 491.2L724.8 491.2L725.1 491.4L725.4 491.3L725.6 491.3L725.9 491.3L726.2 491.2L726.4 491.2L726.7 491.3L727.0 491.2L727.3 491.2L727.5 491.3L727.8 491.3L728.1 491.4L728.3 491.5L728.6 491.4L728.9 491.4L729.2 491.4L729.4 491.5L729.7 491.5L730.0 491.5L730.3 491.6L730.5 491.9L730.8 491.6"/>
<path stroke="#00ff00" stroke-width="3.25" d="M729.4 491.5L729.7 491.5L730.0 491.5L730.3 491.6L730.5 491.9L730.8 491.6L731.1 491.7L731.3 491.9L731.6 491.8L731.9 491.8L732.2 492.1L732.4 492.1L732.7 492.0L733.0 492.3L733.3 492.2L733.5 492.1L733.8 492.1L734.1 492.1L734.3 492.2L734.6 492.1L734.9 492.3L735.2 492.5L735.4 492.4L735.7 492.4L736.0 492.5L736.3 492.7L736.5 492.5L736.8 492.6L737.1 492.6L737.4 492.4L737.6 492.6L737.9 492.6L738.2 492.6L738.4 492.6L738.7 492.4L739.0 492.5L739.0 492.5L739.8 492.0L740.6 492.1L741.4 492.3L742.3 492.5L743.1 492.1L743.9 492.4L744.7 492.6L745.5 492.7L746.4 493.0L747.2 492.6L748.0 492.6L748.8 492.1L749.6 491.7L750.5 492.6L751.3 492.0L752.1 492.6L752.9 492.5L753.7 492.7L754.6 492.3L755.4 492.6L756.2 492.6L757.0 492.8L757.8 492.5"/>
<path stroke="#00ff00" stroke-width="3.6" d="M757.0 492.8L757.8 492.5L758.6 492.5L759.5 492.0L760.3 492.9L761.1 492.4L761.9 492.1L762.7 492.7L763.6 492.6L764.4 492.7L765.2 492.2L766.0 492.1L766.8 492.1L767.7 492.5L768.5 492.6L769.3 492.8L770.1 492.9L770.9 492.7L771.8 492.3L772.6 492.4L773.4 492.3L774.2 492.6L775.0 492.5L775.8 492.5L776.7 492.1L777.5 492.4L778.3 492.6L779.1 492.4L779.9 492.3L780.8 492.3L781.6 492.0L782.4 492.2L783.2 492.3L784.0 492.4L784.9 492.3L785.7 492.4L786.5 492.5L787.3 492.3L788.1 492.0L788.9 491.8L789.8 492.4L790.6 492.3L791.4 492.5L792.2 492.3L793.0 492.4L793.9 492.8L794.7 492.6L795.5 492.3L796.3 491.8L797.1 492.0L798.0 492.4L798.8 492.1L799.6 492.4L800.4 492.5L801.2 492.8L802.1 492.2L802.9 492.3L803.7 492.8L804.5 492.2L805.3 492.3L806.1 492.3L807.0 492.2L807.8 492.3L808.6 492.7L809.4 492.0L810.2 492.8L811.1 492.7L811.9 492.3L812.7 492.3L813.5 492.5L814.3 492.4L815.2 492.3L816.0 492.7L816.8 492.8L817.6 492.5L818.4 492.4L819.3 492.5L820.1 492.4L820.9 492.4L821.7 492.6L822.5 492.3L823.3 492.3L824.2 492.8L825.0 492.5L825.8 492.5L826.6 492.7L827.4 492.5L828.3 493.0L829.1 492.5L829.9 492.8L830.7 492.5L831.5 492.6L832.4 492.8L833.2 492.4L834.0 492.7L834.8 492.6L835.6 492.7L836.5 492.9L837.3 492.7L838.1 492.9L838.9 492.6L839.7 492.7L840.5 491.9L841.4 492.0L842.2 492.5L843.0 492.4L843.8 492.3L844.6 492.6L845.5 492.4L846.3 492.5L847.1 492.6L847.9 492.4L848.7 492.9L849.6 492.7L850.4 492.9L851.2 492.5L852.0 491.9L852.8 492.5L853.7 492.4L854.5 492.1L855.3 493.0L856.1 492.5L856.9 493.0L857.7 492.7L858.6 492.6L859.4 492.9L860.2 492.6L861.0 492.5L861.8 492.3L862.7 492.7L863.5 492.9L864.3 492.5L865.1 492.8L865.9 492.5L866.8 492.5L867.6 492.8L868.4 492.7L869.2 492.1L870.0 492.4L870.8 492.9L871.7 492.4L872.5 492.8L873.3 492.8L874.1 492.4L874.9 492.6L875.8 492.7L876.6 492.4L877.4 492.4L878.2 492.9L879.0 492.4L879.9 492.8L880.7 492.5L881.5 492.6L882.3 492.4L883.1 492.9L884.0 493.1L884.8 492.9L885.6 493.2L886.4 493.0L887.2 492.8L888.0 492.4L888.9 492.6L889.7 492.6L890.5 492.8L891.3 492.6L892.1 492.3L893.0 492.9L893.8 492.6L894.6 492.4L895.4 492.4L896.2 492.5L897.1 492.6L897.9 492.8L898.7 492.6L899.5 492.5L900.3 493.0L901.2 493.2L902.0 492.5L902.8 492.9L903.6 493.0L904.4 493.3L905.2 492.9L906.1 493.1L906.9 492.5L907.7 492.4L908.5 492.7L909.3 493.1L910.2 492.9L911.0 492.8L911.8 492.4"/>
<path stroke="#0000ff" d="M425.9 388.1L426.1 388.0L426.4 387.8L426.7 387.5L427.0 387.0L427.3 386.3L427.5 385.4L427.8 384.5L428.1 383.4L428.4 382.2L428.7 380.9L428.9 379.6L429.2 378.3L429.5 377.0L429.8 375.8L430.1 374.7L430.3 373.8L430.6 372.9L430.9 372.3L431.2 371.8L431.5 371.5L431.7 371.8L432.0 372.2L432.3 372.7L432.6 373.3L432.8 374.1L433.1 374.9L433.4 375.9L433.7 376.9L434.0 378.0L434.2 379.2L434.5 380.4L434.8 381.6L435.1 382.9L435.3 384.2L435.6 385.5L435.9 386.8L436.2 388.0L436.4 389.2L436.7 390.3L437.0 391.4L437.3 392.3L437.6 393.2L437.8 394.0L438.1 394.7L438.4 395.3L438.7 395.8L438.9 396.2L439.2 396.5L439.5 396.7L439.8 396.8L440.1 396.8L440.3 396.8L440.6 396.7L440.9 396.4L441.1 396.0L441.4 395.5L441.7 394.8L441.9 393.9L442.2 392.9L442.5 391.7L442.8 390.4L443.0 388.9L443.3 387.2L443.6 385.4L443.8 383.4L444.1 381.3L444.4 379.1L444.6 376.7L444.9 374.3L445.2 371.7L445.5 369.1L445.7 366.4L446.0 363.6L446.3 360.8L446.5 358.0L446.8 355.2L447.1 352.4L447.3 349.6L447.6 346.8L447.9 344.1L448.1 341.5L448.4 339.0L448.7 336.6L449.0 334.2L449.2 332.1L449.5 330.0L449.8 328.1L450.0 326.4L450.3 324.8L450.6 323.4L450.8 322.3L451.1 321.2L451.4 320.4L451.7 319.8L451.9 320.5L452.2 321.5L452.5 322.7L452.8 324.1L453.0 325.8L453.3 327.7L453.6 329.7L453.9 332.0L454.2 334.4L454.4 336.9L454.7 339.5L455.0 342.2L455.3 345.0L455.5 347.8L455.8 350.6L456.1 353.4L456.4 356.1L456.6 358.7L456.9 361.3L457.2 363.7L457.5 366.0L457.8 368.1L458.0 370.0L458.3 371.7L458.6 373.3L458.9 374.6L459.1 375.7L459.4 376.6L459.7 377.3L460.0 377.9L460.2 378.2L460.5 378.4L460.8 378.4L461.1 378.4L461.3 378.2L461.6 377.9L461.9 377.3L462.2 376.6L462.4 375.7L462.7 374.5L463.0 373.1L463.3 371.5L463.5 369.6L463.8 367.5L464.1 365.1L464.4 362.5L464.6 359.7L464.9 356.7L465.2 353.4L465.4 350.0L465.7 346.4L466.0 342.7L466.3 338.8L466.5 334.8L466.8 330.7L467.1 326.6L467.4 322.3L467.6 318.1L467.9 313.9L468.2 309.7L468.4 305.5L468.7 301.4L469.0 297.4L469.3 293.5L469.5 289.8L469.8 286.2L470.1 282.8L470.4 279.6L470.6 276.6L470.9 273.9L471.2 271.4L471.5 269.1L471.7 267.2L472.0 265.5L472.3 264.1L472.5 262.9L472.8 264.3L473.1 266.1L473.4 268.2L473.7 270.7L473.9 273.5L474.2 276.7L474.5 280.1L474.8 283.9L475.0 287.8L475.3 292.0L475.6 296.4L475.9 300.8L476.1 305.3L476.4 309.9L476.7 314.5L477.0 319.0L477.3 323.5L477.5 327.8L477.8 332.0L478.1 336.0L478.4 339.7L478.6 343.2L478.9 346.4L479.2 349.4L479.5 352.0L479.7 354.3L480.0 356.2L480.3 357.9L480.6 359.2L480.9 360.2L481.1 360.9L481.4 361.4L481.7 361.6L482.0 361.7L482.2 361.6L482.5 361.4L482.8 361.0L483.0 360.3L483.3 359.4L483.6 358.2L483.8 356.7L484.1 354.9L484.4 352.7L484.7 350.3L484.9 347.5L485.2 344.3L485.5 340.9L485.7 337.1L486.0 333.1L486.3 328.8L486.5 324.2L486.8 319.4L487.1 314.4L487.4 309.2L487.6 303.9L487.9 298.4L488.2 292.9L488.4 287.3L488.7 281.7L489.0 276.1L489.2 270.6L489.5 265.1L489.8 259.8L490.1 254.7L490.3 249.7L490.6 245.0L490.9 240.5L491.1 236.3L491.4 232.3L491.7 228.7L491.9 225.5L492.2 222.6L492.5 220.1L492.7 217.9L493.0 216.2L493.3 218.4L493.6 221.1L493.8 224.4L494.1 228.1L494.4 232.3L494.7 236.9L494.9 241.9L495.2 247.3L495.5 253.0L495.7 259.0L496.0 265.2L496.3 271.6L496.6 278.1L496.8 284.6L497.1 291.2L497.4 297.8L497.7 304.3L497.9 310.6L498.2 316.7L498.5 322.6L498.8 328.3L499.0 333.6L499.3 338.5L499.6 343.1L499.8 347.3L500.1 351.1L500.4 354.4L500.7 357.4L500.9 359.8L501.2 361.9L501.5 363.5L501.8 364.7L502.0 365.6L502.3 366.2L502.6 366.5L502.8 366.5L503.1 366.5L503.4 366.3L503.7 365.8L503.9 365.2L504.2 364.2L504.5 363.0L504.8 361.4L505.0 359.5L505.3 357.3L505.6 354.7L505.8 351.7L506.1 348.4L506.4 344.8L506.7 340.8L506.9 336.5L507.2 331.9L507.5 327.0L507.8 321.8L508.0 316.4L508.3 310.8L508.6 305.0L508.9 299.1L509.1 293.0L509.4 286.9L509.7 280.7L509.9 274.5L510.2 268.3L510.5 262.2L510.8 256.1L511.0 250.3L511.3 244.5L511.6 239.0L511.9 233.8L512.1 228.8L512.4 224.1L512.7 219.7L512.9 215.7L513.2 212.0L513.5 208.7L513.8 205.8L514.0 203.3L514.3 201.3L514.6 204.2L514.9 207.7L515.1 211.9L515.4 216.8L515.7 222.3L515.9 228.3L516.2 234.9L516.5 242.0L516.8 249.4L517.0 257.2L517.3 265.3L517.6 273.6L517.9 282.0L518.1 290.5L518.4 299.0L518.7 307.4L519.0 315.7L519.2 323.7L519.5 331.5L519.8 338.9L520.0 346.0L520.3 352.6L520.6 358.7L520.9 364.3L521.1 369.3L521.4 373.8L521.7 377.6L522.0 381.0L522.2 383.7L522.5 385.9L522.8 387.6L523.0 388.7L523.3 389.5L523.6 389.9L523.9 390.0L524.1 389.9L524.4 389.7L524.7 389.2L525.0 388.5L525.2 387.4L525.5 386.1L525.8 384.3L526.1 382.3L526.3 379.8L526.6 377.0L526.9 373.8L527.1 370.2L527.4 366.2L527.7 361.8L528.0 357.1L528.2 352.1L528.5 346.7L528.8 341.1L529.1 335.2L529.3 329.0L529.6 322.7L529.9 316.2L530.1 309.5L530.4 302.8L530.7 296.0L531.0 289.2L531.2 282.5L531.5 275.8L531.8 269.2L532.1 262.8L532.3 256.5L532.6 250.5L532.9 244.7L533.1 239.3L533.4 234.1L533.7 229.3L534.0 224.9L534.2 220.9L534.5 217.3L534.8 214.1L535.1 211.4L535.3 209.2L535.6 212.3L535.9 216.1L536.2 220.6L536.4 225.7L536.7 231.5L537.0 237.9L537.3 244.9L537.5 252.4L537.8 260.3L538.1 268.5L538.4 277.1L538.7 286.0L538.9 295.0L539.2 304.1L539.5 313.2L539.8 322.3L540.0 331.3L540.3 340.1L540.6 348.6L540.9 356.8L541.1 364.6L541.4 371.9L541.7 378.8L542.0 385.2L542.3 391.0L542.5 396.2L542.8 400.9L543.1 404.9L543.4 408.3L543.6 411.2L543.9 413.4L544.2 415.1L544.5 416.4L544.7 417.1L545.0 417.5L545.3 417.6L545.6 417.6L545.8 417.4L546.1 417.0L546.4 416.3L546.7 415.4L546.9 414.3L547.2 412.8L547.5 411.0L547.8 408.9L548.0 406.4L548.3 403.6L548.6 400.5L548.8 397.1L549.1 393.3L549.4 389.2L549.7 384.9L549.9 380.2L550.2 375.4L550.5 370.3L550.8 364.9L551.0 359.5L551.3 353.8L551.6 348.1L551.8 342.3L552.1 336.4L552.4 330.5L552.7 324.7L552.9 318.9L553.2 313.2L553.5 307.6L553.8 302.2L554.0 297.0L554.3 292.1L554.6 287.3L554.9 282.9L555.1 278.7L555.4 274.9L555.7 271.4L555.9 268.3L556.2 265.6L556.5 263.3L556.8 261.3L557.0 263.8L557.3 266.8L557.6 270.4L557.8 274.5L558.1 279.1L558.4 284.1L558.6 289.6L558.9 295.5L559.2 301.7L559.5 308.3L559.7 315.1L560.0 322.2L560.3 329.4L560.5 336.7L560.8 344.1L561.1 351.5L561.3 358.9L561.6 366.1L561.9 373.2L562.2 380.1L562.4 386.8L562.7 393.1L563.0 399.2L563.2 404.8L563.5 410.1L563.8 415.0L564.0 419.4L564.3 423.4L564.6 426.9L564.8 429.9L565.1 432.5L565.4 434.7L565.7 436.4L565.9 437.7L566.2 438.6L566.5 439.2L566.7 439.5L567.0 439.5L567.3 439.5L567.5 439.4L567.8 439.1L568.1 438.7L568.4 438.1L568.6 437.3L568.9 436.3L569.2 435.2L569.5 433.8L569.7 432.1L570.0 430.3L570.3 428.3L570.5 426.0L570.8 423.5L571.1 420.8L571.4 417.9L571.6 414.8L571.9 411.6L572.2 408.2L572.5 404.6L572.7 401.0L573.0 397.2L573.3 393.3L573.6 389.4L573.8 385.4L574.1 381.4L574.4 377.5L574.6 373.5L574.9 369.6L575.2 365.7L575.5 362.0L575.7 358.4L576.0 354.9L576.3 351.5L576.6 348.3L576.8 345.3L577.1 342.6L577.4 340.0L577.6 337.7L577.9 335.6L578.2 333.7L578.5 332.2L578.7 330.8L579.0 332.4L579.3 334.4L579.6 336.7L579.8 339.3L580.1 342.2L580.4 345.4L580.7 348.9L581.0 352.7L581.2 356.6L581.5 360.8L581.8 365.2L582.1 369.7L582.3 374.4L582.6 379.1L582.9 383.9L583.2 388.7L583.4 393.5L583.7 398.3L584.0 403.0L584.3 407.7L584.5 412.2L584.8 416.5L585.1 420.7L585.4 424.7L585.6 428.5L585.9 432.0L586.2 435.2L586.5 438.2L586.8 440.9L587.0 443.4L587.3 445.5L587.6 447.4L587.9 449.0L588.1 450.3L588.4 451.3L588.7 452.1L589.0 452.6L589.2 453.0L589.5 453.2L589.8 453.2L590.1 453.2L590.3 453.1L590.6 453.0L590.9 452.8L591.2 452.4L591.4 452.0L591.7 451.5L592.0 450.9L592.3 450.1L592.5 449.2L592.8 448.3L593.1 447.1L593.3 445.9L593.6 444.6L593.9 443.1L594.2 441.6L594.4 439.9L594.7 438.2L595.0 436.3L595.3 434.4L595.5 432.4L595.8 430.4L596.1 428.3L596.3 426.2L596.6 424.1L596.9 421.9L597.2 419.8L597.4 417.6L597.7 415.5L598.0 413.5L598.3 411.4L598.5 409.5L598.8 407.6L599.1 405.8L599.4 404.1L599.6 402.5L599.9 401.0L600.2 399.6L600.4 398.3L600.7 397.2L601.0 396.2L601.3 395.4L601.5 394.6L601.8 395.5L602.1 396.5L602.4 397.7L602.6 399.0L602.9 400.4L603.2 402.0L603.5 403.8L603.7 405.6L604.0 407.6L604.3 409.7L604.6 411.9L604.8 414.2L605.1 416.6L605.4 419.0L605.7 421.5L606.0 424.0L606.2 426.6L606.5 429.1L606.8 431.7L607.1 434.2L607.3 436.7L607.6 439.2L607.9 441.6L608.2 444.0L608.4 446.3L608.7 448.5L609.0 450.6L609.3 452.5L609.5 454.4L609.8 456.2L610.1 457.8L610.4 459.3L610.6 460.7L610.9 461.9L611.2 463.0L611.5 464.0L611.7 464.8L612.0 465.5L612.3 466.1L612.6 466.5L612.9 466.9L613.1 467.1L613.4 467.3L613.7 467.4L614.0 467.4L614.2 467.4L614.5 467.4L614.8 467.3L615.0 467.2L615.3 467.1L615.6 466.9L615.9 466.7L616.1 466.4L616.4 466.1L616.7 465.7L617.0 465.2L617.2 464.7L617.5 464.2L617.8 463.5L618.1 462.8L618.3 462.1L618.6 461.3L618.9 460.4L619.1 459.6L619.4 458.6L619.7 457.7L620.0 456.7L620.2 455.6L620.5 454.6L620.8 453.6L621.1 452.5L621.3 451.5L621.6 450.5L621.9 449.5L622.1 448.5L622.4 447.6L622.7 446.7L623.0 445.8L623.2 444.9L623.5 444.1L623.8 443.3L624.1 442.6L624.3 441.9L624.6 441.3L624.9 440.8L625.1 440.3L625.4 439.8L625.7 439.5L626.0 440.0L626.2 440.5L626.5 441.2L626.8 442.0L627.1 442.8L627.3 443.8L627.6 444.8L627.9 446.0L628.2 447.2L628.4 448.4L628.7 449.7L629.0 451.1L629.2 452.5L629.5 453.9L629.8 455.4L630.1 456.9L630.3 458.4L630.6 459.9L630.9 461.4L631.2 462.9L631.4 464.3L631.7 465.7L632.0 467.1L632.2 468.5L632.5 469.7L632.8 470.9L633.1 472.0L633.3 473.1L633.6 474.1L633.9 475.0L634.2 475.8L634.4 476.5L634.7 477.1L635.0 477.7L635.2 478.2L635.5 478.6L635.8 478.9L636.1 479.1L636.3 479.2L636.6 479.3L636.9 479.3L637.2 479.3L637.4 479.3L637.7 479.3L638.0 479.2L638.2 479.2L638.5 479.1L638.8 479.0L639.1 478.9L639.3 478.8L639.6 478.6L639.9 478.4L640.1 478.2L640.4 478.0L640.7 477.8L640.9 477.6L641.2 477.3L641.5 477.1L641.8 476.8L642.0 476.5L642.3 476.1L642.6 475.8L642.8 475.4L643.1 475.1L643.4 474.7L643.6 474.3L643.9 473.9L644.2 473.5L644.5 473.1L644.7 472.7L645.0 472.3L645.3 471.8L645.5 471.4L645.8 471.0L646.1 470.6L646.3 470.2L646.6 469.8L646.9 469.4L647.2 469.1L647.4 468.8L647.7 468.4L648.0 468.1L648.2 467.9L648.5 467.6L648.8 467.4L649.0 467.2L649.3 467.0L649.6 466.9L649.9 467.1L650.1 467.3L650.4 467.6L650.7 468.0L650.9 468.4L651.2 468.9L651.5 469.4L651.8 469.9L652.0 470.4L652.3 471.0L652.6 471.6L652.9 472.2L653.1 472.8L653.4 473.4L653.7 474.1L654.0 474.8L654.2 475.4L654.5 476.1L654.8 476.8L655.0 477.4L655.3 478.1L655.6 478.7L655.9 479.4L656.1 479.9L656.4 480.5L656.7 481.1L657.0 481.6L657.2 482.1L657.5 482.6L657.8 483.0L658.0 483.5L658.3 483.9L658.6 484.2L658.9 484.6L659.1 484.9L659.4 485.1L659.7 485.4L660.0 485.6L660.2 485.7L660.5 485.9L660.8 486.0L661.0 486.0L661.3 486.1L661.6 486.1L661.9 486.1L662.1 486.1L662.4 486.2L662.7 486.2L662.9 486.2L663.2 486.2L663.5 486.2L663.8 486.2L664.0 486.1L664.3 486.1L664.6 486.0L664.8 485.9L665.1 485.9L665.4 485.8L665.6 485.7L665.9 485.6L666.2 485.5L666.5 485.4L666.7 485.3L667.0 485.2L667.3 485.1L667.5 484.9L667.8 484.8L668.1 484.6L668.4 484.4L668.6 484.3L668.9 484.1L669.2 484.0L669.4 483.9L669.7 483.8L670.0 483.7L670.2 483.6L670.5 483.4L670.8 483.3L671.1 483.1L671.3 483.0L671.6 482.9L671.9 482.8L672.1 482.7L672.4 482.6L672.7 482.4L672.9 482.3L673.2 482.3L673.5 482.2L673.8 482.2L674.0 482.1L674.3 482.1L674.6 482.1L674.8 482.1L675.1 482.2L675.4 482.3L675.7 482.4L675.9 482.5L676.2 482.7L676.5 482.8L676.7 483.0L677.0 483.2L677.3 483.4L677.6 483.6L677.8 483.9L678.1 484.1L678.4 484.4L678.7 484.6L678.9 484.9L679.2 485.2L679.5 485.4L679.7 485.7L680.0 485.9L680.3 486.2L680.6 486.5L680.8 486.8L681.1 487.1L681.4 487.3L681.7 487.6L681.9 487.8L682.2 488.0L682.5 488.2L682.8 488.4L683.0 488.7L683.3 488.9L683.6 489.1L683.8 489.2L684.1 489.4L684.4 489.5L684.7 489.7L684.9 489.7L685.2 489.9L685.5 490.0L685.8 490.1L686.0 490.3L686.3 490.3L686.6 490.4L686.8 490.5L687.1 490.5L687.4 490.5L687.7 490.5L687.9 490.5L688.2 490.5L688.5 490.6L688.8 490.6L689.0 490.7L689.3 490.7L689.6 490.6L689.9 490.6L690.1 490.6L690.4 490.6L690.7 490.5L691.0 490.5L691.2 490.5L691.5 490.4L691.8 490.4L692.1 490.2L692.4 490.3L692.6 490.2L692.9 490.1L693.2 490.1L693.5 490.0L693.7 490.0L694.0 489.9L694.3 489.8L694.6 489.8L694.8 489.7L695.1 489.6L695.4 489.5L695.7 489.4L695.9 489.4L696.2 489.4L696.5 489.3L696.8 489.2L697.0 489.0L697.3 488.9L697.6 488.9L697.9 488.9L698.1 488.7L698.4 488.7L698.7 488.8L699.0 488.6L699.2 488.4L699.5 488.5L699.8 488.5L700.1 488.4L700.4 488.2L700.6 488.3L700.9 488.2L701.2 488.1L701.5 488.2L701.7 488.3L702.0 488.4L702.3 488.5L702.5 488.5L702.8 488.7L703.1 488.7L703.4 488.8L703.6 488.9L703.9 489.1L704.2 489.3L704.5 489.4L704.7 489.5L705.0 489.7L705.3 489.9L705.5 490.1L705.8 490.2L706.1 490.5L706.4 490.6L706.6 490.6L706.9 490.8L707.2 491.0L707.5 491.3L707.7 491.4L708.0 491.5L708.3 491.6L708.6 491.6L708.8 491.8L709.1 491.8L709.4 491.9L709.6 492.0L709.9 492.0L710.2 492.1L710.5 492.1L710.7 492.2L711.0 492.1L711.3 492.2L711.6 492.2L711.8 492.1L712.1 492.2L712.4 492.1L712.6 492.0L712.9 492.0L713.2 492.1L713.5 492.0L713.7 492.1L714.0 492.1L714.3 492.1L714.5 492.1L714.8 492.2L715.1 492.2L715.3 492.1L715.6 492.2L715.9 492.3L716.2 492.2L716.4 492.4L716.7 492.2L717.0 492.2L717.2 492.3L717.5 492.3L717.8 492.3L718.1 492.2L718.3 492.3L718.6 492.2L718.9 492.2L719.1 492.1L719.4 492.1L719.7 492.1L719.9 492.1L720.2 492.0L720.5 492.1L720.8 492.0L721.0 492.0L721.3 491.9L721.6 492.0L721.8 491.9L722.1 491.8L722.4 491.8L722.6 491.8L722.9 492.0L723.2 491.9L723.5 491.9L723.7 491.9L724.0 491.9L724.3 491.9L724.5 491.9L724.8 492.0L725.1 491.8L725.4 491.9L725.6 491.9L725.9 491.7L726.2 491.8L726.4 491.9L726.7 491.8L727.0 491.8L727.3 491.8L727.5 491.9L727.8 491.9L728.1 492.0L728.3 491.9L728.6 492.1L728.9 492.2L729.2 492.3L729.4 492.2L729.7 492.2L730.0 492.5L730.3 492.4L730.5 492.5L730.8 492.5"/>
<path stroke="#0000ff" stroke-width="3.45" d="M729.4 492.2L729.7 492.2L730.0 492.5L730.3 492.4L730.5 492.5L730.8 492.5L731.1 492.7L731.3 492.8L731.6 492.8L731.9 492.9L732.2 493.0L732.4 493.0L732.7 493.1L733.0 493.0L733.3 493.3L733.5 493.3L733.8 493.3L734.1 493.3L734.3 493.5L734.6 493.6L734.9 493.5L735.2 493.5L735.4 493.6L735.7 493.6L736.0 493.8L736.3 493.6L736.5 493.7L736.8 493.6L737.1 493.8L737.4 494.0L737.6 493.8L737.9 493.8L738.2 493.8L738.4 493.8L738.7 493.9L739.0 494.0L739.0 493.6L739.8 494.1L740.6 493.9L741.4 493.7L742.3 494.1L743.1 494.4L743.9 494.3L744.7 493.7L745.5 493.6L746.4 493.9L747.2 493.9L748.0 493.7L748.8 494.4L749.6 494.4L750.5 494.6L751.3 494.2L752.1 494.2L752.9 494.1L753.7 494.6L754.6 494.2L755.4 494.3L756.2 494.4L757.0 494.3L757.8 494.2"/>
<path stroke="#0000ff" stroke-width="4.0" d="M757.0 494.3L757.8 494.2L758.6 494.9L759.5 494.3L760.3 494.4L761.1 494.4L761.9 494.0L762.7 494.7L763.6 494.4L764.4 494.5L765.2 494.5L766.0 494.3L766.8 494.4L767.7 494.6L768.5 494.4L769.3 494.4L770.1 494.5L770.9 494.7L771.8 494.3L772.6 494.6L773.4 494.7L774.2 494.7L775.0 494.7L775.8 494.1L776.7 494.4L777.5 494.6L778.3 494.7L779.1 494.6L779.9 494.6L780.8 494.4L781.6 495.0L782.4 494.7L783.2 494.8L784.0 494.6L784.9 495.0L785.7 494.9L786.5 495.2L787.3 494.3L788.1 494.9L788.9 494.9L789.8 494.2L790.6 495.1L791.4 495.4L792.2 494.5L793.0 494.5L793.9 494.6L794.7 494.7L795.5 494.6L796.3 495.3L797.1 495.6L798.0 495.2L798.8 494.7L799.6 495.0L800.4 495.2L801.2 495.0L802.1 494.9L802.9 495.1L803.7 495.1L804.5 495.0L805.3 495.2L806.1 495.4L807.0 495.5L807.8 495.3L808.6 495.3L809.4 495.1L810.2 495.1L811.1 495.3L811.9 495.3L812.7 495.1L813.5 495.3L814.3 495.1L815.2 495.5L816.0 495.3L816.8 495.4L817.6 495.6L818.4 495.8L819.3 495.4L820.1 495.2L820.9 495.2L821.7 495.4L822.5 495.5L823.3 495.8L824.2 495.5L825.0 495.7L825.8 495.7L826.6 495.8L827.4 495.6L828.3 495.6L829.1 495.9L829.9 495.5L830.7 495.6L831.5 495.3L832.4 495.4L833.2 495.6L834.0 495.3L834.8 495.8L835.6 496.2L836.5 495.7L837.3 495.8L838.1 496.0L838.9 496.1L839.7 495.4L840.5 496.0L841.4 495.9L842.2 495.9L843.0 495.7L843.8 495.7L844.6 495.5L845.5 496.2L846.3 495.9L847.1 496.0L847.9 495.8L848.7 496.0L849.6 495.9L850.4 495.5L851.2 496.0L852.0 496.0L852.8 495.6L853.7 495.6L854.5 496.4L855.3 496.1L856.1 496.4L856.9 495.9L857.7 496.2L858.6 496.2L859.4 495.8L860.2 495.7L861.0 495.9L861.8 496.4L862.7 496.2L863.5 496.4L864.3 495.5L865.1 496.1L865.9 496.4L866.8 496.0L867.6 495.5L868.4 496.2L869.2 496.4L870.0 496.1L870.8 496.0L871.7 495.9L872.5 495.6L873.3 496.5L874.1 496.0L874.9 496.3L875.8 496.6L876.6 496.2L877.4 496.0L878.2 496.1L879.0 496.3L879.9 496.0L880.7 496.2L881.5 496.1L882.3 496.2L883.1 496.2L884.0 496.5L884.8 496.2L885.6 496.2L886.4 496.0L887.2 496.2L888.0 496.6L888.9 496.1L889.7 496.2L890.5 496.2L891.3 496.6L892.1 496.5L893.0 496.5L893.8 496.6L894.6 496.4L895.4 496.8L896.2 496.8L897.1 496.3L897.9 496.8L898.7 496.0L899.5 496.5L900.3 496.7L901.2 496.3L902.0 496.8L902.8 496.3L903.6 496.8L904.4 496.3L905.2 496.7L906.1 496.8L906.9 496.2L907.7 496.3L908.5 496.7L909.3 496.7L910.2 496.9L911.0 496.7L911.8 496.5"/>
<path stroke="#00ffff" d="M425.9 347.4L426.1 347.3L426.4 347.0L426.7 346.5L427.0 345.7L427.3 344.6L427.5 343.4L427.8 341.8L428.1 340.2L428.4 338.3L428.7 336.4L428.9 334.4L429.2 332.4L429.5 330.5L429.8 328.6L430.1 326.9L430.3 325.4L430.6 324.2L430.9 323.2L431.2 322.4L431.5 322.0L431.7 322.4L432.0 323.0L432.3 323.8L432.6 324.7L432.8 325.8L433.1 327.1L433.4 328.5L433.7 330.0L434.0 331.7L434.2 333.4L434.5 335.2L434.8 337.1L435.1 339.0L435.3 340.9L435.6 342.8L435.9 344.7L436.2 346.5L436.4 348.3L436.7 350.0L437.0 351.6L437.3 353.0L437.6 354.4L437.8 355.6L438.1 356.6L438.4 357.5L438.7 358.3L438.9 358.8L439.2 359.3L439.5 359.5L439.8 359.7L440.1 359.7L440.3 359.7L440.6 359.5L440.9 359.1L441.1 358.5L441.4 357.7L441.7 356.6L441.9 355.3L442.2 353.8L442.5 352.0L442.8 349.9L443.0 347.6L443.3 345.1L443.6 342.3L443.8 339.3L444.1 336.1L444.4 332.7L444.6 329.1L444.9 325.4L445.2 321.5L445.5 317.5L445.7 313.3L446.0 309.1L446.3 304.9L446.5 300.6L446.8 296.3L447.1 292.0L447.3 287.7L447.6 283.6L447.9 279.5L448.1 275.5L448.4 271.6L448.7 267.9L449.0 264.4L449.2 261.1L449.5 258.0L449.8 255.1L450.0 252.4L450.3 250.1L450.6 248.0L450.8 246.1L451.1 244.6L451.4 243.4L451.7 242.4L451.9 243.5L452.2 244.9L452.5 246.6L452.8 248.7L453.0 251.2L453.3 253.9L453.6 256.9L453.9 260.2L454.2 263.7L454.4 267.4L454.7 271.2L455.0 275.2L455.3 279.3L455.5 283.3L455.8 287.4L456.1 291.5L456.4 295.5L456.6 299.3L456.9 303.0L457.2 306.6L457.5 309.9L457.8 313.0L458.0 315.8L458.3 318.3L458.6 320.6L458.9 322.5L459.1 324.2L459.4 325.5L459.7 326.6L460.0 327.3L460.2 327.8L460.5 328.0L460.8 328.1L461.1 328.0L461.3 327.8L461.6 327.3L461.9 326.6L462.2 325.5L462.4 324.2L462.7 322.5L463.0 320.4L463.3 318.0L463.5 315.3L463.8 312.2L464.1 308.8L464.4 305.0L464.6 300.9L464.9 296.5L465.2 291.8L465.4 286.8L465.7 281.6L466.0 276.2L466.3 270.5L466.5 264.7L466.8 258.8L467.1 252.7L467.4 246.6L467.6 240.5L467.9 234.3L468.2 228.2L468.4 222.2L468.7 216.2L469.0 210.4L469.3 204.8L469.5 199.3L469.8 194.1L470.1 189.2L470.4 184.5L470.6 180.2L470.9 176.2L471.2 172.6L471.5 169.3L471.7 166.5L472.0 164.0L472.3 162.0L472.5 160.3L472.8 162.3L473.1 164.9L473.4 168.0L473.7 171.6L473.9 175.8L474.2 180.4L474.5 185.5L474.8 190.9L475.0 196.7L475.3 202.8L475.6 209.2L475.9 215.7L476.1 222.3L476.4 229.0L476.7 235.7L477.0 242.3L477.3 248.8L477.5 255.2L477.8 261.3L478.1 267.1L478.4 272.6L478.6 277.7L478.9 282.4L479.2 286.7L479.5 290.5L479.7 293.8L480.0 296.7L480.3 299.1L480.6 301.0L480.9 302.5L481.1 303.6L481.4 304.2L481.7 304.6L482.0 304.7L482.2 304.6L482.5 304.3L482.8 303.7L483.0 302.7L483.3 301.4L483.6 299.6L483.8 297.5L484.1 294.8L484.4 291.7L484.7 288.1L484.9 284.0L485.2 279.4L485.5 274.4L485.7 268.9L486.0 263.1L486.3 256.8L486.5 250.1L486.8 243.1L487.1 235.8L487.4 228.3L487.6 220.5L487.9 212.6L488.2 204.5L488.4 196.4L488.7 188.2L489.0 180.1L489.2 172.0L489.5 164.1L489.8 156.4L490.1 148.9L490.3 141.7L490.6 134.7L490.9 128.2L491.1 122.1L491.4 116.3L491.7 111.1L491.9 106.4L492.2 102.1L492.5 98.5L492.7 95.4L493.0 92.8L493.3 96.0L493.6 99.9L493.8 104.5L494.1 109.8L494.4 115.8L494.7 122.4L494.9 129.5L495.2 137.2L495.5 145.3L495.7 153.8L496.0 162.6L496.3 171.7L496.6 180.9L496.8 190.3L497.1 199.7L497.4 209.0L497.7 218.2L497.9 227.2L498.2 236.0L498.5 244.4L498.8 252.4L499.0 260.0L499.3 267.1L499.6 273.6L499.8 279.6L500.1 284.9L500.4 289.7L500.7 293.8L500.9 297.4L501.2 300.3L501.5 302.6L501.8 304.4L502.0 305.6L502.3 306.4L502.6 306.8L502.8 306.9L503.1 306.8L503.4 306.6L503.7 306.0L503.9 305.1L504.2 303.8L504.5 302.1L504.8 299.9L505.0 297.4L505.3 294.3L505.6 290.8L505.8 286.8L506.1 282.3L506.4 277.3L506.7 271.9L506.9 266.0L507.2 259.8L507.5 253.1L507.8 246.1L508.0 238.7L508.3 231.1L508.6 223.2L508.9 215.1L509.1 206.8L509.4 198.4L509.7 190.0L509.9 181.5L510.2 173.1L510.5 164.8L510.8 156.6L511.0 148.6L511.3 140.8L511.6 133.3L511.9 126.1L512.1 119.3L512.4 112.9L512.7 106.9L512.9 101.5L513.2 96.5L513.5 92.0L513.8 88.0L514.0 84.7L514.3 81.9L514.6 85.9L514.9 90.8L515.1 96.7L515.4 103.5L515.7 111.2L515.9 119.6L516.2 128.7L516.5 138.5L516.8 148.9L517.0 159.7L517.3 171.0L517.6 182.5L517.9 194.3L518.1 206.1L518.4 218.0L518.7 229.7L519.0 241.2L519.2 252.4L519.5 263.2L519.8 273.6L520.0 283.4L520.3 292.6L520.6 301.1L520.9 308.8L521.1 315.9L521.4 322.1L521.7 327.5L522.0 332.1L522.2 335.9L522.5 339.0L522.8 341.3L523.0 342.9L523.3 344.0L523.6 344.5L523.9 344.6L524.1 344.6L524.4 344.2L524.7 343.6L525.0 342.5L525.2 341.1L525.5 339.2L525.8 336.8L526.1 333.9L526.3 330.5L526.6 326.5L526.9 322.0L527.1 317.0L527.4 311.4L527.7 305.3L528.0 298.8L528.2 291.7L528.5 284.3L528.8 276.4L529.1 268.1L529.3 259.6L529.6 250.7L529.9 241.6L530.1 232.3L530.4 222.9L530.7 213.5L531.0 204.0L531.2 194.5L531.5 185.2L531.8 176.0L532.1 167.0L532.3 158.3L532.6 149.9L532.9 141.8L533.1 134.2L533.4 127.0L533.7 120.3L534.0 114.2L534.2 108.6L534.5 103.6L534.8 99.1L535.1 95.3L535.3 92.2L535.6 96.5L535.9 101.9L536.2 108.2L536.4 115.4L536.7 123.5L537.0 132.5L537.3 142.3L537.5 152.7L537.8 163.8L538.1 175.4L538.4 187.5L538.7 199.9L538.9 212.5L539.2 225.3L539.5 238.1L539.8 250.8L540.0 263.4L540.3 275.7L540.6 287.6L540.9 299.1L541.1 310.1L541.4 320.4L541.7 330.1L542.0 339.0L542.3 347.1L542.5 354.5L542.8 361.0L543.1 366.6L543.4 371.4L543.6 375.4L543.9 378.6L544.2 381.0L544.5 382.7L544.7 383.8L545.0 384.3L545.3 384.5L545.6 384.4L545.8 384.1L546.1 383.5L546.4 382.6L546.7 381.4L546.9 379.7L547.2 377.6L547.5 375.0L547.8 372.0L548.0 368.5L548.3 364.6L548.6 360.1L548.8 355.2L549.1 349.9L549.4 344.1L549.7 337.9L549.9 331.3L550.2 324.4L550.5 317.1L550.8 309.5L551.0 301.7L551.3 293.7L551.6 285.6L551.8 277.3L552.1 269.0L552.4 260.6L552.7 252.3L552.9 244.1L553.2 236.0L553.5 228.1L553.8 220.4L554.0 213.0L554.3 205.9L554.6 199.2L554.9 192.8L555.1 186.9L555.4 181.5L555.7 176.6L555.9 172.2L556.2 168.3L556.5 164.9L556.8 162.2L557.0 165.7L557.3 170.0L557.6 175.1L557.8 180.9L558.1 187.5L558.4 194.7L558.6 202.5L558.9 210.9L559.2 219.8L559.5 229.1L559.7 238.8L560.0 248.9L560.3 259.2L560.5 269.6L560.8 280.1L561.1 290.7L561.3 301.2L561.6 311.5L561.9 321.6L562.2 331.4L562.4 340.9L562.7 350.0L563.0 358.6L563.2 366.7L563.5 374.2L563.8 381.1L564.0 387.4L564.3 393.1L564.6 398.1L564.8 402.4L565.1 406.1L565.4 409.2L565.7 411.6L565.9 413.4L566.2 414.8L566.5 415.6L566.7 416.0L567.0 416.1L567.3 416.1L567.5 415.9L567.8 415.5L568.1 414.9L568.4 414.0L568.6 412.9L568.9 411.4L569.2 409.7L569.5 407.6L569.7 405.3L570.0 402.6L570.3 399.5L570.5 396.2L570.8 392.5L571.1 388.6L571.4 384.3L571.6 379.8L571.9 375.1L572.2 370.1L572.5 364.8L572.7 359.4L573.0 353.9L573.3 348.2L573.6 342.5L573.8 336.6L574.1 330.8L574.4 324.9L574.6 319.1L574.9 313.4L575.2 307.7L575.5 302.2L575.7 296.9L576.0 291.7L576.3 286.8L576.6 282.1L576.8 277.8L577.1 273.7L577.4 269.9L577.6 266.5L577.9 263.4L578.2 260.7L578.5 258.4L578.7 256.4L579.0 258.8L579.3 261.7L579.6 265.1L579.8 268.9L580.1 273.2L580.4 277.9L580.7 283.1L581.0 288.6L581.2 294.4L581.5 300.6L581.8 307.0L582.1 313.7L582.3 320.5L582.6 327.5L582.9 334.6L583.2 341.7L583.4 348.8L583.7 355.8L584.0 362.8L584.3 369.6L584.5 376.2L584.8 382.6L585.1 388.8L585.4 394.7L585.6 400.2L585.9 405.4L586.2 410.2L586.5 414.6L586.8 418.6L587.0 422.2L587.3 425.3L587.6 428.1L587.9 430.4L588.1 432.3L588.4 433.8L588.7 435.0L589.0 435.8L589.2 436.3L589.5 436.6L589.8 436.7L590.1 436.6L590.3 436.5L590.6 436.3L590.9 436.0L591.2 435.5L591.4 434.8L591.7 434.0L592.0 433.0L592.3 431.8L592.5 430.4L592.8 428.9L593.1 427.1L593.3 425.2L593.6 423.1L593.9 420.8L594.2 418.4L594.4 415.8L594.7 413.0L595.0 410.1L595.3 407.1L595.5 404.0L595.8 400.8L596.1 397.5L596.3 394.2L596.6 390.9L596.9 387.5L597.2 384.1L597.4 380.8L597.7 377.5L598.0 374.2L598.3 371.0L598.5 367.9L598.8 365.0L599.1 362.1L599.4 359.5L599.6 356.9L599.9 354.6L600.2 352.4L600.4 350.4L600.7 348.7L601.0 347.1L601.3 345.8L601.5 344.6L601.8 345.9L602.1 347.5L602.4 349.2L602.6 351.2L602.9 353.5L603.2 355.9L603.5 358.6L603.7 361.5L604.0 364.5L604.3 367.7L604.6 371.1L604.8 374.6L605.1 378.2L605.4 381.9L605.7 385.7L606.0 389.5L606.2 393.4L606.5 397.3L606.8 401.2L607.1 405.1L607.3 408.9L607.6 412.7L607.9 416.4L608.2 420.0L608.4 423.5L608.7 426.8L609.0 430.0L609.3 433.1L609.5 436.0L609.8 438.6L610.1 441.1L610.4 443.4L610.6 445.5L610.9 447.4L611.2 449.1L611.5 450.6L611.7 451.9L612.0 452.9L612.3 453.8L612.6 454.5L612.9 455.1L613.1 455.4L613.4 455.7L613.7 455.8L614.0 455.9L614.2 455.8L614.5 455.8L614.8 455.7L615.0 455.6L615.3 455.3L615.6 455.0L615.9 454.7L616.1 454.2L616.4 453.7L616.7 453.0L617.0 452.3L617.2 451.5L617.5 450.5L617.8 449.5L618.1 448.4L618.3 447.3L618.6 446.0L618.9 444.6L619.1 443.2L619.4 441.8L619.7 440.3L620.0 438.7L620.2 437.1L620.5 435.4L620.8 433.8L621.1 432.1L621.3 430.5L621.6 428.9L621.9 427.3L622.1 425.8L622.4 424.3L622.7 422.8L623.0 421.4L623.2 420.0L623.5 418.7L623.8 417.5L624.1 416.3L624.3 415.3L624.6 414.3L624.9 413.4L625.1 412.7L625.4 412.0L625.7 411.4L626.0 412.2L626.2 413.1L626.5 414.2L626.8 415.4L627.1 416.7L627.3 418.2L627.6 419.8L627.9 421.6L628.2 423.4L628.4 425.4L628.7 427.4L629.0 429.6L629.2 431.7L629.5 434.0L629.8 436.3L630.1 438.6L630.3 440.9L630.6 443.2L630.9 445.5L631.2 447.8L631.4 450.1L631.7 452.3L632.0 454.4L632.2 456.4L632.5 458.4L632.8 460.2L633.1 462.0L633.3 463.6L633.6 465.1L633.9 466.5L634.2 467.7L634.4 468.8L634.7 469.8L635.0 470.7L635.2 471.4L635.5 472.0L635.8 472.5L636.1 472.8L636.3 473.0L636.6 473.2L636.9 473.2L637.2 473.2L637.4 473.2L637.7 473.2L638.0 473.1L638.2 473.0L638.5 472.9L638.8 472.7L639.1 472.5L639.3 472.3L639.6 472.1L639.9 471.8L640.1 471.4L640.4 471.0L640.7 470.6L640.9 470.2L641.2 469.7L641.5 469.2L641.8 468.6L642.0 468.1L642.3 467.5L642.6 466.8L642.8 466.2L643.1 465.5L643.4 464.8L643.6 464.0L643.9 463.3L644.2 462.5L644.5 461.8L644.7 461.0L645.0 460.2L645.3 459.4L645.5 458.7L645.8 457.9L646.1 457.2L646.3 456.4L646.6 455.7L646.9 455.1L647.2 454.4L647.4 453.8L647.7 453.2L648.0 452.7L648.2 452.2L648.5 451.7L648.8 451.3L649.0 451.0L649.3 450.7L649.6 450.4L649.9 450.7L650.1 451.2L650.4 451.7L650.7 452.3L650.9 452.9L651.2 453.6L651.5 454.4L651.8 455.3L652.0 456.2L652.3 457.1L652.6 458.0L652.9 459.0L653.1 460.1L653.4 461.1L653.7 462.2L654.0 463.3L654.2 464.4L654.5 465.5L654.8 466.6L655.0 467.7L655.3 468.8L655.6 469.8L655.9 470.9L656.1 471.9L656.4 472.8L656.7 473.7L657.0 474.6L657.2 475.5L657.5 476.3L657.8 477.0L658.0 477.7L658.3 478.4L658.6 479.0L658.9 479.5L659.1 480.0L659.4 480.5L659.7 480.8L660.0 481.2L660.2 481.4L660.5 481.7L660.8 481.8L661.0 481.9L661.3 482.0L661.6 482.0L661.9 482.1L662.1 482.1L662.4 482.1L662.7 482.1L662.9 482.1L663.2 482.1L663.5 482.1L663.8 482.0L664.0 481.9L664.3 481.8L664.6 481.7L664.8 481.6L665.1 481.5L665.4 481.4L665.6 481.2L665.9 481.1L666.2 480.9L666.5 480.7L666.7 480.5L667.0 480.3L667.3 480.0L667.5 479.8L667.8 479.5L668.1 479.3L668.4 479.0L668.6 478.8L668.9 478.5L669.2 478.2L669.4 478.0L669.7 477.8L670.0 477.5L670.2 477.3L670.5 477.0L670.8 476.8L671.1 476.5L671.3 476.3L671.6 476.1L671.9 475.8L672.1 475.6L672.4 475.4L672.7 475.3L672.9 475.1L673.2 474.9L673.5 474.8L673.8 474.6L674.0 474.6L674.3 474.5L674.6 474.4L674.8 474.3L675.1 474.5L675.4 474.6L675.7 474.8L675.9 475.0L676.2 475.3L676.5 475.5L676.7 475.8L677.0 476.1L677.3 476.4L677.6 476.7L677.8 477.1L678.1 477.5L678.4 477.9L678.7 478.3L678.9 478.6L679.2 479.0L679.5 479.4L679.7 479.9L680.0 480.2L680.3 480.7L680.6 481.1L680.8 481.5L681.1 481.9L681.4 482.3L681.7 482.7L681.9 483.1L682.2 483.5L682.5 483.7L682.8 484.1L683.0 484.4L683.3 484.7L683.6 485.0L683.8 485.3L684.1 485.6L684.4 485.7L684.7 485.9L684.9 486.1L685.2 486.2L685.5 486.4L685.8 486.6L686.0 486.8L686.3 486.9L686.6 487.0L686.8 487.1L687.1 487.1L687.4 487.1L687.7 487.2L687.9 487.1L688.2 487.1L688.5 487.2L688.8 487.2L689.0 487.2L689.3 487.3L689.6 487.2L689.9 487.3L690.1 487.1L690.4 487.1L690.7 487.1L691.0 487.0L691.2 487.0L691.5 487.0L691.8 486.8L692.1 486.8L692.4 486.7L692.6 486.8L692.9 486.6L693.2 486.5L693.5 486.5L693.7 486.5L694.0 486.3L694.3 486.3L694.6 486.2L694.8 486.1L695.1 486.1L695.4 485.9L695.7 485.8L695.9 485.6L696.2 485.6L696.5 485.4L696.8 485.5L697.0 485.4L697.3 485.2L697.6 485.3L697.9 485.1L698.1 485.0L698.4 485.0L698.7 484.9L699.0 484.7L699.2 484.7L699.5 484.6L699.8 484.5L700.1 484.4L700.4 484.6L700.6 484.5L700.9 484.4L701.2 484.3L701.5 484.3L701.7 484.4L702.0 484.6L702.3 484.5L702.5 484.8L702.8 484.9L703.1 485.1L703.4 485.1L703.6 485.4L703.9 485.4L704.2 485.6L704.5 485.8L704.7 486.1L705.0 486.4L705.3 486.4L705.5 486.7L705.8 487.0L706.1 487.2L706.4 487.3L706.6 487.7L706.9 487.8L707.2 487.9L707.5 488.2L707.7 488.3L708.0 488.4L708.3 488.6L708.6 488.7L708.8 488.8L709.1 489.0L709.4 489.2L709.6 489.2L709.9 489.3L710.2 489.3L710.5 489.3L710.7 489.4L711.0 489.5L711.3 489.5L711.6 489.5L711.8 489.5L712.1 489.3L712.4 489.4L712.6 489.3L712.9 489.5L713.2 489.6L713.5 489.5L713.7 489.3L714.0 489.4L714.3 489.4L714.5 489.5L714.8 489.4L715.1 489.5L715.3 489.4L715.6 489.5L715.9 489.6L716.2 489.4L716.4 489.5L716.7 489.5L717.0 489.5L717.2 489.6L717.5 489.5L717.8 489.5L718.1 489.5L718.3 489.7L718.6 489.3L718.9 489.5L719.1 489.5L719.4 489.4L719.7 489.4L719.9 489.4L720.2 489.3L720.5 489.2L720.8 489.3L721.0 489.2L721.3 489.3L721.6 489.1L721.8 489.3L722.1 489.1L722.4 489.2L722.6 489.2L722.9 489.2L723.2 489.2L723.5 489.1L723.7 489.2L724.0 489.1L724.3 488.9L724.5 489.1L724.8 489.1L725.1 489.0L725.4 489.1L725.6 489.0L725.9 489.0L726.2 488.9L726.4 489.1L726.7 489.0L727.0 489.0L727.3 488.9L727.5 489.1L727.8 489.1L728.1 489.1L728.3 489.1L728.6 489.3L728.9 489.4L729.2 489.6L729.4 489.5L729.7 489.5L730.0 489.7L730.3 489.5L730.5 489.6L730.8 489.7"/>
<path stroke="#00ffff" stroke-width="3.75" d="M729.4 489.5L729.7 489.5L730.0 489.7L730.3 489.5L730.5 489.6L730.8 489.7L731.1 489.8L731.3 489.8L731.6 490.0L731.9 490.0L732.2 490.2L732.4 490.1L732.7 490.5L733.0 490.5L733.3 490.2L733.5 490.3L733.8 490.3L734.1 490.7L734.3 490.5L734.6 490.6L734.9 490.6L735.2 490.8L735.4 490.7L735.7 490.9L736.0 491.1L736.3 490.7L736.5 491.0L736.8 490.9L737.1 491.1L737.4 491.2L737.6 490.9L737.9 491.0L738.2 491.2L738.4 491.0L738.7 491.2L739.0 491.3L739.0 490.4L739.8 490.6L740.6 491.2L741.4 491.1L742.3 491.0L743.1 491.5L743.9 490.9L744.7 491.5L745.5 491.2L746.4 491.7L747.2 491.3L748.0 491.1L748.8 491.1L749.6 491.4L750.5 492.2L751.3 491.7L752.1 491.5L752.9 491.2L753.7 491.6L754.6 491.3L755.4 491.5L756.2 491.7L757.0 491.1L757.8 491.4"/>
<path stroke="#00ffff" stroke-width="4.6" d="M757.0 491.1L757.8 491.4L758.6 491.6L759.5 491.4L760.3 491.0L761.1 491.5L761.9 491.8L762.7 491.3L763.6 492.2L764.4 491.5L765.2 491.2L766.0 491.4L766.8 491.4L767.7 491.8L768.5 491.8L769.3 491.4L770.1 491.9L770.9 490.9L771.8 491.5L772.6 491.1L773.4 491.1L774.2 491.4L775.0 491.1L775.8 491.3L776.7 491.4L777.5 491.5L778.3 491.6L779.1 491.3L779.9 491.5L780.8 491.9L781.6 491.4L782.4 491.6L783.2 492.1L784.0 491.4L784.9 491.9L785.7 492.0L786.5 491.5L787.3 492.4L788.1 490.9L788.9 492.1L789.8 491.0L790.6 492.3L791.4 491.9L792.2 492.3L793.0 492.1L793.9 492.0L794.7 491.8L795.5 492.2L796.3 491.7L797.1 492.2L798.0 491.4L798.8 491.9L799.6 492.1L800.4 492.0L801.2 491.8L802.1 492.6L802.9 491.9L803.7 492.4L804.5 492.0L805.3 492.0L806.1 492.6L807.0 492.3L807.8 492.4L808.6 492.3L809.4 491.8L810.2 491.6L811.1 491.6L811.9 492.3L812.7 492.5L813.5 492.4L814.3 492.3L815.2 492.0L816.0 492.0L816.8 492.7L817.6 491.9L818.4 492.0L819.3 492.6L820.1 492.7L820.9 492.4L821.7 492.7L822.5 492.5L823.3 492.5L824.2 491.8L825.0 492.1L825.8 492.9L826.6 492.2L827.4 492.7L828.3 492.3L829.1 492.0L829.9 492.1L830.7 492.5L831.5 492.0L832.4 492.4L833.2 492.3L834.0 492.1L834.8 492.3L835.6 492.2L836.5 492.8L837.3 492.7L838.1 492.8L838.9 492.4L839.7 492.6L840.5 492.6L841.4 492.2L842.2 492.8L843.0 492.8L843.8 492.8L844.6 492.7L845.5 492.3L846.3 492.6L847.1 493.2L847.9 493.0L848.7 493.4L849.6 492.5L850.4 492.6L851.2 493.5L852.0 492.8L852.8 493.0L853.7 493.0L854.5 493.1L855.3 492.7L856.1 492.6L856.9 492.9L857.7 492.4L858.6 492.5L859.4 492.7L860.2 492.4L861.0 492.2L861.8 493.2L862.7 492.7L863.5 492.6L864.3 492.6L865.1 492.3L865.9 493.0L866.8 492.7L867.6 493.0L868.4 492.5L869.2 493.3L870.0 493.1L870.8 492.7L871.7 492.7L872.5 493.0L873.3 493.0L874.1 492.5L874.9 493.3L875.8 492.9L876.6 493.4L877.4 492.7L878.2 493.0L879.0 493.3L879.9 492.8L880.7 493.1L881.5 493.0L882.3 492.7L883.1 492.6L884.0 493.0L884.8 493.3L885.6 493.0L886.4 493.4L887.2 492.9L888.0 493.4L888.9 493.2L889.7 493.2L890.5 492.8L891.3 493.0L892.1 493.2L893.0 493.0L893.8 493.2L894.6 493.0L895.4 492.8L896.2 492.9L897.1 493.2L897.9 492.7L898.7 493.0L899.5 493.3L900.3 493.2L901.2 492.9L902.0 493.4L902.8 493.3L903.6 493.3L904.4 493.3L905.2 493.3L906.1 493.2L906.9 492.8L907.7 492.5L908.5 493.3L909.3 493.0L910.2 492.6L911.0 493.1L911.8 493.3"/>
</g>
<g font-size="23" text-anchor="end">
<text x="392.2" y="505.1">0.0</text>
<text x="401.8" y="442.7">1.0E-1</text>
<text x="401.8" y="381.8">2.0E-1</text>
<text x="401.8" y="321.0">3.0E-1</text>
<text x="401.8" y="260.2">4.0E-1</text>
<text x="401.8" y="199.4">5.0E-1</text>
<text x="401.8" y="138.5">6.0E-1</text>
</g>
<g font-size="23" text-anchor="middle">
<text x="473.3" y="520.3">195</text>
<text x="541.5" y="520.3">200</text>
<text x="609.8" y="520.3">205</text>
<text x="678.0" y="520.3">210</text>
<text x="746.2" y="520.3">215</text>
<text x="814.5" y="520.3">220</text>
<text x="882.8" y="520.3">225</text>
</g>
</svg>
</body>
</html>
